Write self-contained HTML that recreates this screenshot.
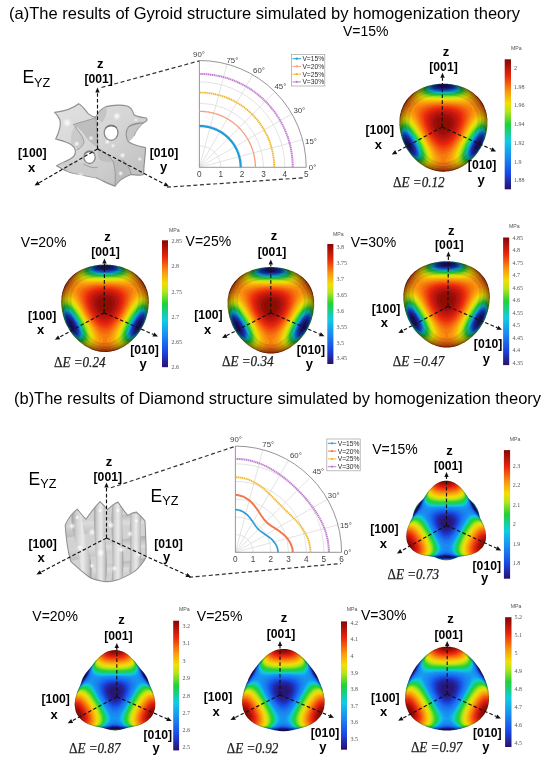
<!DOCTYPE html>
<html><head><meta charset="utf-8"><title>Gyroid and Diamond homogenization results</title>
<style>html,body{margin:0;padding:0;background:#fff}svg{display:block}</style>
</head><body>
<svg width="550" height="763" viewBox="0 0 550 763" font-family="'Liberation Sans', Arial, sans-serif">
<defs><linearGradient id="jetg" x1="0" y1="0" x2="0" y2="1"><stop offset="0.0000" stop-color="#850505"/><stop offset="0.1300" stop-color="#eb260d"/><stop offset="0.2500" stop-color="#fa990d"/><stop offset="0.3400" stop-color="#f2de05"/><stop offset="0.4000" stop-color="#b8e61a"/><stop offset="0.5000" stop-color="#1fd138"/><stop offset="0.6300" stop-color="#0fcce6"/><stop offset="0.7500" stop-color="#1a8cf2"/><stop offset="0.8800" stop-color="#1a47e6"/><stop offset="1.0000" stop-color="#290f6b"/></linearGradient>
<clipPath id="c0"><path transform="translate(393.125,77.125) scale(0.25)" d="M183,26l-1,1-8,0-1,1-12,1-1,1-4,0-1,1-15,3-20,7-7,4-2,0-27,16-10,8-14,14-8,10-10,16-11,27 0,3-3,9 0,4-1,1 0,6-1,1-1,33 1,1 0,10 1,1 0,6 1,1 1,10 1,1 2,11 2,4 0,3 7,19 13,26 21,29 22,22 10,8 20,13 14,7 19,7 3,0 9,3 11,1 1,1 22,1 1-1 18-1 1-1 13-2 20-7 20-10 11-7 19-15 16-16 10-12 17-26 8-16 0-2 8-19 0-3 2-4 0-3 2-4 0-4 2-5 0-5 2-7 0-7 1-1 0-37-1-1-1-12-1-1 0-4-3-8 0-3-6-14 0-2-6-12-7-11-13-16-22-19-14-9-18-9-26-9-17-3-1-1-4,0-1-1-16-1-1-1z"/></clipPath><filter id="fb0" x="-10%" y="-10%" width="120%" height="120%"><feGaussianBlur stdDeviation="0.75"/></filter>
<clipPath id="c1"><path transform="translate(54.125,258.125) scale(0.25)" d="M180,26l-1,1-7,0-1,1-11,1-5,2-12,2-28,10-14,7-16,10-10,8-15,15-14,20-6,12-7,20-2,13-1,1-1,19-1,1 1,26 1,1 0,7 1,1 1,11 1,1 3,15 2,4 0,3 7,19 7,15 2,2 6,12 11,16 9,11 20,20 24,18 27,14 15,5 3,0 9,3 5,0 1,1 30,1 1-1 8,0 1-1 5,0 1-1 11-2 15-5 22-11 18-12 11-9 20-20 9-11 11-16 6-12 2-2 7-15 7-19 0-3 2-4 0-3 4-13 0-5 2-7 0-7 1-1 0-12 1-1-1-26-1-1 0-6-1-1-1-9-4-14-2-3-2-7-9-17-11-15-15-15-19-14-21-11-2,0-8-4-18-6-12-2-5-2-5,0-7-2-7,0-1-1-12,0-1-1z"/></clipPath><filter id="fb1" x="-10%" y="-10%" width="120%" height="120%"><feGaussianBlur stdDeviation="0.75"/></filter>
<clipPath id="c2"><path transform="translate(221.125,260.125) scale(0.25)" d="M174,28l-1,1-13,1-1,1-4,0-1,1-4,0-1,1-11,2-4,2-3,0-9,3-17,8-2,0-16,9-14,10-19,19-11,16-7,14-5,14-3,17-1,1 0,7-1,1 0,34 1,1 0,8 1,1 1,11 1,1 0,4 1,1 2,11 11,31 9,18 13,20 13,16 17,17 12,10 16,11 21,11 2,0 8,4 14,4 9,1 1,1 7,0 1,1 24,0 1-1 7,0 1-1 9-1 19-6 19-9 10-6 26-20 14-14 17-21 9-14 9-17 0-2 4-7 8-23 0-3 4-13 0-4 1-1 1-12 1-1 0-8 1-1 0-30-1-1 0-7-1-1 0-5-1-1-2-12-7-19-7-13-10-14-17-17-20-14-20-10-10-3-3-2-25-7-9-1-1-1-13-1-1-1-10,0-1-1-28,0-1,1z"/></clipPath><filter id="fb2" x="-10%" y="-10%" width="120%" height="120%"><feGaussianBlur stdDeviation="0.75"/></filter>
<clipPath id="c3"><path transform="translate(397.125,254.125) scale(0.25)" d="M182,28l-1,1-9,0-1,1-7,0-1,1-15,2-1,1-11,2-28,10-18,9-20,14-16,16-12,17-7,14-6,18-1,8-1,1 0,5-1,1 0,7-1,1 0,30 1,1 0,8 1,1 0,6 1,1 0,5 3,10 0,4 2,4 0,3 2,4 2,9 2,3 4,12 13,25 14,20 13,15 27,24 20,13 14,7 2,0 14,6 3,0 9,3 4,0 1,1 7,0 1,1 26,0 1-1 6,0 1-1 9-1 16-5 25-12 15-10 16-13 17-17 13-16 13-20 9-18 11-31 0-3 3-9 0-4 1-1 0-4 1-1 1-14 1-1 0-13 1-1-1-24-1-1-1-11-6-21-7-15-6-10-18-21-12-10-12-8-15-8-2,0-15-7-28-8-15-2-1-1-6,0-1-1-10,0-1-1z"/></clipPath><filter id="fb3" x="-10%" y="-10%" width="120%" height="120%"><feGaussianBlur stdDeviation="0.75"/></filter>
<clipPath id="c4"><path transform="translate(399.125,474.125) scale(0.25)" d="M181,26l-1,1-5,0-13,4-12,6-11,8-17,17-8,10-18,27-17,16-9,11-10,19-5,18-1,8-12,23 0,2-7,15-5,18-2,22 1,1 0,9 1,1 1,8 3,6 0,2 6,11 15,16 14,9 14,6 18,5 40,6 20,9 3,0 8,3 5,0 1,1 20,0 1-1 5,0 14-4 21-9 11-1 1-1 7,0 1-1 11-1 1-1 4,0 1-1 11-2 14-6 2,0 14-8 17-16 9-16 4-14 1-20-1-1-1-13-7-23-16-32-4-19-4-12-11-19-5-6-19-18-21-31-11-13-12-11-15-10-15-6-4,0-6-2z"/></clipPath><filter id="fb4" x="-10%" y="-10%" width="120%" height="120%"><feGaussianBlur stdDeviation="0.75"/></filter>
<clipPath id="c5"><path transform="translate(68.125,643.125) scale(0.25)" d="M185,27l-1,1-9,0-1,1-4,0-4,2-6,1-11,5-19,13-20,20-21,28-19,22-8,12-5,10-8,24-13,29-8,28-1,14-1,1 0,12 1,1 0,8 1,1 1,8 3,9 5,10 7,10 12,12 15,10 15,7 23,7 4,0 1,1 13,2 1,1 5,0 34,10 14,1 1,1 11,0 1-1 14-1 34-10 5,0 1-1 9-1 1-1 19-4 17-6 21-12 16-15 7-10 5-10 5-18 1-21-1-1 0-8-1-1-1-10-7-23-13-29-8-24-5-10-8-12-15-17-25-33-25-24-14-9-11-5-6-1-4-2-4,0-1-1z"/></clipPath><filter id="fb5" x="-10%" y="-10%" width="120%" height="120%"><feGaussianBlur stdDeviation="0.75"/></filter>
<clipPath id="c6"><path transform="translate(235.125,643.125) scale(0.25)" d="M182,23l-1,1-10,1-15,5-20,11-13,10-22,22-32,41-8,13-9,18 0,2-9,20-9,26 0,3-3,9 0,4-1,1-1,13-1,1 0,22 1,1 0,6 1,1 2,12 10,22 8,11 11,11 15,11 25,12 34,10 4,0 9,3 4,0 5,2 15,2 1,1 8,0 1,1 22,0 1-1 8,0 1-1 5,0 1-1 9-1 5-2 4,0 5-2 4,0 38-11 20-9 19-13 16-17 6-9 6-13 4-13 1-11 1-1 0-25-1-1 0-6-1-1-1-10-4-12 0-3-4-12-2-3-1-5-9-20 0-2-4-7 0-2-8-15-10-15-27-34-14-15-15-13-15-10-12-6-11-4-3,0-5-2-5,0-1-1z"/></clipPath><filter id="fb6" x="-10%" y="-10%" width="120%" height="120%"><feGaussianBlur stdDeviation="0.75"/></filter>
<clipPath id="c7"><path transform="translate(398.125,640.125) scale(0.25)" d="M191,25l-1,1-15,1-1,1-11,2-11,5-2,0-15,8-22,16-23,23-17,21-12,18-14,27-12,33 0,3-3,8-2,14-1,1 0,7-1,1 0,31 1,1 0,6 1,1 0,4 3,8 0,3 10,22 10,14 15,15 17,12 15,8 2,0 15,7 32,9 4,0 1,1 4,0 6,2 6,0 1,1 8,0 1,1 32,0 1-1 14-1 1-1 5,0 10-3 4,0 30-9 26-12 14-9 11-9 15-17 6-9 8-17 5-18 0-5 1-1 1-27-1-1-1-16-1-1 0-4-1-1 0-4-1-1-2-11-8-24-3-5-3-9-17-31-22-29-8-9-20-19-23-16-14-7-14-5-13-2-1-1z"/></clipPath><filter id="fb7" x="-10%" y="-10%" width="120%" height="120%"><feGaussianBlur stdDeviation="0.75"/></filter>
<linearGradient id="gy1" x1="0" y1="0" x2="1" y2="1"><stop offset="0" stop-color="#e2e2e2"/><stop offset="0.5" stop-color="#d4d4d4"/><stop offset="1" stop-color="#bcbcbc"/></linearGradient>
<radialGradient id="hl" cx="0.5" cy="0.5" r="0.5"><stop offset="0" stop-color="#fff" stop-opacity="0.95"/><stop offset="1" stop-color="#fff" stop-opacity="0"/></radialGradient>
<linearGradient id="dsh" x1="0" y1="0" x2="1" y2="0"><stop offset="0" stop-color="#9c9c9c"/><stop offset="0.25" stop-color="#d0d0d0"/><stop offset="0.55" stop-color="#ececec"/><stop offset="0.85" stop-color="#c4c4c4"/><stop offset="1" stop-color="#8e8e8e"/></linearGradient>
<linearGradient id="dsv" x1="0" y1="0" x2="0" y2="1"><stop offset="0" stop-color="#a0a0a0"/><stop offset="0.4" stop-color="#dedede"/><stop offset="1" stop-color="#b0b0b0"/></linearGradient></defs>
<rect width="550" height="763" fill="#fff"/>
<text x="9.0" y="19.0" font-size="16.5" textLength="511" lengthAdjust="spacingAndGlyphs">(a)The results of Gyroid structure simulated by homogenization theory</text>
<text x="14.0" y="403.9" font-size="16.5" textLength="527" lengthAdjust="spacingAndGlyphs">(b)The results of Diamond structure simulated by homogenization theory</text>
<text x="343.0" y="36.1" font-size="14.0">V=15%</text>
<text x="20.8" y="246.5" font-size="14.0">V=20%</text>
<text x="185.6" y="246.3" font-size="14.0">V=25%</text>
<text x="350.7" y="246.8" font-size="14.0">V=30%</text>
<text x="372.2" y="453.8" font-size="14.0">V=15%</text>
<text x="32.3" y="620.8" font-size="14.0">V=20%</text>
<text x="196.8" y="620.8" font-size="14.0">V=25%</text>
<text x="361.0" y="620.4" font-size="14.0">V=30%</text>
<text x="22.4" y="83.0" font-size="17.5">E<tspan font-size="12.6" dy="3.6">YZ</tspan></text>
<text x="28.6" y="484.7" font-size="17.5">E<tspan font-size="12.6" dy="3.6">YZ</tspan></text>
<text x="150.6" y="501.8" font-size="17.5">E<tspan font-size="12.6" dy="3.6">YZ</tspan></text>
<rect x="504.7" y="59.3" width="6.3" height="130.0" fill="url(#jetg)"/>
<text x="511.0" y="50.2" font-size="5.2" fill="#555">MPa</text>
<text x="514.0" y="70.3" font-size="6.0" font-family="'Liberation Serif', 'Times New Roman', serif" fill="#555">2</text>
<text x="514.0" y="89.2" font-size="6.0" font-family="'Liberation Serif', 'Times New Roman', serif" fill="#555">1.98</text>
<text x="514.0" y="107.4" font-size="6.0" font-family="'Liberation Serif', 'Times New Roman', serif" fill="#555">1.96</text>
<text x="514.0" y="126.3" font-size="6.0" font-family="'Liberation Serif', 'Times New Roman', serif" fill="#555">1.94</text>
<text x="514.0" y="145.1" font-size="6.0" font-family="'Liberation Serif', 'Times New Roman', serif" fill="#555">1.92</text>
<text x="514.0" y="163.6" font-size="6.0" font-family="'Liberation Serif', 'Times New Roman', serif" fill="#555">1.9</text>
<text x="514.0" y="182.0" font-size="6.0" font-family="'Liberation Serif', 'Times New Roman', serif" fill="#555">1.88</text>
<rect x="162.0" y="240.3" width="6.0" height="126.9" fill="url(#jetg)"/>
<text x="169.0" y="231.6" font-size="5.2" fill="#555">MPa</text>
<text x="171.6" y="243.0" font-size="6.0" font-family="'Liberation Serif', 'Times New Roman', serif" fill="#555">2.85</text>
<text x="171.6" y="268.0" font-size="6.0" font-family="'Liberation Serif', 'Times New Roman', serif" fill="#555">2.8</text>
<text x="171.6" y="294.0" font-size="6.0" font-family="'Liberation Serif', 'Times New Roman', serif" fill="#555">2.75</text>
<text x="171.6" y="319.0" font-size="6.0" font-family="'Liberation Serif', 'Times New Roman', serif" fill="#555">2.7</text>
<text x="171.6" y="344.0" font-size="6.0" font-family="'Liberation Serif', 'Times New Roman', serif" fill="#555">2.65</text>
<text x="171.6" y="369.4" font-size="6.0" font-family="'Liberation Serif', 'Times New Roman', serif" fill="#555">2.6</text>
<rect x="327.3" y="244.0" width="6.1" height="120.0" fill="url(#jetg)"/>
<text x="333.0" y="236.0" font-size="5.2" fill="#555">MPa</text>
<text x="336.5" y="249.2" font-size="6.0" font-family="'Liberation Serif', 'Times New Roman', serif" fill="#555">3.8</text>
<text x="336.5" y="265.4" font-size="6.0" font-family="'Liberation Serif', 'Times New Roman', serif" fill="#555">3.75</text>
<text x="336.5" y="281.3" font-size="6.0" font-family="'Liberation Serif', 'Times New Roman', serif" fill="#555">3.7</text>
<text x="336.5" y="297.0" font-size="6.0" font-family="'Liberation Serif', 'Times New Roman', serif" fill="#555">3.65</text>
<text x="336.5" y="313.0" font-size="6.0" font-family="'Liberation Serif', 'Times New Roman', serif" fill="#555">3.6</text>
<text x="336.5" y="328.8" font-size="6.0" font-family="'Liberation Serif', 'Times New Roman', serif" fill="#555">3.55</text>
<text x="336.5" y="344.5" font-size="6.0" font-family="'Liberation Serif', 'Times New Roman', serif" fill="#555">3.5</text>
<text x="336.5" y="360.2" font-size="6.0" font-family="'Liberation Serif', 'Times New Roman', serif" fill="#555">3.45</text>
<rect x="503.1" y="237.5" width="6.1" height="127.6" fill="url(#jetg)"/>
<text x="509.0" y="228.3" font-size="5.2" fill="#555">MPa</text>
<text x="512.5" y="239.5" font-size="6.0" font-family="'Liberation Serif', 'Times New Roman', serif" fill="#555">4.85</text>
<text x="512.5" y="251.9" font-size="6.0" font-family="'Liberation Serif', 'Times New Roman', serif" fill="#555">4.8</text>
<text x="512.5" y="264.5" font-size="6.0" font-family="'Liberation Serif', 'Times New Roman', serif" fill="#555">4.75</text>
<text x="512.5" y="277.0" font-size="6.0" font-family="'Liberation Serif', 'Times New Roman', serif" fill="#555">4.7</text>
<text x="512.5" y="289.6" font-size="6.0" font-family="'Liberation Serif', 'Times New Roman', serif" fill="#555">4.65</text>
<text x="512.5" y="302.0" font-size="6.0" font-family="'Liberation Serif', 'Times New Roman', serif" fill="#555">4.6</text>
<text x="512.5" y="314.7" font-size="6.0" font-family="'Liberation Serif', 'Times New Roman', serif" fill="#555">4.55</text>
<text x="512.5" y="327.2" font-size="6.0" font-family="'Liberation Serif', 'Times New Roman', serif" fill="#555">4.5</text>
<text x="512.5" y="339.8" font-size="6.0" font-family="'Liberation Serif', 'Times New Roman', serif" fill="#555">4.45</text>
<text x="512.5" y="352.3" font-size="6.0" font-family="'Liberation Serif', 'Times New Roman', serif" fill="#555">4.4</text>
<text x="512.5" y="365.0" font-size="6.0" font-family="'Liberation Serif', 'Times New Roman', serif" fill="#555">4.35</text>
<rect x="503.9" y="450.1" width="6.2" height="128.6" fill="url(#jetg)"/>
<text x="509.7" y="440.8" font-size="5.2" fill="#555">MPa</text>
<text x="512.8" y="467.7" font-size="6.0" font-family="'Liberation Serif', 'Times New Roman', serif" fill="#555">2.3</text>
<text x="512.8" y="487.3" font-size="6.0" font-family="'Liberation Serif', 'Times New Roman', serif" fill="#555">2.2</text>
<text x="512.8" y="506.7" font-size="6.0" font-family="'Liberation Serif', 'Times New Roman', serif" fill="#555">2.1</text>
<text x="512.8" y="526.0" font-size="6.0" font-family="'Liberation Serif', 'Times New Roman', serif" fill="#555">2</text>
<text x="512.8" y="545.7" font-size="6.0" font-family="'Liberation Serif', 'Times New Roman', serif" fill="#555">1.9</text>
<text x="512.8" y="565.3" font-size="6.0" font-family="'Liberation Serif', 'Times New Roman', serif" fill="#555">1.8</text>
<rect x="173.2" y="620.7" width="5.9" height="129.7" fill="url(#jetg)"/>
<text x="179.0" y="611.4" font-size="5.2" fill="#555">MPa</text>
<text x="182.4" y="628.3" font-size="6.0" font-family="'Liberation Serif', 'Times New Roman', serif" fill="#555">3.2</text>
<text x="182.4" y="645.4" font-size="6.0" font-family="'Liberation Serif', 'Times New Roman', serif" fill="#555">3.1</text>
<text x="182.4" y="663.0" font-size="6.0" font-family="'Liberation Serif', 'Times New Roman', serif" fill="#555">3</text>
<text x="182.4" y="680.0" font-size="6.0" font-family="'Liberation Serif', 'Times New Roman', serif" fill="#555">2.9</text>
<text x="182.4" y="697.6" font-size="6.0" font-family="'Liberation Serif', 'Times New Roman', serif" fill="#555">2.8</text>
<text x="182.4" y="714.7" font-size="6.0" font-family="'Liberation Serif', 'Times New Roman', serif" fill="#555">2.7</text>
<text x="182.4" y="732.0" font-size="6.0" font-family="'Liberation Serif', 'Times New Roman', serif" fill="#555">2.6</text>
<text x="182.4" y="749.2" font-size="6.0" font-family="'Liberation Serif', 'Times New Roman', serif" fill="#555">2.5</text>
<rect x="341.0" y="621.4" width="6.0" height="128.3" fill="url(#jetg)"/>
<text x="346.8" y="611.4" font-size="5.2" fill="#555">MPa</text>
<text x="350.6" y="624.5" font-size="6.0" font-family="'Liberation Serif', 'Times New Roman', serif" fill="#555">4.2</text>
<text x="350.6" y="641.1" font-size="6.0" font-family="'Liberation Serif', 'Times New Roman', serif" fill="#555">4.1</text>
<text x="350.6" y="658.0" font-size="6.0" font-family="'Liberation Serif', 'Times New Roman', serif" fill="#555">4</text>
<text x="350.6" y="674.7" font-size="6.0" font-family="'Liberation Serif', 'Times New Roman', serif" fill="#555">3.9</text>
<text x="350.6" y="691.4" font-size="6.0" font-family="'Liberation Serif', 'Times New Roman', serif" fill="#555">3.8</text>
<text x="350.6" y="707.9" font-size="6.0" font-family="'Liberation Serif', 'Times New Roman', serif" fill="#555">3.7</text>
<text x="350.6" y="724.4" font-size="6.0" font-family="'Liberation Serif', 'Times New Roman', serif" fill="#555">3.6</text>
<text x="350.6" y="740.6" font-size="6.0" font-family="'Liberation Serif', 'Times New Roman', serif" fill="#555">3.5</text>
<rect x="505.1" y="617.2" width="6.4" height="129.8" fill="url(#jetg)"/>
<text x="510.8" y="608.1" font-size="5.2" fill="#555">MPa</text>
<text x="514.6" y="619.2" font-size="6.0" font-family="'Liberation Serif', 'Times New Roman', serif" fill="#555">5.2</text>
<text x="514.6" y="637.3" font-size="6.0" font-family="'Liberation Serif', 'Times New Roman', serif" fill="#555">5.1</text>
<text x="514.6" y="655.0" font-size="6.0" font-family="'Liberation Serif', 'Times New Roman', serif" fill="#555">5</text>
<text x="514.6" y="672.5" font-size="6.0" font-family="'Liberation Serif', 'Times New Roman', serif" fill="#555">4.9</text>
<text x="514.6" y="690.6" font-size="6.0" font-family="'Liberation Serif', 'Times New Roman', serif" fill="#555">4.8</text>
<text x="514.6" y="708.7" font-size="6.0" font-family="'Liberation Serif', 'Times New Roman', serif" fill="#555">4.7</text>
<text x="514.6" y="726.8" font-size="6.0" font-family="'Liberation Serif', 'Times New Roman', serif" fill="#555">4.6</text>
<text x="514.6" y="744.5" font-size="6.0" font-family="'Liberation Serif', 'Times New Roman', serif" fill="#555">4.5</text>
<g clip-path="url(#c0)"><g filter="url(#fb0)"><g transform="translate(393.125,77.125) scale(0.25)"><path d="M183,14l-22,3-21,5-15,5-20,9-21,13-10,8-26,26-18,26-11,27-5,24-1,33 4,29 5,19 7,19 13,26 21,29 34,34 17,13 13,8 14,7 19,7 24,5 22,1 33-5 20-7 20-10 30-22 34-35 21-31 8-16 8-21 6-23 3-20 0-37-3-18-5-17-13-27-17-22-18-18-16-13-14-9-18-9-26-9-23-5-17-2z" fill="#271476"/><path d="M183,14l-22,3-21,5-15,5-20,9-21,13-10,8-26,26-18,26-11,27-5,24-1,33 4,29 5,19 7,19 13,26 21,29 34,34 17,13 13,8 14,7 19,7 24,5 22,1 33-5 20-7 20-10 30-22 34-35 21-31 8-16 8-21 6-23 3-20 0-37-3-18-5-17-13-27-17-22-18-18-16-13-14-9-18-9-26-9-23-5-17-2zM347,256l2,2 0,6-5,12-9,10-4,1-2-2 0-7 3-8 10-13zM55,256l4,0 10,11 5,13 0,4-2,3-3,0-3-2-9-12-3-8zM184,36l3-3 6-2 16,0 5,1 4,3-2,4-6,2-17,0-6-2z" fill="#251e8b"/><path d="M183,14l-22,3-21,5-15,5-20,9-21,13-10,8-26,26-18,26-11,27-5,24-1,33 4,29 5,19 7,19 13,26 21,29 34,34 17,13 13,8 14,7 19,7 24,5 22,1 33-5 20-7 20-10 30-22 34-35 21-31 8-16 8-21 6-23 3-20 0-37-3-18-5-17-13-27-17-22-18-18-16-13-14-9-18-9-26-9-23-5-17-2zM350,249l3,6-1,7-7,16-11,13-7,2-3-4 0-5 2-8 6-12 11-13zM53,249l3,0 5,3 12,16 5,13 0,9-3,3-5-1-9-9-4-6-7-18 0-6zM177,36l3-3 5-2 20-2 16,3 4,3 0,3-10,5-20,1-14-3z" fill="#2228a0"/><path d="M183,14l-22,3-21,5-15,5-20,9-21,13-10,8-26,26-18,26-11,27-5,24-1,33 4,29 5,19 7,19 13,26 21,29 34,34 17,13 13,8 14,7 19,7 24,5 22,1 33-5 20-7 20-10 30-22 34-35 21-31 8-16 8-21 6-23 3-20 0-37-3-18-5-17-13-27-17-22-18-18-16-13-14-9-18-9-26-9-23-5-17-2zM352,244l3,4 0,9-3,10-6,12-15,17-5,2-3-1-2-3 0-11 8-19 6-9 9-9 4-2zM51,244l4,0 5,3 13,16 6,12 3,10 0,8-4,5-8-3-7-7-7-10-5-10-4-15 1-6zM172,36l3-3 7-3 23-2 21,4 5,4 0,2-4,4-5,2-12,2-18,0-14-3-6-4z" fill="#2031b5"/><path d="M183,14l-22,3-21,5-15,5-20,9-21,13-10,8-26,26-18,26-11,27-5,24-1,33 4,29 5,19 7,19 13,26 21,29 34,34 17,13 13,8 14,7 19,7 24,5 22,1 33-5 20-7 20-10 30-22 34-35 21-31 8-16 8-21 6-23 3-20 0-37-3-18-5-17-13-27-17-22-18-18-16-13-14-9-18-9-26-9-23-5-17-2zM352,239l5,5 0,11-3,10-8,16-10,13-7,6-6,2-5-4-1-3 1-11 3-9 7-14 7-10 9-9zM50,239l7,2 9,8 13,20 6,17 0,11-5,5-9-4-8-8-7-10-7-14-3-10-1-10 1-3zM167,37l4-4 11-4 33-1 10,2 7,3 3,3 0,4-8,5-9,2-26,1-19-4-6-5z" fill="#1d3bcb"/><path d="M183,14l-22,3-21,5-15,5-20,9-21,13-10,8-26,26-18,26-11,27-5,24-1,33 4,29 5,19 7,19 13,26 21,29 34,34 17,13 13,8 14,7 19,7 24,5 22,1 33-5 20-7 20-10 30-22 34-35 21-31 8-16 8-21 6-23 3-20 0-37-3-18-5-17-13-27-17-22-18-18-16-13-14-9-18-9-26-9-23-5-17-2zM356,236l3,5 0,10-4,14-8,16-7,10-11,11-6,3-4,0-4-4-1-9 5-18 6-12 7-11 10-11 9-5zM47,236l5-1 6,3 11,11 8,12 7,14 4,13 0,12-3,4-6,1-8-5-6-6-10-14-7-14-4-13-1-9zM163,40l0-3 8-6 20-4 20,0 14,2 9,3 6,6-5,6-4,2-23,4-29-2-10-3z" fill="#1a45e0"/><path d="M183,14l-22,3-21,5-15,5-20,9-21,13-10,8-26,26-18,26-11,27-5,24-1,33 4,29 5,19 7,19 13,26 21,29 34,34 17,13 13,8 14,7 19,7 24,5 22,1 33-5 20-7 20-10 30-22 34-35 21-31 8-16 8-21 6-23 3-20 0-37-3-18-5-17-13-27-17-22-18-18-16-13-14-9-18-9-26-9-23-5-17-2zM354,231l6,5 1,3-1,13-5,15-9,17-8,11-12,11-4,2-5,0-4-3-2-9 2-11 6-16 15-24 9-9 6-4zM46,232l3-1 4,1 8,5 10,11 9,14 7,15 4,14 0,11-5,6-5,0-6-3-12-12-10-15-7-15-4-14 0-11zM159,38l5-5 15-5 38-1 15,3 7,3 4,4 0,4-8,6-11,3-39,1-15-3-6-3-5-5z" fill="#1a50e7"/><path d="M183,14l-22,3-21,5-15,5-20,9-21,13-10,8-26,26-18,26-11,27-5,24-1,33 4,29 5,19 7,19 13,26 21,29 34,34 17,13 13,8 14,7 19,7 24,5 22,1 33-5 20-7 20-10 30-22 34-35 21-31 8-16 8-21 6-23 3-20 0-37-3-18-5-17-13-27-17-22-18-18-16-13-14-9-18-9-26-9-23-5-17-2zM357,230l3,3 2,6-1,11-4,13-7,15-10,15-9,10-5,4-7,3-6-2-3-6 0-9 4-15 8-17 9-14 11-12 8-5zM46,230l7,0 5,3 12,12 10,15 7,14 5,15 1,11-2,6-3,3-4,1-10-5-13-14-10-16-5-11-5-17 0-10 1-3zM157,39l5-6 7-3 15-3 24-1 17,2 11,3 8,5 1,5-9,7-12,3-38,1-19-4-6-3z" fill="#1a5be9"/><path d="M183,14l-22,3-21,5-15,5-20,9-21,13-10,8-26,26-18,26-11,27-5,24-1,33 4,29 5,19 7,19 13,26 21,29 34,34 17,13 13,8 14,7 19,7 24,5 22,1 33-5 20-7 20-10 30-22 34-35 21-31 8-16 8-21 6-23 3-20 0-37-3-18-5-17-13-27-17-22-18-18-16-13-14-9-18-9-26-9-23-5-17-2zM357,228l5,6 0,14-10,27-13,20-12,12-7,4-6,0-5-6 0-14 5-16 9-18 16-21 9-7zM44,229l8-1 7,4 14,15 10,16 6,13 5,17 0,10-4,7-7,1-10-6-11-12-8-12-10-21-4-16 1-11zM156,38l5-5 10-4 20-3 20,0 16,2 11,3 9,7 0,3-3,4-5,3-15,4-38,1-20-4-6-3-4-4z" fill="#1a66eb"/><path d="M183,14l-22,3-21,5-15,5-20,9-21,13-10,8-26,26-18,26-11,27-5,24-1,33 4,29 5,19 7,19 13,26 21,29 34,34 17,13 13,8 14,7 19,7 24,5 22,1 33-5 20-7 20-10 30-22 34-35 21-31 8-16 8-21 6-23 3-20 0-37-3-18-5-17-13-27-17-22-18-18-16-13-14-9-18-9-26-9-23-5-17-2zM359,227l4,7 0,11-6,20-8,16-12,17-10,10-10,5-5-1-3-3-2-5 0-9 5-18 7-15 10-16 15-16 7-4zM45,226l6,0 9,5 12,13 11,17 8,17 4,14 0,14-5,6-4,1-9-4-13-13-11-16-9-19-4-14-1-8 1-7zM154,38l7-6 13-4 15-2 25,0 25,5 6,3 3,3 1,4-5,6-14,5-14,2-29,0-24-5-9-7z" fill="#1a71ed"/><path d="M183,14l-22,3-21,5-15,5-20,9-21,13-10,8-26,26-18,26-11,27-5,24-1,33 4,29 5,19 7,19 13,26 21,29 34,34 17,13 13,8 14,7 19,7 24,5 22,1 33-5 20-7 20-10 30-22 34-35 21-31 8-16 8-21 6-23 3-20 0-37-3-18-5-17-13-27-17-22-18-18-16-13-14-9-18-9-26-9-23-5-17-2zM359,225l4,5 1,11-4,17-9,20-12,18-10,11-9,6-8,1-5-5-1-3 0-12 3-12 10-22 11-17 12-13 10-6zM46,224l7,1 11,8 18,24 10,21 5,18 0,9-2,5-3,3-7,1-9-5-14-15-11-17-8-18-4-15 0-12 1-3zM152,39l6-6 15-5 13-2 30,0 24,5 6,3 4,4 1,3-8,8-13,4-15,2-27,0-26-5-9-6z" fill="#1a7cef"/><path d="M183,14l-22,3-21,5-15,5-20,9-21,13-10,8-26,26-18,26-11,27-5,24-1,33 4,29 5,19 7,19 13,26 21,29 34,34 17,13 13,8 14,7 19,7 24,5 22,1 33-5 20-7 20-10 30-22 34-35 21-31 8-16 8-21 6-23 3-20 0-37-3-18-5-17-13-27-17-22-18-18-16-13-14-9-18-9-26-9-23-5-17-2zM359,223l5,6 0,16-6,19-9,18-11,16-13,13-7,4-8,0-4-4-2-7 1-11 6-19 9-18 11-16 9-10 8-6 6-2zM42,224l7-2 10,5 11,11 12,17 10,20 5,15 1,17-4,7-9,1-11-7-11-12-10-15-10-21-5-19 0-9zM150,40l5-6 12-5 18-3 33,0 13,2 13,4 7,5 1,6-5,5-17,6-17,2-24,0-16-2-14-4-8-6z" fill="#1a87f1"/><path d="M183,14l-22,3-21,5-15,5-20,9-21,13-10,8-26,26-18,26-11,27-5,24-1,33 4,29 5,19 7,19 13,26 21,29 34,34 17,13 13,8 14,7 19,7 24,5 22,1 33-5 20-7 20-10 30-22 34-35 21-31 8-16 8-21 6-23 3-20 0-37-3-18-5-17-13-27-17-22-18-18-16-13-14-9-18-9-19-7-30-7-17-2-16,0 0,12 17,0 23,5 6,3 4,4 1,5-2,3-10,6-7,2-24,3-20,0-27-4-8-3-7-6 0-5 5-5 16-6 13-2 16,0 0-12zM359,221l5,5 1,3 0,12-4,16-10,22-12,18-12,13-7,5-6,2-5-1-4-4-2-5 0-10 6-21 6-13 13-21 16-17 7-4zM42,222l9-1 10,6 12,13 13,20 8,17 5,16 1,8-2,11-4,4-6,1-10-5-13-13-14-21-9-20-4-14-1-9 1-7z" fill="#1992f1"/><path d="M183,14l-22,3-21,5-15,5-20,9-21,13-10,8-26,26-18,26-11,27-5,24-1,33 4,29 5,19 7,19 13,26 21,29 34,34 17,13 13,8 14,7 19,7 24,5 22,1 33-5 20-7 20-10 30-22 34-35 21-31 8-16 8-21 6-23 3-20 0-37-3-18-5-17-13-27-17-22-18-18-16-13-14-9-18-9-19-7-30-7-27-2 0,12 11,0 1-2 1,3 11,1 17,6 6,7-4,7-7,4-10,3-27,3-28-1-16-3-12-5-4-4-1-5 7-7 11-4 16-2 1-2 1,1 11,0 0-12zM359,219l5,5 2,6-1,14-6,19-10,20-12,17-13,13-9,5-8-1-3-3-2-5 0-13 4-15 10-22 13-20 13-14 8-5zM42,220l8-1 8,4 14,14 14,21 11,24 4,16 0,10-2,5-6,5-8-1-10-7-11-12-11-16-11-23-5-19 0-12 2-5z" fill="#179def"/><path d="M183,14l-22,3-21,5-15,5-20,9-21,13-10,8-26,26-18,26-11,27-5,24-1,33 4,29 5,19 7,19 13,26 21,29 34,34 17,13 13,8 14,7 19,7 24,5 22,1 33-5 20-7 20-10 30-22 34-35 21-31 8-16 8-21 6-23 3-20 0-37-3-18-5-17-13-27-17-22-18-18-16-13-14-9-18-9-19-7-30-7-25-2 0,12 9,0 2-4 1,5 6,0 13,3 12,6 3,4 0,4-4,5-10,5-21,4-41,0-18-3-12-5-5-5-1-3 1-3 9-7 13-4 12-1 1-3 2,2 8,0 0-12zM360,218l5,5 1,3 0,14-6,21-9,19-12,18-13,14-12,7-8-1-4-4-2-8 1-12 7-21 8-16 11-17 11-13 13-9 3-1zM42,218l3-1 7,1 8,5 15,16 11,17 11,23 5,18 0,13-2,5-3,3-9,1-9-5-17-18-12-19-9-20-5-21 1-11z" fill="#15a8ed"/><path d="M183,14l-22,3-21,5-15,5-20,9-21,13-10,8-26,26-18,26-11,27-5,24-1,33 4,29 5,19 7,19 13,26 21,29 34,34 17,13 13,8 14,7 19,7 24,5 22,1 33-5 20-7 20-10 30-22 34-35 21-31 8-16 8-21 6-23 3-20 0-37-3-18-5-17-13-27-17-22-18-18-16-13-14-9-18-9-19-7-30-7-23-2 0,12 7,0 3-8 1,9 6,0 13,3 11,5 4,4 1,3-1,4-4,4-11,5-22,4-39,0-19-3-13-5-5-5-1-6 6-6 13-5 9-1 1-2 5,1 1-9 4,8 6,0 0-12zM360,216l6,7 1,13-6,23-11,23-13,19-14,14-9,5-8,0-6-7-1-14 4-16 13-28 15-22 12-12 9-5zM41,217l10-1 11,7 12,13 12,18 11,22 6,20 1,7-1,9-6,8-9,0-12-8-12-13-12-18-10-21-6-21 0-14 2-5z" fill="#13b3eb"/><path d="M140,22l-15,5-20,9-21,13-10,8-26,26-18,26-11,27-4,17-2,17 1,34 3,18 8,28 7,17 10,19 21,29 34,34 17,13 13,8 14,7 19,7 24,5 12,0 1,1 21-1 17-3 19-6 30-15 25-19 28-28 10-12 17-26 8-16 8-21 6-23 3-20 0-37-3-18-5-17-13-27-17-22-18-18-16-13-14-9-31-14-21-6-26-4 0,12 5,0 1-2 1,3 15,3 8,4 4,4 1,6-4,5-16,7-21,3-36,0-20-3-15-6-5-5-1-4 7-8 13-5 9-1 1-3 2,2 3,0 0-12zM359,214l7,6 1,3 0,16-5,18-9,20-15,23-13,14-11,7-7,1-4-2-5-8 0-14 5-18 7-16 11-19 12-16 12-11 8-4zM41,215l8-1 10,5 14,14 18,28 9,20 5,19-1,14-6,7-6,1-13-7-16-17-14-22-8-18-6-23 1-13zM215,14l0,12 5,0 3-11zM179,15l2,9 2,2 5,0 0-12z" fill="#12bee8"/><path d="M140,22l-15,5-20,9-21,13-10,8-26,26-18,26-11,27-4,17-2,17 1,34 3,18 8,28 7,17 10,19 21,29 34,34 17,13 13,8 14,7 19,7 24,5 12,0 1,1 21-1 17-3 19-6 30-15 25-19 28-28 10-12 17-26 8-16 8-21 6-23 3-20 0-37-3-18-5-17-13-27-17-22-18-18-16-13-14-9-31-14-21-6-25-4 0,12 4,0 2-4 1,5 15,3 8,4 6,7-1,5-4,4-13,6-26,4-33,0-22-3-16-6-5-5-1-6 4-5 7-4 13-3 1-2 4,1 1-6 3,5 3,0 0-12zM361,213l6,7 1,15-5,20-12,26-16,23-13,13-12,6-7-1-6-8-1-10 4-19 11-25 15-24 17-18 9-5 4-1zM40,214l7-2 14,7 14,15 15,23 10,21 6,21 0,13-5,9-4,2-5,0-10-5-17-17-14-21-11-24-5-18 0-16zM216,14l0,12 4,0 3-11zM179,15l2,9 2,2 4,0 0-12z" fill="#10c9e6"/><path d="M140,22l-15,5-20,9-21,13-10,8-26,26-18,26-11,27-4,17-2,17 1,34 3,18 8,28 7,17 10,19 21,29 34,34 17,13 13,8 14,7 19,7 24,5 12,0 1,1 21-1 17-3 19-6 30-15 25-19 28-28 10-12 17-26 8-16 8-21 6-23 3-20 0-37-3-18-5-17-13-27-17-22-18-18-16-13-14-9-31-14-21-6-24-4 0,12 3,0 2-4 1,5 9,1 15,6 6,6 0,5-5,6-18,7-24,3-30,0-23-3-17-6-6-6-1-4 2-4 6-5 10-4 7-1 1-3 4,2 1-9 2,6 4,2 0-12zM362,212l6,8 0,17-6,21-7,16-12,20-17,20-13,9-3,1-8-1-5-5-2-6 0-11 5-19 12-26 15-23 15-16 11-6zM39,213l4-2 7,0 14,9 16,19 10,16 13,28 4,15 1,9-1,7-2,5-4,4-8,1-13-7-12-12-16-23-11-23-6-20-1-16zM217,14l0,12 3,0 3-11zM179,15l2,9 2,2 3,0 0-12z" fill="#11cdd1"/><path d="M228,15l0,12 2,0 3-8 1,9 3,0 2-4 1,5 2,0 1-2 1,3 13,4 8,7 1,3-1,4-5,5-7,4-10,3-20,3-43,0-16-2-20-7-7-8 2-7 11-7 9-2 1-2 3,1 1-6 1,3 3,2 0-12-28,6-15,5-20,9-21,13-10,8-26,26-14,19-12,25-8,33-1,33 3,24 4,17 12,33 10,19 10,15 11,14 34,34 17,13 13,8 24,11 33,8 12,0 1,1 21-1 17-3 19-6 30-15 25-19 34-35 21-31 8-16 8-21 6-23 3-20 0-37-4-22-8-23-9-17-10-14-33-33-22-15-18-9-19-7zM362,209l5,5 2,5 0,15-7,25-10,21-13,20-18,19-13,7-5,0-4-2-5-7-1-16 6-21 14-29 15-22 11-12 10-7 6-2zM41,209l3-1 7,1 9,5 17,18 17,27 10,22 4,12 2,12-1,11-7,9-7,1-6-2-11-8-12-13-16-24-9-19-5-15-3-15 0-7 2-8zM170,16l2,9 3,2 0-12zM218,14l0,12 2,0 3-11zM179,15l2,9 3,2 0-12z" fill="#14cdb5"/><path d="M167,16l-27,6-15,5-27,13-24,17-31,32-9,13-8,15-10,31-3,22 0,23 2,18 10,39 7,17 10,19 21,29 34,34 17,13 13,8 14,7 19,7 17,4 20,2 28-2 14-3 20-7 11-5 20-12 19-15 28-28 13-16 10-15 12-23 12-35 5-29-1-44-7-28-10-22-7-11-13-16-18-18-25-19-23-12-13-5-37-9 0,12 2,0 2-4 1,5 2,0 2-4 1,5 2,0 1-2 1,3 13,5 5,5 1,6-7,8-15,6-32,4-26,0-27-3-14-4-7-4-5-6 0-6 9-8 10-3 1-2 3,1 1-3 3,2 1-9 4,8zM363,207l4,4 3,7 0,13-3,14-4,10 1,2-3,3 1,2-2,1-9,18 1,1-3,2-12,19-15,16-13,8-4,1-6-1-7-8-1-18 6-21 13-27 18-27 14-14 11-6zM40,207l10-1 12,7 14,15 16,24 11,22 8,24 1,15-3,9-4,4-5,2-6-1-12-7-17-18-14-21-11-23-7-24 0-17 2-5zM229,15l0,12 1,0 3-11zM174,15l-4,1 2,9 2,2zM219,14l0,12 1,0 3-11zM183,14l-4,1 2,9 2,2z" fill="#16ce99"/><path d="M236,16l0,12 4-8 1,9 1,0 3-8 1,9 2-2 1,3 6,1 8,4 7,7 0,5-2,4-6,5-22,7-18,2-42,0-22-3-17-6-7-6-2-5 1-3 8-8 9-3 1-2 2,1 1-3 3,2 1-6 3,5 0-12-36,10-32,16-19,14-26,26-8,10-14,24-7,19-4,17-2,17 0,23 4,29 5,19 7,19 9,19 9,15 16,21 34,34 10,8 20,13 14,7 19,7 17,4 29,2 33-5 31-12 14-8 18-13 35-34 13-16 10-15 12-23 7-18 5-17 4-21 1-45-3-18-9-27-9-17-10-14-33-33-22-15-31-14zM364,205l4,4 2,5 1,13-5,20 1,2-2,1 1,2-2,1 1,2-3,3 1,2-2,1 1,1-3,3 1,2-2,1 1,1-2,1 1,1-2,1 1,1-2,1 1,1-2,1 1,1-2,1 1,1-3,2 1,1-2,1 1,1-2,1 1,1-3,2 1,1-3,2 1,1-3,2 1,1-3,2 1,1-23,24-12,7-8,0-4-2-3-3-3-7 0-16 7-23 10-21 19-30 16-17 14-7zM39,205l5-2 7,1 14,9 14,16 16,25 12,25 7,25-1,15-7,9-2,1-11-1-13-9-17-19-15-24-9-20-7-26 1-18zM167,16l-4,1 2,9 2,2zM229,15l0,12 1,0 3-11zM183,14l-4,1 2,9 2,2z" fill="#18cf7e"/><path d="M161,17l-36,10-32,16-19,14-26,26-8,10-14,24-7,19-4,17-2,17 0,23 3,24 9,33 7,17 10,19 21,29 34,34 17,13 13,8 14,7 19,7 17,4 20,2 28-2 14-3 20-7 11-5 20-12 19-15 28-28 13-16 10-15 12-23 12-35 5-29 0-37-2-13-4-16-6-16-9-17-10-14-33-33-22-15-31-14-26-7 0,12 3-4 1,5 2,0 1-2 1,3 12,5 6,7 0,6-8,8-12,5-23,4-38,1-1-1-25-1-18-4-7-3-9-8-1-3 2-7 6-5 8-3 1-2 2,1 1-3 2,2 1-6 3,5 1-9 4,8zM365,203l3,3 3,7 0,17-2,6 1,4-2,1-1,3 1,3-2,1 2,2-3,1 1,1-2,1 1,2-2,1 2,2-3,1 1,1-2,1 2,2-3,1 1,1-2,1 1,1-2,1 1,1-2,1 1,1-2,1 1,1-2,1 1,1-2,1 1,1-3,3 3,3-1,1-4-1 1,1-2,1 1,1-4,4 3,3-1,1-4-1 3,3-1,1-4-1 3,3-1,1-4-1-1,1 1,1-4,3 1,1-21,20-12,6-9-1-5-5-3-7 0-17 8-25 13-26 18-27 13-14 14-8 8,0zM39,202l10-1 12,6 18,19 20,32 11,24 6,22 0,13-2,6-5,6-4,2-6,0-8-3-7-5-14-14-7-10-4-2 1-2-2-3-3-1 1-2-4-7-3-1 1-2-6-12-3-1 2-2-2-4-3-1 2-2-5-12-4-19 1-15zM236,16l0,12 1,0 3-11z" fill="#1bd062"/><path d="M44,267l-10,2 8,17 8-6zM41,260l-10,2 1,5 10-4zM373,261l-11-2 1,1-2,1 2,2-3,1 1,1-2,1 1,1-2,1 1,1-2,1 1,1-2,1 1,1-2,1 1,1-2,1 1,1-3,3 8,7zM156,18l-31,9-32,16-19,14-26,26-8,10-14,24-7,19-4,17-2,17 0,23 4,29 5,19 7,19 10-4-3-2 2-2-4-10-3-13 0-18 3-7 6-5 4-1 7,1 11,6 12,12 10,13 13,21 12,24 7,19 2,9 0,16-3,7-5,5-6,2-11-3-12-9-11-12-3-1 1-2-4-2 1-2-4-2 1-2-3-1 1-2-2-3-3-1 1-2-3-1 1-1-1-3-8,3-1,2 19,26 34,34 10,8 20,13 14,7 31,10 12,2 22,1 29-4 19-6 16-7 14-8 18-13 35-34 21-28-1-2-8-3 1,1-2,1 3,3-1,1-4-1 3,3-1,1-4-1 3,3-1,1-4-1 3,3-1,1-4-1 3,3-6,1 3,3-1,1-4-1-3,3 1,1-16,15-12,7-5,1-9-3-5-7-2-8 1-14 9-27 20-37 20-26 8-7 7-4 7-2 6,1 7,6 2,4 1,17-2,7 1,4-2,1 2,3-3,1 1,2-2,1 1,2-2,1 2,2-3,1 2,2-3,1 10,5 10-30 5-29 0-37-3-18-9-27-9-17-10-14-33-33-22-15-23-11-29-9 0,12 2-2 1,3 2,0 1-2 1,3 11,5 5,6 1,4-2,5-8,7-18,6-25,3-42,0-29-4-15-6-8-9 1-7 6-6 7-3 1-2 2,1 1-3 2,2 1-6 3,5 1-6 3,5z" fill="#1dd146"/><path d="M342,299l-2,0 3,3-1,1-2-1-3,1 3,3-6,1 6,6 9-10zM59,294l-9,4 2,3zM348,287l3,3-1,1-4-1 6,6 2,0 3-5zM54,286l-9,4 3,5 2,0 6-5-3-2zM353,278l1,1-2,1 8,7 2-5zM44,267l-10,2 8,17 8-6zM359,266l8,5 2-1 2-4-6-2-5,0 1,1zM41,260l-10,2 0,2 2,1zM362,259l10,5 1-3zM39,255l-10,2 0,3zM365,251l2,2-3,1 2,2 8,3 2-6zM251,19l0,12 3-4 1,5 2-2 1,3 11,4 7,7 1,6-2,4-6,6-14,6-16,3-28,1-1,1-37-1-21-3-15-5-9-7-2-4 0-5 5-7 10-5 1-3 2,2 1-6 3,5-1-11-22,6-20,9-21,13-10,8-31,32-9,13-8,15-10,31-3,22 1,34 6,30 7,21 10-4-3-2 2-2-3-1 2-2-3-1 2-1 0-2-3-1 2-1-3-13 1-18 2-4 6-6 3-1 11,1 11,7 10,10 16,22 20,37 9,25 1,22-5,10-6,4-8,0-9-4-17-15-6,2-1-1 4-5-2-2-5,2-2-1 4-5-5,2-2-1 4-5-9,4 8,10 34,34 17,13 27,15 31,10 12,2 22,1 33-5 31-12 14-8 18-13 37-37-8-4-4,4 3,3-1,1-4-1-14,12-9,4-8,0-4-2-4-4-3-6-1-15 6-23 14-30 10-17 15-21 13-13 13-7 8,0 4,2 4,4 3,6 1,13-2,11 2,2-3,1 2,3-3,1 2,2-3,1 2,3-3,1 2,2 8,3 9-31 3-20 0-37-2-13-4-16-6-16-13-23-13-16-18-18-16-13-14-9-18-9z" fill="#2fd335"/><path d="M331,311l-1,1 7,6 2-3zM70,309l-6,2-2,2 2,3zM335,306l6,6 2-1-2-3zM338,302l6,6 3-2zM59,294l-9,4 2,3zM348,287l6,6 2,0 1-2zM54,286l-9,4 1,2 5-2zM352,280l8,7 1-2-1-2zM50,279l-9,4 1,3 5-3zM44,267l-10,2 0,2 2,1zM360,264l8,5 3-3zM140,22l-29,11-27,16-10,8-26,26-18,26-11,27-4,17-2,17 1,34 6,30 7,21 10-4-3-2 2-2-3-1 2-2-3-1 2-2-5-1 4-2-3-2 2-1 0-2-3-1 2-1-2-10 1-16 3-6 8-6 9,0 12,6 15,15 18,26 17,32 5,12 6,21-1,19-3,6-8,6-8,0-6-2-9-6-13-13-8,4 30,30 10,8 20,13 24,11 26,7 20,2 21-1 21-4 27-10 24-14 19-15 24-24-8-4-16,14-9,4-8,0-9-7-3-7-1-12 5-22 14-31 20-33 10-13 10-10 14-8 12,1 6,6 3,7 0,17 1,1-2,1 1,4-2,2 5,3-6,1 2,2-3,1 5,3-6,1 2,2-3,1 10,5 7-22 5-29 0-37-4-22-4-13-10-22-7-11-13-16-18-18-16-13-14-9-18-9-25-8-1,11 2-2 2,3 1-2 1,3 7,3 7,8-1,9-7,7-8,4-16,4-17,2-25,0-1,1-31-1-27-4-11-4-10-8-2-9 3-5 9-6 1-2 1,1 2-2 2,1 1-3 2,2-1-11z" fill="#4ed72f"/><path d="M75,315l-8,4 3,2zM331,311l6,6 2-2zM70,309l-6,2-2,2 2,3zM335,306l6,6 2-1-2-3zM338,302l6,6 3-2zM59,294l-9,4 2,3zM50,279l-9,4 1,3 5-3zM360,264l8,5 3-3zM37,250l-10,2 0,3zM368,243l2,2-3,1 2,2 8,3 2-7zM24,246l10-5-8,0-3,1zM137,23l-32,13-21,13-10,8-26,26-18,26-11,27-4,17-2,17 1,34 6,30 2,5 10-4 0-1-5-1 4-3-5-1 4-2-2-16 1-7 3-7 9-7 10,0 9,4 17,16 24,36 17,34 8,26-1,19-3,6-5,5-5,2-7,0-8-3-10-8-6,6 16,16 20,15 24,13 19,7 17,4 20,2 21-1 21-4 27-10 24-14 19-15 24-24-8-4-12,12-6,4-9,4-8,0-4-2-6-6-3-7-1-11 3-16 10-26 21-38 20-27 16-13 5-2 11,0 8,6 4,10 0,14 1,1-2,1 0,2 5,3-6,1 2,3-3,1 5,3-6,1 8,4 3-1 5-19 3-20 0-37-4-22-4-13-10-22-7-11-13-16-18-18-16-13-14-9-18-9-18-6-1,11 9,4 5,5 2,4 0,6-5,7-12,7-11,3-23,3-59,0-28-4-13-5-8-7-3-7 2-6 11-10 1,1 1-3 2,2 1-3 2,2 0-8-1-3z" fill="#6edc28"/><path d="M325,318l6,6 2-2zM267,24l-1,3 0,8 2-2 1,3 9,4 6,6 2,7-3,7-4,4-11,6-16,4-17,2-21,0-1,1-45-1-18-2-18-5-7-4-6-6-2-4 1-8 12-11 1,1 1-3 2,2-2-11-21,8-27,16-10,8-26,26-18,26-11,27-4,17-2,17 1,34 5,26 11-3 0-1-5-1 4-2 0-3-3-1 2-1 0-16 3-8 8-7 12-1 9,4 18,17 24,36 18,35 7,19 3,17-3,16-7,8-9,3-8-2-13-9-6,6 13,13 20,15 24,13 19,7 17,4 20,2 21-1 21-4 27-10 18-10 18-13 20-19-6-6-14,11-10,3-6-1-9-8-3-6-1-16 3-14 5-14 19-38 23-35 17-17 12-6 9,0 6,3 4,4 3,7 1,14 2,2-3,1 0,3 5,3-6,1 8,4-9,1 8,4 2,0 2-4 5-29 0-37-6-29-12-28-7-11-13-16-26-25-22-15-18-9z" fill="#8ee022"/><path d="M372,229l8,4 2,0 2-4zM272,25l-3,7 0,4 2-2 1,3 10,5 7,8 1,3-1,5-4,6-8,6-11,4-15,3-25,1-1,1-64-1-16-2-15-4-9-5-5-5-3-6 1-7 13-12 1,1 1-3 2,2-2-11-9,3-15,7-21,13-10,8-26,26-18,26-11,27-4,17-2,17 0,23 5,33 11-3 0-1-9-1 8-3 0-4-3-1 2-1 1-16 3-7 7-6 13-1 6,2 9,6 10,10 18,25 17,29 14,29 8,26 0,15-2,7-3,5-9,7-12-1-8-4-7-6-6,6 11,11 20,15 24,13 19,7 17,4 20,2 28-2 14-3 20-7 11-5 20-12 19-15 10-11-6-5-8,7-7,4-6,2-8,0-4-2-6-6-4-9-1-6 1-13 3-12 9-22 14-27 22-35 6-8 18-17 9-4 11,0 7,4 5,8 1,20 8,4-9,1 2,3 9,2 4-24 0-37-6-29-12-28-7-11-13-16-26-25-22-15z" fill="#aee41b"/><path d="M374,220l8,4 3,0 1-4zM16,217l2,9 11-3 0-1-9-1 8-4zM125,27l-27,13-24,17-26,26-14,19-12,25-7,26-2,17 0,23 3,22 11-3 0-17 4-11 3-3 11-4 8,1 10,5 12,11 11,14 20,32 19,36 6,14 6,22 0,13-2,7-5,8-9,6-6,0-12-5-9-7-6,6 9,9 17,13 13,8 24,11 33,8 12,0 1,1 21-1 17-3 19-6 30-15 18-13 15-14-6-6-3,5-2-1-10,7-9,3-8-1-8-7-3-5-2-6 0-17 6-21 12-26 24-42 17-24 12-12 6-4 12-4 8,1 4,2 6,6 3,11 0,11 8,4-9,1 2,3 9,2 3-18 0-37-3-18-5-17-10-22-7-11-13-16-18-18-25-19-28-14-3,7 0,4 8,4 7,7 2,6-3,7-7,7-7,4-14,4-27,3-69,0-1-1-21-1-14-3-11-5-8-7-3-6 0-5 10-11 3-1 2-3 1,1 1-3 2,2 0-5z" fill="#c6e415"/><path d="M309,334l4,8 2-3zM16,217l1,4 11-3 0-1zM15,210l1,5 11-3 0-2zM93,43l-19,14-26,26-14,19-12,25-7,26-2,17 0,23 2,15 11-3 1-16 6-12 9-4 10,0 12,6 12,11 23,33 31,57 5,12 6,21 0,14-2,7-5,8-6,5-4,2-7-1-10-4-7-5-3,3-1-6-6,6 17,15 20,13 14,7 19,7 17,4 20,2 21-1 17-3 19-6 30-15 27-21-7-6-5,4-13,6-8,1-5-3-8-9-3-8 0-18 4-15 15-33 22-39 18-27 16-17 6-4 8-3 10,0 7,3 6,7 2,8 0,17 2,2 9,2 2-12 0-37-3-18-5-17-13-27-17-22-18-18-16-13-14-9-18-9-3,0-2,10 9,5 7,7 2,4-2,8-10,10-16,6-22,3-68,1-1-1-24,0-17-2-15-4-8-4-8-8-2-5 0-5 10-11 6-3 1-2 1,1 1-2 1,1-2-11z" fill="#dae10d"/><path d="M97,337l-6,6 2,2zM376,208l8,4 3,0 1-4zM118,30l-25,13-19,14-26,26-14,19-12,25-7,26-2,17 0,23 2,15 11-3 0-16 2-9 3-6 8-5 12-1 7,2 8,5 13,13 16,23 26,45 16,32 8,25 0,17-2,6-4,7-9,8-8,0-6-2-12-7-1,1-2-3-6,6 12,11 20,13 14,7 19,7 17,4 20,2 21-1 17-3 19-6 30-15 26-20-7-6-2,4-2-1-12,7-6,2-10-1-8-8-4-7-2-9 0-9 5-20 19-40 26-45 15-22 12-13 7-5 10-4 9,0 8,3 5,5 3,10 1,14 2,2 9,2 1-4 0-37-3-18-5-17-13-27-17-22-26-25-17-12-19-10-2,0-2,10 9,6 8,9 0,5-5,9-11,8-18,5-20,1-1,1-92,0-30-4-12-5-9-8-4-10 2-4 9-9 4-2 2-3 1,1 1-2 1,1z" fill="#efde06"/><path d="M14,204l1,4 11-3 0-1zM289,32l-2,0-2,10 14,9 7,8 0,6-5,9-7,6-12,5-17,3-16,0-1,1-93,0-1-1-24-1-13-3-10-5-7-7-4-9 0-3 2-3 15-14 1,1-5-10-16,9-19,14-31,32-9,13-8,15-7,19-4,17-2,17 1,27 11-3 2-15 4-10 6-4 7-2 8,0 9,3 6,4 18,20 20,32 22,39 15,30 8,25 0,13-3,10-3,5-11,10-9-1-18-9-6,7 17,13 24,13 19,7 17,4 20,2 21-1 17-3 19-6 16-7 20-12 19-15-7-6 2,5-1,2-5-4-1,3-2-1-16,8-4,1-7-1-8-7-6-11-1-21 8-24 13-26 35-61 13-19 11-12 11-7 7-2 12,1 9,6 4,11 1,19 2,2 9,2 1-4 0-37-2-13-6-22-10-22-13-19-25-26-25-19z" fill="#f4d107"/><path d="M109,34l-16,9-19,14-26,26-14,19-12,25-6,21-3,22 1,27 11-3 1-14 5-16 4-3 9-3 10,0 12,5 15,15 12,18 45,79 13,28 4,15 0,12-2,8-6,10-10,9-7-1-9-3-9-5-1,1-1-2-3,3-1-1 1-4-6,6 13,11 13,8 24,11 33,8 22,1 19-2 14-3 27-10 18-10 17-13-7-6-15,8-13,3-12-11-4-7-2-7 0-16 6-19 16-32 42-73 12-17 10-10 14-7 10,0 11,4 5,7 3,13 0,8 12,0-1-34-5-22-6-16-9-17-17-22-26-25-17-12-13-7-4,10 8,5 11,11 1,5-5,10-7,7-8,4-18,4-17,0-1,1-107,0-1-1-17,0-16-3-10-5-9-9-4-10 9-11 11-8z" fill="#f5c108"/><path d="M109,34l-16,9-19,14-26,26-14,19-12,25-6,21-3,22 1,27 11-3 0-12 5-21 4-6 7-2 12-1 11,3 13,11 11,15 57,100 9,18 6,18 0,17-2,6-5,9-9,10-2,1-6-1-12-4-11-6-6,6 0,2 20,13 24,11 33,8 22,1 19-2 14-3 27-10 18-10 13-10-7-6-14,7-16,4-8-8-8-14-2-7 1-16 7-19 64-114 9-13 11-11 7-4 8-2 8,0 11,3 3,3 4,10 2,16 12,0 0-21-2-13-4-16-6-16-9-17-17-22-26-25-26-17-4,10 10,7 10,10 2,4-5,10-9,9-10,5-20,3-43,0-1-1-100,1-19-3-12-6-6-6-6-11 1-4 13-13 6-4 2-3 1,1 1-2 1,1z" fill="#f7b10a"/><path d="M102,38l-18,11-10,8-26,26-14,19-8,15-7,19-5,24-1,26 12,0 0-8 4-19 6-11 11-3 13,0 9,4 11,11 7,10 35,64 32,54 9,18 5,17 0,11-5,13-12,15-11-1-14-5-9-5-1,1-1-2-7,7 20,13 14,7 19,7 24,5 22,1 19-2 14-3 27-10 18-10 13-10-7-6-1,3-2-1-17,8-10,3-8,0-12-16-4-10 0-16 5-15 13-25 27-45 29-54 12-19 10-11 12-6 12,0 12,3 6,13 3,13 0,6 12,0 0-17-2-13-4-16-6-16-9-17-17-22-26-25-22-15-4,10 18,15 4,5 1,5-8,14-6,5-9,4-13,2-55-1-1-1-58,0-1,1-54,1-13-2-11-5-6-6-7-13 3-6 10-10 7-5 3-4 1,1 2-3 1,1-3-8z" fill="#f9a10c"/><path d="M306,41l-2,1-3,8 11,8 12,12 5,7 0,2-9,17-7,6-8,3-25,0-25-3-39-1-1-1-52,1-41,4-28-1-6-3-6-6-6-11-2-7 3-5 16-16 7-5-3-8-2-1-21,15-26,26-18,26-8,18-6,21-3,22 0,11 12,0 0-7 4-18 3-9 5-7 15-4 13,0 9,5 11,15 31,62 23,40 26,41 9,18 2,7-1,15-6,11-12,15-15-2-14-5-7-4-1,1-3-3-6,6 3,4 13,8 14,7 19,7 24,5 22,1 29-4 19-6 16-7 20-12-2-5-4-3-7,4-25,8-8-1-13-18-4-9-1-7 3-14 8-16 39-63 17-31 24-49 7-11 7-7 7-3 13,0 15,4 5,8 3,9 3,19 12,0 0-13-4-22-8-23-9-17-10-14-25-26z" fill="#f98f0d"/><path d="M97,117l-6,3-4,4-1,10 7,24 12,29 16,32 16,28 20,31 31,43 3,7 0,6-4,8-22,26-19-3-20-8-1,1-1-2-5,9 22,12 19,7 17,4 20,2 21-1 21-4 27-10 18-10 1-3-6-6-19,8-23,4-5-8-17-19-3-6 0-8 12-20 29-40 27-45 18-36 12-29 7-26-2-8-9-6-18-5-29-5-34-2-1-1-45,0-1,1-25,1-34,5zM94,43l-20,14-26,26-14,19-8,15-7,19-4,17-2,24 12,0 0-6 4-18 8-20 3-3 13-4 16-9 2-4 0-13-4-13 0-4 12-15 17-16 1,1 1-1zM307,42l-4,9 2-1 1,3 8,6 15,15 7,10-5,20 0,7 2,5 12,8 18,6 7,12 5,16 2,14 12,0-1-16-5-22-6-16-9-17-10-14-25-26-16-13z" fill="#f67b0d"/><path d="M121,364l0,2 6,4 24,11 26,7 20,2 21-1 21-4 27-10 12-7-5-9-11,5-25,6-10,0-3-5-13-9-7-2-6,0-10,4-11,9-1,3-17-1-12-3-15-6-2,1-3-3zM116,120l-7,4-7,7-3,9 0,10 8,29 18,39 20,34 25,34 16,16 6,4 6,2 7,0 7-3 7-5 11-11 13-16 19-28 14-24 16-33 8-22 3-12 0-17-2-5-6-7-16-8-26-6-28-3-59,1-27,4zM89,46l-15,11-26,26-14,19-8,15-7,19-4,17-2,20 12,0 0-4-2-1 3-1 4-20 11-25 5-6 6-4 4-6 1-10 8-13 11-13 17-15zM312,45l-4,9 8,6 20,21 10,16-1,3 4,10 5,5 3,1 4,5 11,24 5,24 12,0-2-19-4-16-6-16-9-17-17-22-26-25z" fill="#f3670d"/><path d="M128,370l13,7 19,7 24,5 22,1 33-5 20-7 18-9-3-5-4-3-23,8-17,3-22,0-4-4-8,1-2,3-21,0-21-4-16-6-2,1-1-2zM13,170l12,0 0-1-11-3zM130,122l-12,7-5,5-5,12 1,19 12,35 21,39 23,32 16,16 12,7 13,1 6-2 12-8 17-18 28-42 13-26 10-27 3-16-2-16-6-9-5-4-12-6-18-5-19-3-53-1-24,3zM318,49l-4,9 19,18 22,31 12,23 5,13 4,18 2,1-1,4 12,0-2-16-4-16-6-16-9-17-17-22-18-18zM86,48l-12,9-26,26-14,19-8,15-7,19-4,17-1,11 12,0 6-25 15-31 20-29 23-22z" fill="#f1530d"/><path d="M132,371l1,2 8,4 19,7 17,4 20,2 21-1 17-3 19-6 17-8-4-9-2,3-2-2-18,6-25,4-46-1-24-5-10-4-2,1-1-2zM143,124l-14,7-10,11-3,9 0,16 9,30 18,35 20,28 15,15 13,8 9,2 11-2 15-9 12-12 11-14 17-27 10-20 8-22 3-15 0-11-2-8-4-7-9-8-15-7-22-5-18-2-31,0-19,2zM321,51l-4,9 21,21 17,24 15,31 6,23 6,1-3,1-2,3 12,0-6-30-6-16-9-17-17-22zM83,50l-9,7-26,26-14,19-12,25-6,21-2,14 12,0 0-3-2-1 3-1 6-22 14-29 20-28 18-19 1,1 1-1z" fill="#ee3f0d"/><path d="M136,373l1,2 23,9 17,4 20,2 21-1 17-3 19-6 10-5-4-9-17,5-17,3-40,1-26-4-12-4-3,1-1-2-2,2-1-3zM150,128l-16,9-6,7-4,9-1,5 1,17 9,28 17,31 21,26 13,10 9,4 13,1 7-2 13-8 14-14 20-29 10-20 6-16 3-13-1-22-4-8-11-10-13-6-16-4-14-2-38,0-14,2zM75,57l-27,26-14,19-12,25-7,28 12,0 5-19 13-28 14-21 20-22zM325,54l-4,9 17,17 19,27 14,30 4,16 3,1-2,3 12,0-7-29-13-27-17-22zM79,53l-1,2 6,6-2-6z" fill="#eb2b0d"/><path d="M145,376l1,3 14,5 17,4 20,2 28-2 14-3 20-7-4-10-25,6-19,2-31-1-18-3-9-3-3,1-1-2zM154,133l-9,5-7,6-6,10-2,9 1,16 10,29 10,18 10,14 18,18 11,6 7,2 9,0 7-2 12-7 15-15 18-27 9-20 5-19-1-21-4-8-11-10-10-5-19-5-18-2-15,0-24,3zM329,58l-4,8 16,17 16,23 11,22 6,20 2,1-1,2 12,0-6-23-13-27-17-22zM75,57l-27,26-14,19-12,25-7,26 12,0-2-2 3-1 5-18 12-25 19-27 15-15z" fill="#df220c"/><path d="M150,378l1,3 26,7 20,2 28-2 14-3 14-5-4-10-31,6-33,0-26-5-3,1-2-2zM163,136l-14,8-7,8-4,9-1,5 1,17 7,21 13,23 6,8 13,13 9,6 8,3 18-1 16-10 13-14 10-15 9-19 5-18 0-17-2-7-6-9-9-7-23-8-16-2-15,0-16,2zM336,65l-6,6 14,15 13,19 11,22 5,16 2,1-1,2 12-1-9-27-9-17-17-22zM70,61l-22,22-14,19-12,25-6,21 12,0-2-2 3-1 6-19 10-20 16-23 13-14z" fill="#ce1d0b"/><path d="M153,379l1,3 23,6 20,2 28-2 22-6-4-10-21,4-29,1-19-2-7-2-4,1-1-2-4,2-1-3zM174,139l-18,9-5,5-5,9-2,13 2,14 3,9 7,15 7,11 18,18 9,5 8,2 6,0 11-3 8-5 10-9 10-13 9-17 6-20 0-14-2-7-3-6-8-8-11-6-9-3-12-2-24,0zM65,67l-17,16-14,19-8,15-7,19 0,3 11,1-2-2 3-1 4-12 9-18 15-22 11-12zM337,65l-4,8 13,15 12,18 10,20 3,10 2,1-1,1 2,2-1,1 11-1-7-22-9-17-10-14z" fill="#be1809"/><path d="M160,381l0,3 12,3 25,3 28-2 19-5-4-10-2,0-1,3-1-2-21,3-28,0-10-2-6,1-1-2-4,2-2-3zM182,144l-13,5-7,5-5,6-4,9-1,8 2,14 3,9 8,15 13,15 7,5 10,4 13,0 14-7 12-12 6-9 6-12 4-14-1-18-4-8-7-7-11-6-18-4-15,0zM60,72l-12,11-14,19-8,15-6,18 11,1-2-2 3-1 11-25 11-17 11-13zM342,70l-6,6 5,4-1,1 5,5 11,16 13,27 2,1-1,1 2,2-1,1 11-1-5-15-9-17-10-14z" fill="#ad1208"/><path d="M168,383l0,3 29,4 21-1 16-3-3-11-3,0-1,3-1-2-42,1-1,1-1-2-5,0-2,2-1-3-2,0zM193,150l-12,3-9,5-5,5-5,11 0,14 3,10 5,10 10,12 11,7 7,2 6,0 10-3 6-4 9-9 11-22 1-15-4-11-8-8-8-4-11-3zM349,78l-6,6 17,24 5,11 2,1-1,1 2,1-1,2 2,1-1,1 2,1-1,1 11-2-12-25-10-14zM56,76l-8,7-14,19-8,15-2,8 10,2 11-23 13-18-1-2 4-2z" fill="#9d0d07"/><path d="M195,380l-2,9 4,1 13-1-3-11-10,0zM212,377l0,12 10-1-3-11zM184,377l-2,2-2,9 10,1 0-12zM197,160l-14,5-6,6-3,6 0,14 5,11 7,8 9,5 7,1 12-4 9-9 5-10 1-14-4-9-7-6-12-4zM354,84l-6,6 6,1-3,3 3,2-1,1 3,2-1,1 1,2 3,2-1,1 2,4 3,2-1,1 2,1-1,1 2,1-1,1 2,1-1,1 11-2-12-21-6-8zM49,82l-15,20-6,13 10,2 6-12 9-13-1-2 3-1z" fill="#8d0806"/><path d="M183,14l-22,3-21,5-15,5-20,9-21,13-10,8-26,26-18,26-11,27-5,24-1,33 4,29 5,19 7,19 13,26 21,29 34,34 17,13 13,8 14,7 19,7 24,5 22,1 33-5 20-7 20-10 30-22 34-35 21-31 8-16 8-21 6-23 3-20 0-37-3-18-5-17-13-27-17-22-18-18-16-13-14-9-18-9-26-9-23-5-17-2zM178,72l27-1 1,1 19,0 16,2 22,5 27,11 16,11 15,16 9,16 6,21 1,24-2,15-5,20-12,30-16,29-19,26-24,23-10,7-14,7-21,6-11,0-1,1-13-1-24-7-13-7-11-8-17-16-16-20-15-24-15-31-6-17-5-21-1-8 1-31 6-19 11-18 19-18 22-12 26-8z" fill="#000" fill-opacity="0.115"/><path d="M183,14l-22,3-21,5-15,5-20,9-21,13-10,8-26,26-18,26-11,27-5,24-1,33 4,29 5,19 7,19 13,26 21,29 34,34 17,13 13,8 14,7 19,7 24,5 22,1 33-5 20-7 20-10 30-22 34-35 21-31 8-16 8-21 6-23 3-20 0-37-3-18-5-17-13-27-17-22-18-18-16-13-14-9-18-9-26-9-23-5-17-2zM136,65l18-4 23-3 49,0 23,3 21,5 25,10 22,15 17,19 12,23 5,20 1,27-6,32-11,30-19,36-21,29-26,25-17,11-13,6-23,6-9,1-21-1-25-7-14-7-12-8-23-21-16-20-17-27-11-22-8-20-6-21-3-18 0-27 4-19 4-11 5-10 9-13 15-15 16-11 12-6z" fill="#000" fill-opacity="0.130"/><path d="M183,14l-22,3-21,5-15,5-20,9-21,13-10,8-26,26-18,26-11,27-5,24-1,33 4,29 5,19 7,19 13,26 21,29 34,34 17,13 13,8 14,7 19,7 24,5 22,1 33-5 20-7 20-10 30-22 34-35 21-31 8-16 8-21 6-23 3-20 0-37-3-18-5-17-13-27-17-22-18-18-16-13-14-9-18-9-26-9-23-5-17-2zM158,48l30-3 41,1 35,6 28,10 22,13 21,19 11,15 7,13 8,25 2,13 0,28-3,19-10,33-18,37-24,34-22,22-13,10-15,9-16,7-14,4-21,3-12,0-28-5-26-11-22-15-26-26-20-28-18-35-12-37-4-30 2-29 7-24 14-25 20-21 19-13 19-9 15-5z" fill="#000" fill-opacity="0.150"/><path d="M183,14l-22,3-21,5-15,5-20,9-21,13-10,8-26,26-18,26-11,27-5,24-1,33 4,29 5,19 7,19 13,26 21,29 34,34 17,13 13,8 14,7 19,7 24,5 22,1 33-5 20-7 20-10 30-22 34-35 21-31 8-16 8-21 6-23 3-20 0-37-3-18-5-17-13-27-17-22-18-18-16-13-14-9-18-9-26-9-23-5-17-2zM166,37l20-2 31,0 26,3 22,5 15,5 20,9 25,17 15,15 7,9 14,25 8,27 2,14 0,27-4,26-11,35-11,23-9,15-20,26-17,17-15,12-28,16-28,9-13,2-28,0-17-3-21-7-18-9-19-13-28-27-14-18-10-16-15-31-8-25-3-14-3-32 1-1 0-16 3-17 7-21 7-14 11-16 20-20 19-13 16-8 19-7z" fill="#000" fill-opacity="0.176"/><path d="M183,14l-22,3-21,5-15,5-20,9-21,13-10,8-26,26-18,26-11,27-5,24-1,33 4,29 5,19 7,19 13,26 21,29 34,34 17,13 13,8 14,7 19,7 24,5 22,1 33-5 20-7 20-10 30-22 34-35 21-31 8-16 8-21 6-23 3-20 0-37-3-18-5-17-13-27-17-22-18-18-16-13-14-9-18-9-26-9-23-5-17-2zM177,29l36-1 37,5 27,8 31,15 18,13 18,18 9,12 13,25 5,15 4,20 1,33-3,23-5,21-10,27-8,16-12,19-16,20-15,15-28,21-26,13-24,7-13,2-30,0-17-3-19-6-28-14-23-17-22-22-11-14-15-24-9-19-8-23-7-37 0-33 6-30 10-24 8-13 12-15 24-21 31-17 23-8z" fill="#000" fill-opacity="0.214"/><path d="M195,380l-2,9 4,1 13-1-3-11-10,0zM217,377l0,12 5-1-1-7-2-4zM184,377l-2,2-2,9 6,1 0-12zM246,371l-2,3-2-2-1,3-2-2-1,5-3-4-1,9-3-8-1,0-1,9-3-8-2,0 0,12 15-3 11-4zM146,377l0,2 32,9 0-12-3,2-1,3-1-6-1,0-3,5-1-6-3,5-1-1 0-5-3,5-1-6-2,2-1-3-2,2-1-3-2,2-1-3zM255,368l-2,3-2-2 0,4 3,7 5-2zM261,365l-2,1 0,4 2,6 5-1 0-2zM271,361l-5,2 2,10 9-4zM100,350l2,3 15,11 27,14 2-11-1,1-1-2-2,2-1-3-1,1-1-2-1,1-1-2-1,1-1-2-1,1-1-2-1,1-1-2-1,1-3-3-3,3-1-1 1-4-1,1-1-2-3,3-1-1 1-4-1,1-5-5-3,3-1-1 1-4-3,3-1-6zM101,340l-6,6 2,3 3-2 2-4zM311,344l-7-6-2,2 2,5-1,2-5-4 2,5-1,2-5-4-1,3-2-1-2,4-2-1-1,3-2-1-2,1-1,3-1-1-3,1 3,8 2,1 8-5zM94,334l-6,6 5,5 4-6 0-2zM315,329l-6,5 4,8 7-7zM327,318l-2,0-5,5 6,6 7-7zM75,315l-8,4 5,4 5-5zM331,311l-2,2 7,6 3-4zM34,269l4,10 9,15 18,23 6-7-4-2 1-2-4-2 1-2-4-2 1-2-3-1 1-2-2-3-3-1 1-2-4-7-3-1 1-2-6-12zM15,210l7,31 10,26 2,0 8-5-1-2-3-1 2-2-1-2-3-1 2-1-1-3-3-1 2-2-3-1 2-2-3-1 2-1 0-2-3-1 2-2-3-1 2-2-5-1 4-2 0-1-5-1 4-3-5-1 4-2 0-2-5-1 4-2 0-2-9-1 8-3 0-2zM388,207l-12,0 2,3 6,2-9,1 0,1 8,4-9,1 2,3 3,1-6,1 5,3-6,1 2,3-3,1 5,3-6,1 2,2-3,1 2,2-3,1 1,2-2,1 1,2-2,1 2,2-3,1 2,2-3,1 1,1-2,1 2,2-3,1 1,1-2,1 2,2-3,1 1,1-2,1 1,1-2,1 1,1-2,1 1,1-2,1 1,1-2,1 1,1-2,1 1,1-3,3 3,3-1,1-4-1 1,1-2,1 1,1-4,4 3,3-1,1-4-1 3,3-1,1-4-1 3,3-1,1-4-1 3,3-6,1 3,3-6,1 6,6 7-7 13-19 12-23 12-35zM14,202l1,6 11-3 0-3zM377,198l2,4 9,2 1-6zM13,187l1,10 11-3 0-7zM14,166l-1,10 12,0 0-7zM388,159l-9,2-2,4 12,0zM15,156l-1,6 12,0 0-3zM377,123l-8,5 3,1-2,2 3,1-2,2 6,1-5,3 3,1-2,2 3,2-2,3 6,1-3,1-2,3 9,1-6,2-2,3 12,0-5-23-4-11zM34,126l-10-4-5,14-4,18 12,0 0-2-4-2 5-1 0-2-4-2 5-1-4-3 5-1 0-1-4-2 5-1-2-2 3-1-2-2 3-1-2-2zM378,121l-1-3-2,0-8,5zM26,117l0,3 10,2zM34,102l-6,13 10,2 4-9zM358,89l-6,6 4-1 1,1-3,3 3-1 2,1-3,3 2,1-1,1 3-1 2,1-3,3 2,1-1,1 2,1-1,1 2,1-1,1 2,1-1,1 2,1-1,1 2,1-1,1 11-2-8-15-7-10zM358,87l-3-2-6,6zM50,81l-14,18 1,2 6,3 2,0 1-2-1-2 3-1-1-2 3-1-1-2 4-2-1-2 4-2zM354,83l-3-3-6,6 3,1zM57,74l-5,5 8,4 3-4zM337,65l-4,8 6,6 2,0 6-4zM70,61l-5,5 6,6 3-3 0-2zM74,57l-2,3 6,6 1-3-2-4zM96,42l-12,7-7,6 6,7 1-1-1-4 1-1 3,3-1-3 1-2 3,3-1-3 1-2 3,3 1-2 1,1-1-3 1-2 3,3 1-2 1,1zM109,34l-11,6 7,8 1-2 1,1 1-2 1,1 1-2 1,1zM168,16l-28,6-29,11 0,2 5,8 1-2 1,1 1-2 1,1 1-3 2,2 1-2 1,1 1-3 2,2 1-3 2,2 1-3 2,2 1-3 2,2 1-3 2,2 2-3 2,2 1-6 3,5 0-5 1-1 3,5 1-6 3,5 1,0 1-6 1,3 3,2 1-9 2,6 3,2zM226,15l0,12 4,0 3-8 1,9 3,0 2-4 1,5 2,0 3-8 1,9 3-4 1,5 2,0 1-2 1,3 2,0 1-2 1,3 2,0 1-2 1,3 2-2 1,3 2,0 1-2 1,3 2-2 1,3 2,1 2-2 2,3 1-2 1,3 2,1 2-2 1,3 18,9 2-1 1,3 2,1 2-1 1,3 2-1 1,3 2-1 1,3 5-4 1,2-2,5 5-4 1,2-2,5 2,2 7-6-26-20-23-12-26-9zM170,16l2,9 4,2 0-12zM215,14l0,12 5,0 3-11zM179,15l2,9 2,2 5,0 0-12z" fill="#000" fill-opacity="0.272"/></g></g></g>
<g clip-path="url(#c1)"><g filter="url(#fb1)"><g transform="translate(54.125,258.125) scale(0.25)"><path d="M193,13l-33,4-35,10-31,15-19,14-31,32-10,15-6,12-5,13-5,21-2,33 4,33 11,37 17,34 20,27 32,32 18,14 18,11 15,7 27,8 15,2 21,0 15-2 27-8 27-14 24-18 37-38 18-26 8-15 9-22 8-29 2-12 2-34-2-20-3-14-7-20-6-12-14-20-33-32-13-9-21-11-28-10-37-7z" fill="#271476"/><path d="M193,13l-33,4-35,10-31,15-19,14-31,32-10,15-6,12-5,13-5,21-2,33 4,33 11,37 17,34 20,27 32,32 18,14 18,11 15,7 27,8 15,2 21,0 15-2 27-8 27-14 24-18 37-38 18-26 8-15 9-22 8-29 2-12 2-34-2-20-3-14-7-20-6-12-14-20-33-32-13-9-21-11-28-10-37-7zM345,251l3,3 0,6-2,6-6,10-5,5-5,1-2-2 0-6 2-6 6-10 6-6zM62,251l3,1 6,6 6,10 2,6 0,6-2,2-5-1-5-5-6-10-2-6 0-6zM187,36l8-4 17,0 6,2 2,4-4,3-5,1-15,0-7-2z" fill="#251e8b"/><path d="M193,13l-33,4-35,10-31,15-19,14-31,32-10,15-6,12-5,13-5,21-2,33 4,33 11,37 17,34 20,27 32,32 18,14 18,11 15,7 27,8 15,2 21,0 15-2 27-8 27-14 24-18 37-38 18-26 8-15 9-22 8-29 2-12 2-34-2-20-3-14-7-20-6-12-14-20-33-32-13-9-21-11-28-10-37-7zM349,245l2,2 1,6-3,11-4,8-10,13-5,3-4,0-3-6 2-10 4-9 6-9 10-9zM58,245l4,0 10,9 6,9 4,9 2,10-3,6-4,0-5-3-10-13-4-8-3-11 1-6zM180,36l10-5 20-1 11,2 6,4 0,3-4,3-7,2-17,1-15-3-4-3z" fill="#2228a0"/><path d="M193,13l-33,4-35,10-31,15-19,14-31,32-10,15-6,12-5,13-5,21-2,33 4,33 11,37 17,34 20,27 32,32 18,14 18,11 15,7 27,8 15,2 21,0 15-2 27-8 27-14 24-18 37-38 18-26 8-15 9-22 8-29 2-12 2-34-2-20-3-14-7-20-6-12-14-20-33-32-13-9-21-11-28-10-37-7zM351,240l3,4 0,9-3,10-6,12-14,16-4,2-5-1-2-3 0-9 3-10 5-10 6-9 9-9 4-2zM56,240l4,0 4,2 9,9 6,9 5,10 3,10 0,9-2,3-5,1-4-2-14-16-6-12-3-10 0-9zM174,38l3-4 4-2 14-3 24,1 11,4 3,4-3,4-4,2-16,3-13,0-13-2-7-3z" fill="#2031b5"/><path d="M193,13l-33,4-35,10-31,15-19,14-31,32-10,15-6,12-5,13-5,21-2,33 4,33 11,37 17,34 20,27 32,32 18,14 18,11 15,7 27,8 15,2 21,0 15-2 27-8 27-14 24-18 37-38 18-26 8-15 9-22 8-29 2-12 2-34-2-20-3-14-7-20-6-12-14-20-33-32-13-9-21-11-28-10-37-7zM353,236l3,4 0,11-8,21-7,11-12,12-4,2-4,0-4-5 0-10 2-8 7-15 8-12 9-9 7-3zM54,236l3-1 7,3 9,9 8,12 7,15 2,8 0,10-4,5-4,0-4-2-12-12-7-11-8-21 0-11zM170,37l4-4 9-3 14-2 13,0 21,4 6,5 0,3-3,3-10,4-25,2-20-3-6-3-3-3z" fill="#1d3bcb"/><path d="M193,13l-33,4-35,10-31,15-19,14-31,32-10,15-6,12-5,13-5,21-2,33 4,33 11,37 17,34 20,27 32,32 18,14 18,11 15,7 27,8 15,2 21,0 15-2 27-8 27-14 24-18 37-38 18-26 8-15 9-22 8-29 2-12 2-34-2-20-3-14-7-20-6-12-14-20-33-32-13-9-21-11-28-10-37-7zM354,232l4,5 0,12-3,10-7,15-8,12-12,12-4,2-6,0-4-5 0-11 2-8 7-16 9-14 12-12 7-3zM53,232l3-1 7,3 12,12 9,14 7,16 2,8 0,11-4,5-6,0-4-2-12-12-8-12-5-10-5-15 0-12zM166,37l9-6 8-2 35-1 11,2 9,4 3,3 0,4-9,6-8,2-35,1-11-2-9-4-3-3z" fill="#1a45e0"/><path d="M193,13l-33,4-35,10-31,15-19,14-31,32-10,15-6,12-5,13-5,21-2,33 4,33 11,37 17,34 20,27 32,32 18,14 18,11 15,7 27,8 15,2 21,0 15-2 27-8 27-14 24-18 37-38 18-26 8-15 9-22 8-29 2-12 2-34-2-20-3-14-7-20-6-12-14-20-33-32-13-9-21-11-28-10-37-7zM355,228l4,4 1,3 0,9-4,15-6,13-12,18-9,9-7,4-6,0-4-4-1-3 0-9 4-14 8-17 8-12 10-11 8-5zM52,228l6,0 8,5 10,11 8,12 8,17 4,14 0,9-1,3-4,4-6,0-7-4-9-9-12-18-6-13-4-15 0-9 1-3zM162,38l5-5 12-4 13-2 23,0 23,5 7,6 0,3-5,5-11,4-14,2-23,0-21-4-9-7z" fill="#1a50e7"/><path d="M193,13l-33,4-35,10-31,15-19,14-31,32-10,15-6,12-5,13-5,21-2,33 4,33 11,37 17,34 20,27 32,32 18,14 18,11 15,7 27,8 15,2 21,0 15-2 27-8 27-14 24-18 37-38 18-26 8-15 9-22 8-29 2-12 2-34-2-20-3-14-7-20-6-12-14-20-33-32-13-9-21-11-28-10-37-7zM356,226l3,3 2,5 0,8-5,18-5,11-10,16-12,13-6,4-8,1-5-6 0-13 5-16 8-16 9-13 12-12 6-3zM51,226l6,0 6,3 12,12 9,13 8,16 5,16 0,13-5,6-8-1-6-4-12-13-10-16-5-11-5-18 0-8 2-5zM160,39l4-5 13-5 12-2 29,0 19,4 6,3 3,3 1,4-6,6-12,4-15,2-21,0-15-2-10-3-7-5z" fill="#1a5be9"/><path d="M193,13l-33,4-35,10-31,15-19,14-31,32-10,15-6,12-5,13-5,21-2,33 4,33 11,37 17,34 20,27 32,32 18,14 18,11 15,7 27,8 15,2 21,0 15-2 27-8 27-14 24-18 37-38 18-26 8-15 9-22 8-29 2-12 2-34-2-20-3-14-7-20-6-12-14-20-33-32-13-9-21-11-28-10-37-7zM356,224l5,6 1,9-4,17-10,21-8,12-9,10-10,7-4,1-4-1-4-5-1-10 5-19 6-13 10-16 14-15 8-4zM51,224l5,0 8,4 14,15 10,16 6,13 5,19-1,10-4,5-3,1-5-1-10-7-9-10-8-12-10-21-4-17 1-9zM158,39l6-6 11-4 30-3 1,1 21,1 14,4 7,5 1,4-7,7-13,4-17,2-17,0-17-2-13-4-6-5z" fill="#1a66eb"/><path d="M193,13l-33,4-35,10-31,15-19,14-31,32-10,15-6,12-5,13-5,21-2,33 4,33 11,37 17,34 20,27 32,32 18,14 18,11 15,7 27,8 15,2 21,0 15-2 27-8 27-14 24-18 37-38 18-26 8-15 9-22 8-29 2-12 2-34-2-20-3-14-7-20-6-12-14-20-33-32-13-9-21-11-28-10-37-7zM358,223l4,6 0,14-4,14-9,19-10,15-13,13-8,4-5,0-5-5-1-3 0-11 3-12 9-20 11-17 11-12 11-6zM49,223l6-1 11,6 11,12 11,17 9,20 3,12 0,11-1,3-5,5-5,0-8-4-13-13-10-15-9-19-4-14 0-14zM156,40l5-6 9-4 14-3 28-1 17,2 11,3 6,3 4,4 1,3-5,6-12,5-12,2-24,1-20-2-11-3-6-3-4-4z" fill="#1a71ed"/><path d="M193,13l-33,4-35,10-31,15-19,14-31,32-10,15-6,12-5,13-5,21-2,33 4,33 11,37 17,34 20,27 32,32 18,14 18,11 15,7 27,8 15,2 21,0 15-2 27-8 27-14 24-18 37-38 18-26 8-15 9-22 8-29 2-12 2-34-2-20-3-14-7-20-6-12-14-20-33-32-13-9-21-11-28-10-37-7zM358,221l5,7 0,13-5,17-8,17-9,14-14,15-8,5-8,0-4-4-1-3 0-14 4-14 9-19 12-18 13-13 9-4zM49,221l5-1 9,4 13,13 12,18 9,19 4,14 0,14-1,3-4,4-8,0-8-5-14-15-9-14-8-17-5-17 0-13zM155,39l6-6 11-4 20-3 23,0 20,3 9,3 7,5 1,6-5,5-6,3-12,3-43,1-13-2-13-5-5-5z" fill="#1a7cef"/><path d="M193,13l-33,4-35,10-31,15-19,14-31,32-10,15-6,12-5,13-5,21-2,33 4,33 11,37 17,34 20,27 32,32 18,14 18,11 15,7 27,8 15,2 21,0 15-2 27-8 27-14 24-18 37-38 18-26 8-15 9-22 8-29 2-12 2-34-2-20-3-14-7-20-6-12-14-20-33-32-13-9-21-11-28-10-37-7zM358,219l5,6 1,12-6,22-6,13-10,16-13,15-8,6-5,2-4,0-4-2-4-8 1-14 6-18 8-16 10-15 13-14 9-5zM49,219l7,0 9,5 13,14 10,15 8,16 6,18 1,14-4,8-4,2-4,0-5-2-8-6-13-15-10-16-6-13-6-22 0-9 2-5zM153,40l5-6 17-6 14-2 29,0 25,5 6,3 4,4 1,5-6,6-14,5-14,2-33,0-24-5-4-2-6-6z" fill="#1a87f1"/><path d="M193,13l-33,4-35,10-31,15-19,14-31,32-10,15-6,12-5,13-5,21-2,33 4,33 11,37 17,34 20,27 32,32 18,14 18,11 15,7 27,8 15,2 21,0 15-2 27-8 27-14 24-18 37-38 18-26 8-15 9-22 8-29 2-12 2-34-2-20-3-14-7-20-6-12-14-20-33-32-13-9-21-11-28-10-37-7zM359,218l5,6 1,6-1,10-6,20-9,18-11,16-13,13-9,5-8-1-3-3-2-5 0-12 6-20 10-20 11-16 9-10 10-7 3-1zM48,218l2-1 8,1 10,7 9,10 11,16 10,20 6,20 0,12-2,5-3,3-8,1-9-5-13-13-11-16-9-18-6-20-1-7 1-9zM151,41l6-7 17-6 13-2 33,0 24,5 6,3 5,5 1,3-2,4-5,4-11,4-19,3-31,0-19-3-9-3-7-5z" fill="#1992f1"/><path d="M193,13l-33,4-35,10-31,15-19,14-31,32-10,15-6,12-5,13-5,21-2,33 4,33 11,37 17,34 20,27 32,32 18,14 18,11 15,7 27,8 15,2 21,0 15-2 27-8 27-14 24-18 37-38 18-26 8-15 9-22 8-29 2-12 2-34-2-20-3-14-7-20-6-12-14-20-33-32-13-9-21-11-28-10-37-7zM359,216l5,5 1,3 0,13-4,16-10,22-12,18-13,14-10,6-8,0-5-5-1-3 0-15 4-14 8-18 17-26 11-11 8-5 4-1zM48,216l3-1 6,1 8,5 11,11 17,26 8,18 4,14 0,15-1,3-5,5-8,0-10-6-13-14-12-18-10-22-4-16 0-13 1-3zM150,40l7-7 11-4 17-3 20-1 1,1 23,1 21,6 6,5 1,6-6,6-13,5-21,3-27,0-28-5-11-7z" fill="#179def"/><path d="M193,13l-33,4-35,10-31,15-19,14-31,32-10,15-6,12-5,13-5,21-2,33 4,33 11,37 17,34 20,27 32,32 18,14 18,11 15,7 27,8 15,2 21,0 15-2 27-8 27-14 24-18 37-38 18-26 8-15 9-22 8-29 2-12 2-34-2-20-3-14-7-20-6-12-14-20-33-32-13-9-21-11-28-10-37-7zM359,214l6,7 1,13-7,25-10,20-11,16-15,15-10,5-4,0-4-2-5-10 1-14 5-16 8-17 12-19 14-16 9-6zM48,214l10,1 9,6 14,16 12,19 8,17 5,16 1,14-5,10-4,2-4,0-10-5-15-15-11-16-10-20-7-25 1-13zM148,41l8-8 11-4 17-3 27-1 25,3 13,4 9,7 1,4-2,4-5,4-14,5-24,3-21,0-19-2-15-4-9-6z" fill="#15a8ed"/><path d="M193,13l-33,4-35,10-31,15-19,14-31,32-10,15-6,12-5,13-5,21-2,33 4,33 11,37 17,34 20,27 32,32 18,14 18,11 15,7 27,8 15,2 21,0 15-2 27-8 27-14 24-18 37-38 18-26 8-15 9-22 8-29 2-12 2-34-2-20-3-14-7-20-6-12-14-20-33-32-13-9-21-11-28-10-37-7zM360,213l5,5 1,3 0,16-6,20-9,19-12,18-14,15-12,7-8-1-5-6-1-15 6-21 9-19 16-24 13-13 10-5zM47,213l7-1 10,5 13,13 16,24 9,19 6,21-1,15-5,6-8,1-12-7-14-15-12-18-9-19-6-20 0-16 1-3zM147,40l6-6 17-6 23-3 21,0 18,2 18,5 4,2 6,6 0,5-6,6-16,6-13,2-28,1-1-1-21-1-16-4-11-7z" fill="#13b3eb"/><path d="M193,13l-33,4-35,10-31,15-19,14-31,32-10,15-6,12-5,13-5,21-2,33 4,33 11,37 17,34 20,27 32,32 18,14 18,11 15,7 27,8 15,2 21,0 15-2 27-8 27-14 24-18 37-38 18-26 8-15 9-22 8-29 2-12 2-34-2-20-3-14-7-20-6-12-14-20-33-32-13-9-21-11-28-10-37-7zM360,211l5,5 2,5 0,12-2,10-10,26-14,23-19,20-9,5-9-1-4-4-2-5 0-14 4-15 11-24 15-23 13-14 10-6zM47,211l9,0 10,6 13,14 15,23 11,24 4,15 0,14-2,5-4,4-9,1-9-5-19-20-14-23-6-14-6-22 0-12 2-5zM145,41l7-7 13-5 16-3 9,0 1-3 2,2 22,0 1-2 1,3 16,1 18,5 9,6 2,3 0,3-2,4-5,4-17,6-14,2-41,0-25-5-11-7z" fill="#12bee8"/><path d="M193,13l-33,4-35,10-31,15-19,14-31,32-10,15-6,12-5,13-5,21-2,33 4,33 11,37 17,34 20,27 32,32 18,14 18,11 15,7 27,8 15,2 21,0 15-2 27-8 27-14 24-18 37-38 18-26 8-15 9-22 8-29 2-12 2-34-2-20-3-14-7-20-6-12-14-20-33-32-13-9-21-11-28-10-37-7zM361,210l5,5 2,13-2,12-5,16-9,19-13,20-15,16-9,6-11,1-6-6-2-9 1-11 5-17 11-23 16-24 14-14 10-5zM46,210l8-1 10,5 14,14 16,24 11,23 5,17 1,8-2,12-6,6-11-1-9-6-15-16-13-20-9-19-4-12-3-16 2-13zM144,41l4-5 7-4 18-5 15-1 1-9 4,8 22,0 3-8 1,9 15,1 18,5 10,7 1,7-7,7-19,6-15,2-37,0-15-2-15-4-10-7z" fill="#10c9e6"/><path d="M180,14l-37,7-28,10-14,7-26,18-27,27-14,20-6,12-7,20-3,14-2,20 1,26 3,20 6,23 14,34 8,14 15,21 37,38 24,18 27,14 33,9 30,1 15-2 27-8 27-14 24-18 32-32 9-11 19-30 14-34 6-23 3-20 0-12 1-1-1-26-7-31-13-27-11-15-27-27-10-8-16-10-24-11-35-10-27-3 0,12 20,2 19,7 6,7 0,3-4,6-15,7-26,4-33,0-22-3-10-3-9-5-4-6 0-3 6-7 6-3 13-4 11-1 1-2 8,1 0-12zM361,208l5,5 2,5 0,14-6,22-12,25-14,20-15,15-13,6-7-2-4-5-2-6 1-16 7-21 10-20 14-21 14-15 10-6 4-1zM46,208l4-1 6,1 10,6 14,15 14,21 10,20 7,21 1,16-2,6-4,5-7,2-13-6-15-15-14-20-12-25-6-22 0-14 2-5zM189,14l2,9 2,2 22,0 3-8 0-3-4-1z" fill="#11cdd1"/><path d="M180,14l-37,7-28,10-14,7-26,18-27,27-14,20-6,12-7,20-3,14-2,20 1,26 3,20 6,23 14,34 8,14 15,21 37,38 24,18 27,14 33,9 30,1 15-2 27-8 27-14 24-18 32-32 9-11 19-30 14-34 6-23 3-20 0-12 1-1-1-26-7-31-10-22-10-15-37-37-13-9-21-11-36-12-21-4-13-1 0,12 6,0 2-4 1,5 5,0 16,4 7,3 7,6 1,7-8,8-14,5-20,3-43,0-24-4-13-6-5-6 0-5 5-6 13-6 12-2 1-2 5,1 1-6 3,5 5,0 0-12zM362,206l5,5 2,6 0,12-7,26-10,21-13,20-17,18-12,7-10-1-6-8-1-14 4-17 12-27 15-24 14-16 12-8 3-1zM45,206l9-1 7,3 8,6 14,16 15,24 12,27 4,17-1,14-6,8-10,1-12-7-17-18-13-20-10-21-7-26 0-12 2-6zM189,14l2,9 2,2 22,0 3-8 0-3-4-1z" fill="#14cdb5"/><path d="M143,21l-28,10-14,7-26,18-27,27-14,20-6,12-7,20-3,14-2,20 1,26 3,20 6,23 14,34 8,14 15,21 37,38 24,18 27,14 33,9 30,1 15-2 27-8 27-14 24-18 32-32 9-11 19-30 14-34 6-23 3-20 0-12 1-1-1-26-7-31-10-22-10-15-37-37-13-9-21-11-28-10-17-4-23-3 0,12 4,0 3-8 1,9 4,0 1-2 1,3 18,4 12,8 1,2-1,8-11,8-9,3-18,3-39,1-32-4-16-7-5-6 1-8 12-8 13-3 1-2 4,1 1-3 2,2 3,0 1-9 2,6 2,2 3,0 0-12zM363,204l6,8 1,14-7,27-9,20-17,26-14,15-8,6-7,3-7,0-4-2-5-7-1-16 5-19 14-30 15-23 16-17 10-6 7-1zM44,204l5-2 7,1 10,6 16,17 15,23 14,30 5,19-1,16-5,7-4,2-7,0-7-3-8-6-14-15-17-26-9-20-7-27 1-14zM189,14l2,9 2,2 22,0 3-8 0-3-4-1z" fill="#16ce99"/><path d="M143,21l-28,10-14,7-26,18-27,27-14,20-6,12-7,20-3,14-2,20 2,34 2,12 8,29 9,22 8,15 23,32 32,32 24,18 27,14 33,9 9,1 30-1 33-9 15-7 18-11 18-14 32-32 9-11 19-30 14-34 6-23 3-20 0-12 1-1-1-26-7-31-10-22-14-20-27-27-19-14-31-15-26-8-23-4 0,12 3,0 2-4 1,5 3,0 1-2 1,3 4,0 12,4 11,9 1,2-1,6-6,6-8,4-11,3-23,3-39,0-18-2-13-3-11-5-6-6-1-6 7-8 5-3 11-3 1-2 4,1 1-3 4,2 1-6 1,3 4,2 0-12zM360,200l8,6 3,11-2,18-9,26-14,26-11,15-20,19-9,4-6,0-8-6-3-8 1-18 10-28 18-32 13-17 15-13 7-3zM43,202l4-2 7,0 14,8 13,14 16,24 13,26 8,26-1,17-6,8-4,2-6,0-13-7-16-16-17-25-11-23-7-24-1-8 1-11 2-5zM225,14l0,12 3,0 3-11zM176,15l2,9 4,2 0-12zM210,13l0,12 5,0 3-11zM189,14l2,9 2,2 4,0 0-12z" fill="#18cf7e"/><path d="M143,21l-28,10-14,7-26,18-27,27-14,20-6,12-7,20-3,14-2,20 2,34 2,12 8,29 9,22 8,15 23,32 32,32 24,18 27,14 33,9 9,1 30-1 33-9 15-7 18-11 18-14 32-32 9-11 19-30 14-34 6-23 3-20 0-12 1-1-1-26-7-31-10-22-14-20-27-27-19-14-31-15-18-6-30-6 0,12 2,0 3-8 1,9 2,0 2-4 1,5 3,0 1-2 1,3 6,1 11,5 6,6 1,7-7,8-14,6-24,4-29,1-1-1-21,0-15-2-18-5-5-3-6-6-1-7 7-8 11-5 3,0 1-2 2,1 1-3 4,2 1-6 1,3 3,2 1-9 2,6 3,2 0-12zM362,198l6,5 3,7 0,17-7,25-5,10 1,2-2,1-4,8 1,1-3,2-2,5-13,19-17,18-13,8-4,1-7-1-6-6-2-4-1-17 5-19 15-32 20-30 14-14 11-6zM45,198l10,0 11,6 14,14 20,30 15,32 5,19 0,14-3,7-6,6-4,1-7-1-13-8-17-18-17-26-10-22-7-25 0-17 3-7zM226,14l0,12 2,0 3-11zM176,15l2,9 3,2 0-12zM212,13l0,12 3,0 3-11zM189,14l2,9 4,2 0-12z" fill="#1bd062"/><path d="M166,16l-23,5-18,6-31,15-19,14-31,32-10,15-6,12-8,24-4,30 2,34 2,12 8,29 9,22 8,15 23,32 32,32 24,18 27,14 33,9 9,1 30-1 33-9 15-7 18-11 18-14 32-32 14-18 14-23 7-15 7-19 6-23 4-33-2-33-5-21-5-13-13-23-7-9-27-27-19-14-31-15-18-6-23-5 0,12 4-8 1,9 2,0 1-2 1,3 2,0 1-2 1,3 3,0 11,5 7,6 1,8-8,9-20,7-27,3-35,0-27-3-20-7-7-7-1-8 5-6 13-6 1-2 3,1 1-3 3,2 1-3 3,2 1-9 4,8zM363,196l7,7 2,7 0,13-6,22 1,2-2,1 1,2-3,3 1,2-3,3 1,2-2,1 1,1-2,1 1,1-2,1-4,8 1,1-3,3 1,1-3,2-1,2 1,1-3,2-13,19-17,17-13,7-8,0-4-2-6-8-1-19 6-21 12-26 18-29 19-21 10-6 4-1zM47,195l10,1 10,6 19,21 18,29 12,26 6,21-1,19-6,8-4,2-8,0-13-7-17-17-18-26-13-28-7-27 1-17 4-7zM235,15l0,12 1,0 3-11zM172,15l-4,1 2,9 2,2zM227,14l0,12 1,0 3-11zM180,14l-4,1 2,9 2,2zM214,13l0,12 1,0 3-11zM193,13l-4,1 2,9 2,2z" fill="#1dd146"/><path d="M160,17l-35,10-31,15-19,14-27,27-7,9-13,23-5,13-5,21-2,33 4,33 11,37 17,34 20,27 38,37 30,20 15,7 15,5 27,5 21,0 15-2 12-3 24-9 31-19 11-9 32-32 14-18 14-23 7-15 7-19 6-23 4-33-2-33-5-21-5-13-13-23-7-9-27-27-19-14-31-15-35-10 0,12 3-4 1,5 1,0 2-4 1,5 13,4 9,8 1,8-3,5-5,4-8,4-11,3-23,3-49,0-18-2-13-3-11-5-5-4-3-5 0-6 7-8 13-5 1-2 2,1 1-6 3,5 1-6 3,5zM362,193l9,9 2,8 0,8-3,14 1,3-2,1-2,6 1,3-3,3 1,2-2,1 1,2-3,3 1,2-2,1 1,1-2,1 1,1-2,1 1,1-2,1-4,8 1,1-2,1 1,1-3,3 1,1-3,2 1,1-2,1 1,1-3,2 1,1-3,2 1,1-3,2 1,1-4,3 1,1-22,23-7,5-9,4-7,0-4-2-5-5-3-7 0-17 6-21 15-31 15-24 18-21 12-8zM43,194l12-1 7,3 8,6 18,21 15,24 15,31 6,21 0,17-3,7-5,5-4,2-7,0-9-4-7-5-18-19-15-22-13-27-8-27-1-8 1-13 2-5zM235,15l0,12 1,0 3-11zM172,15l-4,1 2,9 2,2z" fill="#2fd335"/><path d="M358,266l1,1-2,1 1,1-3,3 8,7 6-11zM49,266l-10,2 5,11 8-6zM151,19l-36,12-21,11-19,14-27,27-7,9-13,23-5,13-5,21-2,33 4,33 6,23 11,28 10-4-2-5-3-1 2-1-1-3-3-1 2-2-3-1 2-2-3-9-3-1 2-1-3-12-1-13 2-10 5-7 5-3 11,0 8,4 17,16 13,18 13,22 16,35 4,16 0,15-3,8-6,6-4,2-7,0-6-2-16-12-15-18-4-2 1-2-4-2 1-2-3-1 1-1-3-6-3-1 1-2-2-4-10,4 23,32 38,37 30,20 15,7 15,5 27,5 21,0 15-2 12-3 24-9 31-19 11-9 32-32 23-32-10-4 1,1-3,3 3,3-1,1-4-1 1,1-4,4 3,3-1,1-4-1 3,3-6,1 3,3-1,1-4-1-1,1 1,1-5,4 1,1-12,12-11,9-11,5-7,0-4-2-6-6-3-8 0-15 4-16 6-15 23-42 13-18 14-14 11-6 13,1 5,4 4,8 1,7-2,14 1,4-2,1 1,3-2,1 2,3-3,1 1,2-2,1 1,2-2,1 1,2-2,1 2,2-3,1 2,2-3,1 1,1-2,1 2,2-3,1 1,1-3,3 10,5 11-28 8-35 2-34-4-30-8-24-9-17-11-15-27-27-26-18-24-11-26-8 0,12 2-2 1,3 2,0 1-2 1,3 10,4 8,9-1,8-8,8-15,6-18,3-11,0-1,1-59-1-18-3-9-3-9-5-6-8 1-8 7-7 10-4 1-3 2,2 2-3 2,2zM247,17l0,12 1,0 3-11zM160,17l-4,1 2,9 2,2z" fill="#4ed72f"/><path d="M332,307l-2,2 7,6 3-4zM347,286l3,3-1,1-4-1 3,3-1,1-4-1 3,3-1,1-4-1 7,7-2,1-8-4 3,3-6,1 7,6 14-19zM351,279l1,1-2,1 6,6 2,0 2-4zM56,279l-9,4 1,3 3,1 6-5zM358,266l1,1-2,1 1,1-3,3 8,7 6-11zM49,266l-10,2 5,11 8-6zM361,259l8,5 2-1 2-4-6-2-5,0 1,1zM45,257l-10,2 1,4 2,1 8-4zM364,252l10,5 1-3zM43,252l-10,2 0,3zM151,19l-36,12-21,11-19,14-27,27-7,9-13,23-5,13-5,21-2,33 4,33 10,34 10-4-3-2 2-2-3-1 2-2-5-1 4-2-3-2 2-1 0-2-3-1 2-1 0-2-3-1 2-1-1-22 2-6 6-7 11-3 7,2 11,7 14,15 15,22 19,35 10,26 2,10 0,13-5,12-9,6-7,0-8-3-10-7-11-11-5,2-2-1 4-5-2-2-5,2-2-1 4-4-1-2-3-1 1-2-5,2-2-1 4-5-3-1 1-2-3-1 1-2-3-1 1-2-9,4 17,23 38,37 30,20 15,7 15,5 27,5 21,0 15-2 27-8 27-14 24-18 28-28-8-4-11,11-10,7-8,3-7,0-9-6-4-8-1-17 2-10 10-26 19-35 20-28 9-9 11-7 7-2 7,1 4,2 6,7 2,6-1,21 2,2-3,1 2,3-3,1 2,3-3,1 5,3-6,1 2,2-3,1 2,2-3,1 10,5 10-34 3-20 1-26-4-30-8-24-9-17-11-15-27-27-26-18-24-11-26-8 0,12 3-4 1,5 2-2 1,3 13,5 6,6 2,4-1,7-9,9-20,7-29,3-43,0-1-1-22-1-14-3-12-5-7-6-3-6 0-4 2-4 6-6 7-3 1-2 1,1 2-2 2,1 1-3 2,2 1-6 3,5z" fill="#6edc28"/><path d="M332,307l-1,1 7,6 2-3zM75,307l-8,4 3,4 6-6zM336,302l6,6 2-1-2-3zM71,302l-6,2-2,3 2,2zM341,295l7,7 2-3zM66,295l-9,4 2,3zM347,286l6,6 2,0 1-2zM60,286l-9,4 1,2 5-2zM350,281l6,6 3-1-1-2zM57,281l-8,3-1,2 3,1zM358,266l1,1-2,1 1,1-3,3 8,7 6-11zM49,266l-10,2 5,11 8-6zM362,257l8,5 3-3zM45,257l-10,2 0,2 2,1zM364,252l10,5 1-3zM43,252l-10,2 0,3zM369,238l2,2-3,1 2,2-3,1 10,5 3-10zM27,239l3,10 10-4-3-2 2-2-3-1 2-2zM115,31l-21,11-13,9-33,32-14,20-11,25-6,28 0,12-1,1 1,26 7,36 2,5 10-4 0-1-5-1 4-3-5-1 4-2 0-2-3-1 2-1-1-20 3-9 6-6 4-2 11,0 10,5 18,18 23,35 18,36 8,25-1,21-4,7-8,6-10,0-9-4-7-5-14-14-8,4 28,28 11,9 18,12 22,11 27,8 15,2 21,0 27-5 24-9 24-14 18-14 28-28-8-4-14,14-7,5-9,4-10,0-8-6-5-11 0-17 3-12 8-20 24-44 18-25 17-15 7-3 11,0 4,2 6,6 3,9-1,19 2,2-3,2 5,3-6,1 5,3-1,1-5,0 8,4 3-1 5-19 4-33-1-26-4-21-7-20-6-12-14-20-33-32-13-9-21-11-27-9-1,11 2-2 2,3 1-2 1,3 9,4 8,9 0,7-2,4-5,5-9,5-14,4-14,2-65,1-1-1-21-1-14-3-12-5-8-7-2-4 1-9 12-11 1,1 2-2 1,1 1-3 2,2 1-3 2,2 0-8-1-3z" fill="#8ee022"/><path d="M326,314l6,6 3-3-6-4zM80,313l-8,4 4,3 5-5zM332,307l7,6 1-2-2-2zM75,307l-6,2-2,2 2,3zM336,302l6,6 2-1-2-3zM71,302l-6,2-2,3 2,2zM355,272l8,7 1-2-1-2zM52,272l-9,4 1,3 5-3zM358,266l8,5 3-3zM49,266l-10,2 0,2 2,1zM369,238l8,4 3-1 0-2-3-1zM28,243l10-5-8,0-3,1zM131,25l-30,13-20,13-33,32-14,20-11,25-6,28 0,12-1,1 1,26 6,32 11-3 0-1-5-1 4-2 0-2-3-1 2-1-1-18 2-8 6-8 6-3 11,0 12,6 15,15 6,8 23,37 16,32 6,16 3,14 0,12-4,11-7,7-4,2-9,0-12-6-9-8-6,6 14,14 24,18 18,10 24,9 27,5 21,0 27-5 24-9 18-10 24-18 14-14-6-6-5,5-11,7-5,2-9,0-4-2-7-7-4-11 0-12 5-20 13-29 20-35 16-23 15-15 12-6 14,1 7,6 4,12 0,11 1,1-2,1 0,4 2,2-3,2 5,3-6,1 2,2 9,2 5-24 1-20 1-1-1-26-6-28-11-25-14-20-33-32-13-9-21-11-16-6-1,1-2,10 2-2 1,3 9,5 6,8 0,6-4,7-12,8-13,4-26,3-65,0-30-4-15-6-6-5-4-7 0-6 2-4 12-10 1,1 1-3 2,2 0-5zM265,22l-1,3 0,8 5-10zM140,22l-1,3 4,8 0-8-1-3z" fill="#aee41b"/><path d="M327,313l6,6 2-2zM80,313l-8,4 3,2zM336,302l6,6 2-1-2-3zM71,302l-6,2-2,3 2,2zM125,27l-31,15-19,14-27,27-14,20-11,25-6,28-1,26 1,1 1,20 4,20 11-3 0-1-5-1 4-2 0-2-9-1 8-3 0-19 4-10 5-4 8-3 9,1 9,4 19,19 20,30 26,49 9,27 1,14-2,9-4,7-8,7-9,1-6-2-9-5-8-7-6,6 17,16 18,13 18,10 24,9 27,5 21,0 15-2 27-8 15-7 18-11 18-14 11-11-6-6-8,7-9,5-6,2-9-1-8-7-4-7-2-16 2-12 4-12 18-38 20-34 16-22 11-11 10-6 12-2 8,3 5,4 3,6 1,22 8,4-9,1 2,3 3,1-6,1 2,2 9,2 5-28 1-26-2-20-6-24-10-22-14-20-27-27-19-14-31-15-3,7 0,4 9,5 7,8 0,7-2,4-8,8-8,4-15,4-18,2-26,0-1,1-65-2-16-3-14-6-8-8-2-4 0-7 7-8 7-4 1-2 1,1 0-5z" fill="#c6e415"/><path d="M375,215l8,4 3,0 1-4zM20,215l1,4 11-3 0-1zM94,42l-19,14-27,27-14,20-11,25-6,28-1,26 4,31 11-3 0-2-9-1 8-3 0-14 4-13 6-5 6-2 10,0 14,7 12,12 9,12 31,52 16,33 6,19 1,15-3,11-3,5-9,8-8,1-6-2-11-6-3-3-1,1-4-5-6,6 9,9 18,14 18,11 15,7 33,9 9,1 30-1 33-9 15-7 18-11 18-14 9-9-6-6-8,7-11,6-6,2-6,0-5-3-8-9-4-13 0-8 2-11 5-15 16-33 20-35 20-29 12-12 8-5 6-2 10,0 6,2 6,5 3,7 1,19 8,4-9,1 2,3 9,2 3-18 1-26-2-20-6-24-10-22-14-20-33-32-20-13-19-9-3,0-2,10 10,6 6,6 2,4-1,5-4,7-7,6-11,5-23,4-17,0-1,1-65,0-1-1-25-1-18-4-8-4-7-6-5-11 2-5 6-6 7-4 2-3 1,1-2-11z" fill="#dae10d"/><path d="M99,332l-6,6 3,3 4-6zM94,42l-19,14-27,27-14,20-10,22-6,24-2,33 3,25 11-3 0-5-5-1 4-2 1-3 0-10 2-7 4-6 11-5 12,1 10,5 15,15 12,17 23,39 18,34 8,19 4,16 0,13-2,7-4,7-8,8-4,2-7-1-10-4-10-7-6,6 13,12 18,12 22,11 33,9 9,1 30-1 33-9 15-7 18-11 25-21-6-6-1,1 2,5-1,2-5-4-14,9-13,3-4-2-8-8-4-7-2-7 0-13 4-16 14-31 30-53 17-25 9-10 13-9 7-2 12,1 9,6 4,11 0,10 3,4 3,1-6,1 0,4 2,2 9,2 3-25-1-26-4-21-7-20-6-12-10-15-31-32-19-14-21-11-3,0-2,10 8,5 8,8 1,5-3,8-8,8-7,4-14,4-18,2-101,0-18-2-14-4-7-4-8-8-3-8 1-5 8-8 8-5-2-11zM287,29l-3,0-2,10zM123,28l-3,1 0,2 5,8z" fill="#efde06"/><path d="M94,42l-19,14-27,27-14,20-10,22-6,24-2,20 2,30 11-3 1-18 4-11 5-4 10-3 11,1 10,5 13,13 14,20 34,59 15,30 5,13 3,15-1,12-5,11-6,7-6,4-7,0-6-2-14-8-3,3-1-1 1-4-6,7 11,9 18,12 22,11 33,9 9,1 30-1 33-9 27-14 25-19-7-6-1,3-2-1-14,8-6,2-9-1-7-6-7-12-2-15 4-18 19-40 22-39 22-35 20-20 11-4 12,1 8,4 4,6 3,14 0,10 2,2 9,2 2-17-1-26-4-21-7-20-6-12-10-15-31-32-19-14-21-11-3,0-2,10 8,4 12,11 1,7-2,5-10,11-8,4-12,3-20,1-1,1-103,0-1-1-20-1-12-3-8-4-8-8-4-8 1-7 17-15 1,1 1-2 1,1-2-11z" fill="#f4d107"/><path d="M113,32l-19,10-19,14-27,27-14,20-10,22-6,24-2,20 2,30 11-3 0-17 4-16 4-4 12-4 13,1 12,7 11,12 12,18 52,93 8,21 2,12-1,10-3,8-4,6-9,9-7,1-7-2-15-8-1,1-2-3-6,7 7,6 18,12 22,11 33,9 9,1 30-1 33-9 27-14 21-16-7-6-13,8-12,4-5,0-11-10-4-6-3-8-1-10 1-8 5-16 10-21 37-66 21-33 11-12 7-5 9-3 9,0 12,4 4,4 4,16 0,16 2,2 9,2 2-17-1-26-4-21-7-20-6-12-10-15-31-32-19-14-17-9-2,0-2,10 12,8 7,7 2,5-6,13-5,5-9,5-17,4-14,0-1,1-115,0-1-1-14,0-17-4-9-5-7-8-4-12 9-10 9-6 2-3 1,1z" fill="#f5c108"/><path d="M113,32l-19,10-19,14-27,27-11,15-9,17-8,24-4,30 1,17 7-1 5-3 2-18 3-8 3-3 16-4 15,3 14,12 8,11 54,94 13,25 5,13 2,9 0,11-2,7-6,11-10,11-6,0-9-3-14-7-3,3-1-1 1-4-3,3-1-1 1-4-6,6 6,6 18,12 22,11 33,9 9,1 30-1 33-9 27-14 20-15-7-6-1,3-2-1-1,3-2-1-9,5-14,5-6,0-6-6-6-8-6-15 1-16 6-17 62-111 13-19 8-8 6-4 13-3 9,1 9,3 3,3 3,8 2,18 3,2 9,2 1-17-2-20-5-21-5-13-6-12-10-15-31-32-19-14-17-9-2,0-2,10 5,2 13,10 8,9 0,4-6,11-7,7-10,5-18,3-45,0-1-1-101,1-18-3-10-5-7-7-6-11 0-4 8-9 11-8 2-3 1,1 1-2 1,1 1-2 1,1z" fill="#f7b10a"/><path d="M105,36l-11,6-19,14-27,27-14,20-10,22-4,14-4,30 1,17 11-3 2-19 3-11 4-7 15-4 10,0 10,4 7,6 11,15 32,59 31,52 12,23 5,15 0,15-5,12-13,16-6,0-7-2-19-9-1,1-1-2-7,7 18,12 22,11 33,9 9,1 30-1 18-4 24-9 18-10 13-10-7-6-21,10-7,2-6,0-13-16-5-12 0-15 5-15 12-23 31-52 29-54 14-20 7-6 10-4 10,0 15,4 5,10 4,26 2,2 9,2 1-17-2-20-5-21-5-13-9-17-11-15-33-32-24-15-4,10 12,8 13,13 1,4-7,14-6,6-10,5-12,2-54-1-1-1-61,0-1,1-54,1-12-2-10-5-6-6-7-14 1-4 13-13 9-6 2-3 1,1z" fill="#f9a10c"/><path d="M101,38l-26,18-27,27-14,20-10,22-4,14-4,30 1,17 11-3 0-10 3-17 3-10 5-8 19-5 11,0 8,4 12,16 34,68 21,36 25,39 8,16 3,11-1,10-3,7-17,22-6,0-11-3-19-9-1,1-1-2-6,6 3,4 18,11 15,7 27,8 15,2 21,0 15-2 27-8 15-7 18-11 3-3-2-4-4-3-21,10-11,3-6,0-13-16-7-13-1-10 3-11 8-16 25-39 21-36 34-68 12-16 8-4 11,0 19,5 7,14 4,21 0,9 2,2 9,2 1-17-4-30-4-14-10-22-14-20-27-27-26-18-4,10 14,10 12,12 3,5-9,19-7,7-4,2-29,1-39-4-58-1-1,1-20,0-39,4-25,0-8-3-7-7-9-19 3-5 12-12 11-8 2-3 1,1z" fill="#f98f0d"/><path d="M104,115l-8,4-3,3-2,5 0,6 3,13 12,32 18,37 16,28 25,38 29,39 2,6-1,5-3,5-18,19-7,10-18-3-14-5-7-4-1,1-3-3-6,6 0,2 18,11 15,7 27,8 15,2 21,0 27-5 24-9 24-14-2-5-4-3-11,6-14,5-18,3-7-10-18-19-3-5-1-5 2-6 42-58 28-47 13-26 13-31 7-25 0-6-2-5-3-3-8-4-18-5-24-4-31-3-66,1-37,5zM310,41l-4,9 11,8 17,17 4,7-3,6-2,10 0,11 2,4 8,7 24,10 4,7 4,12 4,20 0,8 12,0-1-21-3-17-4-14-10-22-14-20-27-27-10-8zM97,41l-12,7-10,8-27,27-14,20-10,22-4,14-3,17-1,21 12,0 0-8 4-20 4-12 4-7 24-10 8-7 2-4 0-11-2-10-3-6 4-7 17-17 6-4 3-4 1,1 1-1z" fill="#f67b0d"/><path d="M126,363l10,7 15,7 27,8 15,2 21,0 27-5 24-9 16-9-5-9-22,9-13,3-11,0-5-7-7-5-9-4-14,1-13,8-5,7-11,0-13-3-17-7-2,1-3-3zM119,119l-8,5-5,6-3,10 0,7 3,15 5,15 18,39 12,21 18,27 15,19 12,12 7,5 8,3 5,0 8-3 7-5 21-23 19-27 17-29 16-34 7-20 3-15 0-7-3-10-5-6-6-4-16-6-18-4-25-3-35-1-1,1-30,1-24,4zM315,44l-4,9 7,5 23,24 5,8 0,10 2,5 8,9 5,2 3,4 10,23 4,22 6,1-5,3 0,3 12,0-1-16-4-21-7-20-6-12-14-20-27-27zM92,44l-17,12-27,27-14,20-6,12-7,20-4,21-1,16 12,0 0-4-4-2 5-1 2-15 6-18 8-15 6-3 8-9 2-5 0-10 5-8 23-24 7-5z" fill="#f3670d"/><path d="M129,366l22,11 15,5 27,5 21,0 15-2 27-8 22-11-6-8-23,8-23,4-11,0-3-5-7-2-10,2-3,5-19-1-22-5-14-6zM135,120l-10,5-7,6-4,6-2,7 1,20 11,32 22,41 21,29 20,19 11,5 14-1 12-7 16-16 13-17 17-27 13-26 9-24 3-14 0-14-2-7-7-9-14-8-21-6-22-3-14,0-1-1-36,1-22,3zM317,45l-4,9 7,5 19,19 21,31 11,23 6,20 1,10 12,0-1-13-5-21-5-13-9-17-11-15-27-27zM90,45l-15,11-27,27-11,15-9,17-5,13-5,21-1,13 12,0 1-10 6-20 11-23 21-31 24-24 1,1 1-1z" fill="#f1530d"/><path d="M135,368l1,2 30,12 27,5 21,0 15-2 27-8 16-8-4-9-25,8-30,4-19,0-20-2-18-4-10-4-2,1-1-2-2,1-1-2zM142,124l-15,10-7,13-1,7 1,13 10,31 20,37 14,19 12,13 12,9 10,4 11,0 6-2 10-6 12-11 18-23 11-18 11-22 8-22 3-17-2-15-6-10-9-7-14-6-23-5-26-1-1-1-25,1-20,3zM323,49l-4,9 20,19 11,14 10,16 12,26 5,17 0,4 2,1-1,4 12,0-1-10-5-21-5-13-9-17-11-15-27-27zM84,49l-9,7-27,27-11,15-9,17-5,13-5,21-1,10 12,0 1-9 5-17 12-26 10-16 11-14 20-19z" fill="#ee3f0d"/><path d="M142,371l0,2 24,9 27,5 21,0 15-2 12-3 24-9-4-10-30,8-20,1-1,1-34-2-26-7-2,1-1-2zM154,126l-15,8-7,7-5,12 1,23 10,28 18,31 10,13 12,12 10,7 12,4 7,0 10-3 12-8 12-12 10-13 13-21 10-22 6-22-1-21-4-8-13-11-15-6-13-3-16-2-29,0-16,2zM326,51l-4,9 15,14 21,28 13,27 6,23 6,1-5,3 12,0-7-31-13-27-11-15zM81,51l-33,32-11,15-13,27-7,31 12,0-4-3 5-1 6-23 13-27 15-21 21-21z" fill="#eb2b0d"/><path d="M146,373l1,2 19,7 27,5 21,0 15-2 27-8 5-3-4-9-14,4-24,4-31,0-24-4-8-3-3,1-2-2zM160,130l-13,7-8,8-4,8-1,22 7,23 13,25 10,14 10,11 10,8 11,5 13,1 7-2 8-4 13-11 13-16 12-20 7-16 5-18 0-18-2-7-3-5-11-10-10-5-14-4-13-2-33,0zM330,55l-4,8 16,16 16,22 12,24 5,17 2,1-1,3 3,1-2,2 12,0-6-24-13-27-11-15zM77,55l-29,28-11,15-13,27-6,24 12,0-2-2 3-1 6-21 12-24 16-22 16-16z" fill="#df220c"/><path d="M153,375l1,3 12,4 27,5 30-1 18-4 14-5-4-10-15,4-24,3-28-1-18-4-4,1-1-2-2,1-2-2zM176,131l-20,8-11,11-3,6-2,9 1,14 3,12 13,27 10,14 12,12 7,5 9,4 5,1 12-1 9-4 7-5 12-12 13-19 7-14 5-15 2-12-1-13-4-9-7-8-17-9-18-4-12,0-1-1-20,1zM336,60l-4,8 17,19 13,20 8,17 4,13 2,1-1,3 3,1-2,2 12,0-5-19-13-27-11-15zM71,60l-23,23-11,15-13,27-5,19 12,0-2-2 3-1 5-17 8-17 13-20 17-19z" fill="#ce1d0b"/><path d="M159,377l1,3 6,2 27,5 30-1 26-7-4-10-27,5-29,0-15-3-5,1-1-2-3,1-2-2zM177,137l-17,8-6,6-5,9-2,12 4,21 9,19 6,9 14,15 9,6 9,3 15-1 14-8 11-11 9-13 7-14 5-16 1-10-2-12-5-9-6-6-17-8-15-3-23,0zM341,65l-6,6 13,14 11,16 7,13 5,14 3,3-1,1 2,2-1,2 3,1-2,2 12,0-8-24-9-17-11-15zM67,65l-19,18-11,15-9,17-8,24 12,0-2-2 3-1 4-13 11-22 11-16 13-14z" fill="#be1809"/><path d="M162,378l0,2 4,2 27,5 30-1 23-6-4-10-1,0-1,5-2-4-32,4-20-1-9-2-4,1-1-2-2,0-3,5-1-6zM184,142l-17,8-8,9-4,13 2,17 4,11 6,11 15,17 10,6 7,2 13-1 13-7 10-10 8-12 8-21 1-7-1-12-5-10-6-6-11-6-18-4-15,0zM346,70l-6,6 6,6 14,20 9,18 3,9 3,1-2,2 11-2-5-15-9-17-11-15zM62,70l-14,13-11,15-9,17-5,13 1,2 10,2-2-2 3-1 3-9 9-18 14-20 6-6z" fill="#ad1208"/><path d="M170,380l0,3 23,4 21,0 23-4-3-11-2,0-1,3-1-2-16,2-21,0-1-1-9,1-1-2-4,0-2,2-2-3zM194,148l-11,3-12,8-5,8-2,13 4,16 8,14 12,11 9,4 8,1 14-5 12-11 8-14 3-9 1-11-4-13-4-5-7-5-15-5zM350,74l-6,6 5,4-1,1 8,10 11,21 2,1-1,1 2,1-1,2 2,1-1,1 2,1-1,1 11-2-12-25-11-15zM58,74l-10,9-11,15-9,17-2,8 10,2 9-20 8-13 10-12z" fill="#9d0d07"/><path d="M180,382l0,3 13,2 21,0 13-2-3-11-5,0-1,9-3-8-22,0-4,8-1-9-4,0zM197,158l-11,4-7,7-3,8 0,8 3,10 7,10 11,7 8,1 11-4 9-9 5-10 1-13-3-8-7-7-11-4zM356,81l-6,6 6,1-3,3 3,2-1,1 3,2-1,1 4,4-1,1 1,2 3,2-1,1 2,1-1,1 2,1-1,1 2,1-1,1 2,1-1,1 11-2-12-21zM51,80l-14,18-7,15 10,2 4-9 10-15-1-2 4-2z" fill="#8d0806"/><path d="M193,13l-33,4-35,10-31,15-19,14-31,32-10,15-6,12-5,13-5,21-2,33 4,33 11,37 17,34 20,27 32,32 18,14 18,11 15,7 27,8 15,2 21,0 15-2 27-8 27-14 24-18 37-38 18-26 8-15 9-22 8-29 2-12 2-34-2-20-3-14-7-20-6-12-14-20-33-32-13-9-21-11-28-10-37-7zM137,81l18-4 27-3 43,0 27,3 18,4 17,6 12,6 10,7 15,16 9,17 4,17-1,30-9,32-15,33-22,37-20,25-18,16-20,11-19,5-25-1-13-4-14-7-11-8-21-21-16-22-18-31-15-33-7-22-3-16 0-24 6-22 10-16 12-12 10-7 12-6z" fill="#000" fill-opacity="0.116"/><path d="M193,13l-33,4-35,10-31,15-19,14-31,32-10,15-6,12-5,13-5,21-2,33 4,33 11,37 17,34 20,27 32,32 18,14 18,11 15,7 27,8 15,2 21,0 15-2 27-8 27-14 24-18 37-38 18-26 8-15 9-22 8-29 2-12 2-34-2-20-3-14-7-20-6-12-14-20-33-32-13-9-21-11-28-10-37-7zM128,68l23-5 28-3 49,0 28,3 23,5 14,5 14,7 15,11 16,18 10,20 5,23 0,21-3,18-10,31-19,39-13,22-19,26-25,24-14,9-13,6-27,6-21-1-24-7-22-13-25-24-13-17-19-31-21-44-6-18-5-26 1-29 6-20 8-15 16-18 15-11 14-7z" fill="#000" fill-opacity="0.131"/><path d="M193,13l-33,4-35,10-31,15-19,14-31,32-10,15-6,12-5,13-5,21-2,33 4,33 11,37 17,34 20,27 32,32 18,14 18,11 15,7 27,8 15,2 21,0 15-2 27-8 27-14 24-18 37-38 18-26 8-15 9-22 8-29 2-12 2-34-2-20-3-14-7-20-6-12-14-20-33-32-13-9-21-11-28-10-37-7zM129,55l29-6 20-1 1-1 49,0 1,1 20,1 29,6 12,4 19,9 17,12 18,19 7,11 7,15 6,24 1,10-1,25-6,28-12,32-21,39-23,31-18,18-10,8-16,10-13,6-26,7-10,1-21-1-14-3-17-6-24-14-10-8-18-18-15-19-18-29-18-39-8-26-4-28 0-14 2-16 7-23 12-21 18-19 17-12 19-9z" fill="#000" fill-opacity="0.151"/><path d="M193,13l-33,4-35,10-31,15-19,14-31,32-10,15-6,12-5,13-5,21-2,33 4,33 11,37 17,34 20,27 32,32 18,14 18,11 15,7 27,8 15,2 21,0 15-2 27-8 27-14 24-18 37-38 18-26 8-15 9-22 8-29 2-12 2-34-2-20-3-14-7-20-6-12-14-20-33-32-13-9-21-11-28-10-37-7zM155,39l35-4 41,1 31,5 31,10 27,15 9,7 15,15 12,17 7,14 6,18 4,30-1,22-3,19-12,39-19,37-21,28-27,26-17,12-17,9-28,9-13,2-23,0-25-5-26-11-16-10-14-11-26-27-22-32-15-32-10-34-4-33 2-28 6-23 14-27 7-9 15-15 20-14 21-10z" fill="#000" fill-opacity="0.178"/><path d="M193,13l-33,4-35,10-31,15-19,14-31,32-10,15-6,12-5,13-5,21-2,33 4,33 11,37 17,34 20,27 32,32 18,14 18,11 15,7 27,8 15,2 21,0 15-2 27-8 27-14 24-18 37-38 18-26 8-15 9-22 8-29 2-12 2-34-2-20-3-14-7-20-6-12-14-20-33-32-13-9-21-11-28-10-37-7zM184,28l39,0 32,5 37,12 16,8 23,16 15,15 13,18 8,16 5,14 5,27-1,40-8,36-9,24-8,16-17,26-9,11-21,21-24,18-16,9-17,7-14,4-20,3-19,0-15-2-16-4-20-8-29-18-11-9-21-21-22-30-12-23-11-31-7-38 0-31 5-27 5-14 8-16 13-18 15-15 23-16 16-8 37-12z" fill="#000" fill-opacity="0.216"/><path d="M211,375l0,12 7-1-3-11zM193,375l-2,2-2,9 7,1 0-12zM242,370l-1,0-1,5-3-4-1,5-3-4-1,5-2-4-2,0-1,9-3-8-2,0 0,12 24-6zM164,372l-2,6 1,3 22,5 0-12-3,2-2,6-1-9-3,2-1,3-1-6-3,5-1-6-3,5-1-6zM259,364l-3,1-1,3-2-2 0,4 3,7 7-4zM149,364l-5,9 8,4 2-11-2,2-1-3-1,1zM272,358l-7,3 2,10 11-5zM136,358l-7,8 11,6 2-11-1,1-1-2-1,1zM110,341l-6,7 14,11 9,5 4-9-1,1-1-2-3,3-1-1 1-4-1,1-1-2-3,3-1-1 1-4-3,3-1-1 1-4-7,7-1-2 4-8-3,3zM309,343l-7-6-1,3 2,4-1,1-4-4-2,1-1,3-2-1 2,5-1,2-5-4-1,3-2-1-1,3-2-1-2,1-1,3-1-1-3,1 4,9 3-1zM105,337l-6,6 3,3 4-6zM310,330l-3,3 0,2 4,6 5-6zM97,330l-6,6 5,5 4-6 0-2zM327,313l-3,3 6,6 5-5zM80,313l-8,4 5,5 6-5zM332,307l-1,1 7,6 2-3zM362,281l-10-4 1,1-3,3 3,3-1,1-4-1 1,1-2,1 3,3-1,1-4-1 3,3-1,1-4-1 3,3-1,1-4-1 7,7-2,1-8-4 3,3-6,1 6,6 7-7zM45,281l14,21 11,13 6-7-3-1-4,2-1-1 4-4-1-2-3-1 1-2-5,2-2-1 4-5-3-1 1-2-3-1 1-2-3-1 1-2-1-2-3-1 1-2-2-4zM358,266l1,1-2,1 1,1-3,3 8,7 6-11zM49,266l-10,2 5,11 8-6zM365,249l2,2-3,1 1,1-2,1 2,2-3,1 1,1-3,3 10,5 6-15zM42,249l-4,0-7,3 6,14 10-4-2-5-3-1 2-1-1-3-3-1zM388,209l-12,0 8,4-9,1 2,3 3,1-6,1 5,3-6,1 5,3-1,1-5,0 5,3-6,1 2,2-3,1 5,3-6,1 2,2-3,1 2,2-3,1 8,5 2,0 4-11zM19,209l7,29 4,11 2,0 8-5-3-1 2-1-3-2 2-2-5-1 4-2-3-2 2-2-5-1 4-2 0-1-5-1 4-3-5-1 4-3-5-1 4-2 0-2-9-1 8-4zM377,202l2,3 9,2 1-5zM18,202l1,5 11-3 0-2zM378,194l2,3 9,2 1-5zM17,194l1,5 11-3 0-2zM387,165l-8,4 0,13 2,2 9,2 1-17-1-4zM17,165l-1,17 1,4 3,0 8-3 0-15zM389,152l-9,2-2,4 12,0zM18,152l-1,6 12,0 0-3zM379,120l-8,5 3,1-2,2 6,1-5,3 3,1-2,2 6,1-5,3 9,1-8,4 9,1-6,2-2,3 12,0-5-22-3-8zM36,124l-10-4-5,15-3,15 12,0 0-2-8-3 9-1 0-1-8-3 9-1-4-3 5-1-2-2 3-2-4-2 5-1-2-2zM380,118l-1-3-2,0-8,5zM28,115l0,3 10,2zM374,106l-9,5 2,1-1,1 2,1-1,1 11-2zM33,106l-3,7 10,2 2-5zM369,97l-2,0-6,6 2,1-1,1 2,1-1,1 10-4zM38,97l-4,6 10,4 2-5-6-5zM361,86l-7,6 3-1 2,1-3,3 3-1 2,1-3,3 9-4zM359,83l-2-1-6,6 6-2zM50,81l-10,13 7,4 2,0-1-2 3-1-1-2 3-1-4-5 2-1 5,2zM355,79l-4-4-6,6 4,2zM56,75l-4,4 8,4 2-3zM336,60l-4,6 1,3 6-5zM71,60l-3,3 6,6 1-3zM315,44l-4,9 2,1 2-1 1,3 2-1 1,3 2-1 2,4 2-1 1,3 2,1 6-6-12-10zM92,44l-18,13 6,7 1-1-1-4 1-1 3,3 1-6 3,3-1-4 1-1 3,3-1-3 1-2 3,3 1-2 1,1zM294,33l-2,10 15,7 6-8zM113,32l-19,10 7,8 1-2 1,1 1-2 1,1 1-2 1,1 1-2 1,1 1-2 1,1 1-2 1,1 1-2 1,1zM292,31l-3,0-2,10zM118,30l-3,1 0,2 5,8zM233,15l0,12 3,0 3-8 1,9 2,0 3-8 1,9 2,0 2-4 1,5 3-4 1,5 2,0 2-4 1,5 2-2 1,3 2,0 1-2 1,3 2-2 1,3 2-2 1,3 2-2 1,3 2-2 1,3 2-2 1,3 5-8 0-2-23-8zM174,15l-31,6-23,8 0,2 5,8 1-3 2,2 1-3 2,2 1-3 2,2 1-3 2,2 1-3 2,2 1-3 2,2 2-3 2,2 1-6 3,5 1,0 1-6 3,5 1-6 1,3 3,2 1-9 2,6 3,2 1-9 2,6 4,2zM224,14l0,12 4,0 3-11zM176,15l2,9 2,2 3,0 0-12zM189,14l2,9 2,2 22,0 3-8 0-3-4-1z" fill="#000" fill-opacity="0.276"/></g></g></g>
<g clip-path="url(#c2)"><g filter="url(#fb2)"><g transform="translate(221.125,260.125) scale(0.25)"><path d="M185,15l-25,3-22,5-35,13-16,9-14,10-31,31-11,16-7,14-5,14-5,26 0,34 3,21 6,24 6,17 12,25 20,29 35,36 28,21 31,15 24,6 32,1 18-3 19-6 29-15 26-20 26-26 11-13 19-29 9-19 8-23 5-21 3-22 0-30-5-27-7-19-7-13-10-14-29-29-20-14-20-10-26-9-36-7z" fill="#271476"/><path d="M185,15l-25,3-22,5-35,13-16,9-14,10-31,31-11,16-7,14-5,14-5,26 0,34 3,21 6,24 6,17 12,25 20,29 35,36 28,21 31,15 24,6 32,1 18-3 19-6 29-15 26-20 26-26 11-13 19-29 9-19 8-23 5-21 3-22 0-30-5-27-7-19-7-13-10-14-29-29-20-14-20-10-26-9-36-7zM339,250l1,9-5,11-8,9-4,1-2-2 0-8 4-9 8-10zM59,250l4,0 8,8 6,13 0,7-2,2-4-1-10-12-4-12zM182,39l7-4 12-1 11,2 4,4-6,4-17,1-8-2z" fill="#251e8b"/><path d="M185,15l-25,3-22,5-35,13-16,9-14,10-31,31-11,16-7,14-5,14-5,26 0,34 3,21 6,24 6,17 12,25 20,29 35,36 28,21 31,15 24,6 32,1 18-3 19-6 29-15 26-20 26-26 11-13 19-29 9-19 8-23 5-21 3-22 0-30-5-27-7-19-7-13-10-14-29-29-20-14-20-10-26-9-36-7zM341,243l3,4 0,6-6,16-11,14-5,3-3,0-3-4 0-6 5-14 12-16 5-3zM57,243l5,1 9,9 8,14 3,11-2,7-4,1-4-2-11-13-7-17 0-8zM175,40l6-5 9-2 18,0 9,2 5,4 0,2-3,3-9,3-22,0-11-4z" fill="#2228a0"/><path d="M185,15l-25,3-22,5-35,13-16,9-14,10-31,31-11,16-7,14-5,14-5,26 0,34 3,21 6,24 6,17 12,25 20,29 35,36 28,21 31,15 24,6 32,1 18-3 19-6 29-15 26-20 26-26 11-13 19-29 9-19 8-23 5-21 3-22 0-30-5-27-7-19-7-13-10-14-29-29-20-14-20-10-26-9-36-7zM343,238l3,3 1,7-2,9-7,15-11,14-6,4-5,0-3-3 0-10 3-10 5-10 12-15 6-4zM55,238l7,2 10,10 7,11 6,17 0,8-3,4-5,0-5-3-9-10-5-8-7-20 0-6zM170,40l2-3 10-4 28-1 12,3 6,6-8,6-9,2-24,0-12-3-4-3z" fill="#2031b5"/><path d="M185,15l-25,3-22,5-35,13-16,9-14,10-31,31-11,16-7,14-5,14-5,26 0,34 3,21 6,24 6,17 12,25 20,29 35,36 28,21 31,15 24,6 32,1 18-3 19-6 29-15 26-20 26-26 11-13 19-29 9-19 8-23 5-21 3-22 0-30-5-27-7-19-7-13-10-14-29-29-20-14-20-10-26-9-36-7zM345,234l4,6 0,7-3,11-6,13-9,13-7,7-5,3-6,0-3-4 0-12 8-20 8-12 10-10 4-2zM53,234l5,0 5,3 8,8 7,10 7,14 3,10 0,11-4,4-5,0-5-3-8-8-7-10-6-12-4-13 0-9zM166,39l5-4 10-3 29-1 14,3 6,3 2,5-5,5-10,3-30,1-18-5-3-3z" fill="#1d3bcb"/><path d="M185,15l-25,3-22,5-35,13-16,9-14,10-31,31-11,16-7,14-5,14-5,26 0,34 3,21 6,24 6,17 12,25 20,29 35,36 28,21 31,15 24,6 32,1 18-3 19-6 29-15 26-20 26-26 11-13 19-29 9-19 8-23 5-21 3-22 0-30-5-27-7-19-7-13-10-14-29-29-20-14-20-10-26-9-36-7zM348,231l3,6 0,7-5,17-6,12-6,9-10,11-9,5-5-1-3-5 0-11 4-13 7-14 15-19 8-5zM50,231l7-1 4,2 12,12 8,12 7,15 3,11 0,10-5,6-6-1-5-3-8-8-8-11-11-25-1-14zM162,40l4-4 10-4 14-2 18,0 20,4 8,6 0,3-4,4-10,4-14,2-18,0-14-2-9-3-5-5z" fill="#1a45e0"/><path d="M185,15l-25,3-22,5-35,13-16,9-14,10-31,31-11,16-7,14-5,14-5,26 0,34 3,21 6,24 6,17 12,25 20,29 35,36 28,21 31,15 24,6 32,1 18-3 19-6 29-15 26-20 26-26 11-13 19-29 9-19 8-23 5-21 3-22 0-30-5-27-7-19-7-13-10-14-29-29-20-14-20-10-26-9-36-7zM347,226l5,6 0,13-3,11-8,17-8,12-13,13-6,3-6-1-4-7 0-8 3-12 6-14 10-16 11-12 6-4zM49,227l6-1 10,6 9,10 8,12 8,17 4,15-1,10-3,4-6,1-10-6-16-20-8-16-4-13-1-11zM158,40l6-5 8-3 27-3 1,1 15,0 14,3 8,4 3,6-6,6-13,4-38,1-11-2-10-4-4-4z" fill="#1a50e7"/><path d="M185,15l-25,3-22,5-35,13-16,9-14,10-31,31-11,16-7,14-5,14-5,26 0,34 3,21 6,24 6,17 12,25 20,29 35,36 28,21 31,15 24,6 32,1 18-3 19-6 29-15 26-20 26-26 11-13 19-29 9-19 8-23 5-21 3-22 0-30-5-27-7-19-7-13-10-14-29-29-20-14-20-10-26-9-36-7zM349,225l4,5 0,13-4,14-7,15-10,15-12,12-6,3-8-1-3-5 0-12 4-14 6-13 11-17 13-13 7-3zM49,225l5-1 8,4 11,11 9,13 10,21 3,12 0,10-1,3-4,4-7,0-5-3-13-13-8-12-7-14-5-16-1-7 1-7zM156,41l5-5 14-5 15-2 18,0 15,2 14,5 5,5 0,2-7,7-9,3-12,2-30,0-21-5-7-6z" fill="#1a5be9"/><path d="M185,15l-25,3-22,5-35,13-16,9-14,10-31,31-11,16-7,14-5,14-5,26 0,34 3,21 6,24 6,17 12,25 20,29 35,36 28,21 31,15 24,6 32,1 18-3 19-6 29-15 26-20 26-26 11-13 19-29 9-19 8-23 5-21 3-22 0-30-5-27-7-19-7-13-10-14-29-29-20-14-20-10-26-9-36-7zM349,223l4,4 1,3 0,11-3,12-8,18-12,18-10,10-6,4-8,1-5-6-1-9 5-19 7-15 12-18 10-10 7-4 4-1zM47,224l5-2 12,6 14,16 9,15 6,14 3,11 0,14-4,5-6,1-8-4-12-12-9-13-8-16-5-17 0-13zM154,42l5-6 14-5 13-2 25,0 24,5 4,2 4,4 1,3-5,6-13,5-14,2-27,0-20-4-6-3-4-4z" fill="#1a66eb"/><path d="M185,15l-25,3-22,5-35,13-16,9-14,10-31,31-11,16-7,14-5,14-5,26 0,34 3,21 6,24 6,17 12,25 20,29 35,36 28,21 31,15 24,6 32,1 18-3 19-6 29-15 26-20 26-26 11-13 19-29 9-19 8-23 5-21 3-22 0-30-5-27-7-19-7-13-10-14-29-29-20-14-20-10-26-9-36-7zM351,222l4,7 0,10-5,18-10,20-11,15-8,8-8,5-9-1-4-7 0-10 4-15 9-19 10-15 10-11 10-6zM47,222l8-1 6,3 13,13 9,13 10,20 4,13 1,13-4,8-9,1-8-5-10-10-11-16-7-14-6-20 0-12zM152,43l1-3 6-5 8-3 16-3 39,1 12,3 9,5 2,3 0,4-9,7-10,3-16,2-23,0-15-2-14-5-4-3z" fill="#1a71ed"/><path d="M185,15l-25,3-22,5-35,13-16,9-14,10-31,31-11,16-7,14-5,14-5,26 0,34 3,21 6,24 6,17 12,25 20,29 35,36 28,21 31,15 24,6 32,1 18-3 19-6 29-15 26-20 26-26 11-13 19-29 9-19 8-23 5-21 3-22 0-30-5-27-7-19-7-13-10-14-29-29-20-14-20-10-26-9-36-7zM351,220l3,3 2,6-1,13-5,16-9,18-9,13-9,10-10,7-3,1-6-1-4-4-1-3 0-13 4-14 10-21 11-16 12-12 8-4zM47,220l7-1 9,5 10,10 14,21 7,15 5,17 0,12-5,7-6,1-7-3-5-4-11-12-11-17-7-15-5-19 0-9 2-5zM151,41l9-7 14-4 30-2 19,2 15,4 8,6 1,5-6,6-11,4-22,3-18,0-18-2-11-3-9-6z" fill="#1a7cef"/><path d="M185,15l-25,3-22,5-35,13-16,9-14,10-31,31-11,16-7,14-5,14-5,26 0,34 3,21 6,24 6,17 12,25 20,29 35,36 28,21 31,15 24,6 32,1 18-3 19-6 29-15 26-20 26-26 11-13 19-29 9-19 8-23 5-21 3-22 0-30-5-27-7-19-7-13-10-14-29-29-20-14-20-10-26-9-36-7zM351,218l4,4 1,3 0,14-6,20-8,16-11,16-12,12-9,5-8-1-4-6-1-5 1-11 6-18 8-16 10-15 12-13 11-6zM47,218l2-1 7,1 10,7 9,10 12,18 10,22 3,11 0,15-6,7-7,0-7-4-14-14-14-22-9-23-2-11 1-10zM149,42l4-5 15-6 21-3 19,0 17,2 12,3 6,3 5,5 1,3-6,7-9,4-16,3-23,1-1-1-21-1-12-3-8-4-3-3z" fill="#1a87f1"/><path d="M185,15l-25,3-22,5-35,13-16,9-14,10-31,31-11,16-7,14-5,14-5,26 0,34 3,21 6,24 6,17 12,25 20,29 35,36 28,21 31,15 24,6 32,1 18-3 19-6 29-15 26-20 26-26 11-13 19-29 9-19 8-23 5-21 3-22 0-30-5-27-7-19-7-13-10-14-29-29-20-14-20-10-26-9-36-7zM351,216l4,4 2,5 0,12-4,15-9,20-11,17-13,14-7,5-6,2-5-1-5-6-1-13 6-21 10-20 11-16 13-13 7-4zM47,216l7,0 9,5 11,11 14,21 9,19 5,20 0,6-2,7-4,4-3,1-6-1-8-5-11-11-13-19-9-19-5-17 0-14 1-3zM147,44l1-3 9-7 14-4 15-2 26,0 15,2 16,5 7,6-1,7-5,4-10,4-18,3-35,0-13-2-14-5-5-4z" fill="#1992f1"/><path d="M185,15l-25,3-22,5-35,13-16,9-14,10-31,31-11,16-7,14-5,14-5,26 0,34 3,21 6,24 6,17 12,25 20,29 35,36 28,21 31,15 24,6 32,1 18-3 19-6 29-15 26-20 26-26 11-13 19-29 9-19 8-23 5-21 3-22 0-30-5-27-7-19-7-13-10-14-29-29-20-14-20-10-26-9-36-7zM350,214l7,7 1,12-3,14-8,20-16,25-14,14-7,4-7,1-7-6-1-16 4-15 6-14 9-16 11-15 13-12 7-3zM46,215l7-1 12,7 11,12 12,18 10,21 5,18 0,11-2,5-4,4-7,1-13-8-11-12-12-18-8-17-6-21 0-11 2-5zM146,42l6-6 13-5 19-3 30,0 14,2 14,4 9,7 1,5-6,6-12,5-19,3-32,0-15-2-13-4-8-6z" fill="#179def"/><path d="M185,15l-25,3-22,5-35,13-16,9-14,10-31,31-11,16-7,14-5,14-5,26 0,34 3,21 6,24 6,17 12,25 20,29 35,36 28,21 31,15 24,6 32,1 18-3 19-6 29-15 26-20 26-26 11-13 19-29 9-19 8-23 5-21 3-22 0-30-5-27-7-19-7-13-10-14-29-29-20-14-20-10-26-9-36-7zM352,213l5,5 1,3 0,15-5,18-10,21-14,20-11,11-11,6-8-1-3-3-2-5 0-15 4-14 8-18 16-25 14-14 7-4 4-1zM46,213l5-1 11,5 13,13 14,21 10,21 5,17 0,14-3,6-4,3-7,0-9-5-17-18-13-21-8-19-4-19 1-10zM144,44l1-3 4-4 8-4 11-3 14-2 34,0 18,3 13,5 5,4 1,7-6,6-13,5-22,3-26,0-17-2-12-3-8-4-3-3z" fill="#15a8ed"/><path d="M185,15l-25,3-22,5-35,13-16,9-14,10-31,31-11,16-7,14-5,14-5,26 0,34 3,21 6,24 6,17 12,25 20,29 35,36 28,21 31,15 24,6 32,1 18-3 19-6 29-15 26-20 26-26 11-13 19-29 9-19 8-23 5-21 3-22 0-30-5-27-7-19-7-13-10-14-29-29-20-14-20-10-26-9-36-7zM353,212l4,4 2,5 0,12-5,19-9,20-14,21-11,12-8,6-5,2-9-1-5-7-1-11 5-20 8-18 15-24 14-15 11-6zM46,211l10,1 9,6 12,13 12,18 9,18 7,22 0,16-5,7-10,1-11-7-13-14-12-18-9-19-6-21 0-14 3-6zM143,42l5-5 11-5 21-4 23-1 1,1 21,1 17,4 8,4 4,4 1,6-7,7-14,5-25,3-20,0-20-2-15-4-10-7z" fill="#13b3eb"/><path d="M185,15l-25,3-22,5-35,13-16,9-14,10-31,31-11,16-7,14-5,14-5,26 0,34 3,21 6,24 6,17 12,25 20,29 35,36 28,21 31,15 24,6 32,1 18-3 19-6 29-15 26-20 26-26 11-13 19-29 9-19 8-23 5-21 3-22 0-30-5-27-7-19-7-13-10-14-29-29-20-14-20-10-26-9-36-7zM353,210l5,5 2,7 0,7-6,24-11,23-14,20-13,13-9,5-4,1-5-1-6-7-1-14 5-19 9-20 17-26 14-14 11-5zM45,210l6-1 11,5 13,13 15,22 13,28 4,17-1,12-6,8-4,1-5-1-9-5-18-19-12-19-7-15-5-15-2-11 1-13zM141,46l1-4 5-5 8-4 16-4 19-2 29,1 21,4 11,5 5,5 1,3-1,3-6,6-12,5-18,3-17,0-1,1-24-1-18-3-15-7z" fill="#12bee8"/><path d="M185,15l-25,3-22,5-35,13-16,9-14,10-31,31-11,16-7,14-5,14-5,26 0,34 3,21 6,24 6,17 12,25 20,29 35,36 28,21 31,15 24,6 32,1 18-3 19-6 29-15 26-20 26-26 11-13 19-29 9-19 8-23 5-21 3-22 0-30-5-27-7-19-7-13-10-14-29-29-20-14-20-10-26-9-36-7zM354,209l4,4 2,5 0,14-5,19-10,22-14,21-12,13-12,8-3,1-7-1-5-5-2-5 0-13 6-21 8-17 13-21 17-19 11-6zM44,209l9-1 12,7 13,14 13,20 10,20 7,24-1,15-6,7-7,1-9-4-5-4-14-15-12-18-10-21-6-21 0-16zM140,43l7-7 18-6 23-3 22,0 18,2 16,4 8,4 5,5 1,5-7,8-18,6-15,2-38,0-20-3-9-3-9-6-2-3z" fill="#10c9e6"/><path d="M185,15l-25,3-22,5-35,13-16,9-14,10-31,31-11,16-7,14-5,14-5,26 0,34 3,21 6,24 6,17 12,25 20,29 35,36 28,21 31,15 24,6 32,1 18-3 19-6 29-15 26-20 26-26 11-13 19-29 9-19 8-23 5-21 3-22 0-30-5-27-7-19-7-13-10-14-29-29-20-14-20-10-26-9-36-7zM354,207l6,8 1,13-5,21-12,26-15,22-14,14-12,6-5,0-4-2-5-8 0-16 6-20 9-19 11-18 15-18 13-9 4-1zM44,207l3-1 8,1 8,5 13,13 15,22 11,22 7,23 0,14-2,5-5,5-8,1-11-6-15-15-16-24-9-20-6-22 1-16zM138,45l2-4 6-5 18-6 21-3 27,0 22,3 16,5 8,6 1,8-6,6-20,7-17,2-34,0-17-2-12-3-11-6z" fill="#11cdd1"/><path d="M185,15l-25,3-22,5-35,13-16,9-14,10-31,31-11,16-7,14-5,14-5,26 0,34 3,21 6,24 6,17 12,25 20,29 35,36 28,21 31,15 24,6 32,1 18-3 19-6 29-15 26-20 26-26 11-13 19-29 9-19 8-23 5-21 3-22 0-30-5-27-7-19-7-13-10-14-29-29-20-14-20-10-26-9-36-7zM355,205l6,8 1,5-1,14-5,18-11,24-14,21-15,16-11,7-4,1-7-1-5-5-2-5 0-16 4-15 13-28 15-23 15-16 11-6zM43,205l10-1 12,7 16,18 15,24 10,22 5,18 0,14-3,7-3,3-4,2-5,0-13-7-13-13-16-23-13-28-5-21 1-14 1-3zM136,44l7-7 8-4 11-3 20-2 1-3 2,2 29,0 1-2 1,3 14,1 19,5 6,3 6,6 1,5-7,8-15,6-20,3-43,0-19-3-14-5-6-5-2-4z" fill="#14cdb5"/><path d="M185,15l-25,3-22,5-35,13-16,9-14,10-31,31-11,16-7,14-5,14-5,26 0,34 3,21 6,24 6,17 12,25 20,29 35,36 28,21 31,15 24,6 32,1 18-3 19-6 29-15 26-20 26-26 11-13 19-29 9-19 8-23 5-21 3-22 0-30-5-27-7-19-7-13-10-14-29-29-20-14-20-10-26-9-36-7zM356,203l4,4 3,11-1,12-6,21-10,22-16,24-13,14-14,9-4,1-6-1-4-3-4-8 0-16 5-18 8-18 16-27 16-19 11-8 6-2zM42,203l4-2 4,0 13,6 14,14 18,27 12,25 6,21 0,15-2,5-6,6-4,1-6-1-13-8-15-16-14-21-12-26-5-18-1-7 1-13zM134,44l3-4 10-6 14-4 10-1 1-3 2,2 6,0 1-9 4,8 29,0 3-8 1,9 7,0 1-2 1,3 10,1 20,7 6,6 1,6-2,4-8,6-16,5-28,3-22,0-1-1-21-1-20-5-11-8z" fill="#16ce99"/><path d="M150,20l-19,5-30,12-28,18-31,31-11,16-7,14-5,14-5,26 0,34 3,21 6,24 6,17 12,25 20,29 35,36 28,21 31,15 24,6 32,1 18-3 19-6 29-15 26-20 26-26 11-13 19-29 9-19 8-23 5-21 3-22 0-30-3-19-6-20-10-20-10-14-29-29-20-14-20-10-19-7-19-5-28-4 0,12 5,0 2-4 1,5 10,1 14,4 8,4 5,5 1,8-4,5-8,5-13,4-13,2-47,1-24-3-8-2-12-6-5-6-1-3 1-4 6-6 8-4 9-3 9-1 1-2 5,1 1-6 3,5 4,0 0-12zM357,201l3,3 3,7 0,16-7,25-12,25-16,23-16,16-11,6-11-1-4-4-3-6-1-7 1-11 5-17 12-26 15-24 18-20 13-7 7,0zM42,200l10-1 13,7 10,10 10,13 16,27 10,23 4,15 0,16-3,7-6,5-12-1-14-10-15-17-14-22-10-22-6-22-1-8 1-10 2-5zM203,15l0,12 11,0 3-11zM181,16l2,9 2,2 10,0 0-12z" fill="#18cf7e"/><path d="M150,20l-19,5-30,12-28,18-31,31-11,16-7,14-5,14-5,26 0,34 3,21 6,24 6,17 12,25 20,29 35,36 28,21 31,15 24,6 32,1 18-3 19-6 29-15 26-20 26-26 11-13 19-29 9-19 8-23 5-21 3-22 0-30-3-19-6-20-10-20-10-14-29-29-20-14-25-12-33-10-27-4 0,12 4,0 3-8 1,9 4,0 1-2 1,3 9,1 12,4 7,4 5,6 1,3-1,4-5,6-9,5-10,3-22,3-46,0-22-3-18-7-7-9 1-6 5-5 7-4 11-3 1-2 1,1 3,0 1-2 3,1 1-6 3,5 3,0 1-9 2,6 4,2 0-12zM355,197l5,4 3,5 1,18-7,26-11,24-16,24-17,18-14,8-10-1-6-6-3-11 1-12 8-25 11-22 13-21 17-20 14-9 5-1zM41,198l8-2 7,2 7,4 15,15 21,32 13,28 5,18 0,16-3,7-5,5-10,1-14-8-14-14-18-26-13-28-6-23 0-16 3-7zM208,15l0,12 6,0 3-11zM181,16l2,9 2,2 5,0 0-12z" fill="#1bd062"/><path d="M150,20l-28,8-30,14-19,13-31,31-11,16-7,14-7,22-3,18 1,43 8,36 6,17 12,25 20,29 35,36 28,21 31,15 14,4 18,3 32-1 14-3 20-7 30-17 20-16 26-26 17-21 18-31 12-32 5-21 3-22-1-38-4-19-7-19-7-13-10-14-29-29-20-14-33-15-25-7-18-3 0,12 3,0 2-4 1,5 3,0 1-2 1,3 3,0 1-2 1,3 6,1 11,5 5,4 3,6-2,7-4,4-9,5-14,4-31,3-40-1-20-3-17-7-7-9 0-4 2-4 6-5 8-4 9-2 1-3 2,2 2,0 1-3 4,2 1-6 1,3 4,2 0-12zM356,195l6,6 3,9-1,17-7,24-13,27-12,18-16,18-14,10-6,2-8-1-5-4-3-5-2-8 0-7 6-24 12-26 18-29 6-8 13-13 13-7zM42,195l3-1 10,1 10,6 15,16 19,29 12,24 8,25 0,17-2,6-6,6-5,2-8-1-14-9-19-21-14-22-12-27-6-24 0-14 4-9zM223,16l0,12 2,0 3-11zM170,17l2,9 3,2 0-12zM210,15l0,12 4,0 3-11zM181,16l2,9 2,2 3,0 0-12z" fill="#1dd146"/><path d="M150,20l-28,8-30,14-19,13-31,31-11,16-7,14-7,22-3,18 1,43 8,36 6,17 12,25 20,29 35,36 28,21 31,15 14,4 18,3 32-1 14-3 20-7 30-17 20-16 26-26 17-21 18-31 12-32 5-21 3-22-1-38-4-19-7-19-7-13-10-14-29-29-20-14-33-15-25-7-17-3 0,12 2,0 3-8 1,9 2,0 2-4 1,5 2,0 1-2 1,3 10,2 10,5 6,6 1,7-2,4-8,7-10,4-14,3-20,2-41,0-30-4-13-5-9-8-1-2 1-8 9-8 9-3 1-2 3,1 1-2 2,1 1-6 3,5 1,0 1-6 1,3 3,2 1-9 2,6 3,2 0-12zM357,193l5,5 3,6 1,7-1,13-3,13-4,10 1,2-3,3-3,7 1,2-2,1-6,12 1,1-3,2-4,8-10,14-19,20-14,8-9,0-4-2-6-8-2-7 0-9 2-11 5-15 14-29 15-24 10-13 9-9 14-8zM41,193l12-1 7,3 8,6 15,17 20,32 13,28 5,18 1,8-1,10-2,5-5,6-4,2-9,0-13-7-17-17-18-26-12-25-8-27-1-17 3-9zM224,16l0,12 1,0 3-11zM174,16l-4,1 2,9 2,2zM212,15l0,12 2,0 3-11zM181,16l2,9 3,2 0-12z" fill="#2fd335"/><path d="M160,18l-38,10-30,14-19,13-31,31-11,16-7,14-7,22-3,18 1,43 8,36 6,17 12,25 20,29 35,36 28,21 31,15 14,4 18,3 32-1 14-3 20-7 30-17 20-16 26-26 17-21 18-31 12-32 5-21 3-22-1-38-4-19-7-19-7-13-10-14-29-29-20-14-33-15-35-9 0,12 4-8 1,9 3-4 1,5 2,0 1-2 1,3 2,0 1-2 1,3 5,1 9,5 5,5 2,5-2,7-6,6-14,6-23,4-49,1-35-4-17-7-6-6-2-4 1-7 7-7 10-4 1-2 2,1 1-3 2,2 2-3 2,2 1-9 4,8 1-9 4,8zM357,190l7,7 2,6 0,18-4,14 1,3-2,1 1,2-2,1 1,2-2,1 1,2-3,3 1,2-3,3 1,2-2,1 1,1-2,1 1,1-2,1-6,12 1,1-2,1 1,1-3,2-1,2 1,1-4,4 1,1-4,3-8,12-21,21-12,6-9,0-4-2-5-5-3-7 0-18 4-15 14-31 21-34 6-8 14-14 11-6zM39,191l4-2 10,0 13,7 11,11 10,13 16,26 12,24 9,28 0,16-2,6-6,7-4,2-10,0-16-10-17-18-18-27-11-24-8-28-1-8 1-12 2-5zM232,17l0,12 1,0 3-11zM166,17l-4,1 2,9 2,2zM224,16l0,12 1,0 3-11zM213,15l0,12 1,0 3-11zM185,15l-4,1 2,9 2,2z" fill="#4ed72f"/><path d="M150,20l-28,8-19,8-16,9-14,10-31,31-6,8-14,27-7,27-1,42 4,26 11,36 15,30 10,15 13,16 29,29 12,10 21,14 16,8 24,8 18,3 24,0 18-3 24-8 24-13 26-20 26-26 23-30 16-31 8-23 5-21 3-22 0-30-3-19-9-27-7-13-10-14-29-29-20-14-25-12-33-10 0,12 3-4 1,5 1,0 2-4 1,5 2-2 1,3 12,5 7,8 0,7-2,4-8,7-16,6-22,3-42,1-1-1-29-1-16-3-14-6-7-7-2-6 2-6 6-6 9-4 1-2 2,1 1-3 2,2 1-6 3,5 1-6 3,5zM359,188l6,7 2,6 0,17-2,6 1,4-2,1 1,3-2,1 1,2-2,1 2,3-3,1 2,2-3,1 2,2-3,1 1,1-2,1 2,2-3,1 1,1-2,1 1,2-2,1 1,1-3,3 2,2-3,1 1,1-2,1 1,1-2,1 1,1-2,1 1,1-3,3 3,3-1,1-4-1 1,1-3,3 3,3-1,1-4-1 1,1-3,2 1,1-3,2 1,1-3,2 1,1-4,3 1,1-4,3 1,1-5,4 1,1-18,17-14,8-10,0-4-2-7-8-2-6 0-16 9-28 13-26 18-29 19-22 14-8 11,0zM39,188l9-3 9,2 7,4 10,9 10,12 18,28 14,27 10,28 1,19-4,10-5,5-4,2-10,0-10-5-22-21-7-10-4-2 1-2-3-1 1-2-3-1 1-2-6-9-8-17-3-1 2-2-3-7-3-1 2-2-4-12-3-1 2-1-3-13 0-19 3-7zM238,18l0,12 1,0 3-11zM232,17l0,12 1,0 3-11z" fill="#6edc28"/><path d="M324,307l-3,3 7,6 4-5zM352,281l-8-3 1,1-2,1 3,3-1,1-4-1 1,1-2,1 3,3-1,1-4-1 3,3-1,1-4-1 3,3-1,1-4-1-1,1 3,3-6,1 3,3-6,1 6,6 3-2 10-13 7-11zM352,263l1,1-2,1 1,1-2,1 1,1-2,1 1,1-3,3 8,7 8-15zM44,259l-10,2 3,7 9-4zM357,251l2,2-3,1 1,1-2,1 9,5 4-8zM40,249l-4,0-7,3 3,7 10-4-1-3-3-1zM260,23l-3,0-1,11 3-4 1,5 2-2 1,3 11,5 7,7 1,3-1,7-7,8-9,5-16,4-16,2-20,0-1,1-47-1-17-2-15-4-8-4-7-7-2-4 0-6 5-7 11-6 1-3 2,2 1-3 2,2-1-11-25,8-20,10-19,13-31,31-11,16-7,14-5,14-5,26 0,34 4,26 10,33 10-4-3-2 2-2-3-1 2-2-3-1 2-1 0-2-3-1 2-2-3-1 2-1 0-2-3-1 2-1-2-10 0-17 3-8 6-6 5-2 9,0 9,4 8,6 11,12 23,35 19,38 7,24 0,15-4,10-8,7-10,1-14-7-15-14-5,2-2-1 4-5-3-3-5,2-2-1 4-5-4-2 1-2-4-2 1-2-3-1 1-2-3-1 1-2-3-1 1-2-3-1 1-2-1-2-3-1 1-2-2-4-10,4 13,20 13,16 36,35 26,18 16,8 20,7 22,4 24,0 18-3 19-6 19-9 16-10 20-16 22-22-8-4-12,11-15,8-10-1-10-10-2-6 0-18 9-27 18-35 21-32 18-18 11-5 9,0 5,2 7,8 2,7 0,15-1,1 1,5-2,1 0,2 2,2-3,1 2,3-3,2 2,2-3,1 2,2-3,1 2,2-3,1 2,2-3,1 2,2-3,1 10,5 7-20 5-21 3-22 0-30-5-27-10-25-14-21-29-29-20-14-20-10z" fill="#8ee022"/><path d="M323,308l6,6 3-3-6-4zM73,306l-8,4 3,4 6-6zM328,302l6,6 2-1-2-3zM331,298l6,6 3-2zM66,297l-9,4 6,7 6-6 0-1-5,2-2-1zM342,285l-2,0 3,3-1,1-4-1 3,3-1,1-4-1 3,3-1,1-4-1 6,6 3-2 6-9zM56,282l-9,4 1,2 5-2zM343,280l6,6 3-1-1-2zM52,275l-9,4 1,3 3,1 6-5zM352,263l1,1-2,1 1,1-2,1 1,1-2,1 1,1-3,3 8,7 8-15zM44,259l-10,2 0,2 2,1zM356,254l8,5 3-3zM41,252l-10,2 0,2 2,1zM359,246l10,5 1-3zM24,236l4,13 10-4-3-2 2-2-3-1 2-2-3-1 2-2zM267,25l-6-1-1,11 2-2 2,3 1-2 1,3 10,4 7,6 3,5 0,4-4,8-7,6-12,5-15,3-27,1-1,1-60-1-16-2-15-4-9-5-5-5-3-6 0-5 7-9 10-5 1-2 1,1-1-11-18,6-20,10-19,13-31,31-11,16-7,14-5,14-5,26 0,34 4,26 5,17 10-4 0-1-5-1 4-3-5-1 4-2 0-2-3-1 2-1-1-22 3-9 5-5 6-3 10,0 6,2 9,6 10,10 24,35 23,44 8,24 1,16-2,8-4,7-6,5-5,2-9-1-16-10-13-13-8,4 25,25 16,13 17,11 29,13 29,6 24,0 18-3 19-6 19-9 16-10 20-16 22-22-8-4-10,10-11,8-10,4-5,0-7-3-7-8-3-9 0-13 2-10 6-17 18-36 22-35 19-21 13-7 11,0 6,3 4,4 4,12-1,18 2,2-3,2 5,3-6,1 5,3-6,1 5,3-6,1 2,2-3,1 2,2 8,2 3-7 5-21 3-22 0-30-5-27-10-25-14-21-29-29-20-14-20-10z" fill="#aee41b"/><path d="M79,313l-8,4 4,3 5-5zM324,307l6,6 2-2zM73,306l-8,4 2,3zM328,302l6,6 2-1-2-3zM66,297l-9,4 6,7 6-6 0-1-5,2-2-1zM334,294l6,6 3-2zM340,285l6,6 2,0 1-2zM53,277l-8,3-1,2 3,1zM347,273l8,7 1-2-1-2zM352,263l8,5 3-3zM356,254l8,5 3-3zM41,252l-10,2 0,2 2,1zM25,240l10-5-8,0-3,1zM364,231l8,4 3-1 0-2-3-1zM128,26l-27,11-28,18-31,31-11,16-7,14-5,14-5,26 0,34 7,38 2,5 10-4 0-1-5-1 4-3-5-1 4-3-5-1 4-2 0-2-5-1 4-2-1-18 4-13 6-5 5-2 11,0 12,6 15,15 22,33 24,45 10,29-1,22-3,6-7,7-7,3-7-1-13-7-10-9-6,6 13,13 16,13 17,11 26,12 14,4 18,3 24,0 22-4 20-7 30-17 20-16 22-22-8-4-13,13-10,7-12,5-7-1-10-9-4-9-1-13 4-18 5-13 15-30 20-34 17-23 7-7 10-7 6-2 11,0 10,6 3,5 2,12-1,13 2,2-3,1 0,2 5,3-6,1 2,2 9,2 6-35 0-30-5-27-10-25-14-21-29-29-20-14-20-10-18-6-1,3 0,8 2-2 1,3 12,6 6,6 2,4-3,10-7,7-7,4-9,3-20,3-75,1-35-4-15-6-9-9-2-5 1-7 7-7 10-5 1-2 1,1 1-3 2,2 0-8-1-3z" fill="#c6e415"/><path d="M268,26l-1,3 0,8 2-2 2,3 1-2 1,3 12,6 8,8 1,6-2,6-6,7-13,7-13,3-20,2-82,0-20-2-16-4-9-5-5-5-4-8 1-7 8-8 6-3 2-3 1,1 2-2 1,1-2-11-11,4-20,10-19,13-31,31-11,16-7,14-5,14-5,26 0,34 5,30 11-3 0-1-9-1 8-3 0-2-9-1 8-3 0-20 2-7 5-6 6-3 11-1 7,2 7,4 15,15 14,20 26,45 13,27 7,22 0,18-3,8-9,10-6,3-9-2-10-5-6-5-1,1-4-5-6,6 16,15 21,15 21,11 13,5 29,6 24,0 22-4 20-7 24-13 19-14 17-16-6-6-4,4-1,3-2-1-16,10-7,2-5-1-11-10-4-9-1-12 3-16 4-11 22-44 28-45 8-10 11-10 13-6 12,1 7,4 5,8 1,22 5,3-6,1 0,2 8,4-9,1 2,2 9,2 5-31 0-30-5-27-10-25-14-21-29-29-20-14-20-10z" fill="#dae10d"/><path d="M95,329l-6,6 3,3 4-6zM304,328l-1,3 4,6 3-4zM17,211l1,4 11-3 0-1zM369,210l8,4 3,0 1-4zM278,29l-3,0-2,10zM92,42l-19,13-31,31-11,16-9,19-7,27-1,42 3,19 11-3 0-2-9-1 8-3 0-14 4-14 6-5 11-3 11,2 11,7 8,8 14,19 26,44 19,37 6,16 3,14 0,8-3,11-3,5-11,10-11-1-12-6-6-5-6,6 2,3 16,13 17,11 16,8 13,5 21,5 32,1 18-3 19-6 29-15 28-22-7-6-8,6-13,6-10-1-7-6-6-10-2-8 0-10 4-17 12-27 22-40 25-39 18-18 9-4 6-1 7,1 7,3 5,4 3,9 1,16 8,4-9,1 0,2 2,2 9,2 3-20 0-30-3-19-6-20-10-20-10-14-29-29-20-14-25-12-3,7 0,4 11,6 9,9 0,6-3,7-10,9-12,5-20,3-20,0-1,1-87-1-26-5-8-4-8-8-3-6 0-7 2-3 8-7 8-4 1-2 1,1 1-2 1,1-2-11z" fill="#efde06"/><path d="M303,329l4,8 2-3zM92,42l-19,13-31,31-11,16-9,19-7,27-1,42 2,13 11-3 0-21 2-8 5-7 9-4 13,0 11,5 15,15 11,16 39,68 12,25 6,20 0,14-2,7-6,10-8,7-8,1-6-2-15-9-1,1-2-3-6,6 16,14 17,11 16,8 13,5 21,5 8,1 32-1 14-3 20-7 24-13 27-21-7-6-2,4-2-1-15,9-6,2-8-1-9-8-4-6-3-9 0-16 7-22 14-28 41-70 10-13 14-12 7-3 13,0 11,5 4,6 2,10 0,16 2,2 9,2 2-13 0-30-3-19-6-20-10-20-10-14-29-29-20-14-20-10-3,0-2,10 11,6 10,10 0,7-2,5-8,9-9,5-11,3-17,2-112,0-18-2-10-3-8-4-8-8-4-10 1-4 5-6 12-8 1-2 1,1 1-2 1,1-2-11z" fill="#f4d107"/><path d="M103,336l-6,6 2,2zM15,199l1,4 11-3 0-1zM371,197l8,4 3,0 1-4zM87,45l-14,10-31,31-11,16-9,19-7,27-1,8 1,38 11-3 0-10 2-12 2-6 4-4 10-4 14,0 9,4 12,11 23,35 36,64 12,25 5,17 0,13-2,7-5,9-12,11-8-1-18-9-1,1-2-3-6,7 7,6 21,14 16,8 13,5 21,5 8,1 32-1 14-3 20-7 24-13 22-17-7-6-5,4-14,7-11,2-12-11-4-6-3-9 0-15 6-19 14-28 49-84 6-8 13-12 9-4 14,0 10,4 3,3 4,13 1,13 2,2 9,2 1-4-1-38-4-19-7-19-7-13-10-14-29-29-20-14-16-8-2,0-2,10 11,7 10,10-2,10-3,5-8,8-8,4-25,4-124,0-1-1-11,0-18-5-9-7-7-13 0-5 3-4 12-10 3-1 2-3 1,1-2-11z" fill="#f5c108"/><path d="M290,34l-2,0-2,10 15,9 11,11 1,3-6,12-9,9-11,5-13,2-57,0-1-1-92,1-13-2-14-7-7-8-5-11 0-2 6-7 11-8 3-4 1,1 1-2 1,1-5-10-16,9-14,10-31,31-11,16-7,14-5,14-5,26 1,38 11-3 0-15 2-12 3-8 3-3 13-4 11,0 13,6 8,8 10,14 47,82 18,34 6,18 0,16-4,10-9,12-5,5-5,0-12-4-11-6-1,1-2-3-3,3-1-1 1-4-6,6 6,6 16,11 21,11 13,5 21,5 8,1 32-1 14-3 20-7 24-13 17-13-7-6-22,11-9,1-7-7-7-10-4-9-1-12 4-16 13-27 58-101 15-17 9-5 15-1 11,3 5,4 4,14 1,18 2,2 9,2 1-34-2-14-7-25-10-20-10-14-29-29-20-14z" fill="#f7b10a"/><path d="M372,188l8,4 3,0 1-4zM101,37l-28,18-31,31-11,16-9,19-5,17-3,18 0,24 12,0 2-21 3-9 3-4 14-4 13,0 9,4 6,5 11,15 32,59 35,59 10,21 3,12-1,13-7,14-11,13-6,0-9-3-16-8-1,1-1-2-3,3-1-1 1-4-6,6 2,3 21,14 16,8 13,5 21,5 8,1 32-1 14-3 20-7 24-13 13-10-7-6-18,9-10,3-5,0-12-14-6-12-1-16 4-13 11-22 30-50 30-56 10-16 9-10 12-6 13,0 14,4 4,7 4,19 0,12 12,0-1-34-4-19-7-19-7-13-10-14-29-29-20-14-8-4-4,10 12,8 12,12 0,4-6,13-8,8-8,4-10,2-31,0-1-1-26,0-1-1-56,0-1,1-26,0-1,1-31,0-10-2-7-3-6-5-5-7-5-12 14-15 11-7z" fill="#f9a10c"/><path d="M101,37l-28,18-31,31-6,8-12,22-5,14-5,26 0,18 12,0 0-8 4-18 3-7 3-3 25-6 7,1 6,3 11,14 40,79 45,73 6,16 0,10-4,10-17,22-6,0-13-4-16-8-1,1-1-2-6,6 0,2 17,11 16,8 13,5 21,5 8,1 32-1 14-3 20-7 30-17 3-4-6-6-18,9-13,4-6,0-13-16-7-12-1-15 3-9 14-25 16-24 20-34 39-77 10-12 3-2 9-2 26,6 3,3 4,11 3,16 0,8 12,0 0-18-5-27-7-19-7-13-10-14-29-29-24-16-4,10 14,10 10,10 3,5-10,22-4,4-8,4-13,1-1-1-14,0-23-3-35-1-1-1-56,1-52,5-13-1-7-3-5-5-6-11-4-12 14-15 10-7 2-3 1,1 2-3 1,1z" fill="#f98f0d"/><path d="M99,117l-8,6-2,5 0,7 6,22 11,27 17,34 22,37 48,66 0,6-3,5-24,25-4,6-17-3-18-8-2,1-1-2-6,6 0,2 27,15 20,7 22,4 24,0 18-3 19-6 19-9 16-10-2-5-4-3-21,10-15,4-6,0-3-6-25-26-2-4 0-6 35-47 16-24 22-38 16-33 12-32 3-14-1-8-2-3-10-6-17-5-30-5-22-1-1-1-54,0-1,1-22,1-30,5zM306,42l-4,10 11,8 16,16 3,5-3,7-2,11 0,8 2,6 8,7 17,8 6,1 2,2 7,18 3,15 0,7 12,0 0-13-5-27-7-19-7-13-10-14-29-29zM92,42l-19,13-31,31-11,16-7,14-5,14-4,18-1,21 12,0 2-17 7-20 3-3 6-1 15-7 9-7 2-4 1-9-2-13-3-7 11-14 15-12 3-4 1,1z" fill="#f67b0d"/><path d="M123,360l0,2 6,4 26,12 14,4 18,3 24,0 22-4 20-7 22-12-5-9-21,9-13,3-10,0-2-4-7-6-9-5-7-2-9,1-10,5-8,7-2,4-11,0-12-3-14-5-7-4zM120,118l-11,6-4,4-4,8 1,21 12,34 25,47 27,38 13,14 8,6 10,4 8-1 9-5 17-17 24-33 17-29 14-29 8-22 3-13-1-17-6-9-12-7-21-6-29-4-16,0-1-1-41,1-24,3zM88,45l-15,10-31,31-11,16-7,14-5,14-4,18-1,17 12,0 0-6 4-17 9-21 3-4 7-3 6-7 4-11-1-7 6-9 13-14 15-12zM308,44l-4,9 10,7 19,19 7,11-1,8 3,8 8,9 5,2 4,4 5,10 5,15 3,21 12,0-1-17-4-19-7-19-7-13-10-14-29-29z" fill="#f3670d"/><path d="M126,364l19,10 24,8 18,3 24,0 18-3 19-6 24-12 1-3-6-6-23,9-21,4-12,0-1-1 1-2-6-4-12,0-6,4 1,2-1,1-12,0-28-6-11-5-2,1-3-3zM133,120l-13,7-7,7-4,10 1,20 11,32 21,39 21,29 15,15 11,7 7,2 6,0 7-2 11-7 14-14 11-14 23-37 10-21 8-22 3-15 0-10-2-8-9-11-11-6-20-6-20-3-12,0-1-1-43,1-20,3zM313,47l-4,9 7,5 19,19 20,30 12,27 5,21 0,5 12,0-1-13-4-19-7-19-7-13-10-14-29-29zM85,47l-12,8-31,31-11,16-7,14-5,14-4,18-1,14 12,0 3-19 6-17 9-18 18-27 26-26 1,1z" fill="#f1530d"/><path d="M132,366l1,2 22,10 14,4 18,3 24,0 18-3 24-8 13-7-4-9-28,9-21,3-38-1-16-3-17-6-2,1-3-3zM145,122l-16,8-8,8-4,9-1,6 1,15 10,30 11,22 12,19 14,18 9,9 11,8 11,4 8,0 9-3 14-10 12-13 24-36 8-16 8-21 3-13-1-22-4-7-10-9-20-8-15-3-20-2-25,0-25,3zM319,51l-4,9 20,19 16,22 11,21 7,20 2,12 6,1-3,1-2,4 12,0-5-29-7-19-7-13-10-14-29-29zM80,50l-7,5-31,31-11,16-7,14-5,14-5,29 12,0 0-4-2-1 3-1 1-8 5-16 12-25 17-24 22-21z" fill="#ee3f0d"/><path d="M136,368l1,2 18,8 14,4 18,3 24,0 18-3 19-6 14-7-4-9-26,8-22,3-22,0-17-2-14-3-7-3-3,1-1-2-2-1-2,1-1-2zM149,127l-13,7-7,7-5,11-1,7 1,13 3,12 7,18 10,19 12,18 20,21 12,7 8,2 6,0 10-3 11-7 14-14 18-26 11-22 6-17 2-9-1-22-5-9-9-8-10-5-18-5-13-2-38,0-18,3zM322,53l-4,9 21,21 14,20 12,25 5,16 0,4 2,1-1,3 12,0-2-13-6-20-10-20-10-14zM77,52l-35,34-11,16-7,14-5,14-5,26 12,0-8-4 9-1 2-11 5-15 12-24 17-23 18-17z" fill="#eb2b0d"/><path d="M258,370l-4-8-2,3-2-2-26,7-24,1-1,1-1-1-24-1-19-5-3,1-1-2-2,1-1-2-2,2-2,8 14,6 21,5 32,1 22-4 24-9zM157,130l-16,9-6,7-4,9-1,5 1,17 8,24 16,28 19,21 7,5 13,5 10,0 7-2 14-9 9-9 8-10 13-21 7-16 5-17 1-14-2-10-6-10-9-7-8-4-17-5-16-2-22,0-16,2zM326,56l-4,9 16,16 15,21 12,25 4,15 2,1-1,3 6,1-5,3 12,0-8-31-10-20-10-14zM73,55l-31,31-11,16-9,19-7,28 12,0 0-2-2-1 3-1 4-16 11-24 16-23 18-18z" fill="#df220c"/><path d="M149,373l1,3 8,3 29,6 32-1 14-3 17-6-4-10-10,3-25,4-33-1-21-5-3,1-1-2zM166,133l-10,4-10,7-6,8-2,5-1,20 5,18 7,15 11,17 18,18 9,5 7,2 10,0 7-2 10-6 11-10 15-21 8-16 5-16 1-19-2-7-3-6-8-8-11-6-13-4-12-2-26,0zM330,60l-4,8 15,16 13,19 9,18 5,16 2,1-1,3 3,1-2,2 12,0-7-25-10-20-10-14zM69,59l-27,27-6,8-12,22-8,27 12,0-2-2 3-1 3-12 10-22 14-21 17-18z" fill="#ce1d0b"/><path d="M154,375l0,2 4,2 29,6 32-1 25-7-4-10-25,5-32,0-19-4-4,2-2-3zM182,135l-17,5-10,6-5,5-4,7-2,7 0,14 5,18 7,14 10,14 16,14 9,4 10,1 11-3 7-4 12-11 7-9 13-26 3-13 0-12-3-10-5-7-11-8-11-4-16-3zM61,68l-19,18-6,8-12,22-7,22 12,0-2-2 3-1 4-13 11-22 13-18 8-8zM335,65l-6,6 10,10 15,21 9,18 4,13 2,1-1,2 3,1-2,2 12,0-6-20-10-20-10-14z" fill="#be1809"/><path d="M158,376l0,3 29,6 24,0 18-3 9-3-4-10-16,3-27,1-12-2-6,1-1-2-4,1-1-2-4,2-1-3zM185,141l-11,3-8,4-9,8-5,11 0,17 4,13 12,20 10,10 6,4 8,3 9,1 8-2 8-4 15-15 7-11 5-12 2-8 0-15-6-13-5-5-11-6-19-4zM56,73l-14,13-6,8-12,22-4,13 11,2 3-10 10-20 8-12 9-10zM342,72l-6,6 9,10 10,15 9,20 2,1-1,2 2,1-1,1 2,2-1,1 11-1-3-11-10-20-10-14z" fill="#ad1208"/><path d="M165,378l0,3 22,4 24,0 22-4-3-11-2,0-1,5-2-4-13,2-25,0-1,1-1-2-6,0-2,2-1-3-2,0-3,5-1-6-1,0zM189,148l-16,6-7,6-5,10-1,6 1,10 4,12 4,7 13,14 11,5 12,0 12-6 9-9 4-6 7-18 0-14-6-12-12-8-11-3zM53,76l-11,10-6,8-14,27 1,1 10,2 9-20 9-14 7-8zM345,75l-6,6 10,12 11,20 2,1-1,1 2,1-1,2 3,3-1,1 3,1-2,2 11-2-4-11-7-13-10-14z" fill="#9d0d07"/><path d="M223,380l-3-8-4,0-1,9-3-8-25,0-2,2-2,9 28,1 12-2zM179,372l-2,2-2,9 6,1 0-12zM192,158l-9,3-7,6-4,8 0,11 5,12 8,9 5,3 10,2 8-2 6-4 7-8 5-13 0-9-4-9-6-5-10-4zM49,80l-7,6-6,8-10,20 10,2 5-11 11-16-1-2 3-1zM349,79l-6,6 4-1 1,1-3,3 6,1-3,3 5,5-1,1 4,4-1,1 2,1-1,1 1,2 3,2-1,1 2,1-1,1 11-2-10-17z" fill="#8d0806"/><path d="M185,15l-25,3-22,5-35,13-16,9-14,10-31,31-11,16-7,14-5,14-5,26 0,34 3,21 6,24 6,17 12,25 20,29 35,36 28,21 31,15 24,6 32,1 18-3 19-6 29-15 26-20 26-26 11-13 19-29 9-19 8-23 5-21 3-22 0-30-5-27-7-19-7-13-10-14-29-29-20-14-20-10-26-9-36-7zM123,86l27-6 17-2 15,0 1-1 32,0 39,4 29,8 17,9 17,16 7,11 6,19 1,20-5,26-10,27-22,43-26,39-15,16-23,16-18,6-19,1-23-6-18-11-17-16-12-15-22-35-20-40-8-21-5-20-1-25 2-11 7-17 12-15 13-10z" fill="#000" fill-opacity="0.116"/><path d="M185,15l-25,3-22,5-35,13-16,9-14,10-31,31-11,16-7,14-5,14-5,26 0,34 3,21 6,24 6,17 12,25 20,29 35,36 28,21 31,15 24,6 32,1 18-3 19-6 29-15 26-20 26-26 11-13 19-29 9-19 8-23 5-21 3-22 0-30-5-27-7-19-7-13-10-14-29-29-20-14-20-10-26-9-36-7zM111,74l17-5 17-3 20-2 23,0 1-1 44,1 32,4 19,5 26,13 19,18 11,18 6,21 1,23-5,27-10,27-27,52-24,36-23,23-8,6-17,9-22,6-25,0-21-6-20-11-9-7-15-15-11-14-19-30-22-42-10-24-7-27-1-28 3-15 8-19 10-14 16-14z" fill="#000" fill-opacity="0.131"/><path d="M185,15l-25,3-22,5-35,13-16,9-14,10-31,31-11,16-7,14-5,14-5,26 0,34 3,21 6,24 6,17 12,25 20,29 35,36 28,21 31,15 24,6 32,1 18-3 19-6 29-15 26-20 26-26 11-13 19-29 9-19 8-23 5-21 3-22 0-30-5-27-7-19-7-13-10-14-29-29-20-14-20-10-26-9-36-7zM121,58l30-6 27-1 1-1 58,1 23,3 17,4 27,11 21,15 15,17 13,25 4,15 2,19-2,26-4,18-6,18-17,37-19,32-22,28-25,22-11,7-20,9-22,5-30-1-24-7-14-7-16-11-26-26-20-28-24-45-8-20-6-20-4-27 0-14 2-16 7-22 9-16 18-20 17-12 12-6z" fill="#000" fill-opacity="0.151"/><path d="M185,15l-25,3-22,5-35,13-16,9-14,10-31,31-11,16-7,14-5,14-5,26 0,34 3,21 6,24 6,17 12,25 20,29 35,36 28,21 31,15 24,6 32,1 18-3 19-6 29-15 26-20 26-26 11-13 19-29 9-19 8-23 5-21 3-22 0-30-5-27-7-19-7-13-10-14-29-29-20-14-20-10-26-9-36-7zM136,44l38-6 21,0 1-1 27,1 39,6 25,8 22,11 9,6 16,14 16,21 8,16 4,12 4,21 0,31-2,14-9,35-7,18-11,22-10,16-13,17-30,30-27,18-28,11-16,3-28,0-12-2-24-8-17-9-17-12-27-26-23-31-13-24-13-35-6-28-2-26 3-28 5-17 7-15 15-21 19-17 26-15z" fill="#000" fill-opacity="0.177"/><path d="M185,15l-25,3-22,5-35,13-16,9-14,10-31,31-11,16-7,14-5,14-5,26 0,34 3,21 6,24 6,17 12,25 20,29 35,36 28,21 31,15 24,6 32,1 18-3 19-6 29-15 26-20 26-26 11-13 19-29 9-19 8-23 5-21 3-22 0-30-5-27-7-19-7-13-10-14-29-29-20-14-20-10-26-9-36-7zM168,31l38-2 36,4 31,8 20,8 15,8 18,13 16,16 9,12 12,24 7,29 1,31-3,24-5,22-10,28-18,33-18,23-18,18-16,13-17,11-14,7-16,6-17,4-32,1-18-3-16-5-23-11-30-22-26-27-22-33-12-27-6-19-5-23-2-17 0-27 2-15 10-31 16-25 23-22 29-17 31-11z" fill="#000" fill-opacity="0.215"/><path d="M209,373l0,12 6-1-3-11zM187,373l-2,2-2,9 6,1 0-12zM163,371l-2,6 1,3 18,4 0-12-3,2-2,6-1-9-4,8-1-9-3,5-1-6zM237,368l-2,3-2-2-1,5-3-4-1,9-3-8-1,0-1,9-3-8-2,0 0,12 23-6zM155,366l-5,10 7,2 1-11-2,2zM249,364l-2,3-2-2 0,4 3,7 5-2zM150,364l-5,10 3,1zM143,361l-5,8 1,2 4,2 2-6 0-5-1,1zM268,355l-15,7 2,10 18-9 0-2zM129,354l-6,6 0,2 3,2 2-1 3-6 0-2-1,1zM272,352l3,8 2,1 1-3zM107,339l-6,7 19,14 4-9-3,3-1-1 1-4-3,3-1-1 1-4-3,3-1-1 1-4-3,3-1-1 1-4-1-1-3,3zM102,335l-6,6 3,3 4-6zM298,334l-2,1 2,5-1,2-4-4-2,1 2,5-1,2-5-4-1,3-2-1-2,4-2-1-1,3-2-1 4,9 23-18zM93,327l-6,6 5,5 4-6 0-2zM323,317l-6-2-14,14 4,8 18-18zM79,313l-8,4 5,5 6-5zM324,307l-2,2 7,6 3-4zM327,303l6,6 3-2-2-3-4-2zM346,278l-2,0 1,1-2,1 3,3-1,1-4-1 1,1-2,1 3,3-1,1-4-1 3,3-1,1-4-1 3,3-6,1 3,3-1,1-4-1 6,6 3-2 13-19-1-2zM352,263l1,1-2,1 1,1-2,1 1,1-2,1 1,1-3,3 8,7 8-15zM34,261l10,21 10,15 14,17 6-7-1-1-5,2-2-1 4-5-4-2 1-2-4-2 1-2-3-1 1-2-3-1 1-2-3-1 1-2-3-1 1-2-1-2-3-1 1-2-9-18zM357,251l2,2-3,1 1,1-3,3 10,5 4-10zM40,249l-4,0-7,3 3,7 10-4-1-3-3-1zM16,205l7,30 5,14 2,0 8-5-3-1 2-1-3-2 2-2-3-1 2-2-5-1 4-2-3-2 2-2-5-1 4-2 0-1-5-1 4-3-5-1 4-2 0-2-5-1 4-2 0-2-9-1 8-4zM382,203l-12,0 2,3 6,2-9,1 2,3 3,1-6,1 0,1 5,3-6,1 5,3-6,1 5,3-1,1-5,0 5,3-6,1 2,2-3,1 2,2-3,1 2,2-3,1 2,2-3,1 2,2-3,1 8,5 2,0 7-20zM15,198l1,5 11-3 0-2zM371,196l2,3 9,2 1-5zM14,188l1,6 11-3 0-3zM372,185l0,3 2,2 9,2 1-7zM383,154l-9,2-2,4 12,0zM15,152l-1,6 12,0 0-3zM383,150l-1-4-9,2-2,2zM26,116l-2,0-9,33 12,0 0-2-8-3 9-1 0-1-8-3 9-1-4-3 5-1 0-1-4-2 5-1-2-2 3-1-2-2 3-1-2-2 3-2zM370,112l-8,5 2,1-1,1 3,1-2,2 3,1-2,2 3,1-2,2 3,1-2,2 6,1-5,3 6,1-5,3 9,1-8,4 12,0-7-25-3-7zM29,107l-3,7 10,2 2-5zM365,99l-8,7 2,1-1,1 2,1-1,1 2,1-1,1 11-2zM37,93l-4,7 9,4 1-2-1-2 3-2-6-5zM356,87l-7,6 4-1 1,1-3,3 3-1 2,1-3,3 2,1-1,1 9-4zM355,85l-3-2-6,6zM50,79l-8,7-3,4 9,4-4-5 1-1 4,2 2-1-4-4 1-1 4,2 3-1zM351,81l-4-4-6,6 4,2zM69,59l-3,3 6,6 1-3zM73,55l-2,3 6,6zM83,48l-8,6 6,7-1-3 1-2 3,3-1-3 1-2 3,3zM89,44l-3,2 0,2 6,6 1-2 1,1 0-2-3-6zM306,42l-4,10 4,2 2-1 1,3 2-1 1,3 2-1 1,3 2-1 1,3 5-4 1,2-2,5 5-4 1,2-2,5 3,2 5-6-8-8zM101,37l-7,4 7,8 1-2 1,1zM110,33l-5,3 5,9 1-2 1,1zM230,17l0,12 3,0 3-8 1,9 2,0 2-4 1,5 2,0 2-4 1,5 2,0 2-4 1,5 3-4 1,5 1,0 2-4 1,5 2-2 1,3 2-2 1,3 2,0 1-2 2,3 1-2 1,3 3,1 1-2 1,3 2-2 1,3 2,1 2-2 1,3 4,2 5-8-1-2-8-4-19-7zM168,17l-37,8-19,7 0,2 5,8 1-3 2,2 1-2 1,1 1-3 2,2 1-3 2,2 1-3 2,2 1-6 3,5 1-3 2,2 1-6 3,5 0-5 1-1 3,5 1-6 3,5 1,0 1-6 1,3 3,2 1-6 1,3 3,2 1-9 2,6 4,2zM222,16l0,12 3,0 3-11zM170,17l2,9 4,2 0-12zM207,15l0,12 7,0 3-11zM181,16l2,9 2,2 6,0 0-12z" fill="#000" fill-opacity="0.275"/></g></g></g>
<g clip-path="url(#c3)"><g filter="url(#fb3)"><g transform="translate(397.125,254.125) scale(0.25)"><path d="M182,16l-34,5-40,13-18,9-20,14-28,28-12,17-7,14-6,18-4,23 0,30 6,36 12,35 13,25 14,20 13,15 20,20 19,16 20,13 14,7 16,6 17,4 34,1 21-4 17-6 20-10 15-10 16-13 29-29 13-16 13-20 9-18 11-31 7-37 0-13 1-1-1-24-8-33-13-25-12-15-30-28-27-16-33-12-35-7z" fill="#271476"/><path d="M182,16l-34,5-40,13-18,9-20,14-28,28-12,17-7,14-6,18-4,23 0,30 6,36 12,35 13,25 14,20 13,15 20,20 19,16 20,13 14,7 16,6 17,4 34,1 21-4 17-6 20-10 15-10 16-13 29-29 13-16 13-20 9-18 11-31 7-37 0-13 1-1-1-24-8-33-13-25-12-15-30-28-27-16-33-12-35-7zM336,249l2,2 0,7-6,13-8,8-4,0-2-3 0-3 5-13 9-10zM60,249l5,2 8,10 4,10 0,6-2,2-5-1-9-11-4-11 0-4zM181,41l3-3 6-2 15,0 7,2 2,2-2,4-6,2-17,0-6-2z" fill="#251e8b"/><path d="M182,16l-34,5-40,13-18,9-20,14-28,28-12,17-7,14-6,18-4,23 0,30 6,36 12,35 13,25 14,20 13,15 20,20 19,16 20,13 14,7 16,6 17,4 34,1 21-4 17-6 20-10 15-10 16-13 29-29 13-16 13-20 9-18 11-31 7-37 0-13 1-1-1-24-8-33-13-25-12-15-30-28-27-16-33-12-35-7zM339,243l2,2 1,6-3,11-4,8-12,14-7,1-2-3 0-7 8-19 11-12zM57,243l3,0 5,3 9,11 7,16 0,10-2,2-5,0-3-2-10-12-7-16 0-9zM174,41l7-5 11-2 19,1 10,5 0,2-4,4-14,3-11,0-11-2-4-2z" fill="#2228a0"/><path d="M182,16l-34,5-40,13-18,9-20,14-28,28-12,17-7,14-6,18-4,23 0,30 6,36 12,35 13,25 14,20 13,15 20,20 19,16 20,13 14,7 16,6 17,4 34,1 21-4 17-6 20-10 15-10 16-13 29-29 13-16 13-20 9-18 11-31 7-37 0-13 1-1-1-24-8-33-13-25-12-15-30-28-27-16-33-12-35-7zM341,238l3,3 0,11-9,21-12,14-5,3-4,0-3-3 0-12 7-17 6-9 9-9 4-2zM54,238l5,0 6,4 10,12 4,7 6,17 0,7-4,5-6-1-5-4-12-16-7-19 0-8zM169,41l4-4 9-3 24-1 14,3 6,4 0,3-4,4-10,3-20,1-16-3-4-2-3-3z" fill="#2031b5"/><path d="M182,16l-34,5-40,13-18,9-20,14-28,28-12,17-7,14-6,18-4,23 0,30 6,36 12,35 13,25 14,20 13,15 20,20 19,16 20,13 14,7 16,6 17,4 34,1 21-4 17-6 20-10 15-10 16-13 29-29 13-16 13-20 9-18 11-31 7-37 0-13 1-1-1-24-8-33-13-25-12-15-30-28-27-16-33-12-35-7zM343,234l3,3 1,7-4,16-6,12-6,9-13,12-6,1-4-4-1-6 1-7 6-16 8-13 10-11 5-3zM52,234l3-1 7,3 10,10 6,9 6,12 4,13 0,8-3,5-5,1-7-4-7-7-7-10-6-12-4-13 0-10zM165,41l4-4 8-3 13-2 16,0 16,3 6,3 3,5-2,3-5,3-12,3-29,0-14-4-4-4z" fill="#1d3bcb"/><path d="M182,16l-34,5-40,13-18,9-20,14-28,28-12,17-7,14-6,18-4,23 0,30 6,36 12,35 13,25 14,20 13,15 20,20 19,16 20,13 14,7 16,6 17,4 34,1 21-4 17-6 20-10 15-10 16-13 29-29 13-16 13-20 9-18 11-31 7-37 0-13 1-1-1-24-8-33-13-25-12-15-30-28-27-16-33-12-35-7zM344,230l4,4 1,5-1,9-4,12-7,14-7,10-10,10-5,3-6,0-4-5 0-12 3-10 7-15 9-13 9-9 5-3zM51,230l6,0 4,2 12,12 9,14 5,11 4,15 0,6-3,6-7,1-7-4-11-12-8-13-8-22 0-11zM161,41l4-4 12-4 25-2 24,4 6,3 3,6-5,5-8,3-12,2-25,0-15-3-6-3-3-3z" fill="#1a45e0"/><path d="M182,16l-34,5-40,13-18,9-20,14-28,28-12,17-7,14-6,18-4,23 0,30 6,36 12,35 13,25 14,20 13,15 20,20 19,16 20,13 14,7 16,6 17,4 34,1 21-4 17-6 20-10 15-10 16-13 29-29 13-16 13-20 9-18 11-31 7-37 0-13 1-1-1-24-8-33-13-25-12-15-30-28-27-16-33-12-35-7zM345,226l5,6 0,12-3,11-9,19-9,13-9,9-7,4-6,0-4-4-1-3 0-9 5-17 7-14 9-13 10-10 7-4zM49,227l6-1 10,6 9,10 9,14 7,15 3,11 0,13-4,5-7,0-10-7-8-9-10-16-6-14-3-12 0-8zM157,42l3-4 12-5 12-2 27,0 21,5 6,5 0,4-5,5-12,4-16,2-15,0-16-2-10-3-7-6z" fill="#1a50e7"/><path d="M182,16l-34,5-40,13-18,9-20,14-28,28-12,17-7,14-6,18-4,23 0,30 6,36 12,35 13,25 14,20 13,15 20,20 19,16 20,13 14,7 16,6 17,4 34,1 21-4 17-6 20-10 15-10 16-13 29-29 13-16 13-20 9-18 11-31 7-37 0-13 1-1-1-24-8-33-13-25-12-15-30-28-27-16-33-12-35-7zM347,225l4,6 0,11-5,17-8,16-10,14-8,8-6,4-8,1-5-6 0-13 3-11 9-19 11-16 8-8 9-5zM50,224l4,0 8,4 11,11 10,15 8,17 4,15-1,11-3,4-7,1-6-3-13-13-11-17-5-11-5-18 1-11zM155,42l5-5 7-3 14-3 20-1 1,1 12,0 17,4 9,6 0,5-6,5-8,3-11,2-21,1-1-1-13,0-14-3-6-3-5-5z" fill="#1a5be9"/><path d="M182,16l-34,5-40,13-18,9-20,14-28,28-12,17-7,14-6,18-4,23 0,30 6,36 12,35 13,25 14,20 13,15 20,20 19,16 20,13 14,7 16,6 17,4 34,1 21-4 17-6 20-10 15-10 16-13 29-29 13-16 13-20 9-18 11-31 7-37 0-13 1-1-1-24-8-33-13-25-12-15-30-28-27-16-33-12-35-7zM347,223l4,4 1,3 0,10-4,15-9,19-8,12-10,11-9,6-4,1-4-1-3-3-2-6 1-12 4-13 9-18 9-13 12-12 8-4zM48,223l5-1 11,6 11,12 8,12 8,16 5,17 0,11-1,3-4,4-3,1-4-1-7-4-11-11-9-13-8-16-5-16-1-10 1-5zM153,43l7-7 13-4 15-2 19,0 10,1 16,4 9,7 0,4-4,4-6,3-11,3-39,1-19-4-7-4z" fill="#1a66eb"/><path d="M182,16l-34,5-40,13-18,9-20,14-28,28-12,17-7,14-6,18-4,23 0,30 6,36 12,35 13,25 14,20 13,15 20,20 19,16 20,13 14,7 16,6 17,4 34,1 21-4 17-6 20-10 15-10 16-13 29-29 13-16 13-20 9-18 11-31 7-37 0-13 1-1-1-24-8-33-13-25-12-15-30-28-27-16-33-12-35-7zM349,222l4,8-1,13-4,13-8,17-10,15-13,13-8,4-5,0-5-5-1-3 0-11 5-17 5-11 15-23 10-10 7-4zM48,221l7,0 6,3 13,13 10,15 8,16 5,16 0,14-4,6-7,1-9-5-10-10-11-16-8-16-5-17 0-14zM151,44l2-4 4-3 14-5 14-2 26,0 13,2 13,4 6,5 1,5-5,5-13,5-14,2-29,0-23-5-5-3z" fill="#1a71ed"/><path d="M182,16l-34,5-40,13-18,9-20,14-28,28-12,17-7,14-6,18-4,23 0,30 6,36 12,35 13,25 14,20 13,15 20,20 19,16 20,13 14,7 16,6 17,4 34,1 21-4 17-6 20-10 15-10 16-13 29-29 13-16 13-20 9-18 11-31 7-37 0-13 1-1-1-24-8-33-13-25-12-15-30-28-27-16-33-12-35-7zM349,220l4,6 1,5-1,10-3,11-9,20-9,14-14,15-8,5-9-1-4-6 0-14 3-11 8-18 10-16 12-14 11-7zM48,219l6,0 9,5 13,14 13,21 6,14 4,16-1,11-5,6-7,0-10-6-11-12-10-15-7-14-6-20 0-12 1-3zM150,42l7-6 12-4 13-2 32,0 22,5 4,2 5,5 1,3-6,7-10,4-20,3-25,0-15-2-10-3-9-6z" fill="#1a7cef"/><path d="M182,16l-34,5-40,13-18,9-20,14-28,28-12,17-7,14-6,18-4,23 0,30 6,36 12,35 13,25 14,20 13,15 20,20 19,16 20,13 14,7 16,6 17,4 34,1 21-4 17-6 20-10 15-10 16-13 29-29 13-16 13-20 9-18 11-31 7-37 0-13 1-1-1-24-8-33-13-25-12-15-30-28-27-16-33-12-35-7zM347,217l5,4 2,4 0,13-8,25-10,18-9,12-15,13-9,2-6-5-2-7 1-11 7-21 11-20 8-11 14-13 7-3zM45,219l4-2 4,0 8,4 14,14 10,15 11,23 4,15 0,11-4,7-7,2-10-5-13-13-12-18-9-20-4-16 0-9zM148,43l6-6 10-4 15-3 24-1 20,2 12,3 8,4 4,4 0,5-5,5-17,6-17,2-20,0-17-2-12-3-6-3-4-4z" fill="#1a87f1"/><path d="M182,16l-34,5-40,13-18,9-20,14-28,28-12,17-7,14-6,18-4,23 0,30 6,36 12,35 13,25 14,20 13,15 20,20 19,16 20,13 14,7 16,6 17,4 34,1 21-4 17-6 20-10 15-10 16-13 29-29 13-16 13-20 9-18 11-31 7-37 0-13 1-1-1-24-8-33-13-25-12-15-30-28-27-16-33-12-35-7zM349,216l4,4 2,5 0,10-5,19-10,21-11,16-14,14-8,4-8-1-5-9 0-9 5-19 8-17 10-16 13-15 11-7zM45,217l9-1 9,5 14,15 12,19 7,15 5,17 0,14-5,7-8,1-9-5-15-16-12-19-9-22-3-15 1-9zM146,45l1-3 4-4 8-4 12-3 17-2 20,0 21,3 14,5 6,6 0,4-6,6-4,2-15,4-20,1-1,1-25-1-16-3-11-5-4-4z" fill="#1992f1"/><path d="M182,16l-34,5-40,13-18,9-20,14-28,28-12,17-7,14-6,18-4,23 0,30 6,36 12,35 13,25 14,20 13,15 20,20 19,16 20,13 14,7 16,6 17,4 34,1 21-4 17-6 20-10 15-10 16-13 29-29 13-16 13-20 9-18 11-31 7-37 0-13 1-1-1-24-8-33-13-25-12-15-30-28-27-16-33-12-35-7zM350,215l5,6 1,11-6,23-9,19-13,19-12,12-9,5-9-1-3-3-2-5 0-12 5-18 9-19 14-21 12-12 9-5zM45,215l8-1 5,2 8,6 15,18 9,15 7,15 4,12 2,12-2,11-5,5-8,0-11-7-12-13-10-15-10-21-5-18 0-13 2-5zM145,43l8-7 12-4 20-3 26,0 15,2 14,4 9,6 1,7-8,7-18,5-44,1-18-3-12-5-4-4z" fill="#179def"/><path d="M182,16l-34,5-40,13-18,9-20,14-28,28-12,17-7,14-6,18-4,23 0,30 6,36 12,35 13,25 14,20 13,15 20,20 19,16 20,13 14,7 16,6 17,4 34,1 21-4 17-6 20-10 15-10 16-13 29-29 13-16 13-20 9-18 11-31 7-37 0-13 1-1-1-24-8-33-13-25-12-15-30-28-27-16-33-12-35-7zM350,213l6,8 0,15-6,20-7,15-13,20-12,13-14,8-6-1-6-8 0-15 5-17 9-19 10-16 14-16 14-8zM44,214l7-2 12,6 11,11 13,19 11,22 5,16 1,14-5,10-7,2-11-5-14-14-13-19-7-14-7-21-1-16 1-4zM143,45l2-4 5-4 18-6 14-2 31,0 26,5 8,4 4,4 1,6-6,6-17,6-15,2-32,0-20-3-9-3-9-7z" fill="#15a8ed"/><path d="M182,16l-34,5-40,13-18,9-20,14-28,28-12,17-7,14-6,18-4,23 0,30 6,36 12,35 13,25 14,20 13,15 20,20 19,16 20,13 14,7 16,6 17,4 34,1 21-4 17-6 20-10 15-10 16-13 29-29 13-16 13-20 9-18 11-31 7-37 0-13 1-1-1-24-8-33-13-25-12-15-30-28-27-16-33-12-35-7zM351,212l5,6 1,14-7,25-9,18-13,19-14,14-10,5-5,0-4-2-4-6-1-5 1-13 5-16 9-19 12-19 16-17 9-5zM44,212l9-1 5,2 8,6 13,15 12,19 11,25 3,13-1,15-5,6-8,1-12-7-14-15-14-22-10-25-3-16 1-9zM142,48l0-4 5-6 15-6 18-3 35,0 14,2 16,5 9,9-1,4-8,7-12,4-22,3-27,0-22-3-15-6z" fill="#13b3eb"/><path d="M182,16l-34,5-40,13-18,9-20,14-28,28-12,17-7,14-6,18-4,23 0,30 6,36 12,35 13,25 14,20 13,15 20,20 19,16 20,13 14,7 16,6 17,4 34,1 21-4 17-6 20-10 15-10 16-13 29-29 13-16 13-20 9-18 11-31 7-37 0-13 1-1-1-24-8-33-13-25-12-15-30-28-27-16-33-12-35-7zM351,210l6,8 1,6-1,11-6,20-9,19-12,18-14,15-12,7-9-1-5-7-1-13 6-22 9-19 12-19 14-16 14-8zM43,211l4-2 4,0 12,6 15,16 14,22 10,22 4,15 0,14-2,5-4,4-9,1-9-5-15-15-13-19-10-21-6-21 0-14zM140,45l6-7 15-6 17-3 25-1 1,1 20,1 17,4 10,5 4,5 0,4-6,7-16,6-26,3-19,0-20-2-13-3-10-5-4-4z" fill="#12bee8"/><path d="M182,16l-34,5-40,13-18,9-20,14-28,28-12,17-7,14-6,18-4,23 0,30 6,36 12,35 13,25 14,20 13,15 20,20 19,16 20,13 14,7 16,6 17,4 34,1 21-4 17-6 20-10 15-10 16-13 29-29 13-16 13-20 9-18 11-31 7-37 0-13 1-1-1-24-8-33-13-25-12-15-30-28-27-16-33-12-35-7zM352,209l4,4 2,5 0,14-7,24-6,13-17,26-15,15-9,5-10-1-3-3-3-7 0-12 4-16 12-26 16-24 13-13 9-5zM43,209l10-1 5,2 8,6 14,16 13,21 10,22 4,14 1,9-1,8-7,9-11-1-9-6-15-16-13-20-8-17-6-20-1-14 1-5zM139,44l6-6 8-4 11-3 25-3 18,0 19,2 19,5 7,4 3,3 2,5-1,3-5,5-14,6-18,3-42,0-22-4-9-4-6-5z" fill="#10c9e6"/><path d="M182,16l-34,5-40,13-18,9-20,14-28,28-12,17-7,14-6,18-4,23 0,30 6,36 12,35 13,25 14,20 13,15 20,20 19,16 20,13 14,7 16,6 17,4 34,1 21-4 17-6 20-10 15-10 16-13 29-29 13-16 13-20 9-18 11-31 7-37 0-13 1-1-1-24-8-33-13-25-12-15-30-28-27-16-33-12-35-7zM352,207l6,8 1,5-1,14-6,20-10,21-12,18-15,16-12,7-5,1-5-2-4-4-2-5 0-15 4-15 12-26 12-19 15-17 14-8zM42,208l4-2 5,0 12,6 12,12 18,27 11,24 5,20 0,8-2,7-6,6-4,1-5-1-15-10-10-11-13-19-11-23-6-21 0-16zM137,46l2-4 8-6 16-5 23-3 24,0 17,2 19,5 6,3 5,5 1,6-6,7-15,6-20,3-38,0-16-2-14-4-10-7z" fill="#11cdd1"/><path d="M182,16l-34,5-40,13-18,9-20,14-28,28-12,17-7,14-6,18-4,23 0,30 6,36 12,35 13,25 14,20 13,15 20,20 19,16 20,13 14,7 16,6 17,4 34,1 21-4 17-6 20-10 15-10 16-13 29-29 13-16 13-20 9-18 11-31 7-37 0-13 1-1-1-24-8-33-13-25-12-15-30-28-27-16-33-12-35-7zM353,205l6,8 1,6-1,13-5,18-10,22-15,23-13,14-14,9-9,0-4-3-4-8 0-15 4-15 14-30 13-20 16-17 11-6zM44,204l9,0 14,9 16,19 10,16 12,25 6,23-1,13-6,8-10,1-11-6-15-15-15-22-10-21-7-24 0-15 3-7zM135,46l2-4 5-4 15-6 26-4 30,0 21,3 16,5 9,7 1,7-6,7-11,5-22,4-28,1-1-1-25-1-20-5-10-7-2-3z" fill="#14cdb5"/><path d="M182,16l-34,5-40,13-18,9-20,14-28,28-12,17-7,14-6,18-4,23 0,30 6,36 12,35 13,25 14,20 13,15 20,20 19,16 20,13 14,7 16,6 17,4 34,1 21-4 17-6 20-10 15-10 16-13 29-29 13-16 13-20 9-18 11-31 7-37 0-13 1-1-1-24-8-33-13-25-12-15-30-28-27-16-33-12-35-7zM354,203l4,4 2,5 0,18-6,21-8,18-15,24-20,21-11,6-10-1-4-4-3-7 0-15 5-18 10-22 14-23 17-20 8-6 8-3zM46,201l8,1 10,6 15,16 15,23 13,27 6,23-1,13-7,9-9,1-13-7-17-18-15-23-10-22-6-23 1-17 3-5zM133,45l7-7 6-3 14-4 10-1 1-2 8,1 1-3 2,2 32,0 1-2 1,3 14,1 19,5 8,4 4,4 2,6-1,3-6,6-8,4-11,3-26,3-27,0-26-3-13-4-11-8z" fill="#16ce99"/><path d="M182,16l-34,5-40,13-18,9-20,14-28,28-12,17-7,14-6,18-4,23 0,30 6,36 12,35 13,25 14,20 13,15 20,20 19,16 20,13 14,7 16,6 17,4 34,1 21-4 17-6 20-10 15-10 16-13 29-29 13-16 13-20 9-18 11-31 7-37 0-13 1-1-1-24-8-33-13-25-12-15-30-28-27-16-33-12-35-7zM355,201l3,3 3,7 0,16-7,25-12,25-17,24-14,14-13,7-9-1-6-6-2-5 0-16 5-18 12-26 21-32 13-13 11-6 8,0zM42,200l2-1 11,1 13,9 13,15 17,27 11,24 6,23-1,13-6,9-4,2-6,0-6-2-10-7-15-16-13-19-13-27-7-27 1-15zM130,49l1-4 6-6 8-4 14-4 10-1 1-3 2,2 5,0 1-9 4,8 32,0 3-8 1,9 14,1 16,4 12,6 5,7-1,6-11,9-18,5-18,2-38,0-23-3-17-6-7-6z" fill="#18cf7e"/><path d="M136,24l-21,7-25,12-20,14-28,28-12,17-7,14-6,18-4,23 0,30 6,36 12,35 13,25 14,20 13,15 20,20 19,16 20,13 14,7 16,6 17,4 34,1 21-4 17-6 20-10 15-10 16-13 29-29 13-16 13-20 9-18 11-31 7-37 0-13 1-1-1-24-5-24-6-16-10-18-12-15-30-28-19-12-25-11-28-8-27-4 0,12 5,0 2-4 1,5 4,0 1-2 1,3 18,4 8,4 7,8-1,7-6,6-10,5-12,3-16,2-48,0-25-4-14-6-7-9 2-7 7-6 9-4 16-3 1-2 5,1 1-6 3,5 3,0 0-12zM356,199l4,5 2,6 0,14-7,26-11,24-16,24-15,16-14,9-4,1-7-1-5-4-4-8 0-17 8-25 12-24 12-19 18-21 13-8 7-1zM41,198l8-2 7,2 8,5 16,17 18,28 14,30 5,20-1,14-2,5-5,5-8,2-7-2-8-5-17-17-17-25-12-26-6-21-1-7 1-13 2-5zM206,16l0,12 8,0 3-11zM178,17l2,9 2,2 8,0 0-12z" fill="#1bd062"/><path d="M221,17l0,12 4,0 3-8 1,9 3,0 2-4 1,5 3,0 1-2 1,3 16,4 7,4 5,5 1,8-8,9-20,7-30,3-27,0-34-4-17-7-5-5-2-4 0-4 2-4 6-5 8-4 9-2 1-2 3,1 1-3 4,2 1-6 1,3 4,2 0-12-30,6-21,7-25,12-20,14-28,28-12,17-7,14-7,22-3,19 1,39 3,18 6,23 8,21 10,20 17,25 33,35 29,23 34,17 18,5 13,2 26,0 17-3 16-5 25-12 15-10 16-13 35-36 20-29 9-18 9-24 5-19 4-25 0-13 1-1-1-24-5-24-10-24-6-10-12-15-25-24-24-16-34-14-19-5zM354,195l6,6 2,4 1,16-3,15-5,15-13,27-16,23-17,17-13,7-11-1-5-5-3-7 0-17 5-18 12-26 18-29 6-8 14-14 12-6zM40,196l4-2 7,0 6,2 10,7 18,21 18,30 10,22 6,23 0,10-2,7-7,8-11,1-14-8-18-19-18-28-9-20-7-25 0-18 3-7zM168,18l2,9 4,2 0-12zM209,16l0,12 5,0 3-11zM178,17l2,9 2,2 5,0 0-12z" fill="#1dd146"/><path d="M136,24l-21,7-25,12-20,14-28,28-12,17-7,14-6,18-4,23 1,39 3,18 6,23 8,21 10,20 21,30 29,30 29,23 34,17 18,5 13,2 26,0 21-4 17-6 20-10 15-10 16-13 29-29 13-16 13-20 9-18 11-31 7-37 0-13 1-1-1-24-5-24-6-16-10-18-12-15-30-28-19-12-25-11-28-8-17-3 0,12 2,0 3-8 1,9 2,0 2-4 1,5 2,0 1-2 1,3 12,3 9,5 5,6 0,7-5,7-11,6-11,3-25,3-42,0-30-4-13-5-9-8-1-2 1-8 9-8 12-4 1-2 3,1 1-3 2,2 2,0 1-3 4,2 1-6 1,3 3,2 0-12zM352,192l8,6 3,6 1,6-2,19-10,30-14,26-15,20-13,13-7,5-9,4-7,0-9-7-4-13 3-20 7-19 18-34 18-25 16-14 7-3zM39,194l4-2 10,0 11,6 14,14 6,8 18,29 12,25 7,25-1,16-3,6-6,5-3,1-10-1-16-11-13-14-17-25-13-28-7-27 0-15 2-6zM222,17l0,12 3,0 3-11zM168,18l2,9 3,2 0-12zM211,16l0,12 3,0 3-11zM178,17l2,9 2,2 3,0 0-12z" fill="#2fd335"/><path d="M231,18l0,12 1,0 3-11zM136,24l-21,7-25,12-20,14-28,28-12,17-7,14-6,18-4,23 1,39 3,18 6,23 8,21 10,20 21,30 29,30 29,23 34,17 18,5 13,2 26,0 21-4 17-6 20-10 15-10 16-13 29-29 13-16 13-20 9-18 11-31 7-37 0-13 1-1-1-24-5-24-6-16-10-18-12-15-30-28-19-12-25-11-38-10 0,12 4-8 1,9 3-4 1,5 2,0 1-2 1,3 2,0 1-2 1,3 7,2 7,4 6,8 0,6-5,7-10,6-10,3-35,4-33,0-35-4-17-7-6-6-2-4 1-7 7-7 13-5 1-2 2,1 1-3 3,2 1-6 3,5 1,0 1-6 1,3 3,2 1-9 2,6 3,2 0-12zM355,190l7,7 2,6 0,18-3,14-4,10 1,2-2,1 1,2-3,3 1,2-2,1 1,1-2,1-3,6 1,2-2,1 1,1-3,2-4,8 1,1-3,2-3,5 1,1-3,2-9,13-14,15-16,11-4,1-10-1-7-7-2-4-1-19 6-21 11-24 22-36 6-8 14-14 12-6zM39,191l4-2 10,0 7,3 8,6 15,17 19,30 13,26 8,25 1,7-1,12-2,5-6,7-5,2-7,0-15-8-21-22-17-26-12-27-7-27 0-15 3-8zM223,17l0,12 2,0 3-11zM172,17l-4,1 2,9 2,2zM212,16l0,12 2,0 3-11zM178,17l2,9 3,2 0-12z" fill="#4ed72f"/><path d="M237,19l0,12 1,0 3-11zM158,19l-22,5-21,7-25,12-20,14-32,33-8,12-7,14-7,22-3,19 0,30 2,16 4,20 6,20 16,35 21,30 29,30 29,23 34,17 18,5 13,2 33-1 14-3 17-6 20-10 15-10 16-13 29-29 18-23 8-13 12-25 11-36 5-39-2-31-4-17-6-16-10-18-12-15-18-18-24-18-15-8-26-10-19-5 0,12 3-4 1,5 1,0 2-4 1,5 2-2 1,3 13,6 6,8-1,8-5,6-8,5-9,3-25,4-41,1-1-1-20,0-17-2-15-4-8-4-8-9 1-10 9-8 9-3 1-2 2,1 1-3 2,2 1-6 3,5 1-9 4,8 1-9 4,8zM357,188l6,7 2,6 0,17-3,11 1,3-2,1 1,3-2,1 1,2-2,1 1,2-2,1 1,2-2,1 2,2-3,1 1,1-2,1 1,2-2,1 1,1-3,3 1,2-2,1 1,1-2,1 1,1-2,1 1,1-2,1 1,1-2,1 1,1-2,1 1,1-2,1 1,1-3,2-1,2 1,1-2,1 1,1-3,2 1,1-3,2 1,1-3,2-2,3 1,1-3,2 1,1-25,26-7,5-9,4-11-1-6-5-3-5-2-7 0-12 7-25 14-29 19-31 18-21 8-6 7-3 11,0zM40,187l13-1 13,7 19,21 21,34 13,27 7,23 0,17-2,6-7,8-5,2-11-1-15-10-11-11-12-15-11-17-9-19-3-1 2-2-7-17-5-23 0-12 2-7zM164,18l-4,1 2,9 2,2zM224,17l0,12 1,0 3-11zM182,16l-4,1 2,9 2,2z" fill="#6edc28"/><path d="M43,258l-10,2 3,7 9-4zM148,21l-33,10-25,12-20,14-32,33-8,12-7,14-8,27-2,14 0,30 4,27 6,23 8,21 10-4-1-3-3-1 2-2-3-1 2-2-3-9-3-1 2-2-3-1 2-1 0-2-3-1 2-1-3-16 0-10 2-8 3-5 9-6 9,0 14,7 12,12 17,24 24,44 10,29 1,8-1,11-2,6-7,8-11,3-15-7-20-19-3-1 1-2-5-3 1-2-4-2 1-2-4-2 1-2-3-1 1-2-3-1 1-2-3-1 1-2-1-2-3-1 1-2-3-6-10,4 22,32 29,30 19,16 20,13 14,7 28,9 13,2 26,0 17-3 30-11 30-19 12-10 29-29 18-23 16-29-11-2 1,1-2,1 1,1-2,1 1,1-2,1 1,1-2,1 1,1-2,1 1,1-2,1 1,1-2,1 1,1-3,3 3,3-1,1-4-1 1,1-2,1 3,3-1,1-4-1 3,3-1,1-4-1 1,1-3,2 3,3-1,1-4-1 3,3-6,1 3,3-1,1-4-1-2,2 3,3-1,1-4-1-4,4 3,3-1,1-4-1-14,13-10,6-7,2-9-2-6-5-3-5-2-6 1-21 9-25 12-24 13-22 19-26 7-7 16-9 12,1 8,7 3,8 0,17-1,1 1,5-2,1 1,3-2,1 1,3-2,1 2,3-3,1 1,2-2,2 2,2-3,1 2,2-3,1 1,1-2,1 2,2-3,1 2,2-3,1 1,1-2,1 10,5 11-31 6-29 2-32-3-26-9-28-10-18-6-8-31-31-24-16-25-11-19-5-1,11 3-4 1,5 2-2 1,3 11,5 7,8-1,10-5,6-6,4-15,5-22,3-44,1-1-1-32-1-16-3-14-6-7-7-2-5 0-5 3-5 6-5 7-3 1-2 1,1 2-2 2,1 1-3 2,2 1-6 3,5 1-6 3,5zM164,18l-4,1 2,9 2,2z" fill="#8ee022"/><path d="M323,306l-2,2 7,6 3-4zM326,302l6,6 3-2-2-3-4-2zM335,290l7,7-2,1-6-4-2,0 3,3-1,1-4-1 7,6 7-9zM47,287l5,8 19,23 6-7-3-3-5,2-2-1 4-4-1-2-5,2-2-1 4-5-5,2-2-1 4-5-3-1 1-2-3-1 1-2-3-1 1-2-3-1 1-2zM340,282l3,3-1,1-4-1 6,6 2,0 3-5zM52,276l-9,4 1,3 3,1 6-5zM344,275l1,1-2,1 6,6 2,0 2-4zM351,261l8,5 2-1 2-4-6-2-5,0 1,1zM43,258l-10,2 0,2 2,1zM355,252l8,5 3-3zM39,248l-4,0-7,3 2,4 2,1 8-4-3-2zM108,34l-18,9-20,14-28,28-12,17-11,25-6,30 0,30 6,36 8,25 10-4-3-2 2-2-3-1 2-2-5-1 4-2-3-2 2-2-5-1 4-2-3-2 2-1 0-3-3-1 2-1-2-13 2-17 8-9 5-2 10,0 12,6 15,15 25,38 19,37 7,19 2,10 0,14-4,10-5,6-9,4-6-1-9-4-17-14-8,4 25,24 17,13 13,8 24,11 18,5 13,2 26,0 21-4 26-10 26-16 16-13 25-25-8-4-17,16-8,5-11,3-8-3-8-9-3-11 0-8 5-21 9-21 11-21 23-37 19-21 14-7 9,0 7,3 6,7 2,8 0,15-1,1 1,5-2,1 0,2 2,2-3,1 2,3-3,1 2,3-3,1 5,3-6,1 2,2-3,1 2,2-3,1 2,2-3,1 10,5 10-33 4-25 0-13 1-1-1-24-5-24-10-24-6-10-12-15-30-28-19-12-15-7-25-8-1,11 2-2 2,3 1-2 1,3 11,5 8,9 0,7-2,4-7,7-8,4-15,4-16,2-18,0-1,1-58-1-16-2-15-4-9-5-7-9-1-7 2-4 13-11 1,1 2-2 1,1 1-3 2,2 1-3 2,2 0-8-1-3z" fill="#aee41b"/><path d="M317,313l-4,4 6,6 6-6zM74,308l-8,4 4,3 5-5zM323,306l6,6 2-2zM70,303l-6,2-2,3 2,2zM327,301l6,6 2-1-2-3zM330,297l6,6 3-2zM64,295l-9,4 3,3zM335,290l7,7 2-3zM56,283l-9,4 1,2 5-2zM340,282l6,6 2,0 1-2zM53,278l-8,3-1,2 3,1zM343,277l6,6 3-1-1-2zM352,259l8,5 3-3zM355,252l8,5 3-3zM40,251l-10,2 0,2 2,1zM358,244l10,5 1-3zM24,238l3,10 10-4-3-2 2-2-3-1 2-2zM361,235l2,2-3,1 2,2 6,2 3-1 1-5zM23,235l10-5-8,0-3,1zM269,27l-2,0-1,3 0,8 2-2 1,3 9,4 10,10 0,7-3,6-8,7-11,5-15,3-25,1-1,1-72-1-15-2-14-4-7-4-8-8-2-5 1-7 8-8 6-3 1-2 1,1 1-3 2,2-2-11-10,3-25,12-20,14-32,33-8,12-11,25-6,30 0,30 3,22 5,19 10-4 0-1-9-1 8-3 0-1-5-1 4-2 0-3-3-1 2-1 0-20 3-8 5-5 6-3 15,1 10,6 11,11 19,27 29,53 9,24 2,20-5,14-7,7-4,2-9,0-7-3-14-10-8-8-8,4 25,24 17,13 27,15 16,6 25,5 26,0 17-3 16-5 25-12 15-10 16-13 16-16-6-6-8,8-16,10-3,1-11-1-8-7-3-5-2-6 0-17 2-9 8-21 21-40 25-38 15-15 12-6 11,0 10,6 3,5 2,9-1,17 2,2-3,1 0,2 5,3-6,1 5,3-6,1 5,3-1,1-5,0 8,4 2,0 2-4 6-29 2-32-1-1-1-20-4-17-10-24-6-10-12-15-30-28-19-12zM133,25l-1,3 4,8 0-8-1-3z" fill="#c6e415"/><path d="M77,320l-2,2 12,12 4-8-8-8zM317,313l6,6 2-2zM74,308l-8,4 3,2zM335,290l7,7 2-3zM343,277l6,6 3-1-1-2zM37,243l-10,2 0,3zM25,242l10-5-8,0-3,1zM19,223l2,5 10-4 0-1zM272,28l-3,7 0,4 2-2 1,3 9,4 10,9 1,2-1,10-8,9-9,5-16,4-20,1-1,1-78,0-1-1-21-1-18-5-12-9-4-8 0-6 2-3 8-7 6-3 1-2 1,1-2-11-4,1-25,12-20,14-32,33-8,12-11,25-6,30 0,30 5,31 11-3 0-1-9-1 8-3 0-4-3-1 2-1 1-21 2-5 8-7 7-2 6,0 7,2 10,6 10,10 22,32 22,39 13,28 6,23 0,8-2,9-4,7-7,7-4,2-8,0-14-7-7-6-6,7 31,25 24,13 16,6 25,5 26,0 21-4 17-6 20-10 24-17 18-17-6-6-6,6-9,6-11,5-8,0-10-8-5-9-1-20 2-9 8-21 21-40 23-37 13-16 8-7 7-4 7-2 11,1 7,4 3,3 3,9 0,20 5,3-6,1 0,1 8,4-9,1 2,2 9,2 5-29 0-13 1-1-1-24-5-24-10-24-6-10-12-15-25-24-24-16z" fill="#dae10d"/><path d="M89,324l-6,6 4,4 4-6zM16,209l1,4 11-3 0-1zM115,31l-25,12-20,14-28,28-12,17-9,19-7,28-1,38 3,20 11-3 0-5-3-1 2-1 1-16 2-7 6-6 7-3 13,0 12,6 13,13 12,17 22,37 21,40 8,21 2,10 0,11-2,8-4,7-8,8-4,2-6,0-6-2-11-6-7-6-6,6 19,17 20,13 14,7 16,6 17,4 34,1 17-3 16-5 25-12 15-10 24-21-6-6-2,2 2,5-1,2-5-4-8,6-10,5-10,1-5-3-8-9-3-6-2-14 5-22 17-36 27-47 19-27 12-11 10-5 13,0 7,3 5,4 3,7 1,20 8,4-9,1 0,2 2,2 6,2-1,1-8,0 2,2 9,2 4-24 1-24-1-1-1-20-7-26-13-25-12-15-18-18-24-18-27-13-3,0-2,10 13,7 9,10-1,7-5,8-9,7-11,4-21,3-26,0-1,1-78-1-16-2-17-6-10-9-3-7 0-6 7-8 10-6 1-2 1,1 0-5z" fill="#efde06"/><path d="M300,330l4,8 2-3zM91,326l-6,6 2,2zM368,206l8,4 3,0 1-4zM15,203l1,4 11-3 0-1zM113,32l-23,11-20,14-28,28-12,17-9,19-7,28-1,38 2,13 11-3 0-16 3-12 5-5 10-4 15,1 10,6 9,9 15,21 41,72 11,24 4,14-1,21-8,13-9,7-5,0-9-3-14-9-3,3-1-6-6,6 17,15 20,13 14,7 16,6 17,4 34,1 17-3 16-5 25-12 15-10 17-14-7-6-8,6-16,7-7-1-10-9-4-6-3-10 0-13 6-20 11-23 28-50 23-36 10-11 10-7 6-2 12,0 6,2 8,6 3,11 0,10 3,4 3,1-6,1 0,4 2,2 9,2 3-26-1-24-8-33-13-25-12-15-18-18-24-18-22-11-3,0-2,10 11,6 10,10 0,5-4,9-8,8-5,3-14,4-19,2-107,0-19-2-11-3-9-5-8-9-3-11 8-9 8-5 2-3 1,1 1-2 1,1z" fill="#f4d107"/><path d="M14,195l1,5 11-3 0-2zM106,35l-16,8-20,14-28,28-12,17-9,19-6,22-2,14 1,34 11-3 2-18 5-10 12-5 13,0 12,6 11,11 19,29 40,71 10,21 5,16 0,16-8,16-11,10-4,0-9-3-14-8-3,3-1-1 1-4-6,7 11,9 20,13 14,7 16,6 17,4 34,1 21-4 17-6 20-10 15-10 16-13-7-6 2,5-1,2-5-4-18,10-7,2-5-1-12-12-4-8-2-7 0-11 5-18 12-25 39-69 20-30 12-11 9-4 13,0 12,5 3,3 3,10 1,18 2,2 9,2 2-18-1-24-8-33-13-25-12-15-30-28-19-12-11-5-2,0-2,10 10,6 11,12-4,12-7,8-11,6-14,3-13,0-1,1-117,0-20-2-10-3-6-3-9-9-4-10 1-6 7-7 11-7zM113,32l-3,3 5,8z" fill="#f5c108"/><path d="M106,35l-16,8-20,14-28,28-12,17-9,19-6,22-2,14 1,34 11-3 1-18 4-14 6-4 11-3 10,0 12,5 11,11 15,23 53,94 7,15 5,18-1,12-4,10-15,17-13-3-15-8-1,1-2-3-6,7 7,6 20,13 14,7 16,6 17,4 34,1 21-4 17-6 20-10 26-19-7-6-1,3-2-1-14,8-12,4-4,0-8-8-6-8-5-12 0-15 7-20 64-114 10-14 11-10 11-4 9,0 14,4 4,4 2,6 2,12 0,16 2,2 9,2 2-18-1-24-8-33-13-25-12-15-30-28-25-15-5,10 18,13 4,5 0,3-7,14-9,8-10,4-15,2-41,0-1-1-103,1-18-3-8-4-9-9-6-13 1-3 9-9 11-7 2-3 1,1z" fill="#f7b10a"/><path d="M100,38l-10,5-20,14-28,28-12,17-9,19-6,22-2,14 1,34 11-3 1-23 4-15 3-3 11-4 16-1 8,3 10,9 12,18 26,49 39,66 8,17 3,11 0,12-3,9-16,21-5,0-10-3-16-8-3,3-1-1 1-4-3,3-1-1 1-4-6,6 6,6 20,13 14,7 16,6 25,5 33-1 14-3 26-10 11-6 22-16-7-6-1,3-2-1-15,8-12,4-5,0-13-15-6-13-1-11 5-18 12-23 30-50 30-56 9-14 11-11 9-4 12,0 16,5 3,5 3,11 1,15 12,3 1-14-1-1-1-20-4-17-6-16-10-18-12-15-30-28-23-14-2,0-2,10 12,8 13,13 0,2-9,18-7,6-7,3-12,2-49-1-1-1-69,0-1,1-49,1-12-2-8-4-7-7-8-16 1-3 10-10 12-8 2-3 1,1z" fill="#f9a10c"/><path d="M298,39l-4,10 16,11 13,14-4,13-5,10-6,6-7,3-25,0-1-1-34-2-1-1-17,0-1-1-49,0-1,1-17,0-36,4-25,0-5-2-7-6-10-23 3-5 8-8 14-10 2-3 1,1-4-10-26,17-28,28-12,17-7,14-6,18-3,15-1,28 12,0 2-21 4-13 3-4 20-6 13,0 5,2 10,11 35,70 22,38 27,42 7,14 2,6-1,16-6,10-15,18-5,0-13-4-16-8-1,1-1-2-7,7 20,13 14,7 16,6 17,4 34,1 21-4 17-6 20-10 15-10-2-5-4-3-23,11-13,2-18-23-4-10 0-9 5-14 32-51 23-40 31-63 6-9 5-5 6-3 13,0 20,6 3,3 4,12 3,23 2,2 9,2 1-14-1-1-1-20-7-26-7-15-12-18-24-25-12-10z" fill="#f98f0d"/><path d="M98,118l-8,7-1,12 5,19 15,36 16,31 18,30 22,32 28,36 0,6-2,3-23,23-7,10-5,0-15-4-17-8-1,1-3-3-6,7 6,5 24,13 16,6 25,5 26,0 21-4 26-10 20-12-2-5-4-3-24,10-14,2-4-7-24-24-4-6 0-4 37-49 19-29 21-37 12-25 12-31 3-12 0-12-2-4-9-6-26-7-28-4-32-1-1-1-41,1-1,1-20,1-29,5zM302,42l-4,9 20,15 12,14-4,15 1,17 8,8 16,8 6,1 4,3 7,19 3,17 0,9 2,2 9,2 1-14-1-1-1-20-7-26-7-15-12-18-24-25-12-10zM92,42l-22,15-28,28-12,17-9,19-5,17-3,19 0,14 12,0 2-18 4-14 4-8 22-9 10-8 2-4 1-9-1-9-4-11 3-5 15-15 10-7 2-3 1,1z" fill="#f67b0d"/><path d="M119,358l1,3 24,13 16,6 25,5 26,0 21-4 26-10 17-10-2-5-4-3-25,10-18,3-3-5-7-6-15-7-7,0-12,5-13,13-21-4-19-8-1,1-3-3zM121,118l-13,7-5,6-3,8 0,10 2,11 13,35 27,49 25,34 14,14 10,6 10,1 6-2 11-8 17-19 19-27 18-31 14-30 6-17 3-13-1-18-2-4-6-6-9-5-20-6-27-4-12,0-1-1-52,1-31,5zM307,45l-4,9 16,12 14,15 5,8-1,7 3,10 9,10 6,2 3,4 9,22 3,20 3,1-2,2 0,5 12,0-3-31-6-21-7-15-6-10-12-15-25-24zM88,45l-18,12-28,28-12,17-7,14-6,18-4,23 0,10 12,0 0-7 4-18 9-21 3-3 8-4 5-6 4-10-1-8 7-11 17-17 11-8z" fill="#f3670d"/><path d="M124,361l0,2 6,4 24,11 18,5 13,2 26,0 17-3 21-7 21-11-4-9-23,9-20,4-12,0-2-5-8-3-11,1-5,4 1,2-1,1-12,0-12-2-15-4-11-5-2,1-3-3zM383,167l-1-4-9,2-2,2zM129,122l-9,5-8,8-4,13 0,7 3,16 11,29 18,33 23,32 13,13 16,9 14-1 12-7 16-16 19-26 15-26 12-27 6-20 1-19-2-7-7-9-14-8-17-5-19-3-51-1-33,5zM311,47l-4,9 22,19 10,12 14,22 10,21 6,20 1,10 12,0-1-14-4-17-6-16-10-18-12-15-18-18zM86,46l-16,11-28,28-12,17-7,14-6,18-3,15-1,14 12,0 4-23 5-14 9-18 19-28 17-17 8-6-1-3 1-2 3,3z" fill="#f1530d"/><path d="M131,366l1,2 22,10 18,5 13,2 26,0 17-3 21-7 16-8-5-9-19,7-27,5-41-1-19-4-15-6-2,1-1-2zM138,125l-15,10-7,14 1,22 10,29 9,18 16,25 18,21 10,8 11,5 13,0 6-2 12-8 12-12 13-17 14-23 10-21 7-21 2-11 0-10-2-8-4-7-9-8-19-8-21-4-45-1-22,3zM317,51l-4,9 23,22 16,23 11,23 6,20 1,10 12,0-1-12-4-17-6-16-10-18-12-15-18-18zM80,50l-10,7-28,28-12,17-11,25-4,16-2,17 12,0 0-4-2-1 3-1 3-16 5-14 10-20 13-19 24-24-1-3 1-2 3,3z" fill="#ee3f0d"/><path d="M135,368l1,2 18,8 18,5 13,2 33-1 14-3 26-10-4-10-11,4-23,5-35,1-21-3-15-5-3,1-1-2-2-1-2,1-1-2zM152,126l-13,6-7,5-6,8-2,5-1,21 8,26 7,15 15,24 21,23 9,6 8,3 13,0 6-2 10-6 12-11 14-18 8-13 10-20 8-25 1-16-3-11-3-5-12-10-15-6-13-3-18-2-23,0-17,2zM74,54l-32,31-12,17-11,25-6,30 12,0-8-4 9-1 2-12 5-15 12-24 12-17 21-21zM320,53l-4,9 19,18 16,22 11,22 6,18 1,8 3,1-2,4 12,0-2-14-6-21-13-25-12-15-18-18z" fill="#eb2b0d"/><path d="M143,371l1,3 10,4 18,5 13,2 33-1 14-3 22-9-4-9-27,7-19,2-32-2-18-5-3,1-1-2-2,1-1-2zM155,131l-13,7-7,7-5,11-1,6 1,14 8,25 14,25 10,13 10,10 10,7 7,3 13,1 7-2 12-7 15-15 17-26 8-18 4-14 1-19-2-7-6-10-9-7-18-7-10-2-39-1zM70,57l-28,28-12,17-9,19-7,28 12,0-4-3 5-1 3-13 12-27 12-18 20-21zM323,56l-4,8 20,20 12,17 13,27 4,16 2,1-1,3 12,0-7-28-13-25-12-15-18-18z" fill="#df220c"/><path d="M148,373l1,3 11,4 25,5 33-1 14-3 17-6-4-10-10,3-24,4-27,0-19-3-9-3-3,1-1-2zM170,132l-16,6-6,4-8,9-4,11 0,14 3,13 5,13 10,18 9,12 9,9 10,7 12,4 12-1 15-8 13-13 11-16 5-9 7-18 2-9 0-18-5-11-8-8-17-8-25-4-13,0zM66,61l-24,24-12,17-9,19-6,23 12,0 0-2-2-1 3-1 3-12 10-22 11-17 18-20zM328,60l-4,8 17,18 14,21 9,20 2,8 2,1-1,3 2,1-1,2 6,1-5,3 12,0-7-26-13-25-12-15z" fill="#ce1d0b"/><path d="M153,375l1,3 31,7 26,0 17-3 15-5-4-10-17,4-21,1-1,1-19-1-14-3-4,1-1-2-3,1-2-2zM165,140l-9,5-8,8-4,8-1,18 5,18 13,23 14,15 16,8 7,1 10-2 8-4 10-8 15-20 6-12 4-12 2-14-2-12-5-9-8-7-13-6-8-2-33-1zM335,66l-4,8 9,10 12,17 7,13 6,17 2,1-1,2 3,1-2,2 11-1-4-16-13-25-12-15zM63,65l-21,20-12,17-9,19-5,17 12,0-2-2 3-1 4-13 11-22 9-13 15-16z" fill="#be1809"/><path d="M160,377l0,3 25,5 26,0 26-6-4-10-25,4-20,0-20-3-2,2-2-3zM187,141l-18,5-12,9-6,12 0,17 4,13 12,20 10,10 6,4 8,3 8,1 6-1 9-4 8-6 8-9 6-9 6-13 3-13 0-10-5-13-10-9-6-3-15-4zM56,72l-14,13-12,17-9,19-3,12 11,1-2-2 3-2-2-1 3-1 2-7 10-20 12-17 6-6zM335,66l-4,8 11,12 11,16 10,22 2,1-1,1 2,2-1,2 3,1-2,2 11-1 0-3-6-16-10-18-12-15z" fill="#ad1208"/><path d="M164,378l0,3 21,4 26,0 21-4-3-11-2,0-1,5-2-4-3,0-1,3-1-2-34,1-1,1-1-2-7,1-1-2-3,0-3,5-1-6zM185,149l-11,4-11,10-4,13 1,11 6,15 10,13 8,6 8,3 12,0 13-7 7-7 6-9 6-18-1-14-4-8-5-5-9-5-13-3zM346,78l-6,6 12,16 7,14 2,1-1,1 2,1-1,2 3,3-1,1 3,1-2,2 11-2-4-11-10-18-12-15zM52,76l-10,9-12,17-7,14-3,10 11,1-2-2 3-1 9-20 9-14 7-8zM345,76l-3-3-6,6 3,1z" fill="#9d0d07"/><path d="M185,373l-2,2-2,9 14,1 0-12zM219,372l-3,0-1,9-3-8-12,0 0,12 11,0 11-2zM177,372l-2,2-2,9 6,1 0-12zM192,158l-11,4-6,5-4,8 0,11 4,11 10,11 6,3 9,1 10-4 6-5 7-12 2-12-2-8-7-8-8-4zM45,82l-15,20-5,12 10,2 5-11 11-16zM349,81l-6,6 4-1 1,1-3,3 6,1-3,3 3,2-1,1 2,1-1,1 3,2-1,1 2,1-1,1 3,2-1,1 2,1-1,1 2,1-1,1 2,1-1,1 11-2-9-16z" fill="#8d0806"/><path d="M182,16l-34,5-40,13-18,9-20,14-28,28-12,17-7,14-6,18-4,23 0,30 6,36 12,35 13,25 14,20 13,15 20,20 19,16 20,13 14,7 16,6 17,4 34,1 21-4 17-6 20-10 15-10 16-13 29-29 13-16 13-20 9-18 11-31 7-37 0-13 1-1-1-24-8-33-13-25-12-15-30-28-27-16-33-12-35-7zM114,90l26-7 37-4 41,0 38,4 23,6 17,8 16,13 11,16 5,15 1,24-5,24-10,26-26,50-25,37-19,19-20,12-18,5-22-1-19-7-16-11-19-20-16-23-21-37-12-25-11-30-3-14-1-18 3-17 5-12 6-9 15-14z" fill="#000" fill-opacity="0.115"/><path d="M182,16l-34,5-40,13-18,9-20,14-28,28-12,17-7,14-6,18-4,23 0,30 6,36 12,35 13,25 14,20 13,15 20,20 19,16 20,13 14,7 16,6 17,4 34,1 21-4 17-6 20-10 15-10 16-13 29-29 13-16 13-20 9-18 11-31 7-37 0-13 1-1-1-24-8-33-13-25-12-15-30-28-27-16-33-12-35-7zM116,73l32-6 36-1 1-1 50,1 37,5 21,7 15,8 8,6 14,15 9,16 6,22 0,24-4,20-10,27-29,56-22,34-19,21-19,14-10,5-20,6-8,1-20-1-25-8-20-13-18-18-18-25-27-48-15-32-6-17-5-26 1-23 5-18 11-19 15-15 12-8z" fill="#000" fill-opacity="0.130"/><path d="M182,16l-34,5-40,13-18,9-20,14-28,28-12,17-7,14-6,18-4,23 0,30 6,36 12,35 13,25 14,20 13,15 20,20 19,16 20,13 14,7 16,6 17,4 34,1 21-4 17-6 20-10 15-10 16-13 29-29 13-16 13-20 9-18 11-31 7-37 0-13 1-1-1-24-8-33-13-25-12-15-30-28-27-16-33-12-35-7zM116,60l22-5 17-2 15,0 1-1 69,1 36,6 17,6 14,7 14,10 14,14 14,23 7,25 1,28-2,15-5,20-13,33-24,44-20,28-24,24-21,14-11,5-26,7-27,0-14-3-14-5-23-13-9-7-19-19-14-18-23-38-17-36-10-33-3-24 2-26 6-20 10-18 16-18 20-14z" fill="#000" fill-opacity="0.150"/><path d="M182,16l-34,5-40,13-18,9-20,14-28,28-12,17-7,14-6,18-4,23 0,30 6,36 12,35 13,25 14,20 13,15 20,20 19,16 20,13 14,7 16,6 17,4 34,1 21-4 17-6 20-10 15-10 16-13 29-29 13-16 13-20 9-18 11-31 7-37 0-13 1-1-1-24-8-33-13-25-12-15-30-28-27-16-33-12-35-7zM127,47l23-5 26-3 43,0 32,4 24,6 30,13 20,14 19,21 7,11 6,13 7,28 1,10-1,28-8,37-13,34-12,22-24,32-19,19-15,12-14,9-19,9-27,7-10,0-1,1-20-1-24-6-25-12-16-11-14-12-23-25-22-33-14-31-10-35-3-20 0-31 3-17 6-18 15-25 19-19 13-9 15-8z" fill="#000" fill-opacity="0.176"/><path d="M182,16l-34,5-40,13-18,9-20,14-28,28-12,17-7,14-6,18-4,23 0,30 6,36 12,35 13,25 14,20 13,15 20,20 19,16 20,13 14,7 16,6 17,4 34,1 21-4 17-6 20-10 15-10 16-13 29-29 13-16 13-20 9-18 11-31 7-37 0-13 1-1-1-24-8-33-13-25-12-15-30-28-27-16-33-12-35-7zM175,31l32-1 39,5 37,11 26,13 21,16 13,14 9,13 8,16 5,15 4,22 0,31-7,39-13,36-20,34-13,16-20,20-25,19-16,9-17,7-27,6-26,0-13-2-20-6-26-13-17-12-14-12-24-26-18-27-8-16-9-24-5-19-4-23-1-32 5-29 9-23 14-21 21-20 13-9 15-8 30-11z" fill="#000" fill-opacity="0.214"/><path d="M209,373l0,12 6-1-3-11zM183,375l-2,9 5,1 0-12zM149,374l0,2 29,8 0-12-3,2-2,6-1-9-3,5-1-6-3,5-1-6-3,5-1-6-2,2-1-3-2,2-1-3zM249,373l-4-8-2,3-2-2-1,3-2-2-1,3-2-2-1,3-2-2-1,5-3-4-1,9-3-8-1,0-1,9-3-8-2,0 0,12 32-9zM149,364l-5,10 3,1zM251,362l-2,1 0,4 2,6 2,0 3-3zM258,359l2,10 5-2-3-5zM130,355l-6,6 0,2 18,10 2-11-1,1-1-2-1,1-1-2-1,1-1-2-1,1-1-2-1,1-1-2-1,1zM109,341l-6,7 18,13 4-9-3,3-1-1 1-4-1,1-1-2-3,3-1-1 1-4-1-1-3,3-1-1 1-4-3,3zM104,337l-6,6 2,3 3-2 2-4zM301,341l-7-6-1,1 2,5-1,2-5-4-2,4-2-1-2,4-2-1-1,3-2-1-1,3-2-1-1,3-2-1-1,3-2-1-4,2 4,10 15-10zM98,332l-6,6 4,4 4-6zM305,326l-5,4 4,8 6-6zM77,320l-2,2 12,12 4-8-8-8zM317,313l-4,4 6,6 6-6zM323,306l-2,2 7,6 3-4zM41,278l17,25 13,13 5-6-2-2-5,2-2-1 4-4-1-2-5,2-2-1 4-5-5,2-2-1 4-5-3-1 1-2-3-1 1-2-3-1 1-2-3-1 1-2-1-2-3-1 1-2-2-4zM363,261l-11-2 1,1-2,1 1,1-2,1 1,1-2,1 1,1-2,1 1,1-2,1 1,1-2,1 1,1-2,1 1,1-3,3 3,3-1,1-4-1 1,1-2,1 3,3-1,1-4-1 3,3-1,1-4-1 1,1-3,2 3,3-1,1-4-1 3,3-1,1-4-1-1,1 3,3-6,1 6,6 3-2 12-16zM43,258l-10,2 3,7 9-4zM356,249l2,2-3,1 1,1-2,1 10,5 3-8zM380,205l-12,0 2,3 3,1-6,1 2,3 3,1-6,1 0,1 5,3-6,1 5,3-1,1-5,0 5,3-6,1 2,2-3,1 5,3-6,1 2,2-3,1 2,2-3,1 2,2-3,1 8,5 2,0 5-14zM15,202l8,35 8,21 2,0 8-5-1-2-3-1 2-2-3-1 2-2-1-2-3-1 2-1-3-2 2-2-5-1 4-3-3-1 2-2-5-1 4-2-3-2 2-1 0-2-5-1 4-3-5-1 4-2 0-2-5-1 4-2 0-2-9-1 8-3 0-2zM369,198l2,3 9,2 1-5zM14,195l1,5 11-3 0-2zM370,189l2,4 9,2 1-6zM13,184l1,7 11-3 0-4zM373,165l-2,2 0,10 2,2 9,2 1-4-1-14zM14,153l-1,7 12,0 0-4zM381,149l-9,2-2,4 12,0zM15,145l-1,5 12,0 0-2-4-2zM19,129l-4,14 12,0-8-4 9-1-4-3 5-1 0-1zM369,113l-8,5 2,1-1,1 3,1-2,2 3,1-2,2 3,1-2,2 6,1-5,3 6,1-5,3 6,1-5,3 9,1-6,2-2,3 12,0-7-27-3-7zM37,111l-9-4-5,9-3,10 11,1-2-2 3-2-2-1 3-1 1-3-2-1 3-1zM355,105l2,1-1,1 2,1-1,1 2,1-1,1 2,1-1,1 11-2-7-12-2,0zM361,95l-3-1-6,6 8-3zM358,91l-3-2-6,6zM355,87l-3-2-6,6zM349,80l-7,6 3,1 6-4zM55,83l-6-5-11,12-8,12 10,4 2-4-1-2 3-1-1-2 3-1-1-2 3-1-1-2 4-2-4-5 2-1 5,2zM335,66l-4,8 6,6 2,0 6-4zM66,61l-4,4 6,6 2-4zM70,57l-2,3 6,6zM309,46l-4,9 2,1 2-1 1,3 2-1 1,3 2-1 1,3 2-1 2,4 5-4 1,2-2,5 2,1 6-6-13-11zM90,43l-18,13 6,7-1-4 1-1 3,3-1-3 1-2 3,3-1-3 1-2 3,3-1-3 1-2 3,3 1-2 1,1 1-2 1,1zM294,38l-2,10 9,4 6-8zM287,35l-2,6 0,4 2,1 5-8 0-2zM106,35l-7,4 5,9 1-2 1,1 1-2 1,1zM230,18l0,12 2,0 3-8 1,9 2,0 2-4 1,5 2,0 2-4 1,5 2,0 2-4 1,5 3-4 1,5 1,0 2-4 1,5 2-2 2,3 2-4 1,5 2-2 1,3 2-2 2,3 1-2 1,3 3,1 1-2 1,3 5-8 0-2-19-7zM166,18l-30,6-28,10 0,2 5,8 1-2 1,1 1-3 2,2 1-3 2,2 1-3 2,2 1-3 2,2 1-3 2,2 1-3 2,2 1-3 3,2 1-3 2,2 2-3 3,2 1-3 3,2 1-6 3,5 1,0 1-6 1,3 3,2 1-9 2,6 4,2zM221,17l0,12 4,0 3-11zM168,18l2,9 4,2 0-12zM208,16l0,12 6,0 3-11zM178,17l2,9 2,2 5,0 0-12z" fill="#000" fill-opacity="0.273"/></g></g></g>
<g clip-path="url(#c4)"><g filter="url(#fb4)"><g transform="translate(399.125,474.125) scale(0.25)"><path d="M181,14l-19,5-12,6-11,8-29,29-13,17-10,16-20,20-9,11-10,19-6,26-12,23-7,17-5,18-2,22 3,19 9,19 27,28 14,9 14,6 18,5 40,6 20,9 11,3 26,1 20-5 21-9 19-2 29-6 16-6 14-8 29-28 4-6 8-19 2-13 0-12-2-14-7-23-16-32-8-31-11-19-26-27-13-20-17-21-24-23-15-10-15-6-10-2z" fill="#271476"/><path d="M181,14l-19,5-12,6-11,8-29,29-13,17-10,16-20,20-9,11-10,19-6,26-12,23-7,17-5,18-2,22 3,19 9,19 27,28 14,9 14,6 18,5 40,6 20,9 11,3 26,1 20-5 21-9 19-2 29-6 16-6 14-8 29-28 4-6 8-19 2-13 0-12-2-14-7-23-16-32-8-31-11-19-26-27-13-20-17-21-24-23-15-10-15-6-10-2zM170,332l2-2 8-2 16,0 8,2 2,2-3,2-7,1-16,0-7-1zM182,175l13,0 5,2 5,4 4,8 0,5-4,11-8,8-7,3-4,0-7-3-7-7-4-8-1-7 2-7 6-6zM294,119l11,15 6,12-1,2-6-6-6-9-5-11zM82,119l1,3-6,13-8,11-3,2-1-1 4-9z" fill="#251e8b"/><path d="M181,14l-19,5-12,6-11,8-29,29-13,17-10,16-20,20-9,11-10,19-6,26-12,23-7,17-5,18-2,22 3,19 9,19 27,28 14,9 14,6 18,5 40,6 20,9 11,3 26,1 20-5 21-9 19-2 29-6 16-6 14-8 29-28 4-6 8-19 2-13 0-12-2-14-7-23-16-32-8-31-11-19-26-27-13-20-17-21-24-23-15-10-15-6-10-2zM163,332l2-2 16-4 20,1 8,2 4,3-2,2-12,2-22,0-12-2zM176,168l20-1 7,2 6,3 5,5 4,10-1,9-6,14-10,11-8,4-10,0-9-5-10-12-5-12 0-13 3-6 7-6zM290,112l17,24 8,17-1,2-10-11-8-12-7-17zM86,112l1,3-8,19-6,9-10,11-1-3 12-23z" fill="#2228a0"/><path d="M181,14l-19,5-12,6-11,8-29,29-13,17-10,16-20,20-9,11-10,19-6,26-12,23-7,17-5,18-2,22 3,19 9,19 27,28 14,9 14,6 18,5 40,6 20,9 11,3 26,1 20-5 21-9 19-2 29-6 16-6 14-8 29-28 4-6 8-19 2-13 0-12-2-14-7-23-16-32-8-31-11-19-26-27-13-20-17-21-24-23-15-10-15-6-10-2zM157,332l8-4 20-4 19,2 13,4 2,2-6,3-15,2-29-1-10-2zM168,164l13-3 14,0 10,2 13,7 6,9 1,6-1,9-8,19-12,14-8,5-13,1-8-4-12-12-8-14-3-10 0-13 2-5 8-8zM89,108l1,2-9,23-9,13-12,13-1-1 1-4 8-17 10-16zM287,107l9,11 11,17 10,21-1,3-19-23-6-12-5-15z" fill="#2031b5"/><path d="M181,14l-19,5-12,6-11,8-29,29-13,17-10,16-20,20-9,11-10,19-6,26-12,23-7,17-5,18-2,22 3,19 9,19 27,28 14,9 14,6 18,5 40,6 20,9 11,3 26,1 20-5 21-9 19-2 29-6 16-6 14-8 29-28 4-6 8-19 2-13 0-12-2-14-7-23-16-32-8-31-11-19-26-27-13-20-17-21-24-23-15-10-15-6-10-2zM154,332l2-2 12-4 15-3 17,1 20,6 3,2-6,3-13,2-32,0-16-3zM168,160l10-2 26,1 15,6 8,9 2,7 0,7-5,17-11,18-9,9-6,4-6,2-8,0-9-4-14-14-10-18-4-15 1-10 3-6 5-5zM90,106l1,3-9,24-9,13-14,15-1-3 8-18 13-21zM286,105l14,18 8,13 11,24-1,2-22-26-9-21-2-7z" fill="#1d3bcb"/><path d="M181,14l-19,5-12,6-11,8-29,29-13,17-10,16-20,20-9,11-10,19-6,26-12,23-7,17-5,18-2,22 3,19 9,19 27,28 14,9 14,6 18,5 40,6 20,9 11,3 26,1 20-5 21-9 19-2 29-6 16-6 14-8 29-28 4-6 8-19 2-13 0-12-2-14-7-23-16-32-8-31-11-19-26-27-13-20-17-21-24-23-15-10-15-6-10-2zM150,332l18-7 13-3 20,1 25,9-7,3-21,3-30-1-15-3zM319,164l1-1 1,2-1,1zM166,157l10-2 24,0 10,2 12,5 8,8 3,8-1,14-8,20-11,16-8,8-10,6-4,1-10-1-11-7-13-15-10-19-4-16 0-6 2-7 8-9zM285,104l14,17 11,18 10,23-1,2-16-17-10-14-9-26zM92,103l1,2-4,13-7,17-25,30-1-3 13-28 9-14z" fill="#1a45e0"/><path d="M181,14l-14,3-20,10-8,6-29,29-23,32 4,2 4,5-8,26-5,10-26,30-1-3 13-29 9-14 15-18-6-7-19,19-9,11-10,19-6,26-12,23-7,17-5,18-2,22 3,19 9,19 27,28 14,9 14,6 18,5 40,6 20,9 11,3 26,1 20-5 21-9 19-2 29-6 16-6 14-8 29-28 4-6 8-19 2-13 0-12-2-14-7-23-16-32-8-31-11-19-23-24-7,6 8,9 13,19 14,31-1,2-20-21-7-10-12-34 8-7-12-18-17-21-24-23-15-10-15-6-10-2zM147,332l24-9 16-3 15,2 27,10-7,3-19,3-30,0-23-4zM158,156l18-4 24,0 12,2 9,3 8,5 4,4 4,10-1,14-4,12-7,14-13,18-10,9-8,4-12,0-9-5-16-17-7-11-7-15-4-16 0-6 2-7 5-7z" fill="#1a50e7"/><path d="M181,14l-14,3-20,10-8,6-29,29-20,28 7,8-3,5-4,18-7,17-27,29-1-3 10-24 13-21 13-15-6-7-18,18-9,11-10,19-6,26-12,23-7,17-5,18-2,22 3,19 9,19 27,28 14,9 14,6 18,5 40,6 20,9 11,3 26,1 20-5 21-9 19-2 29-6 16-6 14-8 29-28 4-6 8-19 2-13 0-12-2-14-7-23-16-32-8-31-11-19-22-23-7,6 14,17 8,13 9,19 3,10 2,1-2,2-24-25-5-7-5-12-3-15-3-7 8-8-12-18-17-21-24-23-15-10-15-6-10-2zM144,332l26-10 12-3 12,0 9,2 29,11-13,4-24,3-25-1-13-2zM321,169l1-1 3,1-1,1zM49,169l1-1 5,1-1,1zM54,167l1-1 1,2-1,1zM151,155l13-4 14-2 29,1 13,3 9,4 10,10 2,7-1,13-4,13-9,18-11,16-12,12-8,5-12,1-12-6-17-19-14-25-6-22 1-10 4-7z" fill="#1a5be9"/><path d="M181,14l-14,3-20,10-8,6-29,29-20,28 7,8-3,7-5,24-5,10-29,30-3-3 3-1 5-15 8-16 12-18 10-11-6-7-26,28-10,19-6,26-12,23-7,17-5,18-2,22 3,19 9,19 27,28 14,9 14,6 18,5 40,6 20,9 11,3 26,1 20-5 21-9 19-2 29-6 16-6 14-8 29-28 4-6 8-19 2-13 0-12-2-14-7-23-16-34-3-1-4,2-5,0-1-1 1-1-2-1 12-3 0-4-6-20-11-19-22-23-6,7 14,17 10,17 7,16 2,8 2,1-2,3-25-25-5-7-5-12-2-13-4-12 1-1-2-1 8-7-10-15-17-21-24-23-15-10-15-6-10-2zM142,333l1-3 4,0 25-10 12-3 14,1 22,9 14,4-1,2-32,6-25,0zM49,169l1-1 5,1-1,1zM149,152l22-5 41,1 15,4 8,4 7,7 2,4 1,12-3,13-12,26-17,24-7,7-14,8-11-1-13-9-15-18-14-25-7-20-1-8 1-8 3-6 5-5z" fill="#1a66eb"/><path d="M294,100l-5,8 9,10 11,17 7,14 5,15 3,1-2,2 11-1-4-19-7-15-11-15zM181,14l-14,3-20,10-8,6-29,29-8,10-12,18 8,6-4,11-4,24-4,8-11,12-20,18-3-3 3-1 7-20 10-18 17-22-6-6-25,27-10,19-6,26-12,23-7,17-5,18-2,22 3,19 9,19 27,28 14,9 14,6 18,5 40,6 20,9 11,3 26,1 14-3 28-11-4-10-2,3-1-2-11,3-18,3-32,0-28-6-6,10-1-3 2-10 5,0 10-3 25-11 13-1 11,3 25,11 11,1 3,5 1,7 27-4 23-6 16-7 12-8 25-25 9-16 3-9 2-13 0-12-2-14-7-23-16-34-3-1-4,2-5,0-15-16-14-12-5-7-3-7-4-24-3-7 8-8-16-23-28-30-17-13-20-9-10-2zM49,169l5-1 1,2-3,1zM142,151l13-4 21-3 34,1 12,2 12,4 7,4 6,7 2,6-1,14-7,20-7,14-18,27-13,13-6,4-6,2-6,0-12-6-16-17-17-27-11-27-2-15 1-5 4-7z" fill="#1a71ed"/><path d="M240,342l-5-10-1,3-2-2-13,4-21,3-29-1-21-5-3,1-1-2-6,10 3,0 20,9 11,3 26,1 14-3zM294,100l-4,8 9,11 12,19 8,18 2,8 3,1-2,2 11-1-4-19-7-15-11-15zM162,19l-12,6-11,8-29,29-20,28 4,2 4,4-3,11-2,21-2,7-4,7-8,8-14,10-12,13-11-5 1-1 11,1-2-2 3-1 5-16 8-16 13-19 6-6-6-7-20,21-8,12-7,17-4,20-16,32-8,26-2,22 2,15 4,12 9,15 24,24 14,9 9,4 28,8 27,4 2-9 3-3 13-3 19-10 14-5 12,1 29,14 14,3 3,5 1,7 32-5 28-9 18-11 25-25 9-16 4-14 1-20-4-22-8-22-14-28-11,2-13-13-14-10-9-10-4-12-1-15-2-11-2-4 1-1-2-1 8-7-18-25-24-25-22-16-15-6-10-2-15,0zM135,149l22-6 20-2 22,0 20,2 14,3 10,4 9,8 2,5 0,11-5,17-6,14-20,34-10,13-14,13-6,3-10,0-6-3-13-12-8-10-16-25-14-30-4-16 0-8 3-7z" fill="#1a7cef"/><path d="M138,343l3,0 20,9 17,4 26-1 14-4 19-8-4-10-12,4-18,3-30,0-13-2-9-3-3,1-1-2-2,1-1-2zM80,102l-19,20-8,12-7,17-3,16 11,1-4-3 5-1 3-11 9-19 9-14 9-10zM294,100l-4,8 18,24 9,18 3,10 2,1-1,2 6,1-5,3 11-1-4-19-7-15-11-15zM162,19l-12,6-11,8-29,29-18,25 8,6-3,9-1,9 0,24-3,7-7,7-24,15-10,11-9-4-2,1-15,31-8,26-2,22 2,15 4,12 9,15 24,24 14,9 9,4 28,8 27,4 4-13 5,0 8-3 26-16 10-4 8,1 32,19 13,3 3,6 1,7 32-5 28-9 18-11 25-25 9-16 4-14 1-20-4-22-8-22-14-28-11,3-10-10-24-15-6-6-3-8-1-33-3-7 1-1-2-1 8-7-16-22-24-25-22-16-15-6-10-2-15,0zM123,147l15-5 19-3 52-1 33,5 13,5 5,5 2,5-1,12-7,20-11,23-23,37-11,14-13,12-4,2-8,0-8-5-22-26-17-27-14-28-8-23-1-6 1-8z" fill="#1a87f1"/><path d="M141,342l1,2 19,8 17,4 26-1 14-4 17-7-4-10-2,3-1-2-10,3-21,3-28-1-15-3-4-2-3,2-1-3zM287,153l-9,0-6,6-13,30-20,38-42,63 0,8 4,6 10,10 11,8 16,7 6,0 3,5 1,7 22-3 17-4 16-6 14-8 29-28 9-16 3-9 2-13 0-12-2-14-7-23-16-34-11,4-8-8-9-6zM89,153l-14,5-15,9-9,10-9-4-2,1-14,29-8,26-2,16 2,21 4,12 6,11 27,28 14,9 17,7 20,5 22,3 2-9 3-3 5,0 11-4 15-10 12-12 3-5 1-5-4-9-15-20-25-39-22-43-11-25-5-4zM80,102l-19,20-8,12-7,17-3,16 11,1-4-3 5-1 0-2-2-1 3-1 9-23 10-16 9-11zM294,100l-4,8 9,10 10,15 7,14 4,13 2,1-1,2 6,1-5,3 11-1-4-19-7-15-11-15zM94,84l8,6-4,14 1,17 5,15 5,4 13,0 25-4 32-1 1-1 37,1 29,3 8,2 13,0 6-5 4-13 1-20-3-10 8-7-23-30-24-23-17-11-13-5-10-2-15,0-14,3-20,10-8,6-29,29z" fill="#1992f1"/><path d="M141,342l1,2 19,8 17,4 26-1 14-4 17-7-4-10-2,3-2-2-12,4-13,2-28,0-18-4-3,1-1-2-2,1-1-2-2,2-1-3zM335,173l-10,4-11-10-10-5-7-2-12,0-4,2-9,10-27,51-34,55-5,13 0,7 4,9 10,11 7,5 8,4 9,2 3,5 1,7 22-3 17-4 22-9 12-8 25-25 9-16 4-14 1-8-1-20-8-29zM40,175l-14,28-5,14-4,18-1,10 1,16 3,12 5,11 6,9 24,24 14,9 24,9 35,6 2-9 3-3 8-2 14-8 12-13 3-7 0-9-6-14-27-43-28-53-11-16-7-4-12,0-15,6-6,4-8,9zM80,102l-13,13-11,14-8,16-5,18 12,0-2-2 3-1 4-13 8-16 16-21zM294,100l-4,8 10,11 11,17 8,20 2,1-1,2 3,1-2,3 6,1-5,3 11-1-4-19-7-15-11-15zM94,84l8,6-2,7 0,13 3,11 7,9 7,3 32,0 1-1 22,0 1-1 86,2 7-3 5-5 3-6 2-8 0-15-2-5 1-1-2-1 8-7-21-27-28-26-11-7-15-6-10-2-15,0-19,5-12,6-11,8-29,29z" fill="#179def"/><path d="M141,342l1,2 19,8 17,4 26-1 14-4 17-7-4-10-2,3-2-2-4,2-20,4-30,0-17-4-3,1-1-2-2,1-1-2-2,2-1-3zM336,175l-10,4-1-1 1-1-6-5-14-8-7-2-11,0-5,2-11,12-30,55-23,37-9,19-1,4 1,11 5,9 8,8 7,5 15,6 3,11 22-3 17-4 22-9 12-8 25-25 9-16 4-14 1-8-1-20-8-29zM40,175l-14,28-5,14-4,18-1,10 1,16 3,12 5,11 6,9 24,24 14,9 24,9 35,6 2-9 4-4 6-1 12-7 10-10 4-7 1-13-7-17-27-44-24-45-13-18-8-4-11,0-15,6-7,5-5,6zM80,102l-13,13-11,14-8,16-5,18 12,0-2-2 3-1 0-2-2-1 3-1 7-18 7-12 13-16zM294,100l-4,8 7,7 13,19 6,12 3,10 2,1-1,2 3,1-2,3 6,1-5,3 11-1-4-19-7-15-11-15zM96,81l8,6-3,7 0,15 2,7 3,6 6,6 9,3 37,0 1-1 96,1 4-1 9-5 5-8 2-7 0-16-1-1 1-3-2-1 8-7-21-27-24-23-17-11-13-5-10-2-15,0-14,3-20,10-8,6-29,29z" fill="#15a8ed"/><path d="M230,334l2,10 3,0zM141,342l1,2 19,8 17,4 26-1 26-9-4-10-21,5-23,1-17-2-10-3-2,1-1-2-2,1-1-2-2,2-1-3zM336,175l-10,4-13-11-11-4-12,0-8,4-12,15-27,49-23,38-8,19 1,15 4,7 10,10 8,5 10,3 3,12 22-3 17-4 22-9 12-8 25-25 9-16 4-14 1-8-1-20-8-29zM39,177l-13,26-5,14-4,18-1,10 1,16 3,12 5,11 6,9 24,24 14,9 24,9 35,6 3-12 10-3 7-4 8-7 7-11 1-16-10-22-22-36-27-49-12-14-7-3-12,0-17,8-8,9zM80,102l-13,13-11,14-8,16-5,18 12,0-4-3 5-1-2-2 3-1 9-22 7-11 11-13zM294,100l-4,8 11,12 8,12 8,16 2,8 2,1-1,2 3,1-2,2 12,0-4-15-7-15-11-15zM96,81l8,6-2,5-1,10 4,15 6,7 8,4 5,1 128,0 12-4 6-6 5-15-1-13-2-3 1-1-2-1 8-7-19-24-17-17-17-13-20-9-10-2-15,0-19,5-12,6-11,8-29,29z" fill="#13b3eb"/><path d="M146,344l0,2 15,6 17,4 26-1 26-9-4-10-14,4-15,2-27-1-15-4-3,2-1-3zM146,334l-5,8 3,3zM337,177l-10,4-1-1 1-1-12-9-16-5-11,2-6,4-13,17-46,80-9,23 0,8 2,7 5,8 9,8 9,5 8,2 1,12 22-3 17-4 22-9 12-8 25-25 4-6 8-19 2-13 0-12-2-14-7-23zM39,177l-13,26-5,14-4,18-1,10 1,16 3,12 5,11 6,9 24,24 14,9 24,9 35,6 1-12 8-2 12-7 7-7 5-9 1-14-4-12-7-14-45-78-13-16-8-4-8-1-14,4-9,6-5,6zM80,102l-13,13-11,14-8,16-5,18 12,0-4-3 5-1-2-2 3-1 3-10 7-14 8-12 9-10zM294,100l-4,8 8,8 10,14 6,11 4,11 2,1-1,2 3,1-2,2 3,2-2,2 12,0-4-15-7-15-11-15zM96,81l8,6-2,7 0,9 4,12 6,7 9,4 13,2 25,0 1-1 82,1 17-3 10-8 5-13 0-11-2-5 1-1-2-1 8-7-19-24-17-17-17-13-20-9-10-2-15,0-19,5-12,6-11,8-29,29z" fill="#12bee8"/><path d="M146,344l0,2 15,6 17,4 26-1 26-9-4-10-13,4-14,2-22,0-19-4-3,1-1-2-2,2-1-3zM146,334l-5,8 3,3zM337,177l-10,4-10-9-13-5-13,1-8,5-14,18-43,75-9,21-1,11 2,8 4,7 9,9 12,6 8,0 3,5 1,7 32-6 22-9 12-8 25-25 4-6 8-19 2-13 0-12-2-14-7-23zM38,179l-12,24-5,14-4,18-1,10 1,16 3,12 5,11 6,9 24,24 14,9 24,9 28,5 2-9 3-3 7,0 12-6 10-10 4-8 1-13-2-8-11-23-41-71-14-17-7-4-13-1-13,5-11,11zM80,102l-13,13-11,14-8,16-5,18 12,0-4-3 5-1-2-2 3-1 2-8 8-16 8-12 9-10zM294,100l-4,8 9,9 9,13 9,19 2,1-1,1 2,2-1,2 3,1-2,2 6,1-5,3 12,0-4-15-7-15-11-15zM96,81l9,5-2,5 0,12 3,9 7,8 8,4 11,2 112,0 14-3 4-2 7-7 4-10 0-14-1-1 1-2-2-1 8-7-19-24-17-17-17-13-20-9-10-2-15,0-19,5-12,6-11,8-29,29z" fill="#10c9e6"/><path d="M146,344l0,2 15,6 17,4 26-1 26-9-4-10-13,4-13,2-24,0-18-4-3,1-1-2-2,2-1-3zM146,334l-5,8 3,3zM338,179l-10,4-1-1 1-1-6-5-14-7-13,0-10,5-7,7-9,13-38,66-11,24-2,10 1,9 4,9 7,8 9,6 13,3 3,11 32-6 22-9 12-8 25-25 4-6 8-19 2-13 0-12-2-14-7-23zM38,179l-12,24-5,14-4,18-1,10 1,16 3,12 5,11 6,9 24,24 14,9 24,9 28,5 2-9 3-3 11-2 8-5 6-6 6-11 1-4-1-13-3-9-11-22-37-64-7-10-9-9-8-4-13,0-12,5-9,9zM80,102l-13,13-11,14-8,16-5,18 12,0-4-3 5-1-2-2 3-1 7-19 10-16 10-11zM294,100l-4,8 9,9 8,11 10,21 2,1-1,1 2,2-1,2 3,1-2,2 6,1-5,3 12,0-4-15-7-15-11-15zM98,78l8,6-3,10 3,15 5,7 8,5 12,3 12,0 1,1 88,0 23-3 12-8 4-7 2-8 0-7-2-6 4-4-3,2-3-1 7-8-16-20-17-17-17-13-20-9-10-2-15,0-19,5-12,6-11,8-29,29z" fill="#11cdd1"/><path d="M146,344l0,2 15,6 17,4 26-1 26-9-4-10-8,3-16,3-28,0-12-3-4,1-1-2-2,1-1-2-2,2-1-3zM338,179l-10,4-10-9-11-4-9,0-11,5-9,9-11,16-37,65-9,23-1,5 1,11 5,10 8,8 9,5 9,2 3,11 32-6 22-9 12-8 25-25 4-6 8-19 2-13 0-12-2-14-7-23zM38,179l-12,24-5,14-4,18-1,10 1,16 3,12 5,11 6,9 24,24 14,9 24,9 28,5 2-9 3-3 7-1 13-8 5-6 4-8 1-13-2-9-11-24-35-61-9-13-11-11-10-4-9,0-11,4-10,9zM299,105l-6,6 8,7-1,1 9,12 8,18 2,1-1,1 2,2-1,2 3,1-2,2 6,1-5,3 12,0-4-15-7-15-11-15zM80,102l-13,13-11,14-8,16-5,18 12,0-4-3 5-1 0-1-4-2 5-1-2-2 3-1 7-17 12-17-1-2 3-1 5-5zM98,78l8,6-2,6 0,9 3,9 7,8 11,5 12,2 102,0 18-4 4-2 7-7 4-10 0-11-2-4 1-1-2-1 7-8-16-20-17-17-17-13-20-9-10-2-15,0-19,5-12,6-11,8-29,29z" fill="#14cdb5"/><path d="M146,344l0,2 15,6 17,4 26-1 14-4 10-5-4-9-2,3-1-2-18,4-30,0-12-3-3,1-1-2-2,1-1-2-2,2-1-3zM338,179l-10,4-8-7-6-3-9-2-8,1-7,3-9,8-7,9-36,61-11,22-4,12-1,13 3,10 4,6 9,8 6,3 7,1 3,5 1,7 32-6 22-9 12-8 25-25 4-6 8-19 2-13 0-12-2-14-7-23zM37,181l-14,30-6,24-1,10 1,16 3,12 5,11 6,9 24,24 14,9 24,9 28,5 2-9 3-3 6-1 9-5 7-7 5-10 1-4-1-15-10-24-33-58-13-19-8-8-7-4-11-2-6,1-9,4-9,9zM300,106l-6,6 7,6-1,1 9,12 8,18 2,1-1,1 2,2-1,2 3,1-2,2 6,1-5,3 12,0-4-15-7-15-11-15zM80,102l-13,13-11,14-8,16-5,18 12,0-4-3 5-1 0-1-4-2 5-1-2-2 3-1 8-19 11-15-1-2 3-1 5-5zM98,78l8,6-1,15 5,11 9,7 9,3 18,2 85,0 21-3 7-3 7-6 5-10 0-13-1-1 1-2-2-1 7-8-16-20-17-17-17-13-20-9-10-2-15,0-19,5-12,6-11,8-29,29z" fill="#16ce99"/><path d="M228,345l-4-8-2,3-1-2-11,3-17,2-21-1-11-3-3,1-2-2-5,10 21,7 26,1 20-5 9-4zM339,181l-10,4-7-7-11-5-12,0-10,5-10,10-13,19-28,49-13,30-1,16 5,12 5,6 7,5 11,4 3,11 32-6 22-9 12-8 25-25 4-6 8-19 2-13 0-12-2-14-7-23zM37,181l-14,30-6,24-1,10 1,16 3,12 5,11 6,9 24,24 14,9 24,9 28,5 2-9 3-3 7-2 8-5 7-8 4-10 0-13-2-8-15-32-34-57-8-10-7-6-9-4-11,0-12,5-7,7zM43,163l12,0 0-1-11-3zM301,107l-6,6 4,4 3-1 2,1-3,3 11,16 5,13 2,1-1,1 3,1-2,2 6,1-5,3 6,1-5,3 12,0-4-15-7-15-11-15zM80,102l-13,13-11,14-6,11-4,14 11,1-2-2 3-1 2-7 7-14 9-12-4-5 2-1 5,2 5-5zM100,75l8,6-3,9 1,9 3,7 7,7 8,4 8,2 26,1 1,1 78-1 18-4 8-5 4-5 4-10 0-8-2-5 7-7-16-21-24-23-17-11-13-5-10-2-21,1-8,2-17,8-11,8-29,29z" fill="#18cf7e"/><path d="M228,345l-4-8-2,3-2-2-9,3-14,2-18,0-14-2-5-2-3,2-1-3-5,10 21,7 26,1 20-5 9-4zM340,183l-10,4-1-1 1-1-5-4-12-6-12,0-9,4-10,9-7,9-31,52-11,22-5,14-1,19 3,8 6,8 7,5 9,3 3,12 32-6 22-9 12-8 25-25 4-6 8-19 2-13 0-12-2-14-7-23zM36,183l-13,28-6,24-1,10 1,16 3,12 5,11 6,9 24,24 14,9 24,9 28,5 3-12 11-4 8-7 5-9 2-8-1-12-3-10-16-33-31-51-12-13-6-4-6-2-15,1-9,5-5,6zM302,108l-6,6 3,3 3-1 2,1-3,3 7,9 7,14 2,1-1,1 1,3 3,1-2,2 3,1-2,2 6,1-5,3 6,1-5,3 12,0-4-15-7-15-6-9zM80,102l-13,13-11,14-6,11-4,14 11,1-2-2 3-1 6-16 12-17-4-5 2-1 5,2 5-5zM100,75l8,6-2,7 1,9 3,7 6,6 7,4 11,3 25,1 1,1 56,0 1-1 25-1 11-3 6-3 7-7 4-10 0-8-2-4 8-7-16-20-24-23-17-11-13-5-10-2-21,1-8,2-17,8-11,8-29,29z" fill="#1bd062"/><path d="M228,345l-4-8-2,3-2-2-4,2-16,3-24,0-8-2-4,1-1-2-3,1-1-2-2,2-1-3-5,10 21,7 26,1 20-5 9-4zM341,185l-10,4-1-1 1-1-5-4-10-5-13,0-9,4-11,10-9,12-25,42-16,34-3,13 0,9 2,7 6,10 10,7 11,1 3,5 1,7 24-5 16-6 18-11 25-25 4-6 8-19 2-13 0-12-4-22-5-15zM35,185l-12,26-6,24-1,10 1,16 3,12 5,11 6,9 24,24 9,6 22,10 27,6 2-9 3-3 10-1 11-8 5-8 2-7 0-11-2-9-13-30-23-40-14-20-9-9-11-6-7-1-7,1-7,3-8,8zM308,115l-6,6 4,3-1,1 5,5-1,1 6,12 2,1-1,1 2,1-1,2 3,1-2,2 3,1-2,2 11-1-1-6-7-15-6-9zM69,113l-8,9-8,12-6,16 11,1-2-2 3-1 7-16 9-12zM307,113l-4-4-6,6 4,2zM76,106l-5,5 8,4 3-4zM103,71l7,7-2,5 0,10 6,11 5,4 9,4 16,3 14,0 1,1 58,0 1-1 21-1 12-3 12-8 5-9 1-7-2-6 9-6-16-20-24-23-17-11-13-5-10-2-21,1-8,2-17,8-11,8-29,29z" fill="#1dd146"/><path d="M155,347l1,3 22,6 20,0 25-7-4-10-2,3-1-2-14,3-28,0-7-2-4,2-1-3-2,1-1-2zM342,187l-10,4-1-1 1-1-8-6-9-3-11,1-11,6-16,18-28,47-14,33-1,20 4,10 6,7 7,4 9,2 3,11 24-5 16-6 18-11 25-25 4-6 8-19 2-13 0-12-4-22-5-15zM34,187l-8,16-5,14-5,28 2,21 7,18 6,9 24,24 9,6 22,10 27,6 2-9 3-3 4,0 7-3 8-7 3-5 3-13-4-21-15-32-27-44-18-18-11-4-7,0-10,4-7,7zM309,116l-6,6 3,2-1,1 5,5-1,1 1,2 3,2-1,1 2,1-1,1 3,3-1,2 3,3-1,2 11-2-6-14-6-9zM68,114l-15,20-6,16 11,1-2-2 3-2-2-1 3-1 7-15 4-5-1-2 4-2zM307,113l-3-3-6,6 3,1zM71,111l6,4 3-1-5-6zM103,71l8,6-2,5 0,7 2,6 7,8 12,6 27,4 62,0 19-2 11-3 8-4 7-7 3-7-1-11 8-7-14-17-28-26-20-11-16-4-21,1-8,2-17,8-11,8-29,29z" fill="#2fd335"/><path d="M223,347l-4-8-2,3-1-2-7,2-14,2-14,0-10-2-4,1-1-2-3,2-2-3-5,10 22,6 20,0 25-7zM343,189l-10,4-1-1 1-1-14-8-11,0-11,5-8,7-9,11-23,37-13,26-5,14-2,9 0,12 2,7 4,7 5,5 12,5 3,11 24-5 16-6 18-11 25-25 4-6 8-19 2-13 0-12-4-22-5-15zM31,192l-10,25-5,28 2,21 7,18 6,9 24,24 9,6 22,10 27,6 2-9 3-3 10-4 6-6 5-12 0-14-2-9-7-18-13-25-23-36-11-12-7-5-8-3-11,0-10,5-5,7-4,0zM309,116l-6,6 1,1 4-1 1,1-3,3 3-1 2,1-3,3 4,4-1,1 2,1-1,1 2,1-1,1 2,1-1,1 2,1-1,1 3,1-2,2 2,1-1,1 11-1-6-14-6-9zM68,114l-15,20-6,16 11,1-2-2 3-1-2-2 3-1 1-2-2-2 3-1 9-15-1-2 4-2zM307,113l-2-2-6,6zM71,111l8,4-5-6zM103,71l9,5-2,8 4,11 5,5 7,4 13,4 16,2 37,1 1-1 38-1 14-3 9-4 10-10 2-6-1-6 1-3-2-1 7-8-28-30-17-13-20-9-10-2-15,0-14,3-20,10-8,6-29,29z" fill="#4ed72f"/><path d="M223,347l-4-8-2,3-2-2-1,3-1-2-2,0-1,3-1-2-11,2-20,0-1-1-6,1-1-2-2,0-2,2-1-3-3,5-1-6-5,10 22,6 20,0 25-7zM344,191l-10,4-1-1 1-1-4-3-11-5-7,0-9,3-6,4-11,11-16,23-11,19-16,35-3,13 0,11 5,13 6,6 6,3 6,1 0,12 0-12 1-1 2,1 3,11 24-6 21-10 7-5 25-25 4-6 8-19 2-13 0-12-4-22-5-15zM31,192l-10,25-5,28 2,21 7,18 6,9 24,24 9,6 19,9 24,6 2-9 3-3 1,1 0,12 1-12 11-4 8-9 3-9 0-13-2-9-5-14-14-28-24-37-16-15-11-4-7,0-8,3-7,7-4,0zM328,145l-1-3-2,0-8,5 8,0zM50,140l0,3 10,2zM310,117l-6,6 4-1 1,1-3,3 3-1 2,1-3,3 3-1 2,1-3,3 2,1-1,1 2,1-1,1 2,1-1,1 2,1-1,1 2,1-1,1 11-2-10-17zM67,115l-11,14-4,9 10,2 3-6-1-2 3-1 1-2-1-2 3-1-4-5 2-1 5,2zM109,64l6,7-1,2-3-1 2,2-1,11 2,5 6,7 9,5 11,3 29,3 54-1 24-5 9-5 5-5 3-6 0-10-1-1 8-7-11-13-28-26-20-11-16-4-21,1-8,2-17,8-11,8z" fill="#6edc28"/><path d="M223,347l-4-8-2,3-2-2-1,3-2-2-1,5-2-4-2,0-1,3-1-2-4,0-1,3-1-2-21,0-2,2-1-3-3,0-2,2-1-3-3,2-1-3-3,5-1-6-5,10 22,6 20,0 25-7zM347,197l-11,2-1-1 1-1-5-5-8-4-12,0-7,3-7,5-12,13-24,38-9,18-7,19-2,10 0,10 5,13 6,6 6,3 6,1 3,11 24-6 21-10 7-5 25-25 4-6 8-19 2-13 0-12-4-22zM31,192l-10,25-5,28 2,21 7,18 6,9 24,24 9,6 19,9 24,6 2-9 3-3 7-1 6-4 4-5 4-11 0-12-3-13-17-37-21-33-18-18-9-4-15,1-8,7zM328,145l-1-3-2,0-8,5 8,0zM50,140l0,3 10,2zM326,140l-3-3-8,5zM57,128l-5,10 10,2 3-7-6-5zM318,126l-2,0-6,6 2,1-1,1 9-4zM311,117l-7,6 6-2 2-2zM67,115l-8,10 7,4 2,0-1-2 3-1-4-5 2-1 5,2zM109,64l6,7-2,5 1,9 7,9 15,7 27,4 50,0 18-2 15-4 8-4 6-6 3-7-1-8 1-1-2-1 7-7-8-10-28-26-20-11-16-4-21,1-8,2-17,8-11,8z" fill="#8ee022"/><path d="M217,351l-4-10-1,0-1,5-3-4-1,5-2-4-3,0-1,5-2-4-21,0-3,5-1-6-2,0-3,5-1-6-4,8 1,3 13,3 20,0zM161,340l-5,10 4,1zM347,197l-11,2-6-6-7-3-8,0-10,4-7,5-11,12-23,36-8,16-8,21-2,20 2,8 4,7 6,5 8,3 3,11 24-6 21-10 7-5 25-25 4-6 8-19 2-13 0-12-4-22zM30,194l-9,23-5,28 2,21 7,18 6,9 24,24 9,6 19,9 24,6 2-9 4-4 5-1 7-6 5-12 0-13-3-13-17-37-20-31-17-17-12-5-11,1-9,7zM328,145l-1-3-2,0-8,5 8,0zM326,140l-3-3-8,5zM57,128l-5,10 10,2 3-7-6-5zM318,126l-2,0-6,6 9-4zM64,119l-5,6 9,4-1-2 3-2zM110,62l0,2 6,6-1,12 8,10 10,5 11,3 15,2 18,0 1,1 39-1 15-2 14-4 7-4 6-6 3-8-2-7 7-7-7-9-28-26-20-11-16-4-21,1-8,2-17,8-11,8z" fill="#aee41b"/><path d="M166,344l-2,6 1,3 18,3 0-12-5,0-4,8-1-9-3,2-1,3-1-6zM213,341l-1,0-1,5-3-4-1,5-2-4-2,0-1,9-3-8-5,0 0,12 10-1 13-4zM347,197l-11,3-9-7-12,0-12,6-13,13-6,8-20,33-13,32-2,19 2,8 4,7 9,6 7,0 3,5 1,7 28-9 14-8 29-28 4-6 8-19 2-13 0-12-4-22zM27,201l-6,16-5,28 2,21 7,18 6,9 24,24 16,10 12,5 18,5 2-9 3-3 9-1 7-6 5-13 0-11-2-10-8-21-8-16-22-34-9-10-11-8-5-2-12,0-6,3-6,8-4,0zM52,136l0,2 10,2-8-5zM56,129l1,2 8,3-6-6zM110,62l7,7-1,9 3,6 5,5 7,4 9,3 18,3 47,1 27-3 17-6 9-8 2-5-1-8 1-1-2-1 7-7-22-23-22-16-15-6-10-2-15,0-14,3-20,10-8,6z" fill="#c6e415"/><path d="M196,344l0,12 6-1-3-11zM178,344l-2,2-2,9 6,1 0-12zM205,343l-1,0 0,12 4-1zM172,343l-4,8 0,3 4,1zM350,204l-11,2-1-1 1-1-5-5-6-3-14,1-10,6-11,11-19,28-10,19-8,20-3,14 0,11 4,11 5,5 10,4 3,11 28-9 14-8 29-28 4-6 8-19 2-13 0-12-2-14zM27,201l-6,16-5,28 2,21 7,18 6,9 24,24 16,10 12,5 18,5 2-9 3-3 7-2 6-6 4-10 0-14-2-9-7-19-9-18-21-32-16-15-9-4-11,0-4,2-6,6-4,0zM113,59l6,7-1,9 3,6 4,4 15,7 23,4 50,0 20-3 9-3 8-4 6-6 2-4-1-9 7-7-21-22-11-9-20-11-16-4-21,1-8,2-17,8-11,8z" fill="#dae10d"/><path d="M199,344l-1,0 0,12 4-1zM178,344l-4,8 0,3 4,1zM172,343l-4,8 0,3 4,1zM350,204l-11,3-5-6-5-2-9,0-8,3-7,5-13,14-18,28-8,16-7,19-2,9 0,14 3,9 6,6 11,3 3,10 7-1 16-6 14-8 29-28 4-6 8-19 2-13 0-12-2-14zM26,204l-8,25-2,16 2,21 7,18 6,9 24,24 16,10 15,6 10,2 2-8 3-3 5,0 6-3 4-5 3-8 0-16-3-12-15-33-11-18-10-13-10-10-6-4-7-3-10,0-6,3-4,5-4,0zM114,58l7,6-1,9 2,4 8,7 9,4 30,5 38,0 23-3 18-7 6-6 2-4-1-8 1-1-2-1 6-6 0-2-24-23-15-10-15-6-10-2-15,0-14,3-17,8-11,8z" fill="#efde06"/><path d="M351,207l-11,2-9-7-9,0-9,4-7,5-11,12-17,26-9,18-7,20-1,22 4,9 3,3 7,2 3,5 0-4 1-1 2,1 3,10 3,0 16-6 14-8 29-28 4-6 8-19 2-13 0-12-2-14zM24,209l-6,20-2,22 3,19 6,14 6,9 24,24 16,10 12,5 9,2 2-8 3-3 1,6 3-6 3,0 7-5 3-5 2-9-2-18-12-30-20-32-13-14-7-5-8-3-9,0-4,2-6,8-4,0zM118,54l6,6-2,4 0,6 2,4 8,7 13,5 31,4 38-1 13-2 13-4 6-3 8-9-1-9 7-7-17-17-17-13-14-7-16-4-21,1-8,2-17,8-11,8z" fill="#f4d107"/><path d="M352,210l-11,2-3-4-6-3-8,0-9,4-12,10-20,28-11,22-6,17-2,20 4,11 4,4 9,3 3,10 3,0 16-6 14-8 29-28 4-6 8-19 2-13 0-12-2-14zM23,212l-5,17-2,22 3,19 6,14 6,9 24,24 16,10 12,5 9,2 2-8 3-3 7-2 5-5 3-9 0-12-2-10-7-19-7-14-11-18-10-13-7-7-10-7-6-2-8,0-4,2-6,8-4,0zM119,53l6,6-1,9 7,8 13,6 22,4 44,0 14-2 14-4 11-7 3-5-1-8 7-7-15-15-17-13-14-7-16-4-21,1-8,2-17,8-11,8z" fill="#f5c108"/><path d="M353,213l-11,2-3-4-6-3-7,0-9,4-9,7-8,9-17,26-9,19-6,21 0,14 3,8 4,4 10,3 3,10 15-5 18-11 25-25 4-6 8-19 2-13 0-12-2-14zM21,217l-4,18-1,16 3,19 6,14 6,9 24,24 16,10 17,6 2-8 3-3 7-1 5-5 3-7 0-16-2-9-6-16-9-18-19-27-11-10-11-5-10,1-6,6-2,0 2,1-1,2zM121,51l6,6-1,2 1,8 7,7 16,6 21,3 35,0 15-2 15-4 12-8 2-4-1-7 4-4-3,2-3-1 6-7-21-19-20-11-16-4-15,0-19,5-12,6-11,8z" fill="#f7b10a"/><path d="M354,216l-11,2-3-4-6-3-9,1-6,3-17,16-14,21-11,23-5,17-1,11 3,12 7,6 7,0 5,11 16-7 12-8 25-25 4-6 8-19 2-13-1-20zM21,217l-4,18-1,16 3,19 6,14 6,9 24,24 14,9 16,6 2-8 3-3 7-1 5-5 3-10 0-7-3-15-8-20-7-13-12-18-11-12-13-8-9-1-3,1-6,7zM123,49l6,6-1,7 2,4 12,8 22,5 37,1 23-3 16-6 8-8 0-6-2-3 6-7-16-15-17-11-13-5-10-2-15,0-14,3-17,8-11,8z" fill="#f9a10c"/><path d="M356,220l-12,2-3-5-7-3-7,1-6,3-16,15-18,28-10,25-2,10 0,11 3,8 4,4 10,2 3,9 8-2 18-11 25-25 4-6 8-19 2-13 0-12zM20,221l-3,14-1,16 3,19 6,14 6,9 24,24 14,9 12,5 2-8 3-3 8-1 5-5 2-6 0-13-3-13-12-27-8-13-11-14-12-10-6-3-7-1-5,2-5,6zM125,47l6,6-1,6 2,4 12,8 23,5 28,1 31-4 14-6 6-7 0-5-3-4 6-7-13-12-17-11-13-5-10-2-15,0-14,3-17,8-11,8z" fill="#f98f0d"/><path d="M357,224l-12,1-4-5-4-2-5,0-8,3-8,6-9,10-15,23-11,27-2,18 1,5 4,7 4,2 6,0 5,10 10-4 12-8 25-25 4-6 8-19 2-13 0-12zM19,225l-3,20 1,16 3,12 5,11 6,9 24,24 14,9 8,3 3-7 3-3 5,0 5-3 4-9 0-11-3-13-12-27-16-23-7-7-11-7-4-1-7,1-4,3-2,4zM128,44l6,6-1,2 1,7 11,8 21,5 33,1 22-3 16-6 6-7-1-9 4-7-14-12-20-11-16-4-15,0-14,3-17,8-11,8z" fill="#f67b0d"/><path d="M358,230l-12,0-1-1 1-2-5-4-3-1-8,1-6,3-11,10-17,25-11,27-1,21 4,7 4,2 4,0 1,2 0-2 2-1 5,10 17-10 25-25 9-16 4-14 1-20zM18,230l-2,15 1,16 3,12 5,11 6,9 24,24 17,10 3-7 3-3 1,3 11-6 3-9 0-7-3-14-12-27-14-20-8-8-10-6-8-1-3,1-5,7zM131,41l6,6-1,8 8,7 11,4 20,3 27,0 19-3 9-3 8-5 3-6-2-4 7-7-10-9-15-10-15-6-10-2-15,0-19,5-15,8z" fill="#f3670d"/><path d="M340,226l-11,2-14,12-15,22-11,27-1,18 2,5 4,4 7,0 1,2 0-2 2-1 5,10 12-8 25-25 9-16 3-9 2-13-1-19-12,0-1-1 2-2-2,0zM18,231l-2,14 1,16 3,12 5,11 6,9 24,24 15,9 3-7 3-3 8-1 4-7 0-15-2-8-12-27-12-17-9-9-8-5-8-1-3,1-4,5zM136,36l4,7-1,9 5,5 6,3 23,5 30,0 21-4 10-5 4-6-3-8 4-7-13-10-14-7-16-4-15,0-19,5-12,6z" fill="#f1530d"/><path d="M359,237l-12,0-3-5-7-2-12,6-8,8-13,19-10,24-2,18 2,6 3,3 3,1 6-1 4,8 2,1 9-6 25-25 9-16 3-9 2-13zM36,230l-4,2-3,6-12,0-1,13 3,19 6,14 6,9 24,24 7,4 7-8 1,2 2-1 1,2 6-2 3-3 2-5 0-11-2-9-11-25-11-16-13-12zM140,33l4,7-2,4 0,5 5,5 13,5 12,2 32,0 19-4 9-5 2-3 0-5-2-2 7-7-7-6-13-8-13-5-10-2-15,0-14,3-17,8z" fill="#ee3f0d"/><path d="M343,235l-10,1-13,11-14,21-7,17-2,8 1,16 5,4 7-1 6,8 5-3 25-25 9-16 3-9 2-23-12,0-1-2 2-2-2,0zM34,235l-3,2-2,4-8,0 8,3-1,2-12,0 3,24 6,14 6,9 24,24 7,4 6-9 5,1 6-6 1-7-3-16-9-20-11-16-12-11-5-2zM144,30l4,7-3,6 1,4 9,6 17,4 38-1 17-6 4-5 0-3-3-3 0-2 4-8-20-11-16-4-15,0-14,3-17,8z" fill="#eb2b0d"/><path d="M341,239l-9,3-12,12-8,12-9,21-2,10 2,11 4,3 8-2 6,8 25-25 9-16 3-9 2-19-12,0-2-6zM35,239l-4,2-3,9-12,0 3,20 6,14 6,9 26,25 7-8 5,1 4-3 2-5 0-8-2-9-7-17-13-19-9-8zM147,27l4,8-2,8 4,4 14,5 19,2 18-1 18-5 5-5 0-4-2-4 4-7-8-6-9-4-16-4-15,0-14,3z" fill="#df220c"/><path d="M344,244l-6,0-7,4-7,7-9,13-9,23-1,8 1,5 3,4 3,1 6-2 7,6 21-21 9-16 4-17-9-2-3-3 0-6zM33,244l-2,1-3,8-11,3 2,14 6,14 6,9 23,23 7-8 3,1 6-4 1-10-2-9-9-20-7-10-12-11zM151,25l4,8-2,4 0,4 9,6 15,3 29-1 11-3 5-3 2-3 0-2-4-4 4-10-18-8-10-2-15,0-14,3z" fill="#ce1d0b"/><path d="M359,259l-9-2-3-3-2-5-2-1-6,1-7,5-10,13-7,14-3,10 1,13 2,2 5,0 4-2 6,6 18-18 9-16zM17,256l3,17 5,11 6,9 16,16 7-6 2,3 1-1 6,1 3-3 1-4-2-13-8-18-8-11-12-9-4,0-4,6zM155,23l4,8-3,7 4,4 8,3 15,2 20-1 11-3 6-5-2-9 3-7-15-6-10-2-15,0-14,3z" fill="#be1809"/><path d="M343,253l-6,1-4,3-11,14-5,10-3,11 0,7 3,4 4,0 4-2 6,6 15-15 4-6 8-19-9-2-3-3 0-6zM33,253l-3,4-1,6-11,3 7,18 6,9 14,14 7-6 3,2 4,0 3-3 0-10-6-16-8-12-6-6-5-3zM161,20l2,6-2,11 7,4 10,2 20,0 10-2 6-3 2-3-5-5 0-4 3-7-8-3-10-2-15,0-14,3z" fill="#ad1208"/><path d="M343,259l-6,1-12,14-6,15 0,8 4,3 6-3 6,6 4-5-6-6 3-1 7,4 7-9 5-11-8-2-3-3 3-1-2-2 0-6zM33,259l-2,3 0,5-2,1 3,1 0,2-2,1 2,0 1,2-10,5 2,5 6,8 7-4 3,1-6,7 6-4 3,1-6,7 2,2 7-6 6,4 3-1 1-11-7-16-8-10-5-3zM167,17l2,12-3,2 0,3 4,3 7,2 22,0 7-2 5-4-2-3-4-2 0-12-9-2-15,0z" fill="#9d0d07"/><path d="M342,266l-5,1-7,8-5,11 1,8 4,0 9-9-1-1 2-1-1-1 3-3-1-2 2-4zM34,266l-1,6 4,11 8,10 5,1 1-9-4-9-9-10zM172,30l2,3 6,2 16,0 8-4-1-2-4-2 0-4-2,4-3-1 0-12-12,0 0,12-1,1-3-3-1-5 0,8z" fill="#8d0806"/><path d="M181,14l-19,5-12,6-11,8-29,29-13,17-10,16-20,20-9,11-10,19-6,26-12,23-7,17-5,18-2,22 3,19 9,19 27,28 14,9 14,6 18,5 40,6 20,9 11,3 26,1 20-5 21-9 19-2 29-6 16-6 14-8 29-28 4-6 8-19 2-13 0-12-2-14-7-23-16-32-8-31-11-19-26-27-13-20-17-21-24-23-15-10-15-6-10-2zM159,36l16-6 20-1 18,5 19,12 15,15 17,24 29,54 32,50 11,22 6,18 2,11 0,20-4,15-8,14-13,13-9,6-22,9-32,5-47,0-1-1-88,1-1-1-10,0-21-4-22-9-9-6-12-12-6-9-4-9-3-13 0-18 3-15 7-19 14-26 29-45 22-42 13-21 10-13 13-13z" fill="#000" fill-opacity="0.090"/><path d="M181,14l-19,5-12,6-11,8-29,29-13,17-10,16-20,20-9,11-10,19-6,26-12,23-7,17-5,18-2,22 3,19 9,19 27,28 14,9 14,6 18,5 40,6 20,9 11,3 26,1 20-5 21-9 19-2 29-6 16-6 14-8 29-28 4-6 8-19 2-13 0-12-2-14-7-23-16-32-8-31-11-19-26-27-13-20-17-21-24-23-15-10-15-6-10-2zM162,33l17-5 23,1 10,3 10,5 17,13 12,13 16,23 30,55 32,51 13,31 3,13 1,19-2,12-7,17-4,6-13,13-7,5-14,7-12,4-30,5-138,0-30-5-12-4-12-6-9-6-12-12-6-9-4-9-3-12 0-24 4-17 5-13 10-20 28-44 26-48 13-21 9-12 17-17z" fill="#000" fill-opacity="0.099"/><path d="M181,14l-19,5-12,6-11,8-29,29-13,17-10,16-20,20-9,11-10,19-6,26-12,23-7,17-5,18-2,22 3,19 9,19 27,28 14,9 14,6 18,5 40,6 20,9 11,3 26,1 20-5 21-9 19-2 29-6 16-6 14-8 29-28 4-6 8-19 2-13 0-12-2-14-7-23-16-32-8-31-11-19-26-27-13-20-17-21-24-23-15-10-15-6-10-2zM152,37l12-6 14-4 20,0 19,6 17,11 18,18 17,24 26,47 31,50 16,35 4,16 1,22-3,15-7,15-15,17-10,7-23,10-34,6-15,0-1,1-118-1-30-5-15-5-10-5-13-9-8-8-7-10-7-17-2-23 4-22 7-19 12-23 28-45 20-37 15-24 10-13 16-16z" fill="#000" fill-opacity="0.110"/><path d="M181,14l-19,5-12,6-11,8-29,29-13,17-10,16-20,20-9,11-10,19-6,26-12,23-7,17-5,18-2,22 3,19 9,19 27,28 14,9 14,6 18,5 40,6 20,9 11,3 26,1 20-5 21-9 19-2 29-6 16-6 14-8 29-28 4-6 8-19 2-13 0-12-2-14-7-23-16-32-8-31-11-19-26-27-13-20-17-21-24-23-15-10-15-6-10-2zM180,25l26,3 20,9 12,9 13,13 11,14 56,93 20,38 8,25 3,26-2,1-1,11-8,19-5,7-11,11-10,7-17,8-22,6-23,3-29,1-16,2-3,2 4,2 1,2-3,3-8,2-21-1-6-4 5-4-3-2-62-5-22-5-23-10-11-8-9-9-7-10-6-14-3-19 2-21 3-12 7-18 17-32 53-89 17-22 15-14 10-7 11-5 1-2 2,1 3-1 1-2 3,1 1-2 5,1z" fill="#000" fill-opacity="0.124"/><path d="M47,309l8,8 9,6 19,9 23,6 35,5 20,9 17,4 26-1 14-4 21-9 19-2 29-6 22-9 12-8 7-7-6-6-2,4-2-1-1,3-5,1-1,3-2-1-6,3-1,3-2-2-2,1-1,3-2-2-9,3-1,3-1-2-2,0-1,3-1-2-2,0-1,3-1-2-3,0-1,3-1-2-4,0-1,3-1-2-4,0-1,3-1-2-6,0-1,3-1-2-24,2-3,1-5,6-11,4-9,2-21,0-1,1-1-2-14-3-6-3-4-5-19-3-8,1-1-2-6,0-2,2-1-3-3,0-2,2-1-3-3,0-2,2-1-3-4,2-1-3-3,2-1-3-3,2-1-3-2,2-1-3-2,1-1-2-2,1-1-2-2,2-1-3-1,1-3-3-2,2-1-3-1,1-1-2-3,3-1-1 1-4-1,1-1-2-3,3-1-1 1-4-3,3-1-1 1-4-3,3-1-1 1-4-2-2zM341,284l-2,0 1,1-2,1 3,3-1,1-4-1 3,3-6,1 6,6 9-10-1-2zM359,261l-12,0 2,3 3,1-6,1 2,3-3,1 2,2-3,1 2,2-3,1 1,1-2,1 8,5 2-1 3-6zM17,259l2,11 6,14 6,9 8,7 5-6-4-2 1-2-2-3-3-1 1-2-3-6-3-1 2-2-1-2-3-1 2-1 0-2-3-1 2-1 0-2-5-1 4-2 0-3zM17,241l-1,4 1,10 11-3 0-8zM356,238l-8,4 0,12 2,2 9,2 1-16-1-4zM258,54l-6,6 3,3 3-1 2,1-3,3 4,3-1,1 7,7-1,1 3,2-1,1 24,37 3,3 0-3 2-1 7,7 11,19 1,7-1,1-6-6 1,4 17,32 3,2-1,1 2,1-1,1 2,1-1,1 2,1-1,1 2,1-1,1 3,3-1,2 3,3-1,1 2,1-1,2 3,3-1,1 2,2-1,1 3,1-2,2 3,1-2,2 3,1-2,3 3,1-2,3 3,1-2,3 9,1-6,2-2,3 12,0-3-15-5-15-16-32-6-26-7-15-11-15-21-21-19-28zM121,52l-11,10-13,17-10,16-20,20-14,19-7,17-4,20-12,23-7,17-6,26 12,0 0-3-8-3 9-1 0-2-2-1 3-1 0-2-2-1 3-1 0-2-2-1 3-1 6-18 28-53-1-1-5,5-1-1 2-9 10-17 7-7 2,1 0,4 35-52-1-2 3-1 2-2-1-2 3-1 4-4zM247,42l-4,8 5,5 2,0 6-4zM135,37l-5,5 6,6 3-3 0-2zM150,25l-13,10 6,7-1-3 1-2 3,3 5-5 1,1 1-2 1,1zM221,23l-2,10 2,1 2-1 1,3 2,1 2-1 1,3 2-1 2,4 2-1 3,5 7-6-13-11zM175,15l-19,7-1,2 5,8 1-2 1,1 1-3 2,2 1-2 1,1 1-6 3,5 1-6 3,5zM193,14l0,12 4,0 3-8 1,9 3-4 1,5 2,0 1-2 1,3 2-2 1,3 3,1 4-10-13-5zM177,15l2,9 4,2 0-12z" fill="#000" fill-opacity="0.142"/><path d="M199,344l-1,0 0,12 4-1zM178,344l-4,8 0,3 4,1zM205,343l-1,0 0,12 4-1zM172,343l-4,8 0,3 4,1zM161,340l-5,10 4,1zM219,339l-2,3-2-2-1,3-2-2 1,11 10-3zM223,337l2,10 2,0 1-2zM151,336l-5,10 3,1zM244,330l-1,0-1,9-3-8-9,3 2,10 15-3zM133,330l-2,2-2,9 12,2 3,2 2-11-1,1-3-3-2,2-2-3-4,8zM251,329l-1,0 0,12 4-1zM126,329l-4,8 0,3 4,1zM259,328l-1,0 0,12 4-1zM118,328l-4,8 0,3 4,1zM101,325l-2,2-2,9 9,2 0-12-4,8zM287,322l0,8 1,3 4-1zM83,320l-5,10 7,2 1-11-2,2zM69,314l-6,6 0,2 6,4 2-6 0-5-1,1zM309,313l3,8 2,1 1-3zM55,305l-6,6 2,2zM21,275l10-5-8,0-3,1zM346,267l8,4 2,0 2-4zM16,250l1,5 11-3 0-2zM17,241l-1,5 12,0 0-2-4-2zM360,242l-1-4-9,2-2,2zM25,206l-3,10 11,1-2-2 3-1-2-2 3-2zM350,203l-3-3-8,5zM28,199l0,2 10,2-8-5zM347,196l-3-3-8,5zM32,190l0,2 10,2-8-5zM45,155l-2,13 10,4 3-7-1-3-4-2 5-1 0-1zM329,150l-8,2-2,2 5,0 1,1-5,3 6,1-3,1-3,4 2,5 2,1-1,1 11-2-3-15zM47,150l3,1 8,0-10-5zM328,145l-1-3-2,0-8,5 8,0zM50,140l0,3 10,2zM326,140l-3-3-8,5zM57,128l-5,10 10,2 3-7-6-5zM311,117l-7,6 6-2 2-2zM67,115l-8,10 7,4 2,0-1-2 3-1-4-5 2-1 5,2zM307,113l-3-3-6,6 3,1zM80,102l-9,9 6,4 2,0 5-5zM89,91l-5,8 6,6 4-4-1-2 3-2zM277,76l-7,7 3-1 2,1-3,3 3-1 2,1-3,3 3-1 2,1-3,3 3-1 2,1-3,3 3-1 2,1-3,3 8-4 2,1-7,7 4,3 4-4 1,2-2,5 3,2 5-6-8-8zM102,72l-2,3 9,4zM106,67l2,3 6,2-6-7zM247,42l-4,8 5,5 2,0 6-4zM146,28l-2,3 6,6zM221,23l-2,10 3,1 5-6 0-2zM165,18l-3,1 0,2 5,8 0-8zM206,16l0,12 1,0 4-10zM196,14l0,12 1,0 3-11z" fill="#000" fill-opacity="0.165"/></g></g></g>
<g clip-path="url(#c5)"><g filter="url(#fb5)"><g transform="translate(68.125,643.125) scale(0.25)"><path d="M185,15l-10,1-15,4-11,5-19,13-32,32-21,28-19,22-13,22-8,24-13,29-8,28-2,27 3,18 8,19 7,10 24,24 10,7 15,8 24,8 28,5 34,10 26,2 15-2 34-10 5,0 30-7 17-6 21-12 28-27 7-10 5-10 4-13 2-14 0-12-3-20-7-23-13-29-8-24-13-22-15-17-25-33-37-36-14-9-11-5-15-4z" fill="#271476"/><path d="M185,15l-10,1-15,4-11,5-19,13-32,32-21,28-19,22-13,22-8,24-13,29-8,28-2,27 3,18 8,19 7,10 24,24 10,7 15,8 24,8 28,5 34,10 26,2 15-2 34-10 5,0 30-7 17-6 21-12 28-27 7-10 5-10 4-13 2-14 0-12-3-20-7-23-13-29-8-24-13-22-15-17-25-33-37-36-14-9-11-5-15-4zM170,340l8-3 19,0 5,1 3,3-4,2-27,0-3-1zM182,175l11,0 6,2 7,6 3,7 0,6-4,10-6,7-7,4-9,0-7-4-6-7-4-10 0-6 3-7 7-6zM299,116l11,15 7,14-1,1-6-6-7-11-5-11zM76,116l1,2-5,11-7,11-6,6-1-1 7-14z" fill="#251e8b"/><path d="M185,15l-10,1-15,4-11,5-19,13-32,32-21,28-19,22-13,22-8,24-13,29-8,28-2,27 3,18 8,19 7,10 24,24 10,7 15,8 24,8 28,5 34,10 26,2 15-2 34-10 5,0 30-7 17-6 21-12 28-27 7-10 5-10 4-13 2-14 0-12-3-20-7-23-13-29-8-24-13-22-15-17-25-33-37-36-14-9-11-5-15-4zM162,340l3-2 13-3 19,0 13,3 3,3-10,3-31,0-9-2zM170,170l10-3 19,1 11,5 7,9 1,13-6,15-9,11-10,6-11,0-6-3-8-7-9-15-2-7 1-13 3-5zM295,109l18,26 7,15-1,2-9-10-8-12-8-19zM80,109l1,2-8,19-8,12-9,10-1-1 1-4 6-12z" fill="#2228a0"/><path d="M185,15l-10,1-15,4-11,5-19,13-32,32-21,28-19,22-13,22-8,24-13,29-8,28-2,27 3,18 8,19 7,10 24,24 10,7 15,8 24,8 28,5 34,10 26,2 15-2 34-10 5,0 30-7 17-6 21-12 28-27 7-10 5-10 4-13 2-14 0-12-3-20-7-23-13-29-8-24-13-22-15-17-25-33-37-36-14-9-11-5-15-4zM156,340l3-2 15-4 20-1 19,4 5,2 1,2-5,2-14,2-25,0-18-3zM167,164l12-3 17,0 9,2 13,7 6,9 1,14-5,15-10,15-12,10-5,2-11,0-5-2-12-10-10-15-5-15 0-11 5-10zM321,156l1-1 1,2-1,1zM52,156l1-1 1,2-1,1zM293,106l9,11 13,21 7,15-1,3-11-12-10-15-8-20zM82,106l1,3-8,20-10,15-11,12-1-3 7-15 13-21z" fill="#2031b5"/><path d="M185,15l-22,4-19,9-14,10-32,32-21,27 2,3 7,3-11,28-9,13-14,16-1-3 11-23 10-16 9-11-6-7-17,20-13,22-8,24-13,29-8,28-2,27 3,18 8,19 7,10 24,24 10,7 15,8 24,8 28,5 34,10 26,2 15-2 34-10 5,0 30-7 17-6 21-12 28-27 7-10 5-10 4-13 2-14 0-12-3-20-7-23-13-29-8-24-13-22-16-19-7,6 4,3-1,1 6,7 10,16 10,22 2,1-2,3-14-16-9-13-11-28 7-3 2-3-21-27-32-32-19-13-21-8zM153,340l9-4 17-4 17,0 23,6 3,3-18,4-33,0-17-3zM323,160l1-1 2,1-1,1zM170,159l30-1 11,3 8,4 7,7 3,7 0,14-3,10-6,12-7,10-9,9-11,6-11,0-11-6-9-9-7-10-8-18-1-18 3-7 7-7z" fill="#1d3bcb"/><path d="M185,15l-22,4-19,9-14,10-32,32-18,23 7,7 0,2-3,6-3,12-6,13-7,10-17,19-3-3 3-1 5-13 8-15 13-18-1-2 4-2-6-7-16,19-13,22-8,24-13,29-8,28-2,27 3,18 8,19 7,10 24,24 10,7 15,8 24,8 28,5 34,10 26,2 15-2 34-10 5,0 30-7 17-6 21-12 28-27 7-10 5-10 4-13 2-14 0-12-3-20-7-23-13-29-8-24-13-22-15-18-7,6 6,1-3,3 13,18 11,23 2,1-1,1 2,2-1,1 3,1-3,3-17-19-7-10-6-13-3-12-3-6 7-9-18-23-32-32-19-13-21-8zM149,340l6-3 22-6 21,0 22,6 6,3-6,3-23,3-29-1-17-3zM324,162l1-1 3,1-1,1zM47,162l1-1 3,1-1,1zM161,158l22-4 24,2 7,2 11,6 7,9 2,9-1,10-7,19-11,17-11,11-9,5-12,1-12-6-14-15-12-22-4-18 2-11 7-9z" fill="#1a45e0"/><path d="M305,107l-6,6 4,3-1,1 8,11 10,20 2,1-1,2 3,3-1,2 2,1-1,1 3,1-2,2 11-2-11-27-8-12zM302,102l-7,6 3,1 6-4zM74,101l-16,19-8,12-11,26 1,1 10,2-2-2 3-1 10-23 15-22-4-5 1-1 4,2 3-1zM185,15l-10,1-15,4-11,5-14,9-37,36-18,23 8,6-7,24-8,15-24,28-11-4-19,48-4,19-1,21 3,18 8,19 7,10 24,24 10,7 15,8 24,8 28,5 34,10 26,2 15-2 34-10 5,0 30-7 17-6 21-12 28-27 7-10 5-10 4-13 2-14 0-12-5-28-18-46-3-1-9,3-26-31-6-12-7-22 8-8-13-17-37-38-14-10-16-8-10-3zM146,340l22-8 14-3 17,1 24,7 6,3-3,2-25,4-27,0-25-4zM159,155l26-4 23,2 17,6 8,7 3,5 2,9-1,10-5,15-6,12-12,17-8,8-9,6-12,2-7-2-9-6-15-17-11-20-5-15-1-8 1-8 4-8 5-5z" fill="#1a50e7"/><path d="M305,107l-6,6 4,3-1,1 10,14 8,17 2,1-1,1 2,1-1,1 2,2-1,1 3,1-2,2 11-2-10-24-8-12zM304,105l-2-2-6,6zM73,102l-15,18-8,12-10,23 1,1 10,2-2-2 3-1 11-24 13-18-4-5 2-1 5,2zM185,15l-10,1-15,4-11,5-14,9-37,36-15,19 7,8-3,6-6,23-8,14-21,22-4,6-11-4-18,46-4,19-1,21 3,18 8,19 7,10 24,24 10,7 15,8 24,8 28,5 34,10 26,2 15-2 34-10 5,0 30-7 17-6 21-12 28-27 7-10 5-10 4-13 2-14 0-12-5-28-18-46-11,4-1-1 1-1-20-20-8-10-8-19-3-14-2-3 1-2-2-1 7-8-10-13-37-38-14-10-16-8-10-3zM143,340l2-2 7-1 22-8 22-1 27,9 7,1 2,4-1,1-1-2-7,2-19,3-33,0-20-4-3,1-1-2-3,2zM152,154l21-5 36,1 20,7 9,8 2,4 1,18-5,16-8,16-16,22-9,8-7,4-14,1-7-3-9-7-16-20-11-21-5-16 0-15 3-7 6-6z" fill="#1a5be9"/><path d="M306,108l-6,6 6,1-3,3 6,8 9,17 2,1-1,2 3,3-1,1 2,1-1,2 2,1-1,1 3,1-2,2 11-2-10-24-8-12zM69,107l-19,25-10,23 1,1 10,2-2-2 3-1 7-17 13-20-1-2 4-2zM304,105l-2-2-6,6zM73,102l-2,3 8,4zM185,15l-10,1-15,4-11,5-14,9-37,36-15,19 4,2 4,5-3,6-6,25-8,14-23,23-4,6-4,0-7-3-17,43-4,19-1,21 3,18 8,19 7,10 24,24 10,7 15,8 24,8 28,5 34,10 26,2 15-2 34-10 5,0 30-7 17-6 21-12 28-27 7-10 5-10 4-13 2-14 0-12-5-28-16-41-3-1-4,2-5,0-1-1 1-1-27-27-8-14-6-25-3-6 8-7-10-13-37-38-14-10-16-8-10-3zM140,340l1-2 8-1 20-8 12-3 18,1 18,7 18,5-2,1-1,5-3-4-1,3-1-2-14,3-19,2-25-1-14-3-4,1-1-2-3,2-1-3-3,5-1-6-1,1zM145,153l16-5 16-2 31,1 22,6 12,10 3,7 0,14-6,19-9,18-10,15-19,19-9,4-9,0-9-4-15-14-14-20-9-18-6-19 1-17 2-4z" fill="#1a66eb"/><path d="M145,350l1,3 9,3 27,5 26-2 23-7-4-10-12,3-17,2-31-1-13-3-3,1-2-2zM306,108l-6,6 6,1-3,3 8,11 7,14 2,1-1,1 2,1-1,2 2,1-1,1 2,1-1,1 3,1-2,2 11-2-9-21-8-12zM69,107l-19,25-9,20 1,1 10,2-2-2 3-1 8-18 11-16-1-2 4-2zM304,105l-2-2-6,6zM73,102l-2,3 8,4zM160,20l-11,5-19,13-32,32-12,15 7,8-4,8-5,25-4,9-4,6-29,29-4,0-7-3-12,28-5,15-4,19-1,21 2,14 4,13 12,20 28,27 11,7 15,7 32,9 15,2 2-8 3-3 8-1 35-13 13,0 35,13 9,1 3,5 1,6 24-4 28-9 25-15 24-24 12-20 5-18 1-21-5-28-9-25-8-17-11,2-29-29-7-12-6-28-3-6 1-1-2-1 7-8-12-15-32-32-19-13-21-8-20-2-10,1zM152,147l18-3 43,1 10,2 15,6 7,6 4,8-1,19-6,17-8,16-10,16-12,15-15,12-6,2-7,0-8-3-9-7-16-19-18-32-7-22 0-14 4-8 7-6z" fill="#1a71ed"/><path d="M145,350l1,3 9,3 27,5 26-2 23-7-4-10-2,3-1-2-22,4-29,0-15-3-4,1-1-2-3,2-1-3zM310,113l-6,6 3,2-1,1 5,5-1,1 8,15 2,1-1,1 2,1-1,1 3,1-2,2 2,1-1,1 3,1-2,2 11-2-9-21-8-12zM308,109l-7,6 6-2 2-2zM68,108l-18,24-9,20 1,1 10,2-2-2 3-1 1-2-2-2 3-1 7-15 9-13-4-5 2-1 5,2zM160,20l-11,5-19,13-32,32-12,15 4,2 4,5-3,5-2,8-3,22-3,8-5,7-19,16-12,13-11-4-12,28-5,15-4,19-1,21 2,14 4,13 12,20 28,27 11,7 15,7 32,9 15,2 2-8 4-4 13-3 18-9 13-4 14,1 26,12 13,3 3,2 3,10 24-4 28-9 25-15 24-24 12-20 5-18 1-21-5-28-9-25-8-17-11,3-12-13-13-10-9-10-5-11-3-22-2-8-3-5 8-7-12-15-32-32-19-13-21-8-20-2-10,1zM134,149l11-4 15-3 46-1 15,2 20,6 10,8 3,6 0,15-9,26-20,35-9,12-13,13-6,4-5,2-9,0-11-6-13-13-22-33-10-21-6-19 0-15 3-6z" fill="#1a7cef"/><path d="M148,351l1,3 6,2 27,5 26-2 20-6-4-10-2,3-1-2-3,0-6,2-21,1-1,1-20-1-8-2-4,1-1-2-4,2-1-3zM333,150l-1-3-2,0-8,5zM43,147l0,3 10,2zM310,113l-6,6 3,2-1,1 3,2-1,1 5,5-1,1 2,4 3,2-1,1 3,3-1,2 2,1-1,1 2,1-1,1 11-2-6-13-8-12zM308,109l-7,6 6-2 2-2zM68,108l-18,24-5,10 0,3 10,2 4-10 12-18-4-5 2-1 5,2zM160,20l-11,5-19,13-32,32-8,10 0,2 6,7-3,5-2,8-2,28-5,11-6,6-24,17-9,11-9-4-2,1-10,23-5,15-4,19-1,21 2,14 4,13 12,20 28,27 11,7 15,7 32,9 11,2 2-9 3-3 14-3 25-14 11-4 11,1 32,17 10,3 5,0 3,5 1,7 24-5 24-8 25-15 24-24 12-20 5-18 1-21-5-28-9-25-7-14-10,4-1-1 1-1-9-9-24-17-6-6-5-11-2-28-4-11 1-1-2-1 7-7-9-12-32-32-19-13-21-8-20-2-10,1zM122,148l15-6 16-3 21-1 1-1 25,0 38,5 15,6 7,7 2,7-2,14-8,22-11,22-22,34-9,11-12,11-6,3-9,0-11-7-16-18-18-27-15-29-9-26-1-7 1-8z" fill="#1a87f1"/><path d="M148,351l1,3 6,2 27,5 26-2 20-6-4-10-2,3-1-2-2,0-1,3-1-2-20,3-19,0-11-2-5,1-1-2-4,2-1-3-3,2-1-3zM333,150l-1-3-2,0-8,5zM43,147l0,3 10,2zM331,145l-1-3-2,0-8,5zM45,142l0,3 10,2zM311,114l-6,6 4-1 1,1-3,3 3-1 2,1-3,3 3-1 2,1-3,3 2,1-1,1 1,2 3,2-1,1 2,1-1,1 2,1-1,1 2,1-1,1 11-2-12-20zM64,113l-14,19-3,8 10,2 7-13-1-2 3-1-1-2 3-1-1-2 3-1zM160,20l-11,5-19,13-32,32-8,10 7,7-3,6-2,14 2,34-6,6-23,11-9,6-11,11-2,4-4,0-7-3-13,34-4,19-1,21 2,14 4,13 12,20 28,27 11,7 15,7 37,10 2-9 3-3 1,1 0,12 2-9 3-4 10-2 10-5 31-22 5,0 4,2 27,20 10,5 10,2 4,6 1,7 0-12 1-1 2,1 2,4 1,7 18-4 24-8 25-15 24-24 12-20 5-18 1-21-5-28-9-25-4-8-11,2-1-1 1-1-2-1 1-1-12-11-9-6-23-11-6-6 2-34-2-14-3-5 7-8-8-10-32-32-19-13-21-8-20-2-10,1zM108,145l18-6 27-4 56-1 40,5 14,4 8,6 1,4-6,22-20,43-27,43-14,18-14,13-3,1-4-1-14-13-21-28-20-33-13-26-11-29-2-10 1-4z" fill="#1992f1"/><path d="M151,352l0,2 4,2 27,5 20-1 23-6-4-10-1,0-1,5-2-4-2,0-1,3-1-2-13,2-25,0-12-2-2,2-2-3-3,5-1-6zM296,156l-9,0-4,2-6,6-29,57-21,35-19,28-6,15 1,7 3,6 6,7 11,9 11,6 7,2 7,0 3,5 1,7 18-4 24-8 25-15 27-28 9-16 4-13 2-14-2-27-3-13-12-32-3-1-4,2-5,0-10-11-16-9zM79,156l-10,3-16,9-10,11-4,0-7-3-8,19-8,28-2,15 0,12 2,14 4,13 9,16 27,28 25,15 17,6 25,6 2-9 3-3 6,0 7-2 11-6 11-9 6-7 3-6 1-7-6-15-19-28-21-35-29-57-6-6-4-2zM311,114l-6,6 4-1 1,1-3,3 3-1 2,1-3,3 3-1 2,1-3,3 4,4-1,1 2,1-1,1 2,1-1,1 2,1-1,1 2,1-1,1 11-2-12-20zM64,113l-14,19-3,8 10,2 7-13-1-2 3-1-1-2 3-1-1-2 3-1zM93,76l0,2 6,6-4,9-1,7 2,18 5,11 8,5 23,0 27-3 57,0 27,3 23,0 8-5 3-5 3-10 1-14-1-7-3-6 1-1-2-1 7-7-1-2-42-42-18-11-17-6-15-2-15,1-15,4-11,5-19,13z" fill="#179def"/><path d="M151,352l0,2 4,2 27,5 20-1 23-6-4-10-1,0-1,5-2-4-2,0-1,3-1-2-12,2-27,0-1-1-7,1-1-2-2,0-2,2-2-3-3,5-1-6zM305,160l-16-1-4,2-7,7-29,54-37,60-5,11-1,12 5,10 11,11 6,4 14,6 6,0 3,5 1,7 18-4 24-8 25-15 27-28 9-16 3-9 3-18-1-21-4-19-12-32-3-1-4,2-5,0-11-11zM70,160l-16,8-11,11-4,0-7-3-13,34-4,19-1,21 3,18 3,9 9,16 27,28 25,15 17,6 25,6 2-9 3-3 5,0 14-6 6-4 11-11 5-10-1-12-5-11-37-60-29-54-7-7-4-2zM315,120l-6,6 4-1 1,1-3,3 3-1 2,1-3,3 2,1-1,1 2,1-1,1 2,1-1,1 2,1-1,1 2,1-1,1 11-2-12-20zM66,125l-6-5-2,0-8,12-3,8 10,2 5-10-1-2 3-1-1-2zM313,115l-2-1-6,6 6-2zM62,115l2,3 6,2-6-7zM93,76l0,2 6,6-4,12 0,10 3,12 3,6 4,4 13,4 53-2 1-1 31,0 1,1 21,0 19,2 19-1 7-3 4-4 3-6 3-12 0-10-3-9 1-1-2-1 7-7-6-8-37-36-14-9-11-5-10-3-15-2-20,2-10,3-16,8-14,10z" fill="#15a8ed"/><path d="M151,352l0,2 4,2 27,5 20-1 23-6-4-10-1,0-1,5-3-4-1,5-2-4-11,2-29,0-1-1-6,1-1-2-2,0-3,5-1-6-3,5-1-1 0-5zM307,162l-15-1-6,3-8,8-33,60-30,49-5,12-1,12 5,11 11,11 6,4 9,4 8,1 3,5 1,7 18-4 24-8 25-15 27-28 9-16 3-9 3-18-1-21-4-19-12-32-3-1-9,3-12-12zM32,176l-13,34-5,28 0,12 2,14 4,13 5,10 7,10 24,24 10,7 20,10 37,10 2-9 3-3 10-2 12-7 11-11 3-5 2-6 0-8-6-16-30-49-29-54-12-14-6-3-11,0-17,7-12,12zM311,129l3-1 2,1-3,3 2,1-1,1 2,1-1,1 2,1-1,1 2,1-1,1 2,1-1,1 11-2-10-17-2,0zM64,128l-6-5-2,0-6,9-3,8 10,2 5-10-1-2zM313,115l-2-1-6,6 6-2zM62,115l2,3 6,2-6-7zM93,76l0,2 6,6-3,9 0,12 4,13 9,9 16,3 33-1 1-1 57,0 1,1 24,0 1,1 18-1 9-4 7-9 3-11 0-12-2-5 1-2-2-1 7-7-6-8-37-36-14-9-11-5-10-3-15-2-20,2-10,3-16,8-14,10z" fill="#13b3eb"/><path d="M151,352l0,2 4,2 27,5 20-1 23-6-4-10-1,0-1,5-3-4-1,5-2-4-2,0-1,3-1-2-36,1-1,1-1-2-4,0-2,2-2-3-3,5-1-6-3,5-1-1 0-5zM309,164l-14-1-6,2-11,11-32,57-25,41-9,21 0,12 3,7 6,8 10,8 8,4 9,2 3,5 0,3 0-8 2-1 3,5 1,7 20-5 17-6 25-15 27-28 9-16 3-9 3-18-1-21-4-19-12-32-11,4-1-1 1-1-10-9zM66,164l-14,7-5,4-5,7-11-4-12,32-4,19-1,21 3,18 3,9 9,16 27,28 25,15 17,6 20,5 2-9 3-3 1,9 1-5 4-4 4,0 11-5 10-8 8-12 1-15-9-21-25-41-32-57-11-11-6-2zM311,129l3-1 2,1-3,3 2,1-1,1 2,1-1,1 2,1-1,1 2,1-1,1 2,1-1,1 11-2-10-17-2,0zM64,128l-6-5-2,0-6,9-3,8 10,2 5-10-1-2zM313,115l-2-1-6,6 6-2zM62,115l2,3 6,2-6-7zM93,76l7,7-3,8 0,14 4,11 5,6 5,3 16,3 16,0 1-1 104,1 13-2 8-4 7-10 2-7 0-14-3-7 7-7-5-7-37-36-14-9-11-5-10-3-15-2-20,2-10,3-16,8-14,10z" fill="#12bee8"/><path d="M151,352l0,2 4,2 27,5 20-1 23-6-4-10-1,0-1,5-3-4-1,5-2-4-2,0-1,3-1-2-19,2-6-1-11,0-1,1-1-2-4,0-2,2-2-3-3,5-1-6-3,5-1-1 0-5zM308,165l-15,1-8,5-6,7-51,87-9,17-4,11-1,12 2,7 5,8 6,6 11,7 6,2 9,0 3,5 1,7 20-5 17-6 25-15 27-28 9-16 3-9 3-18-1-21-4-19-9-25-3-1-4,2-5,0-1-1 1-1-2-1 1-1-9-9zM67,165l-17,8-6,6-4,7-4,0-7-3-10,27-4,19-1,21 3,18 3,9 9,16 27,28 25,15 17,6 20,5 2-9 3-3 8,0 6-2 11-7 6-6 5-8 2-7-1-12-4-11-9-17-51-87-6-7-8-5zM329,140l-3-5-9,5 2,1-1,1zM48,136l-1,4 10,2 1-3-8-4zM321,126l-2,0-6,6 2,1-1,1 2,1-1,1 10-4zM54,126l-4,6 10,4 2-5-6-5zM93,76l7,7-2,5 0,16 4,10 3,4 8,5 14,3 36,0 1-1 84,1 11-2 11-6 5-8 2-6 0-16-2-4 7-7-5-7-37-36-14-9-11-5-10-3-15-2-20,2-10,3-16,8-14,10z" fill="#10c9e6"/><path d="M151,352l0,2 4,2 27,5 20-1 23-6-4-10-1,0-1,5-3-4-1,5-2-4-2,0-1,3-1-2-4,0-1,3-1-2-10,1-20-1-2,2-1-3-3,0-2,2-2-3-3,5-1-6-3,5-1-1 0-5zM311,167l-9-1-8,2-9,6-5,6-13,20-36,63-13,27-2,12 1,7 5,10 12,11 11,5 8,0 3,5 1,7 20-5 17-6 25-15 27-28 9-16 3-9 3-18-1-21-4-19-9-25-3-1-4,2-5,0-1-1 1-1-2-1 1-1-10-9zM64,167l-13,6-9,9-2,4-4,0-7-3-10,27-4,19-1,21 3,18 3,9 9,16 27,28 25,15 17,6 20,5 2-9 3-3 7,0 11-5 12-11 5-10 1-7-2-12-13-27-36-63-13-20-5-6-9-6-8-2zM329,140l-3-3-8,5zM47,138l0,2 10,2-8-5zM321,126l-2,0-6,6 2,1-1,1 9-4zM54,126l-2,4 9,4 1-3-6-5zM93,76l8,6-3,9 0,7 3,11 4,6 9,6 12,3 123,0 6-1 13-6 6-8 3-11 0-7-3-8 8-7-37-38-14-10-19-9-22-4-20,2-10,3-16,8-14,10z" fill="#11cdd1"/><path d="M151,352l0,2 4,2 27,5 20-1 23-6-4-10-1,0-1,5-3-4-1,5-3-4-1,5-2-4-3,0-1,5-2-4-21,1-1,1-1-2-7,0-3,5-1-6-2,0-3,5-1-6-3,5-1-6-3,5-1-1 0-5zM314,169l-5-1-12,1-10,6-7,8-16,25-33,58-7,14-5,14 0,14 5,11 6,7 7,5 10,4 6,0 3,5 1,7 20-5 17-6 25-15 27-28 9-16 3-9 3-18-1-21-4-19-9-25-3-1-4,2-5,0-1-1 1-1-8-8zM61,169l-13,7-8,10-4,0-7-3-10,27-4,19-1,21 3,18 3,9 9,16 27,28 25,15 17,6 20,5 2-9 3-3 5,0 10-4 7-5 6-7 5-11 0-14-5-14-7-14-33-58-16-25-7-8-13-7zM329,140l-3-3-8,5zM47,138l0,2 10,2-8-5zM321,126l-2,0-6,6 2,1-1,1 9-4zM54,126l-2,4 9,4 1-3-6-5zM93,76l8,6-2,6 0,11 5,12 5,5 8,4 18,3 105,0 15-2 8-3 8-7 5-12 0-11-2-5 8-7-37-38-14-10-19-9-22-4-20,2-10,3-16,8-14,10z" fill="#14cdb5"/><path d="M159,354l0,3 23,4 20-1 14-3-3-11-1,0-1,5-2-4-3,0-1,5-2-4-6,0-1,5-2-4-12,0-3,5-1-6-5,0-3,5-1-6-2,0-3,5-1-6zM220,344l0,8 1,3 4-1zM155,344l-4,8 1,3 2,0 1-3zM346,184l-11,2-1-1 1-1-9-8-13-6-13,0-10,5-7,7-10,14-37,64-13,27-2,7 0,15 6,12 7,7 6,4 14,4 3,11 32-9 20-10 10-7 24-24 7-10 5-10 4-13 2-14 0-12-5-28zM29,183l-10,27-5,28 0,12 2,14 4,13 5,10 7,10 24,24 10,7 20,10 32,9 2-9 3-3 7-1 11-6 7-7 6-12 0-15-2-7-13-27-37-64-10-14-7-7-10-5-13,0-13,6-9,10-4,0zM321,126l-2,0-6,6 9-4zM54,126l-1,2 9,4-3-4zM97,72l6,7-3,7 0,12 4,10 7,7 6,3 14,3 113,0 11-2 9-4 7-7 4-10 0-12-2-4 1-1-2-1 7-7-34-35-14-10-19-9-22-4-20,2-10,3-16,8-14,10z" fill="#16ce99"/><path d="M159,354l0,3 23,4 20-1 14-3-3-11-1,0-1,5-2-4-2,0-1,9-3-8-5,0-1,9-3-8-12,0-4,8-1-9-4,0-4,8-1-9-3,2-1,3-1-6zM346,184l-11,2-10-10-13-5-9,0-8,3-16,16-32,53-21,41-3,10 0,15 3,8 5,7 7,6 6,3 9,2 3,5 0,3 1-9 2,1 2,4 1,6 4,0 23-7 15-7 15-10 24-24 7-10 5-10 4-13 2-14 0-12-5-28zM29,183l-10,27-5,28 0,12 2,14 4,13 5,10 7,10 24,24 15,10 15,7 23,7 4,0 2-8 3-3 1,9 1-5 3-3 14-5 7-6 5-7 3-8 0-15-3-10-21-41-32-53-16-16-8-3-9,0-13,5-10,10-4,0zM321,126l-2,0-6,6 9-4zM54,126l-1,2 9,4-3-4zM97,72l6,7-2,5-1,9 2,8 4,7 11,8 22,4 97,0 22-4 7-4 8-11 2-12-2-6 1-2-2-1 7-7-34-35-14-10-19-9-22-4-20,2-10,3-16,8-14,10z" fill="#18cf7e"/><path d="M180,351l-2,9 4,1 15-1-3-11-12,0zM209,347l-2,0-1,9-3-8-4,0 0,12 13-2zM165,349l-2,9 13,2 0-12-3,0-2,2-2,6-1-9zM346,184l-11,3-7-8-5-3-10-3-11,1-11,6-10,11-12,18-27,47-11,22-4,11-2,9 1,13 5,10 8,8 10,5 9,0 3,5 1,6 8-1 19-6 20-10 10-7 24-24 7-10 5-10 4-13 2-14 0-12-5-28zM29,183l-10,27-5,28 0,12 2,14 4,13 5,10 7,10 24,24 10,7 20,10 19,6 8,1 2-8 3-3 8,0 10-5 8-8 5-10 1-13-2-9-4-11-11-22-27-47-12-18-10-11-11-6-11-1-5,1-10,5-7,8zM321,126l-2,0-6,6 9-4zM54,126l-1,2 9,4-3-4zM97,72l7,6-2,4-1,9 4,12 8,8 13,5 16,2 91,0 16-2 13-5 8-8 2-4 2-12-3-8 7-7-33-34-14-10-19-9-22-4-20,2-10,3-16,8-14,10z" fill="#1bd062"/><path d="M180,351l-2,9 4,1 15-1-3-11-12,0zM200,348l0,12 6-1-3-11zM173,348l-2,2-2,9 6,1 0-12zM209,347l-1,0 0,12 4-1zM167,347l-4,8 0,3 4,1zM348,189l-11,2-1-1 1-1-10-9-11-4-8,0-12,5-7,6-9,11-33,55-15,32-3,12 0,11 2,7 4,7 10,9 8,3 5,0 3,5 1,6 8-1 19-6 20-10 10-7 24-24 7-10 5-10 4-13 2-14 0-12-5-28zM27,188l-8,22-5,28 0,12 2,14 4,13 5,10 7,10 24,24 10,7 20,10 19,6 8,1 2-8 3-3 4,0 8-3 10-9 4-7 2-7 0-11-3-12-15-32-33-55-9-11-7-6-8-4-12-1-11,4-7,6-3,5-4,0zM321,126l-2,0-6,6 9-4zM54,126l-1,2 9,4-3-4zM100,68l6,7-3,7 0,9 6,12 13,8 23,4 85,0 23-4 8-4 8-8 3-8 0-9-2-4 1-1-2-1 7-7-31-31-14-10-19-9-22-4-20,2-21,8-19,13z" fill="#1dd146"/><path d="M180,351l-2,9 4,1 15-1-3-11-12,0zM201,348l0,12 5-1-1-7-2-4zM171,350l-2,9 5,1 0-12zM209,347l-1,0 0,12 4-1zM167,347l-4,8 0,3 4,1zM348,189l-11,3-8-9-10-4-10,0-11,5-9,8-8,10-28,46-14,28-6,19 0,16 5,11 7,7 8,4 5,0 1,3 1-3 3,1 3,11 28-9 21-12 28-27 7-10 5-10 4-13 2-14 0-12-3-20-8-24-6,2-6-1 3-3zM27,188l9,5 1,2-5,1-7-3-8,25-3,20 0,12 2,14 4,13 5,10 7,10 28,27 21,12 28,9 2-9 3-3 2,1 0,2 1-3 5,0 8-4 7-7 5-11 0-16-6-19-14-28-28-46-8-10-9-8-11-5-10,0-10,4-8,9zM101,67l6,7-3,10 2,9 8,10 10,5 13,3 29,1 1,1 62-1 19-3 13-6 7-8 3-10-1-7-2-3 7-7-30-30-14-10-19-9-22-4-20,2-21,8-19,13z" fill="#2fd335"/><path d="M180,351l-2,9 4,1 15-1-3-11-12,0zM203,348l-1,0 0,12 4-1zM173,348l-4,8 0,3 4,1zM209,347l-1,0 0,12 4-1zM167,347l-4,8 0,3 4,1zM350,194l-11,2-1-1 1-1-2-1 1-1-7-6-9-4-12,0-9,4-17,17-24,38-20,41-4,16 0,11 5,13 10,9 12,3 3,11 28-9 21-12 28-27 7-10 8-19 3-18-2-27-3-13zM25,193l-8,25-3,20 0,12 2,14 4,13 5,10 7,10 28,27 21,12 28,9 2-9 3-3 10-2 10-9 5-13 0-11-2-10-6-16-11-22-29-47-17-17-9-4-12,0-9,4-6,6-2,4-4,0zM102,66l6,7-2,5 0,8 3,7 4,5 16,8 31,4 55,0 1-1 21-1 15-4 10-6 4-5 3-7 0-8-2-4 7-7-29-29-14-10-19-9-22-4-20,2-21,8-19,13z" fill="#4ed72f"/><path d="M180,351l-2,9 4,1 15-1-3-11-12,0zM350,194l-11,2-6-7-7-4-11-1-11,4-9,7-11,13-27,44-8,16-8,21-2,18 1,6 4,9 7,7 6,3 4,0 3,5 0-4 3-1 3,5 1,6 23-7 21-12 28-27 7-10 8-19 3-18-2-27-3-13zM25,193l-8,25-3,20 0,12 2,14 4,13 5,10 7,10 28,27 21,12 23,7 2-8 3-3 2,1 0,5 3-6 4,0 6-3 7-7 3-6 2-9-2-18-8-21-8-16-27-44-9-11-11-9-11-4-6,0-9,3-9,9-4,0zM105,63l6,6-1,2-3-1 2,2-2,7 2,9 8,9 13,6 26,4 63,0 26-4 10-4 9-8 4-11-2-7 4-4-3,2-3-1 6-7-30-29-14-9-11-5-10-3-15-2-20,2-21,8-19,13z" fill="#6edc28"/><path d="M192,349l0,12 5-1-1-7-2-4zM180,351l-2,9 5,1 0-12zM351,197l-11,2-1-1 1-1-5-5-10-5-10,0-10,4-19,19-21,33-12,23-7,17-3,11-1,12 1,7 4,9 7,7 7,3 6,0 3,5 1,6 23-7 21-12 28-27 7-10 8-19 3-18-2-27-3-13zM24,196l-8,27-2,27 3,18 8,19 7,10 28,27 21,12 23,7 2-8 3-3 5,0 7-3 7-7 4-9 1-7-1-12-3-11-13-29-13-23-14-21-19-19-10-4-10,0-10,5-5,7-4,0zM106,62l6,6-3,6 1,10 2,4 6,6 7,4 13,4 31,3 53-1 15-2 13-4 7-4 6-6 3-7-1-8 1-2-3-2 6-6-24-25-14-10-19-9-22-4-20,2-21,8-19,13z" fill="#8ee022"/><path d="M194,349l-1,0 0,12 4-1zM182,349l-4,8 0,3 4,1zM352,200l-11,2-1-1 1-1-8-8-9-3-9,1-9,4-14,13-7,9-23,38-9,19-6,17-2,14 1,9 7,13 8,5 6,1 1,2 0-2 3-1 5,11 18-6 21-12 28-27 7-10 8-19 3-18-2-27-3-13zM23,199l-7,24-2,27 3,18 8,19 7,10 28,27 21,12 19,6 2-8 3-3 2,1 0,2 3-3 4,0 8-5 7-13 1-9-2-14-6-17-9-19-23-38-7-9-14-13-9-4-9-1-9,3-6,6-2,4-4,0zM107,61l6,6-3,9 3,9 7,7 18,7 23,3 53,0 18-2 15-4 8-4 7-7 3-9-3-8 6-6-23-24-14-10-19-9-22-4-20,2-21,8-19,13z" fill="#aee41b"/><path d="M352,200l-11,2-5-6-8-4-9,0-10,4-8,6-10,11-22,34-12,24-6,16-2,9 0,16 4,10 7,7 11,2 5,11 18-6 21-12 28-27 7-10 8-19 3-18-2-27-3-13zM23,199l-7,24-2,27 3,18 8,19 7,10 28,27 21,12 19,6 2-8 3-3 10-2 7-7 4-10 0-16-2-9-6-16-12-24-22-34-10-11-8-6-10-4-9,0-8,4-5,6-4,0zM108,60l6,6-2,5 1,8 2,4 6,6 8,4 14,4 16,2 18,0 1,1 48-2 20-5 8-4 6-6 3-7 0-5-2-4 6-6-22-23-19-13-21-8-15-2-20,2-21,8-19,13z" fill="#c6e415"/><path d="M353,203l-11,2-6-7-7-3-7,0-9,3-6,4-13,13-14,20-11,19-14,33-2,8 0,18 3,8 4,5 7,4 8,1 3,10 16-5 21-12 28-27 7-10 8-19 3-18-2-27zM22,202l-6,21-2,27 3,18 8,19 7,10 24,24 25,15 16,5 2-8 3-3 6,0 7-4 4-5 3-8 0-18-2-8-14-33-11-19-14-20-13-13-6-4-9-3-7,0-7,3-6,7-4,0zM110,58l6,6-2,5 1,8 7,8 12,6 30,5 47,0 30-5 9-4 8-7 3-6 0-5-2-4 6-6-20-21-19-13-21-8-15-2-20,2-21,8-19,13z" fill="#dae10d"/><path d="M333,199l-8-1-7,2-10,6-11,11-13,18-10,17-14,31-4,18 0,8 2,8 3,6 6,5 11,1 5,11 21-9 15-10 24-24 12-20 4-13 2-14-1-21-4-19-12,1-1-1 2-2-2,0-6-7zM42,199l-4,2-6,7-2,0 2,1-1,2-12-1-4,19-1,21 2,14 4,13 12,20 24,24 15,10 22,9 2-8 3-3 10-1 6-5 3-6 2-8 0-8-4-18-14-31-10-17-13-18-15-14-13-5zM112,56l6,6-2,5 1,7 10,10 13,5 30,4 48-1 23-5 7-3 8-7 3-6 0-4-2-4 6-6-18-19-19-13-21-8-15-2-20,2-21,8-19,13z" fill="#efde06"/><path d="M356,210l-12,2-2-4-8-6-14,1-11,7-9,9-20,29-12,24-6,17-2,10 0,12 4,11 8,6 4,1 5-1 5,11 18-8 15-10 24-24 7-10 8-19 3-18-1-21zM19,210l-4,19-1,21 3,18 8,19 7,10 24,24 15,10 19,8 2-8 3-3 2,2 3-2 3,0 8-6 4-11 0-12-2-10-6-17-12-24-20-29-16-14-7-3-11,0-4,2-6,8zM114,54l6,6-2,5 1,6 7,8 10,5 11,3 28,3 39-1 25-5 10-5 6-6 2-5-2-7 6-6-16-17-19-13-21-8-15-2-20,2-21,8-19,13z" fill="#f4d107"/><path d="M357,214l-12,1-1-1 1-1-6-6-4-2-10,0-7,3-16,14-22,33-10,21-6,21 0,16 2,6 5,6 3,2 7,1 1,2 0-2 2-1 5,11 15-7 15-10 24-24 7-10 8-19 3-18 0-12zM18,214l-3,15-1,21 3,18 8,19 7,10 24,24 15,10 16,7 2-8 3-3 1,3 2-2 6-1 3-2 5-6 2-6 0-16-6-21-10-21-22-33-16-14-7-3-10,0-4,2-6,8zM116,52l6,6-2,6 1,4 7,8 17,7 19,3 18,0 1,1 28-1 26-5 10-5 6-6 2-6-2-5 6-6-14-15-19-13-21-8-15-2-20,2-17,6-18,11z" fill="#f5c108"/><path d="M336,208l-8,0-8,3-16,14-18,26-13,27-6,24 1,12 3,7 4,4 9,2 1,2 0-2 2-1 3,5 1,5 3,0 10-5 15-10 24-24 12-20 4-13 2-14 0-12-3-19-12,0-1-1 2-2-2,0-5-6zM39,208l-4,2-5,6-2,0 2,1-1,2-12,0-3,19 0,12 2,14 4,13 12,20 24,24 15,10 13,6 2-8 3-3 1,3 2-2 8-2 4-4 3-7 1-12-6-24-13-27-18-26-16-14-8-3zM118,50l6,6-1,9 7,8 17,7 20,3 41,0 27-5 10-5 7-8-1-8 6-6-12-13-19-13-21-8-15-2-20,2-17,6-18,11z" fill="#f7b10a"/><path d="M358,219l-12,1-3-5-4-3-9-1-8,3-7,5-13,14-15,23-10,21-6,21 0,14 3,8 4,4 5,2 7-1 6,10 23-14 24-24 12-20 5-18 1-21zM17,219l-3,19 1,21 5,18 5,10 7,10 24,24 15,10 9,4 3-7 3-3 2,2 9-3 4-4 3-8 0-14-6-21-10-21-19-28-16-14-8-3-6,0-6,3-4,6zM121,47l6,6-2,4 0,5 3,5 5,4 16,6 21,3 35,0 28-5 9-4 5-4 3-5 0-5-2-3 6-6-9-10-19-13-21-8-15-2-20,2-17,6-18,11z" fill="#f9a10c"/><path d="M339,215l-4-1-6,1-8,4-13,12-13,18-8,14-11,28-2,15 1,7 3,7 3,3 6,2 5-1 1,2 0-2 2-1 5,10 19-12 24-24 7-10 8-19 3-18 0-12-2-14-12,0-1-1 1-1zM36,215l-6,5-2,4-12,0-2,14 0,12 3,18 8,19 7,10 24,24 19,12 3-7 3-3 1,3 2-2 4,1 6-2 3-3 3-7 1-7-2-15-11-28-8-14-13-18-13-12-8-4-5-1zM127,41l4,7 0,2-3,3-1,5 5,8 15,7 16,3 39,1 22-3 16-6 5-4 3-6-1-5-3-3 4-8-3-4-23-15-22-7-15-1-10,1-15,4-16,8z" fill="#f98f0d"/><path d="M359,225l-12,1-6-7-3-1-8,1-9,5-16,17-11,17-7,14-7,20-1,20 3,7 3,3 3,1 9-1 5,10 17-11 24-24 12-20 4-13 2-14 0-12zM16,225l-2,13 0,12 2,14 4,13 12,20 24,24 17,11 3-7 3-3 1,2 10-2 3-3 3-7-1-20-7-20-7-14-11-17-16-17-9-5-4-1-7,1-6,7zM127,41l5,8-2,7 5,7 16,7 18,3 37,0 18-3 9-3 10-7 2-4 0-3-2-3 5-8-8-8-18-11-17-6-15-2-15,1-15,4-16,8z" fill="#f67b0d"/><path d="M360,231l-12,0-2-4-4-4-3-1-10,2-13,10-18,25-8,16-5,14-2,9 0,13 5,9 5,2 6-1 5,10 15-10 24-24 7-10 5-10 5-18 1-9zM15,231l-1,7 1,21 5,18 5,10 7,10 24,24 15,10 3-7 3-3 5,1 5-2 5-9 0-13-2-9-5-14-8-16-18-25-13-10-10-2-3,1-6,8zM132,37l4,7-3,6 1,6 11,8 15,4 20,2 35-2 19-6 8-8 0-4-3-6 4-7-3-3-18-11-22-7-15-1-22,4-14,6z" fill="#f3670d"/><path d="M339,226l-6,1-6,3-11,10-17,25-9,21-3,13 0,10 2,6 6,5 5,0 5-2 6,8 8-5 24-24 7-10 8-19 3-18 0-11-12,0-1-1 3-3 5-1-8,0-4-6zM36,226l-5,2-4,6-8,0 8,3-1,2-12,0 0,11 3,18 8,19 7,10 24,24 8,5 7-8 1,2 1-1 7,1 6-5 2-6 0-10-3-13-9-21-17-25-11-10-6-3zM135,34l4,8-3,6 1,5 9,7 19,5 10,1 35-1 19-5 5-3 5-6 0-3-3-6 4-8-18-11-22-7-15-1-15,2-17,6z" fill="#f1530d"/><path d="M343,231l-8,0-6,3-12,11-13,19-8,17-5,21 1,9 2,4 4,3 8-1 5,9 8-5 24-24 12-20 5-18 1-17-12,0-1-1 1-4zM32,231l-4,4-2,7-12,0 1,17 5,18 12,20 24,24 8,5 6-9 7,1 4-3 2-4 1-9-5-21-8-17-13-19-12-11-6-3zM138,32l4,8-2,4 0,6 4,4 11,5 17,3 31,0 20-4 8-4 4-4 0-6-2-4 4-6 0-2-6-4-16-8-10-3-15-2-15,1-12,3-14,6z" fill="#ee3f0d"/><path d="M342,235l-4,0-7,3-12,11-11,16-10,23-2,8 0,12 2,5 4,3 8-1 6,8 27-26 7-10 8-19 3-22-12,0-2-7zM33,235l-5,4-2,7-12,0 3,22 8,19 7,10 27,26 7-8 7,1 4-3 2-5 0-12-2-8-10-23-11-16-12-11-7-3zM141,30l4,8-2,8 3,4 7,4 11,3 19,2 22-1 14-3 7-3 6-6-2-8 4-7-8-6-11-5-10-3-15-2-15,1-12,3z" fill="#eb2b0d"/><path d="M345,241l-7-1-9,5-11,12-12,21-5,15-1,11 3,8 9,1 4-2 7,6 20-20 7-10 8-19 2-13-9-2-3-3 0-4zM30,241l-3,5-1,6-11,3 2,13 8,19 7,10 21,21 7-7 1,2 1-1 1,1 9-1 3-8-1-11-3-10-7-15-7-11-11-12-9-5zM148,26l4,8-1,3-1-1-3,5 1,4 3,3 13,5 15,2 26-1 13-3 6-3 4-5-1-4-4-3 4-10-12-6-10-3-15-2-15,1-15,4z" fill="#df220c"/><path d="M360,255l-9-2-4-3-2-5-5-1-7,3-11,11-8,12-8,19-1,17 2,4 7,1 6-3 6,6 17-17 12-20 4-13zM15,255l1,9 4,13 12,20 17,17 7-6 1,2 1-1 3,2 7-1 2-4-1-17-8-19-8-12-11-11-7-3-5,1-4,7zM152,24l2,11-3,3 0,4 3,3 9,4 10,2 29,0 13-3 9-6 0-4-3-3 0-4 3-7-19-7-15-2-15,1-15,4z" fill="#ce1d0b"/><path d="M344,249l-6,0-5,3-8,8-8,12-8,20 0,12 3,4 6,0 5-3 6,6 14-14 7-10 5-10 4-13-9-2-3-3 0-6zM31,249l-3,4 0,7-5,3-7,1 4,13 5,10 7,10 14,14 7-6 4,3 6,0 3-4 0-12-8-20-8-12-8-8-5-3zM155,36l0,4 3,3 18,5 29-1 10-3 5-4 0-4-6-4 0-4 3-7-12-4-15-2-15,1-15,4-1,3 2,4 0,5-1,1-1-1-1,2-1-1z" fill="#be1809"/><path d="M345,255l-7-1-12,11-7,11-6,17 0,8 3,4 5,0 5-3 6,6 11-11 7-10 6-14-8-2-3-3 6-1-2,0-3-3zM30,255l-1,10-4,2 4,0 1,2-11,5 6,13 7,10 11,11 7-6 4,3 5,0 3-4 0-8-6-17-7-11-12-11zM159,35l0,2 4,4 18,4 21-1 10-3 4-4 0-2-5-4 1-12-22-4-15,1-12,3 1,12-1,1-1-1z" fill="#ad1208"/><path d="M343,260l-2-1-5,2-8,8-5,8-5,13 0,9 2,2 5,0 6-5 9,4-7-7 3-1 3,2-4-4 3-1 3,2-4-4 3-1 7,4 4-5-7-3-3-3 2-1-1-1 3-1-2-2 3-1-2-2 1-8zM32,260l-2,3 1,9-2,1 3,1-2,2 2,0 2,4-10,5 3,5 8-4 3,1-2,3 3-1 1,2-2,2 3-1 1,2-6,6 8-4 6,5 5,0 2-2 0-9-5-13-5-8-8-8-5-2zM164,34l2,3 12,4 24-1 7-3 2-3-3-3-5-2 0-4-2,4-2-1 0-12-9-1-14,1 0,12-1,1-3-3 0-2 0,5-1,1-2-1z" fill="#9d0d07"/><path d="M341,267l-5,1-7,8-5,11 1,9 3,0 3-2 7-9 4-9zM34,267l-1,9 4,9 7,9 3,2 3,0 1-9-5-11-7-8zM171,32l1,2 9,3 13,0 5-1 5-3-2-3-6-2 0-12-1,0-1,7-3,5-6,0-3-3-2-9-1,0 0,12z" fill="#8d0806"/><path d="M185,15l-10,1-15,4-11,5-19,13-32,32-21,28-19,22-13,22-8,24-13,29-8,28-2,27 3,18 8,19 7,10 24,24 10,7 15,8 24,8 28,5 34,10 26,2 15-2 34-10 5,0 30-7 17-6 21-12 28-27 7-10 5-10 4-13 2-14 0-12-3-20-7-23-13-29-8-24-13-22-15-17-25-33-37-36-14-9-11-5-15-4zM161,36l19-5 21,1 13,4 12,6 16,12 16,17 18,26 43,73 14,27 7,19 4,18 0,25-2,9-8,18-5,7-16,15-20,11-24,7-38,4-87,0-38-4-24-7-20-11-16-15-11-19-4-15 1-31 6-21 13-28 48-82 18-26 22-22 10-7z" fill="#000" fill-opacity="0.090"/><path d="M185,15l-10,1-15,4-11,5-19,13-32,32-21,28-19,22-13,22-8,24-13,29-8,28-2,27 3,18 8,19 7,10 24,24 10,7 15,8 24,8 28,5 34,10 26,2 15-2 34-10 5,0 30-7 17-6 21-12 28-27 7-10 5-10 4-13 2-14 0-12-3-20-7-23-13-29-8-24-13-22-15-17-25-33-37-36-14-9-11-5-15-4zM159,35l17-5 23,0 17,5 10,5 13,9 20,20 18,25 42,71 15,29 8,22 4,20 0,20-3,14-6,14-12,16-18,14-14,7-28,8-40,4-75,0-1-1-16,0-17-2-19-4-15-5-14-7-18-14-9-11-6-11-6-22 1-27 8-28 13-27 42-72 19-28 24-25 13-9z" fill="#000" fill-opacity="0.099"/><path d="M185,15l-10,1-15,4-11,5-19,13-32,32-21,28-19,22-13,22-8,24-13,29-8,28-2,27 3,18 8,19 7,10 24,24 10,7 15,8 24,8 28,5 34,10 26,2 15-2 34-10 5,0 30-7 17-6 21-12 28-27 7-10 5-10 4-13 2-14 0-12-3-20-7-23-13-29-8-24-13-22-15-17-25-33-37-36-14-9-11-5-15-4zM158,34l12-4 13-2 17,1 17,5 10,5 13,9 15,14 17,21 23,36 33,58 12,27 5,17 2,11 0,26-4,16-9,17-16,17-15,10-19,8-15,4-36,5-77,1-1-1-32-2-32-7-19-8-15-10-13-13-8-12-6-15-2-10 0-26 5-22 11-27 39-69 26-39 11-13 15-14 13-9z" fill="#000" fill-opacity="0.110"/><path d="M185,15l-10,1-15,4-11,5-19,13-32,32-21,28-19,22-13,22-8,24-13,29-8,28-2,27 3,18 8,19 7,10 24,24 10,7 15,8 24,8 28,5 34,10 26,2 15-2 34-10 5,0 30-7 17-6 21-12 28-27 7-10 5-10 4-13 2-14 0-12-3-20-7-23-13-29-8-24-13-22-15-17-25-33-37-36-14-9-11-5-15-4zM158,33l17-5 10-1 15,1 17,5 12,6 14,10 20,20 29,41 27,46 16,32 8,21 5,22 1,16-4,24-6,14-10,14-16,14-18,10-33,10-68,8-25-1-56-7-28-8-23-12-16-14-13-20-6-21-1-15 2-18 9-30 19-39 27-46 29-41 25-24z" fill="#000" fill-opacity="0.124"/><path d="M47,312l13,12 11,7 15,7 23,7 36,7 22,7 26,2 15-2 22-7 36-7 23-7 15-7 11-7 13-13-6-5-4,6-2-1-2,4-2-1-1,3-1-1-3,1-1,3-2-1-14,7-14,4-1,3-1-2-22,5-24,3-12,3-8,4-10,2-21,0-10-2-8-4-12-3-12-1-18-4-4,1-1-2-4,1-1-2-3,1-1-2-3,2-1-3-2,1-1-2-2,1-1-2-2,1-1-2-2,1-1-2-2,1-1-2-1,1-3-3-2,1-1-2-1,1-1-2-1,1-3-3-3,3-1-1 1-4-1,1-1-2-3,3-1-1 1-4-3,3-1-1 1-4-1-1-3,3-1-1 1-4-3-3zM360,257l-12,0 0,2 5,3-6,1 2,3-3,1 2,3-3,1 2,2-3,1 2,2-3,1 1,1-2,1 1,1-2,1 1,1-2,1 1,1-3,3 3,3-1,1-4-1 3,3-6,1 3,3-1,1-4-1-3,3 6,6 9-9 7-10 5-10zM15,257l2,11 8,19 7,10 10,9 5-6-6-4 1-2-4-2 1-2-3-1 1-2-5-10-3-1 2-1-3-2 2-2-3-1 2-1 0-2-3-1 2-1 0-2-5-1 4-2 0-3zM357,234l-8,4 0,12 2,2 9,2 1-16-1-4zM15,234l-1,4 1,16 7-1 4-2 0-14zM264,57l-6,6 9,8-1,1 13,16 26,38 25,48 7,17 2,1-1,1 1,4 3,3-1,2 2,1-1,2 2,1-1,2 2,1-1,3 2,1-1,2 3,1-2,2 0,2 3,1-2,4 6,1-5,3 0,3 12,0-2-14-7-23-11-24-6-19-9-20-8-12-19-22-16-22zM112,57l-19,19-16,22-19,22-8,12-9,20-6,19-11,24-7,23-2,14 12,0 0-4-4-2 5-1 0-3-2-1 3-1 0-3-2-1 3-1 4-15 11-26 25-48 26-38 13-17 8-8zM198,16l0,12 3,0 2-4 1,5 2,0 1-2 1,3 2-2 1,3 8,3 2-2 1,3 4,2 2-1 1,3 2,1 2-1 1,3 2-1 1,3 5,4 2-1 1,3 4,4 6-5-10-11-19-13-14-6zM177,16l-14,3-14,6-14,9-15,14 6,6 4-4-1-4 1-1 3,3 3-4 1,1 1-1-1-3 1-2 3,3-1-3 1-2 3,3 1-2 1,1-1-3 1-2 3,3 1-2 1,1 1-2 1,1 1-3 2,2 3-3 1,1 2-2 2,1 1-3 2,2 1-3 3,2 1-6 1,3 4,2zM181,16l2,9 2,2 6,0 3-11-4-1z" fill="#000" fill-opacity="0.141"/><path d="M190,349l0,12 7-1-3-11zM182,349l-2,2-2,9 7,1 0-12zM203,348l-1,0 0,12 4-1zM173,348l-4,8 0,3 4,1zM242,338l-1,0-1,5-2-4-2,0-1,3-1-2-2,0-1,3-2-2-1,3-1-2-2,3-2-2-1,3-2-2-1,5-2-4-1,0-1,5-3-4-1,5-3-4 0,12 22-7 15-3zM132,340l-2,9 15,3 22,7 0-12-3,5-1-6-3,5-1-6-3,5-1-6-2,2-1-3-2,2-1-3-2,2-1-3-2,2-1-3-3,2-1-3-3,2-1,3-1-6zM258,335l-1,0-1,9-4-8-1,9-4-8 0,12 14-3zM118,335l-2,2-2,9 14,3 0-12-4,8-1-9-2,2-2,6-1-1zM271,332l-1,0-1,5-3-4 0,12 9-3zM105,332l-2,2-2,8 8,3 0-12-3,5zM289,326l2,10 3,0zM86,326l-5,10 3,1zM294,324l2,10 2,0 1-2zM81,324l-5,8 3,3zM319,309l4,8 2-3zM56,309l-6,6 2,2zM343,277l8,5 3-3zM32,277l-10,2 0,2 2,1zM348,259l8,4 3,0 1-4zM15,259l1,4 11-3 0-1zM349,250l8,4 3,0 1-4zM14,250l1,4 11-3 0-1zM361,238l-1-4-9,2-2,2zM14,238l12,0 0-1-11-3zM358,218l-1-4-9,2-2,2zM17,218l12,0 0-1-11-3zM355,207l-3-1-8,4 8,0 3-1zM20,209l3,1 8,0-10-5zM349,190l-8,3-2,2 3,1-2,2 11-2zM26,190l-2,5 1,1 10,2-2-2 3-2zM348,188l-1-3-2,0-8,5zM28,185l0,3 10,2zM346,183l-3-3-8,5zM30,181l0,2 10,2-8-5zM343,176l-3-5-9,5 2,1-1,1zM34,172l-1,4 10,2 1-3-8-4zM328,142l-8,5 3,1-2,2 2,1-1,2 2,1-1,3 3,3-1,1 2,2-1,1 3,1-2,2 2,1-1,1 5,0 6-2-9-25zM47,142l-2,0-8,22 0,3 6,2 4,0 1-3-2-1 3-1 5-14-2-2 3-1zM311,129l3-1 2,1-3,3 2,1-1,1 2,1-1,1 2,1-1,1 2,1-1,1 2,1-1,1 11-2-10-17-2,0zM64,128l-6-5-2,0-6,9-3,8 10,2 5-10-1-2zM312,114l-7,6 3-1 2,1-3,3 9-4zM64,113l-5,6 9,4-1-2 3-2zM308,109l-2-1-6,6 3,1 6-4zM69,107l-3,4 8,4 1-2zM295,95l-6,6 1,1 4-1 1,1-3,3 4,4 2,0 6-4zM295,93l-3-2-6,6zM292,89l-3-2-6,6zM289,85l-3-2-6,6zM285,80l-2-1-6,6 6-2zM92,78l-21,27 2,2 6,2 4-4-1-2 4-2-4-5 2-1 5,2-4-5 2-1 5,2-4-5 2-1 5,2-4-5 2-1 5,2zM277,70l-7,6 6-2 2-2zM99,69l-2,3 8,4zM273,66l-2-2-6,6zM102,66l8,4-5-6zM231,28l-2,1-3,8 6-6zM144,28l-1,3 6,6-3-8zM226,25l-2,0-2,10 5-8zM151,24l-3,3 5,8zM219,22l-2,0-2,10 5-8zM158,21l-3,3 5,8zM200,16l0,12 4-8 1,9 1,0 4-10zM175,16l-9,3 2,8 2,2 1-9 4,8zM190,15l0,12 1,0 3-11zM185,15l-4,1 2,9 2,2z" fill="#000" fill-opacity="0.164"/></g></g></g>
<g clip-path="url(#c6)"><g filter="url(#fb6)"><g transform="translate(235.125,643.125) scale(0.25)"><path d="M182,11l-11,2-15,5-20,11-13,10-34,34-32,41-17,31-18,48-6,31 0,22 5,23 11,22 6,8 23,23 15,11 25,12 34,10 38,8 31,1 43-8 38-11 20-9 19-13 25-25 13-21 7-23 1-32-7-33-20-51-18-30-27-34-36-36-20-14-17-8-14-4z" fill="#271476"/><path d="M182,11l-11,2-15,5-20,11-13,10-34,34-32,41-17,31-18,48-6,31 0,22 5,23 11,22 6,8 23,23 15,11 25,12 34,10 38,8 31,1 43-8 38-11 20-9 19-13 25-25 13-21 7-23 1-32-7-33-20-51-18-30-27-34-36-36-20-14-17-8-14-4zM174,347l8-3 22,0 8,3-2,2-6,1-22,0zM183,172l4-1 16,1 4,2 6,6 2,4-1,14-6,10-8,6-3,1-11-1-10-9-5-10 1-13 6-7zM313,109l4,3-1,1 5,5-1,1 4,7 3,2-1,1 2,1-1,1 3,5-1,3-12-17-5-11zM73,109l1,3-6,12-11,15-1-2 7-14z" fill="#251e8b"/><path d="M319,102l-6,6 4-1 1,1-3,3 3-1 2,1-3,3 3-1 2,1-3,3 3-1 2,1-3,3 4,4-1,1 2,1-1,1 2,1-1,1 3-1 2,1-3,3 2,1-1,1 2,1-1,1 2,1-1,1 11-2-17-28zM182,11l-11,2-15,5-20,11-13,10-34,34-32,41-17,31-18,48-6,31 0,22 5,23 11,22 6,8 23,23 15,11 25,12 34,10 38,8 31,1 43-8 38-11 20-9 19-13 25-25 13-21 7-23 1-32-7-33-20-51-8,3-2,2 2,1-2,2-12-15-13-26 1-2 3,1 7-4-21-26-36-36-20-14-17-8-14-4zM167,347l2-2 13-3 23,0 9,2 6,3-3,2-15,2-28-1-5-1zM189,162l14,1 11,4 8,8 3,8-1,13-6,13-10,11-9,5-5,1-7-1-6-3-9-8-8-13-3-11 0-6 3-9 10-9zM77,103l1,3-9,19-16,21-1-2 9-17-1-2 3-1 1-2-1-2 3-1 3-5-4-5 2-1 5,2-1-2 3-2-4-4 1-1zM311,99l1,1-4,4-1-2z" fill="#2228a0"/><path d="M346,145l-3-3-8,5zM43,139l-1,4 10,2 1-3-8-4zM336,125l-8,7 2,1-1,1 2,1-1,1 2,1-1,1 11-2zM53,121l-2,4 9,4 1-3-6-5zM55,117l1,2 8,3-6-6zM329,114l-2,0-6,6 3-1 2,1-3,3 2,1-1,1 9-4zM62,107l-4,6 9,4-1-2 3-2zM322,104l-3-2-6,6zM182,11l-11,2-15,5-20,11-13,10-34,34-14,17 7,7 0,2-12,27-20,26-9-5-2,1-8,19-9,26-4,17-2,14 0,22 5,23 11,22 6,8 23,23 15,11 25,12 34,10 38,8 31,1 43-8 38-11 20-9 19-13 25-25 13-21 7-23 1-32-7-33-16-42-11,4-18-22-8-15-6-16 6-4 2-3-14-17-36-36-20-14-17-8-14-4zM161,346l22-6 20,0 15,3 8,4-4,2-14,2-30,0-14-2zM180,157l19-1 17,4 11,8 5,10 0,13-3,10-9,16-12,12-12,5-6,0-10-4-13-12-9-15-4-13 0-11 3-8 8-8z" fill="#2031b5"/><path d="M42,141l0,2 10,2-8-5zM336,125l-8,7 2,1-1,1 2,1-1,1 2,1-1,1 11-2zM52,122l1,2 8,3-6-6zM331,117l-2,0-6,6 2,1-1,1 9-4zM62,107l-4,6 9,4-1-2 3-2zM182,11l-11,2-15,5-20,11-13,10-34,34-10,12-1,3 6,6 0,2-9,23-5,9-20,25-1-2-9-4-9,20-9,26-4,17-2,14 0,22 5,23 11,22 6,8 23,23 15,11 25,12 34,10 38,8 31,1 43-8 38-11 20-9 19-13 25-25 13-21 7-23 1-32-7-33-13-35-3-5-10,5-22-28-13-31 7-7-11-14-36-36-20-14-17-8-14-4zM157,346l19-6 20-2 26,5 6,2 1,2-18,4-36,0-17-3zM172,155l10-2 23,0 9,2 15,8 6,8 2,8 0,7-4,15-6,12-7,10-9,9-8,5-6,2-7,0-12-5-14-14-10-17-5-20 2-11 2-4 8-8zM46,153l1-1 3,1-1,1z" fill="#1d3bcb"/><path d="M42,141l0,2 10,2-8-5zM336,125l-8,7 2,1-1,1 2,1-1,1 2,1-1,1 11-2zM331,117l-2,0-6,6 9-4zM58,113l9,4-6-6zM182,11l-11,2-15,5-20,11-13,10-34,34-10,12 7,8-13,32-25,32-5,1-7-3-14,38-4,17-2,14 0,22 5,23 11,22 6,8 23,23 15,11 25,12 34,10 38,8 31,1 43-8 38-11 20-9 19-13 25-25 13-21 7-23 1-32-7-33-13-35-11,4-1-1 1-1-4-3-20-25-5-9-9-24 7-9-10-12-36-36-20-14-17-8-14-4zM154,346l17-6 15-3 20,1 27,8-3,2-3,0-1,3-1-2-24,3-16,0-13-2-6,1-1-2-3,0-2,2-1-3-3,1zM170,152l18-3 25,2 7,2 11,6 6,6 3,6 1,15-4,14-5,11-10,15-11,11-8,5-7,2-6,0-16-8-12-13-6-9-8-17-3-13 0-8 2-7 8-10z" fill="#1a45e0"/><path d="M342,136l-3-3-8,5zM336,125l-8,7 9-4zM331,117l-2,0-6,6 9-4zM182,11l-11,2-15,5-20,11-13,10-40,41-1,3 6,7-3,5-8,25-5,9-25,30-11-4-8,20-9,30-3,19 0,22 5,23 11,22 6,8 23,23 15,11 25,12 34,10 38,8 31,1 43-8 38-11 20-9 19-13 25-25 13-21 7-23 1-32-5-26-13-37-3-1-4,2-5,0-1-1 1-1-18-19-9-12-7-15-6-18 1-2-2-1 7-7-8-10-36-36-20-14-17-8-14-4zM150,346l3-2 30-8 20,0 30,8 3,2-1,3-2-2-1,5-2-4-2,0-1,5-2-4-2,0-1,5-2-4-4,0-1,3-1-2-10,1-31-1-1,1-1-2-4,0-2,2-1-3-2,0-3,5-1-6-3,2-1,3-1-6-2,2zM219,149l14,6 10,11 2,6 0,12-3,12-10,21-10,14-10,10-13,7-6,1-9-2-11-7-8-8-12-17-6-12-6-20 1-14 3-6 7-7 12-6 24-4 11,0z" fill="#1a50e7"/><path d="M153,356l0,3 29,5 22,0 29-5-3-11-1,0-1,9-3-8-2,0-1,5-2-4-3,0-1,5-2-4-7,0-1,3-1-2-23,0-2,2-1-3-6,0-3,5-1-6-2,0-3,5-1-6-1,0-4,8-1-9zM331,117l-2,0-6,6 9-4zM176,12l-20,6-20,11-13,10-40,41 0,2 6,7-2,3-7,24-6,12-11,14-12,12-6,9-4,0-7-3-12,33-6,31 1,29 6,21 7,14 8,11 23,23 15,11 13,7 27,10 32,8 0-13 1-1 37-10 14,0 37,10 1,1 0,13 32-8 15-5 20-9 19-13 25-25 13-21 6-18 2-12 0-25-2-13-5-20-11-30-3-1-9,3-4-6-18-19-7-10-4-8-4-15-5-12 7-8-17-20-31-29-15-10-12-6-25-7zM157,149l20-5 38,1 19,6 10,8 4,7 1,4-1,17-5,15-7,14-14,20-9,9-9,6-6,2-10,0-12-6-15-15-16-26-7-20-1-15 4-10 8-8z" fill="#1a5be9"/><path d="M153,356l0,3 29,5 22,0 29-5-3-11-1,0-1,9-4-8-1,9-3-8-2,0-1,9-3-8-5,0-1,9-3-8-23,0-4,8-1-9-4,0-4,8-1-9-3,2-2,6-1-9-4,8-1-9zM171,13l-15,5-12,6-16,11-45,45 7,8-2,3-6,23-5,12-8,11-18,18-6,8-4,0-7-3-6,15-9,30-3,19 0,22 2,12 5,16 7,14 8,11 28,27 10,7 20,10 27,9 20,4 2-12 8-1 25-9 19-2 11,2 25,9 8,1 2,12 4,0 38-11 20-9 19-13 25-25 13-21 7-23 1-32-3-18-13-40-3-1-4,2-5,0-1-1 1-1-2-1 1-1-23-23-7-9-5-10-6-23-3-6 4-5-3,2-3-1 7-7-30-32-25-20-22-11-20-5-23,0zM152,147l9-3 18-3 36,1 10,2 15,6 9,8 3,6 1,15-2,9-5,14-8,16-13,19-15,15-9,5-12,1-14-7-17-18-17-29-7-21-1-14 5-12 4-4z" fill="#1a66eb"/><path d="M178,360l0,3 4,1 26-1-3-11-23,0zM220,350l-2,0-1,9-3-8-4,0 0,12 13-2zM160,351l-2,9 18,3 0-12-3,0-2,2-2,6-1-9-3,2-2,6-1-9zM171,13l-15,5-12,6-16,11-42,42 6,8-3,5-5,22-7,17-6,8-20,19-7,10-11-4-11,31-5,23-1,30 2,12 5,16 7,14 8,11 28,27 10,7 20,10 27,9 16,3 2-8 5-4 7-1 30-11 14-1 10,2 17,7 19,5 3,5 1,7 38-11 20-9 19-13 25-25 13-21 7-23 1-32-3-18-13-40-3-1-4,2-5,0-5-7-25-25-4-6-5-12-3-16-4-10 1-2-2-1 7-7-30-32-25-20-22-11-20-5-23,0zM153,143l31-5 18,0 18,2 16,4 10,5 9,10 2,6-1,17-7,20-8,16-18,26-11,11-12,7-4,1-10-1-13-8-19-22-11-18-8-17-6-22 1-13 3-6 6-6z" fill="#1a71ed"/><path d="M178,360l0,3 4,1 26-1-3-11-23,0zM211,351l0,12 6-1-3-11zM173,351l-2,2-2,9 6,1 0-12zM220,350l-1,0 0,12 4-1zM167,350l-4,8 0,3 4,1zM171,13l-15,5-20,11-13,10-34,34-2,4 6,7-4,9-5,26-5,11-33,33-3,5-4,0-7-3-10,28-6,31 0,22 4,20 12,25 6,8 23,23 15,11 25,12 34,10 2-9 3-3 9-1 36-14 16,0 36,14 11,1 3,5 1,6 11-2 32-11 24-14 30-29 9-13 9-22 3-16 0-25-5-26-9-27-3-1-4,2-5,0-1-1 1-1-2-1 1-1-3-2-5-7-13-11-15-16-6-15-2-15-5-14 7-8-29-31-25-20-22-11-20-5-23,0zM141,143l17-5 13-2 12,0 1-1 31,1 18,3 12,4 7,4 7,7 3,8 0,11-9,28-12,23-12,18-10,12-13,11-9,4-8,0-12-6-19-20-19-30-11-25-4-17 0-8 4-10 6-6z" fill="#1a7cef"/><path d="M200,352l0,12 8-1-3-11zM182,352l-2,2-2,9 9,1 0-12zM212,351l0,12 5-1-1-7-2-4zM171,353l-2,9 5,1 0-12zM167,350l-4,8 0,3 4,1zM171,13l-15,5-20,11-13,10-33,33 6,8-1,1-3-1 2,3-4,11-3,27-4,10-9,10-21,16-11,14-4,0-7-3-9,25-6,31 0,22 4,20 12,25 6,8 23,23 15,11 25,12 29,8 2-8 3-3 1,9 3-9 12-2 34-16 12-1 10,3 28,14 12,2 3,5 0-4 2-1 3,5 1,6 7-1 32-11 24-14 30-29 9-13 9-22 3-16 0-25-5-26-9-27-3-1-4,2-5,0-4-6-9-9-20-15-9-11-3-9-3-27-4-10 1-1-2-1 7-7-26-27-25-20-22-11-20-5-23,0zM133,140l13-4 17-3 50-1 23,3 17,5 6,3 7,7 3,8 0,7-3,14-6,16-13,26-22,33-15,16-7,5-11,3-9-3-8-6-22-26-16-26-14-30-6-24 1-9 2-4 6-6z" fill="#1a87f1"/><path d="M202,352l0,12 6-1-3-11zM182,352l-2,2-2,9 6,1 0-12zM214,351l-1,0 0,12 4-1zM173,351l-4,8 0,3 4,1zM171,13l-15,5-20,11-13,10-32,32 6,8-5,12-1,35-3,8-7,7-27,17-12,13-4,0-7-3-9,25-6,31 0,22 4,20 12,25 6,8 23,23 15,11 25,12 29,8 2-8 3-3 9-1 8-3 13-7 16-11 13-4 11,4 27,17 11,4 9,1 3,5 1,6 7-1 32-11 24-14 30-29 9-13 9-22 3-16 0-25-5-26-9-25-11,2-1-1 1-1-14-14-23-14-10-9-3-9-1-35-4-10 7-7-25-26-25-20-22-11-20-5-23,0zM117,140l12-5 26-5 25-1 1-1 24,0 1,1 25,1 23,4 14,5 7,6 2,5 0,8-2,9-8,22-9,19-14,25-16,24-11,14-16,15-4,2-8,0-8-5-19-21-21-31-20-38-9-23-3-13 0-6 3-7z" fill="#1992f1"/><path d="M203,352l0,12 5-1-1-7-2-4zM180,354l-2,9 5,1 0-12zM173,351l-4,8 0,3 4,1zM301,146l-6,0-4,2-4,5-12,28-22,43-23,37-22,30-5,10 0,6 2,4 12,13 19,13 11,4 9,0 3,5 1,6 10-2 25-9 15-8 14-10 25-25 9-13 6-13 5-18 1-32-7-33-5-13-6,2-6-1 3-3 7-3-11,3-9-11-10-7-12-6zM85,146l-13,4-12,6-11,8-9,12-4,0-7-3-7,20-6,31 1,29 4,16 9,19 8,11 23,23 15,11 13,7 27,10 10,2 2-8 3-3 8,0 9-3 20-13 13-14 2-4 0-7-9-15-27-38-15-25-18-35-16-36-4-4zM92,70l6,7-4,11 0,22 2,9 4,9 8,4 66-7 54,1 50,6 8-4 5-12 2-22-2-11-3-5 7-7-23-24-19-16-23-13-19-6-29-1-11,2-15,5-20,11-13,10z" fill="#179def"/><path d="M205,352l-1,0 0,12 4-1zM182,352l-4,8 0,3 4,1zM173,351l-4,8 0,3 4,1zM315,152l-8-2-8,0-5,2-4,4-37,71-19,31-16,23-9,17-1,8 6,12 10,10 12,8 13,5 7,0 3,5 1,6 10-2 25-9 15-8 14-10 28-29 10-17 5-14 3-16 0-25-3-18-8-27-3-1-4,2-5,0-1-1 1-1-2-1 1-1-11-11-9-6zM79,150l-15,5-14,9-10,12-4,0-7-3-7,20-5,23-1,30 2,12 5,16 9,17 6,8 23,23 15,11 13,7 27,10 10,2 2-8 3-3 6,0 7-2 17-10 14-15 3-7 0-6-6-14-23-34-22-37-28-56-7-8-5-2zM93,69l6,7-3,6-2,12 2,17 5,11 3,3 8,3 13,0 40-4 57,0 39,4 17-1 8-6 3-6 3-15 0-9-4-13 7-7-23-24-19-16-23-13-25-7-23,0-11,2-15,5-12,6-21,15z" fill="#15a8ed"/><path d="M205,352l-1,0 0,12 4-1zM182,352l-4,8 0,3 4,1zM173,351l-4,8 0,3 4,1zM319,155l-8-2-9,0-7,3-7,8-30,57-39,63-7,17 1,10 7,11 16,13 11,5 9,1 3,5 1,6 10-2 25-9 15-8 14-10 28-29 10-17 5-14 3-16 0-25-3-18-8-27-3-1-4,2-5,0-1-1 1-1-13-13zM75,153l-10,3-14,8-9,9-2,4-11-4-7,20-5,23-1,30 2,12 5,16 9,17 6,8 23,23 15,11 13,7 12,5 21,6 2-8 3-3 1,6 0-2 3-3 11-2 17-10 11-12 4-9 0-8-5-13-38-61-32-61-8-9-6-3zM93,69l6,7-4,14 0,7 3,14 7,10 10,4 23,0 1-1 38-1 1-1 30,0 1,1 22,0 17,2 27-1 5-2 5-5 3-6 3-12 0-11-4-11 7-7-22-23-25-20-22-11-20-5-23,0-11,2-15,5-12,6-21,15z" fill="#13b3eb"/><path d="M182,352l-4,8 0,3 4,1zM317,156l-6-1-9,1-7,4-6,7-38,69-29,47-6,14-1,5 1,9 8,13 9,8 13,7 8,1 3,3 0-2 3-1 3,5 1,6 31-10 15-8 14-10 28-29 10-17 5-14 3-16 0-25-3-18-8-27-3-1-4,2-5,0-4-6-9-8zM69,156l-17,8-8,7-5,8-4,0-7-3-9,29-3,19 0,22 4,20 12,25 6,8 23,23 15,11 13,7 12,5 21,6 2-8 3-3 2,1 0,2 3-3 5,0 8-3 12-8 7-7 7-14-1-11-8-18-28-45-36-66-7-8-7-4-4-1zM96,66l6,6-1,2-3-1 2,3-4,11 0,9 3,12 7,10 3,2 12,3 21,0 1-1 21,0 1-1 56,0 1,1 43,1 14-4 7-8 4-13 0-12-3-9 4-4-3,2-3-1 6-6-3-5-26-25-15-11-22-11-20-5-23,0-11,2-15,5-12,6-21,15z" fill="#12bee8"/><path d="M322,159l-10-2-7,1-8,4-5,5-10,15-23,43-32,53-8,18-1,12 8,16 9,8 10,6 6,2 9,0 3,5 1,6 31-10 15-8 14-10 28-29 10-17 5-14 3-16 0-25-3-18-7-24-3-1-4,2-5,0-1-1 1-1-11-12zM64,159l-15,8-10,12-4,0-7-3-9,29-3,19 0,22 4,20 12,25 6,8 23,23 15,11 13,7 12,5 21,6 2-8 3-3 8,0 6-2 9-5 11-10 7-14-1-13-10-22-24-39-27-50-11-17-7-7-6-3-8-1zM96,66l6,6-1,2-3-1 2,3-3,9 0,10 4,13 7,8 6,3 10,2 27,0 1-1 110,1 10-2 6-3 6-6 5-14 0-13-3-7 1-1-2-1 6-6-3-5-26-25-15-11-22-11-20-5-23,0-11,2-15,5-12,6-21,15z" fill="#10c9e6"/><path d="M321,160l-6-1-9,1-6,3-10,10-63,109-6,16 1,16 6,10 13,11 9,4 10,1 3,5 1,6 31-10 15-8 14-10 28-29 10-17 5-14 3-16 0-25-3-18-7-24-3-1-4,2-5,0-1-1 1-1-12-12zM62,161l-13,7-10,11-4,0-7-3-9,29-3,19 0,22 4,20 12,25 6,8 23,23 15,11 13,7 29,10 2-8 3-3 1,6 0-2 3-3 6,0 14-6 12-11 6-12-1-17-9-20-23-38-28-51-11-16-4-4-9-5-8-1zM97,65l6,6-5,11 0,12 4,12 9,9 15,4 44,0 1-1 89,1 7-1 10-4 6-6 5-12 0-15-4-8 6-6-2-4-26-25-15-11-22-11-20-5-23,0-11,2-15,5-12,6-16,11z" fill="#11cdd1"/><path d="M323,162l-5-1-11,1-6,3-10,10-14,22-40,70-12,25-2,8 0,9 2,7 5,8 11,10 11,5 8,1 2,4 0-4 2-1 5,11 26-9 15-8 14-10 28-29 10-17 5-14 3-16 0-25-3-18-7-24-3-1-4,2-5,0-1-1 1-1-9-9zM63,162l-8,3-9,6-8,11-4,0-7-3-8,26-3,19 0,22 4,20 12,25 6,8 23,23 15,11 13,7 29,10 2-8 3-3 1,6 0-2 3-3 8-1 7-3 6-4 9-9 6-13-1-15-10-23-54-93-8-10-11-7-4-1zM97,65l6,6-4,9 0,14 4,10 9,9 14,4 134,0 6-1 11-5 8-10 2-6 0-16-3-6 6-6-2-4-16-16-25-20-22-11-20-5-23,0-11,2-15,5-12,6-16,11z" fill="#14cdb5"/><path d="M326,164l-4-1-14,1-6,3-10,10-15,23-45,80-6,16-1,12 2,8 4,7 10,10 7,4 6,2 10,0 5,11 26-9 15-8 14-10 28-29 10-17 5-14 3-16 0-25-3-18-6-21-3-1-4,2-5,0-3-6-8-8zM64,163l-9,3-8,5-9,11-4,0-7-3-8,26-3,19 0,22 4,20 12,25 6,8 23,23 15,11 13,7 29,10 2-8 3-3 10,0 9-4 7-5 7-8 5-13 0-9-2-8-11-24-50-86-7-9-7-6-9-4zM98,64l6,6-4,8 0,15 5,11 10,8 20,4 117,0 13-2 10-4 7-7 3-6 2-9 0-6-4-10 6-6-1-3-16-16-25-20-22-11-20-5-23,0-11,2-15,5-12,6-16,11z" fill="#16ce99"/><path d="M325,165l-14,0-5,2-7,5-8,9-17,27-33,58-12,27-2,14 1,6 4,9 12,12 8,4 12,1 5,11 26-9 15-8 14-10 28-29 10-17 5-14 3-16 0-25-3-18-6-21-3-1-4,2-5,0-1-1 1-1-7-8-7-5zM27,179l-5,14-5,23-1,30 4,20 10,22 8,11 23,23 9,7 19,11 29,10 2-8 3-3 8,0 14-7 7-7 6-12 1-12-2-9-14-30-41-71-10-14-10-9-7-3-14,0-13,6-10,11-4,0zM98,64l6,6-4,11 1,11 4,9 7,7 13,5 26,1 1,1 14,0 1-1 68,1 1-1 19,0 13-3 9-5 7-10 2-7 0-9-2-7-2-2 6-6 0-2-16-16-25-20-22-11-20-5-23,0-11,2-15,5-12,6-16,11z" fill="#18cf7e"/><path d="M326,167l-15,1-10,6-9,10-9,13-28,48-18,34-5,13-2,16 4,13 14,14 7,3 9,1 5,11 26-9 15-8 14-10 28-29 10-17 5-14 3-16 0-25-3-18-5-18-3-1-4,2-5,0-1-1 2-2-2,0-6-8-5-4zM54,169l-7,4-8,8-2,4-4,0-7-3-4,11-6,31 0,22 5,23 9,19 8,11 23,23 15,11 13,7 29,10 2-8 3-3 8-1 9-4 11-11 5-13 0-9-4-15-13-27-25-44-23-35-7-7-12-6-11,0zM99,63l6,6-3,6-1,8 3,12 6,8 8,5 11,3 32,1 1,1 88-1 18-4 7-4 8-11 2-14-2-7-2-2 7-7-26-25-15-11-22-11-20-5-23,0-11,2-15,5-12,6-16,11z" fill="#1bd062"/><path d="M334,172l-7-2-9,0-6,2-7,4-10,10-12,17-23,39-22,44-4,21 1,7 4,9 11,11 9,4 8,0 3,5 1,6 24-8 15-8 14-10 25-25 9-13 6-13 6-25 0-25-7-33-12,1-1-1 2-2-3-1 1-1-9-9zM52,172l-8,5-8,11-4,0-7-3-3,8-6,31 0,22 5,23 9,19 8,11 23,23 24,16 16,7 14,4 2-8 3-3 7,0 11-5 8-8 3-5 3-11 0-8-5-18-12-25-18-32-25-39-11-11-9-5-13-1zM100,62l6,6-3,8 0,7 4,11 7,7 5,3 14,4 27,1 1,1 65,0 1-1 18,0 17-3 9-4 8-8 4-10 0-9-3-6 7-7-25-24-15-11-22-11-20-5-23,0-11,2-15,5-12,6-16,11z" fill="#1dd146"/><path d="M336,175l-7-2-8,0-7,2-8,5-9,9-24,36-18,32-13,28-4,16 0,9 5,14 6,7 8,5 10,2 1,2 0-2 3-1 5,11 29-12 19-13 25-25 9-13 6-13 6-25 0-25-7-33-12,1-1-1 1-1-5-6zM53,174l-8,4-9,10-2,0 2,1-1,2-4,0-7-3-8,36 0,22 4,20 12,25 6,8 23,23 24,16 26,10 2-8 3-3 2,1 0,2 4-3 4,0 7-3 8-7 4-6 3-10 0-11-2-9-5-14-12-24-23-40-12-18-18-18-11-4zM102,60l6,6-3,7 0,9 2,6 9,10 15,6 27,3 70,0 1-1 21-1 12-3 11-6 5-6 3-7 0-11-2-4 7-7-24-23-15-11-22-11-20-5-23,0-11,2-15,5-12,6-16,11z" fill="#2fd335"/><path d="M363,189l-12,2-2-4-6-6-11-5-9,0-9,3-6,4-17,19-29,48-12,24-8,24 0,15 5,12 8,8 6,3 10,1 5,11 19-7 24-14 30-29 9-13 9-22 3-16 0-25zM48,178l-5,3-8,10-2,0 2,1-1,2-12-1-6,31 0,22 5,23 9,19 8,11 23,23 24,16 26,10 2-8 3-3 6,0 6-2 9-7 5-8 2-6 0-17-3-11-8-19-16-30-15-25-12-17-13-13-7-4-6-2-9,0zM103,59l6,6-2,5 0,11 2,5 6,7 14,7 27,4 74,0 19-2 14-4 7-4 7-8 3-9-1-8-2-3 4-4-3,2-3-1 6-7-28-25-23-13-25-7-23,0-11,2-15,5-12,6-16,11z" fill="#4ed72f"/><path d="M338,180l-4-1-14,1-9,5-9,8-11,14-14,22-13,23-14,30-5,19 0,10 2,8 4,7 9,8 5,2 9,0 5,11 26-11 19-13 25-25 9-13 6-13 6-25 0-25-5-26-2-4-11,2-1-1 1-1-5-6zM46,181l-10,9-2,4-12-1-6,31 0,22 5,23 9,19 8,11 23,23 24,16 23,9 2-8 3-3 8,0 7-3 8-8 3-6 2-7 0-12-4-16-26-52-25-37-8-8-12-7-14-1zM105,57l6,6-3,7 0,6 3,8 8,8 8,4 18,4 28,1 1,1 39,0 1-1 18,0 16-2 11-3 8-4 6-5 5-10 0-8-2-4 1-1-4-3 6-7-22-20-15-10-17-8-20-5-23,0-11,2-15,5-12,6-16,11z" fill="#6edc28"/><path d="M340,183l-3-1-16,1-10,6-11,11-24,36-22,44-4,12-2,13 3,16 9,11 6,3 8,1 1,2 0-2 2-1 5,11 23-10 19-13 25-25 9-13 6-13 6-25 0-25-5-26-12,1-3-6zM46,183l-5,3-7,9-2,0 2,1-1,2-12-1-5,27 0,22 5,23 9,19 8,11 23,23 24,16 20,8 2-8 3-3 1,3 2-2 7-1 6-3 7-7 3-6 2-9 0-8-5-20-21-43-25-38-13-13-12-6zM106,56l6,6-2,5 1,11 2,4 6,6 12,6 21,4 70,1 20-2 10-2 14-6 7-7 3-6 0-10-5-7 4-8-3-4-15-13-15-10-17-8-20-5-23,0-11,2-15,5-12,6-16,11z" fill="#8ee022"/><path d="M365,196l-12,2-5-8-12-6-7,0-11,4-7,5-13,14-23,36-12,23-9,23-2,9 0,17 3,8 7,8 5,3 11,2 4,10 23-10 19-13 25-25 9-13 9-22 3-16 0-25zM44,186l-9,8-2,4-12-1-5,27 0,22 5,23 9,19 8,11 23,23 15,11 13,7 13,5 2-8 3-3 1,3 2-2 6,0 7-3 7-7 3-6 2-15-4-19-17-37-16-27-13-18-11-11-10-6-7-2-7,0zM108,54l6,6-2,4 0,10 3,6 5,5 9,5 21,5 29,1 1,1 26,0 1-1 20,0 16-2 14-4 8-4 7-7 3-8 0-4-4-8 4-9-13-12-15-11-17-9-25-7-23,0-11,2-15,5-20,11-13,10z" fill="#aee41b"/><path d="M342,188l-13-1-6,2-8,5-13,13-21,31-20,40-6,21 0,14 2,7 4,7 6,5 5,2 8,0 5,11 20-9 19-13 25-25 9-13 6-13 6-25 0-25-4-22-12,1-1-1 1-1-2-1-2-4zM45,188l-7,4-5,7-2,0 2,1-1,2-12-1-4,23 0,22 5,23 9,19 8,11 23,23 15,11 13,7 13,5 2-8 3-3 7,0 7-3 8-10 2-7 0-16-5-18-22-44-15-23-9-11-10-9-7-4-6-2zM110,52l6,6-3,7 2,10 5,6 10,6 9,3 19,3 57,1 32-4 9-3 9-5 4-4 4-8 0-6-2-7 4-7-22-19-23-13-25-7-23,0-18,4-20,9-21,15z" fill="#c6e415"/><path d="M342,191l-8-1-8,2-10,6-11,11-23,34-17,35-6,21 1,19 5,9 9,6 9,0 1,2 0-2 2-1 5,10 14-6 19-13 25-25 9-13 6-13 6-25 0-25-3-17-12,0-1-1 2-2-2,0-6-8zM44,191l-4,2-6,6-2,4-2,0 2,1-1,2-12,0-3,18 0,22 5,23 9,19 8,11 23,23 15,11 19,9 3-7 3-3 1,3 2-2 8,0 6-3 7-9 2-6 0-17-5-18-15-32-10-17-15-21-16-15-13-5zM112,50l6,6-2,4 0,9 2,4 7,7 18,7 37,4 44-1 15-2 19-6 6-4 5-6 2-9-3-6 7-7-18-16-15-10-17-8-20-5-23,0-11,2-15,5-20,11-13,10z" fill="#dae10d"/><path d="M343,194l-14,1-9,5-11,10-11,14-12,19-18,37-5,18 0,17 2,6 4,6 8,5 9,0 5,10 14-6 19-13 25-25 9-13 6-13 6-25 0-25-3-17-12,1-2-4-6-6zM41,195l-7,6-3,6-12-1-3,18 0,22 5,23 9,19 8,11 23,23 15,11 19,9 3-7 3-3 8,0 6-3 7-10 2-13-5-24-17-36-11-18-12-16-10-10-15-8zM115,47l6,6-3,6 0,7 2,4 9,8 9,4 19,4 35,1 1,1 1-1 35-1 22-5 8-4 8-8 1-11-2-3 7-7-16-14-15-10-17-8-20-5-23,0-11,2-15,5-20,11z" fill="#efde06"/><path d="M346,198l-11-1-6,2-7,4-10,9-12,15-12,19-17,36-5,23 2,14 5,8 7,4 8,0 1,2 0-2 2-1 5,10 14-7 14-10 25-25 9-13 6-13 6-25 0-25-2-12-12,0-3-6zM44,197l-7,3-4,4-1,3-3,1 2,1-1,2-12,0-2,13 0,22 4,20 10,22 8,11 28,27 10,7 14,7 3-7 3-3 1,3 2-2 10-1 7-7 4-12-2-20-5-15-12-25-20-31-13-14-7-5-10-4zM120,42l4,7-4,8 0,5 2,5 6,6 7,4 18,5 17,2 46,0 26-4 15-6 7-7 2-4-1-9-4-4 4-8-3-4-15-11-17-9-25-7-23,0-18,4-20,9z" fill="#f4d107"/><path d="M346,201l-7-1-10,3-11,8-10,11-19,29-10,20-6,16-3,14 0,11 4,11 9,7 10-1 1,2 0-2 2-1 5,10 23-15 25-25 9-13 9-22 3-16 0-25-2-11-12,1-3-6zM40,201l-6,4-4,7-12,0-2,12 0,22 5,23 9,19 8,11 23,23 15,11 12,6 3-7 3-3 1,2 8-1 7-4 4-6 2-7 0-13-6-22-15-31-21-30-12-11-7-4-8-2zM120,42l5,8-3,7 1,5 7,8 5,3 11,4 17,3 50,1 27-4 16-7 6-6 2-5-3-11 4-7-18-14-22-11-20-5-23,0-11,2-15,5-20,11z" fill="#f5c108"/><path d="M349,205l-3-1-12,1-9,5-9,8-12,15-9,14-16,33-5,19 0,15 2,6 6,7 5,2 6,0 5-2 5,10 21-14 25-25 9-13 6-13 6-25-1-31-12,0-1-1 1-1zM40,204l-4,2-6,8-2,0 2,1-1,2-12,0-1,29 4,20 10,22 8,11 23,23 15,11 7,3 6-9 1,3 2-2 1,2 11-3 5-5 3-7 0-17-2-9-6-17-10-20-17-26-12-13-10-7-6-2zM125,38l4,7 0,2-4,5 0,6 1,3 6,6 16,7 28,4 45-1 13-2 13-4 6-3 7-7 1-9-3-4 7-7-12-10-11-7-17-8-20-5-23,0-18,4-20,9z" fill="#f7b10a"/><path d="M346,207l-6,0-10,4-8,6-10,11-10,14-12,21-10,25-3,20 1,7 3,7 6,5 4,1 9-2 5,10 19-13 25-25 9-13 9-22 3-16 0-24-12,0-1-1 3-3 5-1-8,0-3-6-3-3zM17,219l-1,27 4,20 10,22 8,11 23,23 15,11 2,0 7-8 3,3 1-1 6,1 6-2 4-4 4-11-2-20-5-15-10-21-17-26-12-13-7-5-9-4-10,1-4,3-4,8zM125,38l4,7-2,10 7,9 16,7 17,3 41,1 24-3 19-7 4-3 4-7 0-4-3-7 4-7-3-3-15-10-12-6-25-7-23,0-18,4-20,9z" fill="#f9a10c"/><path d="M349,211l-5-1-8,2-12,8-14,16-12,19-11,23-6,22 1,16 4,7 3,2 11,1 4-2 4,8 2,1 14-10 25-25 9-13 6-13 5-18 1-30-12,0-1-2 2-2-2,0-2-4zM37,211l-5,4-3,6-4,0 4,2-1,2-12,0 0,21 5,23 9,19 8,11 23,23 15,11 2,0 7-8 10,1 4-2 4-5 2-6 0-14-5-19-9-20-12-20-18-21-13-8-6-1zM129,35l4,7-3,6 1,8 6,6 6,3 18,5 20,2 25,0 19-2 13-3 11-5 4-3 3-5 0-6-4-5 4-9-3-3-23-13-25-7-23,0-18,4-20,9z" fill="#f98f0d"/><path d="M350,215l-4-1-6,1-12,7-14,15-14,22-10,22-5,21 1,13 6,8 5,2 9-2 7,8 11-8 25-25 9-13 6-13 4-13 2-12 0-21-12,0-3-7zM36,215l-4,3-4,9-12,0 0,19 5,23 9,19 8,11 23,23 15,11 3-7 3-3 1,2 10-1 6-6 2-7 0-11-6-22-14-28-12-17-12-12-6-4-10-3zM133,32l4,7 0,2-4,5 0,5 3,5 10,6 14,4 15,2 45-1 20-5 9-5 4-5 0-6-4-5 4-10-23-13-19-6-29-1-11,2-15,5-12,6z" fill="#f67b0d"/><path d="M370,229l-12,0-2-5-4-4-10-1-10,5-13,13-13,19-9,18-6,17-2,16 2,9 4,5 4,2 5,0 7-3 6,8 7-5 25-25 9-13 9-22 3-16zM16,230l0,16 4,20 10,22 8,11 23,23 8,6 7-8 3,3 1-1 2,1 8-1 4-4 3-9 0-8-3-14-11-26-15-23-9-10-14-9-11,1-4,4-2,6zM135,30l4,8-3,6 0,4 4,6 15,7 16,3 32,1 19-2 15-4 9-5 4-5 0-5-4-5 4-10-20-11-25-7-23,0-11,2-15,5z" fill="#f3670d"/><path d="M370,233l-12,0-5-9-10-1-13,8-10,11-13,20-11,26-2,9 0,14 2,5 4,4 7,1 7-3 6,8 29-28 9-13 9-22 3-16zM16,234l0,12 5,23 9,19 8,11 28,27 7-8 1,2 1-1 4,2 5,0 4-2 3-4 2-9-1-11-3-11-12-26-14-20-8-8-12-7-7,0-4,2-4,9zM141,26l4,8-1,3-4-4 2,3-3,7 2,6 9,6 13,4 15,2 39-1 17-4 8-4 4-4 1-3-1-5-2-2 1-3-2,2-2-1 4-10-15-8-19-6-6-1-29,1-20,6z" fill="#f1530d"/><path d="M370,237l-12,0-4-8-4-2-4,0-9,4-12,11-13,19-8,16-6,21 0,11 4,8 7,2 8-3 2,2-1-3 2-1 7,6 22-22 9-13 6-13 5-18zM16,239l1,14 4,16 9,19 8,11 25,24 7-7 1,2 1-1 5,2 7-2 4-7 0-13-2-9-9-22-15-23-10-10-11-6-5,0-4,2-3,5-1,5zM143,25l4,8 0,2-4,5 0,4 2,3 8,5 15,4 20,2 24-1 21-5 7-4 3-4 0-5-4-4 4-10-13-7-19-6-6-1-29,1-20,6z" fill="#ee3f0d"/><path d="M370,244l-12,0-1-6-5-6-7,0-9,5-9,9-15,23-7,17-3,19 2,7 4,4 7,0 6-3 7,6 21-21 13-21 7-25-9-2-3-3 1-1 12,0zM33,233l-4,6 0,8-5,3-7,1 4,18 9,19 8,11 21,21 7-7 1,2 1-1 3,2 9-1 4-8 0-9-5-18-7-15-12-18-11-11-8-4zM147,23l4,8 0,2-4,4 0,5 4,4 16,6 14,2 33-1 18-5 7-6 0-5-4-4 4-10-14-7-20-5-29,1-20,6z" fill="#eb2b0d"/><path d="M354,238l-9-1-7,4-9,9-12,18-6,13-4,15 0,10 4,7 3,1 5-1 7-4 6,6 17-17 9-13 6-13 5-20-9-2-3-3 0-3zM34,237l-3,3-3,8-11,3 0,1 12,0 1,1-1,2-4,2-7,1 3,11 9,19 8,11 15,15 7-6 2,2-2,5 4-4 7,3 4-1 4-6 0-12-5-17-6-12-10-15-10-10-7-4zM151,35l0,4 5,5 11,4 12,2 35-1 12-3 7-4 2-3 0-4-6-5 0-4 3-7-13-5-14-3-23,0-11,2-15,5-1,3 2,4 0,5-1,1-1-1z" fill="#df220c"/><path d="M353,242l-6-1-10,6-8,9-8,12-6,13-4,14 0,9 3,6 6,1 8-4 6,6 15-15 9-13 6-13 4-13-9-2-3-3 0-7zM33,242l-3,5 0,7-5,3-3,0 8,0 1,2-5,3-6,1 1,6 9,19 8,11 13,13 7-6 8,5 6-1 3-5 0-11-3-11-8-17-9-13-7-7-9-5zM155,33l0,4 4,4 7,3 16,3 22,0 13-2 12-5 2-3 0-4-7-5 0-4 3-7-22-6-23,0-23,6-1,3 2,4 0,5-1,1-1-1z" fill="#ce1d0b"/><path d="M352,246l-6,0-4,2-11,11-6,9-7,15-3,11 0,8 4,6 5,0 8-5 6,6 4-5-6-6 3-1 7,4 12-16 7-17-8-2-3-3 6-1-2,0-3-3 0-9zM34,246l-3,5 0,8-4,2 4,0 1,2-4,2 4,0 1,2-5,3-5,1 0,3 7,14 11,14 9-4 10,9 7,1 4-5 0-10-4-13-7-14-12-15-8-5zM159,32l0,3 9,6 16,3 18,0 13-2 8-3 4-4-1-5-4-2-1-3-1,2-2-1 1-12-14-3-23,0-18,4 1,12-1,1-1-1z" fill="#be1809"/><path d="M351,251l-5,0-5,3-13,16-5,10-4,17 1,5 4,3 4-1 9-7 9,4-7-7 3-1 7,4 4-5-8-7 3-1 7,4 4-5-7-3-3-3 6-1 6,2-7-3-3-3 3-1-2-2 3-1-2-2 2-2-1-9zM35,251l-3,5 1,11-2,1 2,0 1,2-10,5 8,16 8-4 3,1-2,3 3-1 1,2-6,6 6-4 2,0 1,2-6,6 8-4 8,6 3,1 3-1 3-5 0-5-2-9-8-17-12-14-5-3zM164,30l0,4 7,4 19,3 22-2 9-4 2-3-6-6 0-2-1,2-2-1 0-4-2,4-2-1 0-12-5-1-23,0-10,2 0,12-1,1-2-2-1,3-1-1z" fill="#ad1208"/><path d="M350,257l-4,0-5,3-9,11-7,16-1,9 2,4 5,0 5-3 7-7-1-1 3-2-1-1 3-2-1-1 2-1-1-1 3-3-1-2 2-1-1-2 2-4 0-10zM36,257l-2,2 0,9 8,19 11,12 7,1 2-3 0-6-5-15-7-11-6-6-4-2zM169,29l2,4 13,4 18,0 9-2 6-4 0-2-3-3-6-2 0-4-2,4-3-1 0-12-20,0 0,12-1,1-3-3-1-5 0,8-1,1-2-1z" fill="#9d0d07"/><path d="M348,264l-7,3-6,8-5,13 0,4 2,3 4-1 8-9 6-15 0-3zM38,264l-1,10 5,11 8,9 4,1 2-2 0-6-6-14-6-7zM176,28l1,2 9,3 14,0 5-1 5-3-1-3-11-3 0-12-9,0 0,12-9,2z" fill="#8d0806"/><path d="M182,11l-11,2-15,5-20,11-13,10-34,34-32,41-17,31-18,48-6,31 0,22 5,23 11,22 6,8 23,23 15,11 25,12 34,10 38,8 31,1 43-8 38-11 20-9 19-13 25-25 13-21 7-23 1-32-7-33-20-51-18-30-27-34-36-36-20-14-17-8-14-4zM157,35l22-7 21-1 22,5 13,6 11,7 24,22 13,16 23,35 19,33 15,30 8,22 5,26 0,18-6,25-10,18-15,16-16,11-15,7-19,6-30,5-32,1-1,1-32,0-1-1-20,0-20-2-29-6-25-10-20-14-8-8-10-14-6-13-3-11-2-13 0-14 5-27 10-27 28-52 31-47 21-23 15-12z" fill="#000" fill-opacity="0.091"/><path d="M182,11l-11,2-15,5-20,11-13,10-34,34-32,41-17,31-18,48-6,31 0,22 5,23 11,22 6,8 23,23 15,11 25,12 34,10 38,8 31,1 43-8 38-11 20-9 19-13 25-25 13-21 7-23 1-32-7-33-20-51-18-30-27-34-36-36-20-14-17-8-14-4zM159,32l21-6 9-1 17,1 21,6 12,6 13,9 23,22 17,22 24,38 21,39 10,24 6,22 2,14 0,19-2,12-4,13-12,21-17,17-19,12-17,7-18,5-34,5-64,1-43-5-28-8-24-12-8-6-15-15-12-20-6-21-1-23 4-24 11-31 23-44 12-20 22-32 25-27 16-12z" fill="#000" fill-opacity="0.100"/><path d="M182,11l-11,2-15,5-20,11-13,10-34,34-32,41-17,31-18,48-6,31 0,22 5,23 11,22 6,8 23,23 15,11 25,12 34,10 38,8 31,1 43-8 38-11 20-9 19-13 25-25 13-21 7-23 1-32-7-33-20-51-18-30-27-34-36-36-20-14-17-8-14-4zM160,30l24-6 25,1 24,8 22,14 21,20 19,24 23,36 22,42 11,29 5,23 1,19-4,25-7,17-12,17-18,16-24,13-25,8-47,7-20,0-1,1-32-1-43-6-32-10-23-13-11-9-10-11-12-21-6-23 1-34 9-32 17-37 26-44 22-30 25-25 14-10z" fill="#000" fill-opacity="0.111"/><path d="M182,11l-11,2-15,5-20,11-13,10-34,34-32,41-17,31-18,48-6,31 0,22 5,23 11,22 6,8 23,23 15,11 25,12 34,10 38,8 31,1 43-8 38-11 20-9 19-13 25-25 13-21 7-23 1-32-7-33-20-51-18-30-27-34-36-36-20-14-17-8-14-4zM162,28l21-5 26,1 20,6 17,9 11,8 22,21 22,28 17,26 22,42 12,32 5,23 1,25-3,18-4,12-6,12-7,10-20,19-25,14-31,10-27,5-28,3-28,0-50-7-31-9-27-14-8-6-14-14-13-21-7-25-1-10 1-21 8-33 11-27 10-20 23-38 28-36 24-22 12-8z" fill="#000" fill-opacity="0.125"/><path d="M202,11l0,12 4,0 2-4 1,5 3,0 1-2 1,3 2,0 1-2 1,3 9,3 2-2 1,3 22,12 17,15 2-1 1,3 26,30 25,37 17,34 7,17 4,14 2,1-1,2 2,1-1,3 2,1-1,3 2,1-1,3 3,1-2,2 0,3 3,1-2,2 0,3 6,1-5,3 0,6 12,0-1-13-4-19-15-42-15-31-19-27-28-33-16-16-19-16-11-7-17-8-14-4zM171,13l-15,5-20,11-13,10-34,34-32,41-17,31-18,48-6,31 0,22 5,23 11,22 6,8 23,23 15,11 25,12 34,10 38,8 31,1 25-4 41-10 25-9 24-14 30-29 9-13 9-22 3-21-12,0 0,5 8,4-9,1 0,2 5,3-6,1 2,3-3,1 2,3-3,1 2,2-3,1 2,2-3,1 1,1-2,1 2,2-3,1 1,1-2,1 1,1-2,1 1,1-2,1 1,1-4,4 3,3-1,1-4-1 3,3-6,1 3,3-1,1-4-1-13,13-1,3-2-1-12,9-18,9-20,7-36,8-33,5-27-1-44-8-9-3-3,1-1-2-3-1-3,1-1-2-2,1-1-2-2,1-1-2-2,1-3-3-2,1-3-3-2,1-1-2-1,1-1-2-6-3-1,1-3-3-1,1-2-3-2-1-1,1-5-5-3,3-1-1 1-4-2-2-3,3-1-1 1-4-11-11-3-1 1-2-4-2 1-2-4-5-6-13-3-1 2-2-2-6-3-1 2-1 0-2-3-1 2-1 0-2-5-1 4-2 0-3-9-1 8-3 0-24-8-3 9-1 0-4-2-1 3-1 0-4-2-1 3-1 5-21 8-21 18-37 16-25 24-31 22-23 1,1 4-5 1,1 7-7 1,1 1-2 1,1 2-3 1,1 2-3 1,1 1-2 1,1 1-2 1,1 1-2 1,1 3-3 1,1 2-2 1,1 1-3 2,2 1-2 2,1 1-3 2,2 1-3 3,2 1-6 1,3 3,2 1-9 2,6 2,2 3,0 0-12z" fill="#000" fill-opacity="0.143"/><path d="M203,352l0,12 5-1-1-7-2-4zM182,352l-2,2-2,9 6,1 0-12zM212,351l0,12 5-1-1-7-2-4zM142,347l-2,9 34,7 0-12-3,2-2,6-1-9-3,2-2,6-1-9-3,5-1-6-3,2-1,3-1-6-4,8-1-9-3,5-1-6zM268,350l-4-10-1,0-1,5-3-4-1,5-3-4-1,5-3-4-1,5-3-4-1,9-3-8-1,0-1,5-3-4-1,9-3-8-1,0-1,5-3-4-1,9-3-8-1,0-1,9-4-8 0,12zM123,340l-2,2-2,8 16,5 0-12-3,5-1-6-3,5-1-6-3,5-1-1zM116,338l-4,8 1,3 2,0 1-3zM101,333l-5,10 3,1zM295,329l2,10 2,0 1-2zM85,326l-7,8 9,5 2-11-1,1zM305,324l3,8 2,1 1-3zM76,321l-6,6 0,2 2,1zM70,317l-6,6 2,3zM319,315l2,6 3,2 2-2zM50,299l-8,4 3,2zM337,298l6,6 2-2zM42,288l-9,4 3,2zM346,285l6,6 2,0 1-2zM22,271l10-5-8,0-3,1zM16,246l1,4 11-3 0-1zM16,224l12,0 0-1-11-3zM370,222l-1-4-9,2-2,2zM17,216l12,0 0-1-11-3zM20,201l-2,9 12,0-8-4 9-1 0-1zM355,194l-2,2 6,1-5,3 6,1-5,3 9,1-8,4 12,0-4-16-3-1zM23,192l3,1 8,0-10-5zM357,172l-10,5 3,1-2,2 3,1-2,2 3,1-2,2 3,1-2,2 11-1zM30,170l0,3 10,2zM355,167l-1-3-2,0-8,5zM33,162l0,3 10,2zM353,162l-1-3-2,0-8,5zM35,157l0,3 10,2zM351,157l-1-3-2,0-8,5zM347,147l-8,3-2,2 2,1-1,1 11-2zM343,138l-10,5 2,1-1,1 2,1-1,1 11-2zM336,125l-8,7 2,1-1,1 2,1-1,1 2,1-1,1 11-2zM55,121l-2,0-4,6-9,18-3,10 10,2 1-3-2-1 3-1 2-4-2-2 3-1 9-18zM316,98l-6,6 4-1 1,1-3,3 1,1 4-1 1,1-3,3 3-1 2,1-3,3 3-1 2,1-3,3 3-1 2,1-3,3 3-1 2,1-3,3 2,1-1,1 2,1-1,1 10-4-16-23zM316,96l-3-2-6,6zM312,91l-3-2-6,6 3,1 4-2zM308,86l-2-1-6,6 6-2zM81,83l-26,34 1,2 8,3-1-2 3-1 1-2-1-2 4-2-1-2 3-1-1-2 3-1-4-5 2-1 5,2-4-5 2-1 5,2-4-5 1-1 4,2 3-1-4-5 1-1 6,2zM304,81l-2-1-6,6 6-2zM83,80l2,3 6,2-6-7zM300,77l-2-2-6,6zM90,72l-3,4 8,4 1-2zM294,70l-2-2-6,6zM93,69l6,4 3-1-5-6zM276,51l-4,8 4,4 2,0 6-4zM119,43l-2,2 6,6zM266,42l-4,8 6-5zM257,34l-4,9 5-4 1,1-2,4 1,2 6-6zM132,32l-2,3 6,6zM138,28l0,2 6,6-4-9zM154,19l-3,3 5,8zM162,16l-3,1 0,2 5,8 0-8zM220,15l-1,3 0,8 5-10zM211,12l0,12 1,0 3-11zM205,11l0,12 1,0 3-11z" fill="#000" fill-opacity="0.166"/></g></g></g>
<g clip-path="url(#c7)"><g filter="url(#fb7)"><g transform="translate(398.125,640.125) scale(0.25)"><path d="M191,13l-16,2-15,4-20,9-17,11-10,8-35,35-14,17-19,29-13,27-9,26-7,34 0,31 6,26 9,19 6,9 31,32 17,12 32,15 32,9 31,5 32,0 35-6 30-9 26-12 25-18 24-25 9-13 6-12 4-11 4-18 1-27-2-17-5-22-14-38-17-31-22-29-32-33-17-14-14-9-14-7-14-5-14-3z" fill="#271476"/><path d="M343,122l-8,7 9-4zM339,116l-2,0-6,6 9-4zM53,115l-1,2 9,4-3-4zM191,13l-16,2-15,4-20,9-17,11-10,8-35,35-16,20 8,4 1,3-7,14-12,16-9-4-2,1-9,19-9,26-7,34 0,31 6,26 9,19 6,9 31,32 17,12 32,15 32,9 31,5 32,0 35-6 30-9 26-12 25-18 24-25 9-13 6-12 4-11 4-18 1-27-2-17-5-22-14-38-6-11-10,5-11-15-8-16 10-5 1,1-7,7 3-1 2,1-3,3 9-4-19-25-32-33-17-14-14-9-14-7-14-5-14-3zM177,359l1-2 9-2 18,0 10,3-2,2-5,1-24,0zM190,173l12,0 9,4 5,5 3,7-1,11-4,8-8,8-7,3-6,0-9-4-7-8-4-9 0-11 3-6 6-5z" fill="#251e8b"/><path d="M191,13l-16,2-15,4-20,9-17,11-10,8-35,35-14,17 10,5-4,11-10,17-11,14-9-5-2,1-6,13-9,26-7,34 0,31 6,26 9,19 6,9 31,32 17,12 15,8 26,10 23,6 31,5 9,0 0-12-9,0-3,5-1-6-5,0-2-2 2-2 15-3 20,0 11,2 6,3-3,2-5,0-1,3-1-2-10,0 0,12 9,0 35-6 30-9 26-12 25-18 24-25 9-13 6-12 4-11 4-18 1-27-2-17-5-22-14-38-3-5-10,5-15-20-11-23 9-6-9-11-32-33-17-14-14-9-14-7-14-5-14-3zM191,164l16,1 10,4 9,9 3,10-2,13-8,15-11,10-11,4-10-2-8-5-10-12-6-15 0-12 3-7 7-7 8-4zM69,98l2-1 4,4-1,3z" fill="#2228a0"/><path d="M208,361l0,12 8-1-3-11zM180,361l-2,2-2,9 7,1 0-12zM191,13l-28,5-13,5-15,8-22,16-41,42 7,8-11,25-22,30-11-4-6,15-8,25-4,19-1,39 6,26 9,19 6,9 31,32 17,12 15,8 26,10 47,10 0-12-4,2-2,6-1-9-3-1 1-2 23-5 18,0 16,3 8,4-4,1-1,9-3-8-2,0 0,12 36-7 32-11 21-11 20-15 24-25 9-13 6-12 4-11 4-18 1-27-2-17-5-22-11-31-3-5-10,4-18-23-8-15-6-15 8-6-5-7-32-33-17-14-14-9-14-7-14-5-14-3zM181,159l23-1 13,3 9,5 6,6 4,9-1,17-7,16-13,16-7,5-8,3-9,0-12-6-11-11-4-6-8-19-1-12 3-10 6-7 6-4z" fill="#2031b5"/><path d="M210,361l0,12 6-1-3-11zM178,363l-2,9 5,1 0-12zM221,360l-1,0 0,12 4-1zM171,360l-4,8 0,3 4,1zM181,14l-18,4-13,5-27,16-10,8-38,39 6,8-13,30-23,30-2,0-8-4-6,13-8,25-4,19-1,39 6,26 9,19 6,9 31,32 17,12 32,15 48,12 0-12-3,2-1,3-2-7 3-2 22-5 29,1 20,6-2,1-1,5-3-4 0,12 35-8 25-9 16-8 18-12 25-24 15-20 10-23 5-27-1-28-6-29-11-31-3-1-9,3-22-29-13-30 7-7-10-12-24-24-13-11-18-12-14-7-14-5-14-3-10-1zM177,156l13-2 12,0 16,3 12,6 6,6 4,8 1,5-1,12-3,10-7,14-5,7-12,12-12,6-14-1-10-6-15-17-6-11-4-11-1-19 3-7 6-7 6-4z" fill="#1d3bcb"/><path d="M211,361l0,12 5-1-1-7-2-4zM180,361l-4,8 0,3 4,1zM171,360l-4,8 0,3 4,1zM164,359l-4,8 0,3 4,1zM181,14l-21,5-25,12-22,16-35,35-2,4 6,6 0,2-14,32-24,31-11-4-12,35-5,27 1,38 7,24 13,23 31,32 24,16 25,11 37,10 1-12 3-2 31-7 20,1 26,7 1,3-1,1-2-2 0,12 22-5 22-7 26-12 25-18 24-25 9-13 6-12 7-23 2-15 0-18-2-17-7-29-8-21-2-1-9,4-1-1 1-1-3-2-17-21-9-15-7-20-3-5 1-1-2-1 7-7-31-32-26-20-24-12-23-6-10-1zM165,156l20-5 28,1 11,3 8,4 7,6 4,6 2,7 0,11-3,12-8,17-6,9-11,12-13,8-13,1-13-6-16-17-11-20-5-20 1-10 3-7 8-8z" fill="#1a45e0"/><path d="M213,361l-1,0 0,12 4-1zM175,15l-25,8-27,16-10,8-34,34 6,8-4,7-6,19-8,15-24,29-4,0-7-3-11,32-5,27 1,38 7,24 13,23 31,32 24,16 25,11 32,9 2-9 3-4 32-8 20,0 32,8 1,1-1,1 0,12 39-11 26-12 25-18 24-25 9-13 6-12 7-23 2-15 0-18-2-17-5-22-8-24-3-1-4,2-5,0-23-28-10-18-6-19-3-5 7-7-30-31-26-20-24-12-13-4-20-3zM168,151l16-3 31,1 20,7 10,9 4,10-1,18-4,12-7,14-12,17-8,8-13,8-13,1-14-7-16-17-14-25-5-19 1-13 5-9 4-4z" fill="#1a50e7"/><path d="M175,15l-25,8-27,16-10,8-33,33 6,8-3,5-6,20-6,13-29,36-11-4-10,30-5,27 0,31 2,12 6,19 7,14 10,14 32,31 27,16 26,10 23,6 0-12 1-1 33-9 20-1 14,3 14,5 12,2 3,5 1,7 30-9 31-15 20-15 18-18 9-11 12-21 4-11 4-18 1-27-4-27-10-33-3-1-4,2-5,0-1-1 1-1-21-23-8-11-7-15-6-20-2-3 7-7-29-30-26-20-24-12-13-4-20-3zM160,150l24-5 24,0 13,2 17,6 13,13 2,6 0,14-7,22-8,15-9,13-10,11-11,8-9,3-6,0-7-2-10-6-16-17-15-26-7-24 1-13 4-8 6-6z" fill="#1a5be9"/><path d="M175,15l-25,8-27,16-10,8-32,32 6,8-2,3-8,27-5,10-8,11-13,13-10,13-4,0-7-3-9,27-5,27 0,31 2,12 6,19 7,14 10,14 32,31 27,16 26,10 18,4 4-12 12-2 20-7 20-2 15,3 20,7 8,1 3,6 1,7 30-9 31-15 20-15 18-18 9-11 12-21 4-11 4-18 1-27-4-27-10-33-3-1-9,3-7-10-13-13-10-13-6-12-5-19-4-9 4-4-3,2-3-1 6-7-25-26-26-20-24-12-13-4-20-3zM153,149l17-5 16-2 29,1 15,3 14,6 7,6 4,6 2,6-1,18-6,18-7,14-15,22-13,13-10,6-16,1-15-9-16-18-9-14-8-16-5-14-2-11 1-12 3-7 8-8z" fill="#1a66eb"/><path d="M175,15l-25,8-27,16-10,8-31,31 6,8-2,3-5,20-7,18-9,12-20,20-5,8-4,0-7-3-9,28-4,23 0,31 2,12 6,19 7,14 10,14 32,31 27,16 26,10 14,3 2-8 3-3 8-1 28-10 18-2 18,4 18,7 13,2 3,5 1,6 3,0 32-11 21-11 20-15 18-18 9-11 12-21 4-11 4-18 1-27-4-27-9-30-3-1-4,2-5,0-1-1 1-1-28-29-5-7-7-17-3-14-4-10 1-1-3-2 6-6 0-2-24-24-26-20-24-12-13-4-20-3zM151,146l27-6 43,1 10,2 17,7 9,8 4,10-1,18-7,20-8,16-19,27-14,13-8,4-14,1-13-7-15-15-15-22-9-18-7-21-1-7 1-12 7-11z" fill="#1a71ed"/><path d="M163,18l-23,10-17,11-10,8-28,28 6,7-5,10-5,24-5,12-5,7-24,23-7,10-11-4-8,24-5,27 0,31 5,23 10,22 6,9 31,32 24,16 25,11 19,5 2-8 3-3 11-1 25-10 11-3 15,0 14,4 22,9 13,1 3,5 1,6 6-1 25-9 16-8 14-9 11-9 18-18 15-20 10-23 5-27-1-28-8-36-3-7-11,2-1-1 1-1-2-1 1-1-34-35-6-11-6-27-5-11 7-7-24-24-13-11-18-12-14-7-18-6-10-2-20-1zM145,144l17-5 15-2 46,1 15,3 13,5 10,8 4,7 1,15-2,10-7,19-9,18-19,28-16,16-9,5-14,1-14-8-12-12-12-16-19-35-7-22-1-7 1-11 3-6 8-8z" fill="#1a7cef"/><path d="M163,18l-23,10-17,11-10,8-26,26 6,7-5,10-4,26-5,14-14,15-14,11-12,14-4,0-7-3-7,21-5,27 0,31 5,23 10,22 6,9 31,32 24,16 25,11 15,4 2-8 3-3 1,6 3-6 5,0 10-3 23-11 9-3 15,0 14,5 21,10 12,2 3,2 1,3 0-4 2-1 3,5 1,5 2,1 25-9 16-8 14-9 11-9 18-18 15-20 10-23 5-27-1-28-8-36-2-4-11,2-1-1 1-1-2-1-3-6-12-12-13-10-11-12-5-12-4-27-3-9-2-2 7-7-22-22-13-11-18-12-14-7-18-6-10-2-20-1zM137,141l18-5 24-3 44,1 18,3 13,4 8,4 9,10 2,8-2,16-7,20-9,19-13,22-13,18-13,14-14,9-8,1-9-3-6-4-14-14-20-28-15-28-10-28-1-18 3-7 6-6z" fill="#1a87f1"/><path d="M163,18l-23,10-17,11-10,8-25,25 6,7-3,5-2,8-2,30-4,11-10,10-23,16-12,14-4,0-7-3-7,22-4,23 0,31 5,23 10,22 6,9 31,32 24,16 25,11 15,4 2-8 3-3 17-4 31-17 6-2 9,0 40,20 11,3 5,0 3,5 1,5 2,1 25-9 16-8 14-9 11-9 18-18 15-20 10-23 5-27-1-28-8-36-12,1-1-1 2-2-2,0-4-6-11-11-23-16-7-7-4-9-2-30-2-9-3-6 7-7-34-32-18-12-14-7-18-6-10-2-20-1zM120,142l14-6 19-4 46-3 1,1 21,0 28,4 17,5 11,8 3,7 0,10-2,9-7,20-12,25-14,24-21,29-18,17-6,3-8,0-11-6-17-18-22-32-19-36-10-27-2-16 3-8z" fill="#1992f1"/><path d="M163,18l-23,10-17,11-10,8-23,23 6,6-5,14 0,25 2,10-1,12-6,5-32,16-13,12-4,6-4,0-7-3-6,19-4,23 0,31 5,23 10,22 6,9 31,32 24,16 25,11 11,3 2-8 3-3 11-1 17-8 30-23 7-1 34,25 16,7 11,1 3,5 1,6 24-8 16-8 14-9 11-9 18-18 15-20 10-23 5-27-1-28-8-36-12,1-7-10-12-10-36-19-2-4 0-6 3-19 0-15-1-7-4-9 1-1-3-2 6-7-29-27-18-12-14-7-18-6-10-2-20-1zM106,138l16-5 23-4 19-2 17,0 1-1 27,0 50,5 24,6 7,5 1,7-4,15-15,36-13,25-15,25-21,30-9,11-16,15-4,0-5-3-15-16-20-27-21-34-20-40-11-30-1-13z" fill="#179def"/><path d="M309,147l-7,0-4,2-3,4-15,34-21,41-27,43-22,30-4,9 0,5 3,6 15,15 20,12 15,3 2,4 0-4 2-1 5,11 19-7 16-8 25-18 18-18 15-20 8-17 5-18 2-15 0-18-2-17-7-29-12,2-5-8-10-9-18-10zM82,147l-15,5-17,10-10,10-4,7-4,0-7-3-5,16-4,23 0,31 2,12 6,19 13,23 31,32 24,16 25,11 8,2 2-8 3-3 1,3 2-2 12-2 17-9 9-7 12-13 2-4 0-8-9-15-24-33-19-31-22-43-14-32-5-6zM91,69l6,6-5,13 1,26 3,10 3,5 7,3 66-7 48,0 66,7 7-4 5-12 2-13 0-11-2-10-5-8 6-7-23-22-18-13-19-10-18-6-10-2-20-1-16,2-25,8-27,16-10,8z" fill="#15a8ed"/><path d="M315,151l-11,1-5,3-4,5-31,62-24,40-20,29-8,16-1,5 1,6 10,14 11,9 13,7 6,2 11,0 5,11 19-7 16-8 25-18 18-18 15-20 8-17 5-18 2-15 0-18-2-17-7-29-12,2-4-6-11-10-15-8zM72,152l-22,11-8,7-6,9-4,0-7-3-5,16-4,23 0,31 3,16 5,15 13,23 31,32 24,16 25,11 8,2 2-8 3-3 13-1 9-4 13-9 9-9 4-6 2-5 0-7-8-17-20-29-24-40-33-65-4-4-6-3zM91,69l6,6-4,11 1,24 6,13 10,5 15,0 24-3 39-1 1-1 40,1 37,4 15,0 8-3 6-8 4-17-1-16-5-10 6-7-23-22-18-13-24-12-23-6-10-1-20,1-18,4-13,5-27,16-10,8z" fill="#13b3eb"/><path d="M323,155l-5-1-12,1-10,9-31,59-20,34-21,32-8,17-1,5 1,7 6,11 16,14 13,6 12,1 5,11 19-7 16-8 25-18 18-18 15-20 10-23 4-18 1-27-2-17-6-25-3-1-4,2-5,0-1-1 1-1-2-1-2-4-9-9zM73,154l-10,3-13,7-10,9-5,9-12-1-7,34 0,31 2,12 6,19 13,23 31,32 24,16 29,12 2-8 3-3 1,6 0-2 3-3 7,0 9-3 13-8 14-15 3-8 0-7-8-19-36-57-34-65-5-7-6-5-5-2zM92,68l6,6-4,10 0,18 2,8 3,6 6,6 8,3 25,0 1-1 34-1 1-1 44,0 1,1 18,0 17,2 24,0 7-2 6-5 4-7 2-7 1-16-2-9-4-6 6-7-22-21-23-16-19-9-23-6-10-1-20,1-18,4-13,5-27,16-10,8z" fill="#12bee8"/><path d="M327,158l-17-1-6,3-9,10-34,63-31,50-10,20-1,15 7,13 7,7 12,8 8,3 10,1 1,2 0-2 2-1 5,11 16-6 16-8 25-18 18-18 15-20 10-23 4-18 1-27-2-17-5-22-12,1-1-1 2-2-3-1 1-1-3-2-4-6-9-7zM64,158l-17,9-8,8-4,7-12-1-7,34 0,31 3,16 5,15 13,23 31,32 24,16 29,12 2-8 3-3 2,1 0,2 2-2 14-3 13-8 10-10 4-7 2-7-1-10-6-14-35-57-36-66-9-9-5-2zM93,67l6,6-4,10 0,17 2,7 3,6 6,6 13,4 22,0 1-1 20,0 1-1 65,0 1,1 20,0 1,1 22,0 9-2 9-6 4-7 3-12-1-15-5-9 6-7-13-13-17-14-14-9-19-9-23-6-10-1-20,1-18,4-13,5-27,16-10,8z" fill="#10c9e6"/><path d="M325,159l-15,1-5,3-10,11-33,60-31,51-9,21 0,13 8,14 9,8 10,6 6,2 11,0 5,11 16-6 16-8 25-18 18-18 15-20 10-23 4-18 1-27-2-17-5-22-12,1-1-1 1-1-10-12-7-5zM63,160l-16,8-9,9-3,6-12-2-7,34 0,31 5,23 10,22 6,9 31,32 24,16 29,12 2-8 3-3 10,0 6-2 12-7 9-9 5-8 2-7 0-7-2-8-11-22-27-44-35-63-6-7-11-6zM94,66l6,6-4,9 0,17 3,9 5,7 4,3 15,4 60-1 1-1 57,1 1,1 33-1 8-3 7-6 4-8 2-9-1-14-5-9 6-7-12-12-17-14-14-9-19-9-23-6-10-1-20,1-18,4-13,5-27,16-10,8z" fill="#11cdd1"/><path d="M327,161l-15,1-7,4-8,9-60,103-12,26-1,12 2,7 6,10 10,9 9,5 7,2 8,0 5,11 16-6 16-8 25-18 18-18 15-20 10-23 4-18 1-27-2-17-5-22-12,1-1-1 1-1-11-12-10-6zM61,162l-11,5-7,5-8,11-12-2-7,34 0,31 5,23 10,22 6,9 31,32 24,16 26,11 2-8 3-3 1,3 2-2 8,0 6-2 12-7 9-9 6-13-1-15-11-24-26-43-33-59-11-12-9-4zM94,66l6,6-3,7-1,11 2,10 4,8 10,8 13,3 41,0 1-1 100,1 10-2 10-6 6-10 2-8 0-11-2-7-3-4 6-7-12-12-17-14-14-9-19-9-23-6-10-1-20,1-18,4-13,5-27,16-10,8z" fill="#14cdb5"/><path d="M329,163l-13,0-5,2-7,5-9,11-55,95-12,26-1,17 7,14 7,7 12,7 13,2 1,2 0-2 2-1 5,11 29-13 25-18 18-18 15-20 10-23 4-18 1-27-2-17-5-22-12,2-3-6-8-8-8-5zM59,164l-15,8-7,9-4,2 2,1-1,2-4,0-7-3-7,32 0,31 5,23 10,22 6,9 31,32 24,16 26,11 2-8 3-3 2,2 16-4 8-5 10-10 3-5 3-10-1-12-3-9-9-18-57-98-10-11-10-5zM95,65l6,6-4,12 0,7 4,13 10,10 14,4 141,0 16-5 7-7 5-13 0-12-5-10 6-7-11-11-17-14-14-9-19-9-23-6-10-1-20,1-18,4-13,5-27,16-10,8z" fill="#16ce99"/><path d="M335,166l-11-2-10,2-9,6-7,8-17,27-44,78-7,18-1,15 2,7 4,7 9,9 11,6 14,1 5,11 29-13 25-18 18-18 15-20 10-23 4-18 1-27-2-17-5-22-12,2-3-5-9-9zM60,165l-15,7-7,7-3,6-3,1 2,1-1,2-12-1-5,27 0,31 5,23 10,22 6,9 31,32 24,16 26,11 2-8 3-3 10,0 6-2 12-8 6-7 5-11-1-19-13-28-51-88-6-8-10-9-13-4zM96,64l6,6-4,11 0,8 4,12 10,10 13,4 9,1 123,0 9-1 11-3 8-5 4-5 4-11 0-12-5-10 6-7-10-10-17-14-14-9-19-9-23-6-10-1-20,1-18,4-13,5-27,16-10,8z" fill="#18cf7e"/><path d="M335,168l-14-1-6,2-5,3-10,10-20,31-33,58-9,18-5,14-1,15 2,7 7,11 14,10 7,2 7,0 1,2 0-2 2-1 5,11 26-12 25-18 18-18 15-20 10-23 4-18 1-27-2-17-4-18-12,1-3-6-8-8zM56,168l-13,7-5,5-5,9-12-1-5,27 0,31 5,23 10,22 6,9 31,32 24,16 23,10 2-8 3-3 1,3 2-2 6,0 7-2 6-3 10-9 7-14 0-14-2-8-17-35-35-61-12-18-9-10-10-6-4-1zM97,63l6,6-4,12 1,10 3,7 10,10 17,5 11,0 1,1 119-1 10-2 9-4 9-10 3-9 0-10-5-10 6-7-9-9-17-14-14-9-19-9-23-6-10-1-20,1-18,4-13,5-27,16-10,8z" fill="#1bd062"/><path d="M336,171l-8-1-9,2-11,7-8,9-16,24-38,68-8,20-2,15 2,10 3,6 8,9 8,5 6,2 9,0 1,2 0-2 2-1 3,5 1,5 8-2 16-8 25-18 18-18 15-20 10-23 4-18 1-27-2-17-4-18-12,2-7-10-7-5zM55,171l-12,6-7,7-2,5-3,1 2,1-1,2-12,0-4,22 0,31 5,23 10,22 6,9 31,32 24,16 19,8 3-7 3-3 1,3 2-2 12-1 9-5 8-8 4-7 2-7 0-11-2-9-4-11-13-26-28-49-15-23-12-13-6-4-12-3zM99,61l6,6-3,6-1,10 2,8 3,5 7,7 6,3 17,4 12,0 1,1 107-1 14-3 11-6 7-9 2-7 0-10-3-7-3-3 6-7-23-20-14-9-19-9-23-6-10-1-20,1-18,4-13,5-27,16z" fill="#1dd146"/><path d="M341,175l-4-1-15,1-9,5-11,11-17,25-34,61-9,23-2,16 2,9 4,8 8,8 7,4 14,1 1,2 0-2 2-1 5,10 20-9 25-18 18-18 15-20 10-23 5-27-1-28-4-21-12,1-1-1 1-1-9-10zM54,174l-8,3-7,5-7,11-12,0-4,22 0,31 5,23 10,22 6,9 31,32 24,16 19,8 3-7 3-3 13-1 9-5 7-8 5-13 0-12-3-12-23-47-18-31-16-24-10-11-7-5-8-3zM101,59l6,6-4,9 0,7 4,11 7,7 8,4 17,4 101,1 19-2 11-3 10-6 5-6 3-8 0-10-5-9 4-9-20-17-14-9-19-9-23-6-10-1-20,1-18,4-13,5-27,16z" fill="#2fd335"/><path d="M345,179l-6-2-15,1-9,5-12,12-14,20-20,34-16,31-6,15-3,13 0,10 5,14 7,8 7,4 8,2 7-1 5,10 20-9 25-18 18-18 15-20 8-17 5-18 2-15 0-18-4-26-12,0-1-1 2-2-2,0-3-5zM52,177l-12,6-8,11-12-1-4,22 0,31 5,23 10,22 6,9 31,32 17,12 25,12 2-8 3-3 6,1 8-2 5-3 8-8 5-12 0-15-2-9-7-18-14-27-21-36-13-19-15-15-11-5zM103,57l6,6-4,9 0,8 4,9 7,7 8,4 17,4 38,1 1,1 32,0 1-1 28,0 16-2 17-6 7-6 5-9 0-12-3-5 0-3 4-7-20-17-14-9-19-9-23-6-20-1-16,2-15,4-25,12-22,16z" fill="#4ed72f"/><path d="M347,182l-6-2-15,1-9,5-8,7-14,18-12,19-19,34-11,24-5,17 0,16 2,7 6,9 5,4 10,4 9-1 3,5 1,5 3,0 16-8 25-18 18-18 15-20 8-17 5-18 2-15 0-18-4-26-12,1-6-10zM50,180l-9,4-6,6-2,4-3,1 2,1-1,2-12,0-3,17 0,31 5,23 10,22 10,14 32,31 19,12 14,6 3-7 3-3 2,2 13-3 5-3 7-8 5-14 0-9-2-10-6-17-15-30-20-34-12-17-12-13-9-6-6-2zM106,54l6,6-5,9 0,9 3,7 5,6 8,5 13,4 29,3 61,0 1-1 23-1 16-4 9-5 6-6 4-11-1-7-3-5 6-7-16-15-18-12-14-7-14-5-24-4-26,2-25,8-27,16z" fill="#6edc28"/><path d="M346,184l-15-1-6,2-9,6-9,9-12,16-13,21-25,49-6,21 0,13 2,7 3,6 10,9 6,2 11-1 5,10 20-10 20-15 18-18 15-20 8-17 5-18 2-15 0-18-3-21-12,0-1-1 2-2-3-1-3-6zM45,184l-4,2-7,7-3,6-12-1-3,17 0,31 6,26 9,19 6,9 31,32 17,12 20,10 2-8 3-3 1,2 8-1 8-3 6-5 5-8 2-6 0-17-4-15-22-45-15-25-13-18-13-13-12-6zM110,50l4,7 0,2-5,7 0,11 3,6 7,7 8,4 15,4 18,2 72,0 18-2 12-3 13-7 5-6 3-8 0-5-4-8 7-7-19-16-28-16-18-6-20-3-26,2-25,8-27,16z" fill="#8ee022"/><path d="M345,186l-8-1-8,2-9,5-10,9-22,31-25,47-8,24-1,15 4,13 7,8 8,4 12-1 1,2 0-2 2-1 5,10 15-8 20-15 18-18 15-20 6-12 7-23 2-15 0-18-3-21-12,1-1-1 1-2-2-1-2-4-4-4zM43,187l-7,5-5,8-2,0 2,1-1,2-12,0-1,4-1,39 6,26 9,19 10,14 32,31 12,8 16,8 3-7 3-3 1,3 2-2 11-1 4-2 9-10 3-9 0-15-6-21-24-47-23-34-11-11-10-6-8-2zM110,50l4,7-4,11 1,7 3,6 5,5 11,6 17,4 23,1 1,1 50,0 29-3 14-4 7-4 7-7 3-7-1-10-5-6 4-8-3-4-18-13-19-10-14-5-14-3-20-1-16,2-15,4-25,12z" fill="#aee41b"/><path d="M347,189l-10-1-7,2-10,6-11,11-12,16-13,21-20,40-6,20 1,22 6,10 7,5 13,1 1,2 0-2 2-1 5,10 15-8 13-9 25-24 15-20 8-17 5-18 2-15 0-18-2-16-12,0-1-1 2-2-3-1-2-5-5-5zM44,189l-9,6-5,9-4,0 4,2-1,2-12,0-1,38 6,26 9,19 10,14 32,31 12,8 14,7 3-7 3-3 1,2 10-1 5-2 7-6 4-7 2-8 0-10-2-11-5-15-22-43-12-19-14-18-9-8-11-6-5-1zM110,50l6,7-3,5-1,8 5,10 6,5 8,4 23,5 72,1 18-2 16-4 10-5 6-6 3-7 0-7-4-7 4-9-21-16-19-10-14-5-14-3-20-1-16,2-15,4-25,12z" fill="#c6e415"/><path d="M350,193l-3-1-14,1-9,5-11,10-11,14-17,27-17,35-6,20 0,18 4,10 6,6 7,3 11-1 5,10 26-16 25-24 15-20 8-17 5-18 2-15 0-18-2-15-12,0-5-9zM45,192l-7,3-5,5-4,9-12,0-1,37 5,23 10,22 10,14 27,27 26,17 3-7 3-3 1,3 2-2 1,2 9-1 8-4 5-6 4-13-1-16-8-24-13-26-10-17-17-24-15-14-11-5zM115,46l4,7-4,8 0,8 2,5 7,7 10,5 11,3 26,3 50,0 25-3 14-4 10-6 5-6 2-9-4-8 6-7-3-4-9-7-28-16-18-6-20-3-20,1-21,5-20,9-17,11z" fill="#dae10d"/><path d="M350,196l-9-1-13,5-17,16-21,31-19,39-4,13-2,14 2,13 8,11 7,3 10-1 5,10 24-15 25-24 15-20 8-17 5-18 2-15-1-27-12,0-1-1 3-3 2,0-5,0-3-6zM39,197l-6,5-4,8-12,0-1,36 6,26 9,19 10,14 27,27 24,16 3-7 3-3 1,2 1-1 3,1 9-1 4-2 6-6 4-12 0-11-6-23-18-37-24-35-9-9-11-7-8-2zM115,46l6,7-4,8 0,4 3,7 5,5 9,5 20,5 20,1 1,1 41,0 1-1 20-1 11-2 17-7 7-7 2-4 0-8-4-6 4-9-3-3-18-12-14-7-14-5-14-3-20-1-28,5-23,10-17,11-3,3 4,7-1,3-7-7z" fill="#efde06"/><path d="M350,199l-10,0-8,3-6,4-13,13-15,21-11,19-15,35-3,16 0,7 4,13 4,5 5,3 7,1 7-2 5,10 20-13 25-24 15-20 10-23 5-27-1-26-12,0-1-1 1-2-2-1-3-6zM37,201l-5,5-3,6-4,0 4,2-1,2-12,0 1,37 5,19 9,19 10,14 27,27 17,12 3,1 6-9 3,3 1-1 7,1 8-3 4-4 4-8 1-18-5-19-17-36-20-30-16-16-12-6-10,0zM120,42l4,7-4,8 0,8 3,5 11,8 23,6 20,1 1,1 35,0 28-3 20-7 9-8 2-5-1-7-5-6 4-8-3-4-28-16-14-5-14-3-20-1-28,5-23,10z" fill="#f4d107"/><path d="M349,202l-10,1-8,4-16,15-15,21-18,34-8,24-1,18 4,11 9,7 9,0 5-2 5,9 12-7 11-9 24-25 9-13 6-12 4-11 4-18 1-9-1-24-12,0-3-7-4-4zM37,204l-6,6-3,8-12,0 0,28 2,12 4,14 9,19 10,14 27,27 14,10 3,1 7-8 1,2 1-1 2,1 12-1 5-4 4-7 1-21-5-18-14-30-17-27-15-17-15-9-10-1zM123,39l4,8 0,2-5,7 0,5 3,6 11,8 23,6 20,1 1,1 31,0 1-1 21-1 14-3 12-5 8-7 2-4 0-7-3-4 0-3 4-7-3-3-28-16-14-5-14-3-20-1-28,5-23,10z" fill="#f5c108"/><path d="M356,208l-4-2-10,0-13,7-13,13-20,30-14,30-5,18 0,17 4,9 6,5 9,1 8-3 7,8 17-13 18-18 15-20 8-17 5-18 2-15 0-17-12,0-1-1 3-3 5-1-8,0-3-6zM39,206l-7,5-4,9-12,0 0,26 6,26 9,19 10,14 27,27 17,11 6-9 4,2 9-1 7-6 4-12 0-8-6-24-13-28-11-18-13-17-11-10-9-5zM126,37l4,8 0,2-5,6 0,7 2,4 11,8 22,6 21,1 1,1 28,0 27-3 20-7 8-7 2-5-1-6-3-4 4-10-28-16-14-5-14-3-20-1-28,5-23,10z" fill="#f7b10a"/><path d="M351,209l-6,0-8,3-6,4-14,14-12,17-15,28-9,27-1,14 3,11 8,7 13-1 6,8 7-4 11-9 24-25 9-13 6-12 7-23 2-15 0-14-12,0-1-1 1-4-2-1-1-4-5-5zM16,222l0,24 3,16 5,15 13,23 31,32 10,7 7-8 1,2 1-1 3,3 10-1 4-2 3-3 4-10 0-13-4-17-13-29-19-29-12-13-7-5-10-4-6,0-5,2-4,4-3,7zM129,35l4,8-1,3-4-4 2,3 0,3-2,2-1,6 3,6 12,8 20,5 20,2 27,0 1-1 20-1 10-2 17-7 7-9 0-5-4-6 4-10-25-14-14-5-14-3-20-1-28,5-13,5z" fill="#f9a10c"/><path d="M356,214l-12-1-5,2-12,9-12,14-14,22-12,26-5,19 1,17 6,9 5,2 5,0 8-3 6,8 13-10 18-18 15-20 8-17 5-18 2-27-12,0-3-9zM16,225l0,21 3,16 5,15 13,23 31,32 10,7 7-8 5,2 6,0 4-2 4-4 3-7 0-17-2-9-13-31-18-28-13-14-14-8-12,1-4,4-3,7zM132,33l4,8-1,3-4-4 2,3 0,3-3,4 0,5 2,4 12,8 19,5 20,2 26,0 19-2 22-6 5-3 6-7 0-7-4-5 4-10-22-12-14-5-14-3-20-1-16,2-25,8z" fill="#f98f0d"/><path d="M357,218l-11-1-13,7-14,15-16,25-11,25-4,17 1,15 3,6 4,3 9,1 7-3 6,8 10-8 18-18 15-20 10-23 4-18 1-17-12,0-2-8zM16,229l0,17 5,23 10,22 10,14 27,27 7,5 7-8 1,2 1-1 9,1 4-2 3-3 3-7 0-16-3-12-10-24-20-31-13-13-11-6-11,1-5,5-2,6zM133,49l2,7 12,8 14,4 15,2 40,0 19-3 14-5 9-9 0-6-3-4 1-3-2,2-2-1 4-10-17-9-14-5-24-4-26,2-15,4-20,9-3,3 4,9-1,1-4-4 2,5-4,4z" fill="#f67b0d"/><path d="M357,222l-10-1-11,6-13,13-13,19-11,22-6,19-1,15 3,9 4,4 9,1 6-3 3,2-1-3 2-1 7,6 21-20 15-20 10-23 4-22-9-2-3-3 0-9-2-5zM16,233l0,13 5,23 10,22 6,9 29,30 7-7 1,3-2,3 4-4 1,1-2,5 4-4 5,2 8-1 5-5 2-6 0-13-3-13-14-31-12-18-12-13-14-8-7,0-4,2-5,10zM139,29l4,10-1,1-1-1-4,6 1,8 4,4 8,4 15,4 17,2 28,0 17-2 19-6 9-9 0-4-5-6 4-9-1-2-19-9-23-6-20-1-16,2-15,4z" fill="#f3670d"/><path d="M357,226l-3-1-8,1-11,7-11,12-12,18-10,21-5,17-1,8 1,9 6,8 7,1 8-4 3,2-1-3 2-1 7,6 17-17 15-20 10-23 4-22-9-2-3-3-1-8zM16,238l1,15 5,19 9,19 10,14 24,24 7-7 2,3 1-1 7,3 8-2 5-10 0-11-3-13-12-27-15-22-11-11-12-6-5,0-4,2-4,6-1,5zM140,44l0,4 5,6 18,7 29,3 31-2 18-5 4-2 6-6 0-6-5-5 4-10-11-6-18-6-20-3-20,1-18,4-19,8-1,2 4,9-1,1-1-1z" fill="#f1530d"/><path d="M358,231l-10-1-9,5-11,11-14,21-8,17-5,17 0,14 2,5 4,4 8,0 8-4 7,6 16-16 15-20 8-17 5-19-9-2-3-3 1-1 12,0 0-3-12-3-1-5zM35,230l-6,8 0,9-5,3-7,1 5,21 9,19 10,14 20,20 7-6 1,3-2,3 4-4 5,3 10-1 4-6 1-5-1-13-5-16-7-15-10-16-11-13-11-8zM144,41l0,5 4,5 11,5 22,4 29,0 19-3 14-6 4-4 1-3-2-5-4-3 4-9-1-2-20-8-24-4-26,2-25,8-1,3 2,4 0,5-1,1-1-1z" fill="#ee3f0d"/><path d="M357,235l-5-1-11,5-12,12-14,22-6,14-4,16 1,13 4,5 6,1 9-4 6,6-4-8 3-2 6,6 16-17 9-13 6-12 5-15 0-3-8-2-3-3 1-1 12,0-9-2-3-3-1-9zM33,236l-5,12-11,3 12,0 1,1-1,3-11,3 4,14 9,19 10,14 18,18 7-6 6,4 4,1 5-1 4-4 1-3 0-14-4-14-10-21-12-17-11-10-9-4zM148,39l0,5 5,5 6,3 18,4 12,0 1,1 24-1 15-3 11-5 4-6-2-5-4-3 0-4 3-7-16-6-24-4-26,2-20,6-1,3 2,4 0,5-1,1-1-1-1,2-1-1z" fill="#eb2b0d"/><path d="M357,240l-3-1-6,1-10,7-10,12-7,11-7,15-4,14 0,13 4,6 2,1 6-1 6-3 6-6 9,4 9-10 9-13 8-17 3-13-8-2-3-3 0-9zM33,241l-3,7 0,6-4,2 5,1 0,2-4,2 4,0 1,2-11,5 10,23 10,14 14,14 7-6 3,3 7,3 7-2 3-7-1-13-6-18-7-13-10-14-11-10-7-3zM152,38l1,5 5,4 12,4 13,2 33-1 15-4 8-6 0-5-6-5 0-2-1,2-2-1 0-4 3-7-12-4-20-3-20,1-18,4 1,12-1,1-2-2-1,3-1-1-1,2-1-1z" fill="#df220c"/><path d="M356,244l-6,0-6,3-11,11-8,12-7,14-4,14 0,12 3,5 2,1 7-1 8-6 9,4 9-10 9-13 8-18-8-2-3-3 6-1-2,0-3-3 1-1 5,0-2,0-3-3 0-9zM34,245l-3,6 1,12-11,5 0,1 4-1 9,1-2,2 2,0 1,2-10,5 6,13 9,12 7-4 3,1-6,8 9-4 2,3-6,6 2,2 7-6 8,6 3,1 5-1 4-7 0-7-5-18-6-12-7-11-9-10-10-6zM156,37l1,4 8,5 20,4 29-1 12-3 9-6 0-4-4-4-3-1-1-3-1,2-2-1 1-12-24-4-20,1-18,4 1,12-1,1-1-1z" fill="#ce1d0b"/><path d="M356,249l-7,0-5,3-9,9-8,12-9,23 0,12 3,4 4,1 7-3 8-8 9,4-7-7 3-1 7,4 4-5-8-7 3-1 7,4 3-3 3-6-7-3-3-3 6-1 6,2-7-3-3-3 3-1-2-3 2-1-1-3 2-1-1-10zM36,249l-4,6 1,11-2,1 3,1 0,2-2,1 2,0 1,2-10,5 0,1 7-3 5,1-1,2-9,4 6,11 8-4 3,1-4,5-4,2 1,2 2,0 6-4 3,1-2,3 3-1 2,3-6,6 8-4 10,8 3,1 5-1 3-6 0-6-2-9-6-15-6-10-9-11-9-6zM160,36l2,4 3,2 21,5 19,0 13-2 10-4 3-4-1-4-6-3-1-3-1,2-2-1 0-12-19-3-20,1-14,3 2,12-1,1-2-1z" fill="#be1809"/><path d="M355,254l-6,0-6,4-13,17-8,21 0,8 3,5 5,0 5-3 9-8-1-1 2-2 5,2-4-4 4-4-1-1 2-1-1-1 2-1-1-1 2-1-1-1 3-3-1-2 2-1-1-2 2-4 1-10zM37,254l-3,3 0,11 3,10 6,12 12,15 4,3 7,1 3-3 0-12-7-18-8-12-7-7-5-3zM165,34l1,3 4,3 19,4 22-1 10-3 5-4 0-3-3-3-4-1-1-3-1,2-2-1 0-8-3,8-2-1 0-12-4,0-1,7-2,4-2,1-1-1 0-12-18,1 0,12-1,1-3-3-1-5 0,8-2,1-2-2 0,2-6,3z" fill="#ad1208"/><path d="M354,260l-5,0-5,3-9,11-8,19 0,9 3,3 9-4 10-13 7-19 0-5zM38,260l-2,2 0,10 7,17 12,14 4,2 4-1 2-5-1-7-7-17-11-13-3-2zM171,32l2,4 12,4 21,0 9-2 5-3-1-5-12-4 0-12-1,0-1,7-3,5-11,0-3-3-2-9-2,0 0,12-1,1-3-1-1,2-5,1z" fill="#9d0d07"/><path d="M351,267l-7,3-6,8-5,11 0,8 2,2 5-2 8-10 5-13 0-4zM41,267l-2,2 1,11 6,11 7,7 4,1 2-3-2-11-7-12-4-4zM178,31l1,2 8,3 18,0 8-4-4-4-10-2-14,1z" fill="#8d0806"/><path d="M191,13l-16,2-15,4-20,9-17,11-10,8-35,35-14,17-19,29-13,27-9,26-7,34 0,31 6,26 9,19 6,9 31,32 17,12 32,15 32,9 31,5 32,0 35-6 30-9 26-12 25-18 24-25 9-13 6-12 4-11 4-18 1-27-2-17-5-22-14-38-17-31-22-29-32-33-17-14-14-9-14-7-14-5-14-3zM170,34l15-3 22,0 11,2 15,5 16,8 13,9 24,23 18,23 27,44 16,35 6,19 4,21 0,29-2,11-5,15-12,21-16,17-17,12-21,10-33,9-35,4-54-1-39-7-23-8-12-6-15-10-13-12-8-10-8-13-5-12-5-24 1-30 8-31 19-42 26-42 21-26 18-17 14-10 15-8z" fill="#000" fill-opacity="0.090"/><path d="M191,13l-16,2-15,4-20,9-17,11-10,8-35,35-14,17-19,29-13,27-9,26-7,34 0,31 6,26 9,19 6,9 31,32 17,12 32,15 32,9 31,5 32,0 35-6 30-9 26-12 25-18 24-25 9-13 6-12 4-11 4-18 1-27-2-17-5-22-14-38-17-31-22-29-32-33-17-14-14-9-14-7-14-5-14-3zM169,32l15-3 30,1 12,3 15,6 25,16 22,21 22,28 23,38 17,38 6,20 4,26-1,24-2,11-5,15-12,21-18,19-19,13-22,10-29,8-44,5-40-1-23-3-22-5-29-11-22-14-19-19-7-10-7-14-7-27 1-36 8-31 19-42 25-40 14-18 14-15 25-20 17-9z" fill="#000" fill-opacity="0.099"/><path d="M191,13l-16,2-15,4-20,9-17,11-10,8-35,35-14,17-19,29-13,27-9,26-7,34 0,31 6,26 9,19 6,9 31,32 17,12 32,15 32,9 31,5 32,0 35-6 30-9 26-12 25-18 24-25 9-13 6-12 4-11 4-18 1-27-2-17-5-22-14-38-17-31-22-29-32-33-17-14-14-9-14-7-14-5-14-3zM166,31l20-4 19,0 17,3 25,10 21,14 25,24 21,27 19,31 17,37 8,26 4,28-2,28-7,23-11,19-14,16-18,14-28,14-27,8-22,4-20,1-1,1-45-1-35-6-30-10-19-10-14-10-19-20-6-9-8-17-6-26 1-35 5-22 5-15 18-39 22-35 14-18 18-19 23-18 19-10z" fill="#000" fill-opacity="0.110"/><path d="M191,13l-16,2-15,4-20,9-17,11-10,8-35,35-14,17-19,29-13,27-9,26-7,34 0,31 6,26 9,19 6,9 31,32 17,12 32,15 32,9 31,5 32,0 35-6 30-9 26-12 25-18 24-25 9-13 6-12 4-11 4-18 1-27-2-17-5-22-14-38-17-31-22-29-32-33-17-14-14-9-14-7-14-5-14-3zM184,26l24,0 15,3 17,6 24,14 27,24 17,20 18,26 19,36 12,33 6,31-1,33-6,22-9,18-16,20-14,12-28,16-22,8-20,5-25,4-41,1-26-3-27-6-18-6-18-8-24-16-21-23-12-23-6-24-1-10 1-25 6-28 6-18 10-23 9-17 16-25 18-23 22-22 22-16 16-8 11-4z" fill="#000" fill-opacity="0.123"/><path d="M16,240l1,13 4,16 10,22 10,14 27,27 17,12 15,8 26,10 23,6 31,5 32,0 43-8 22-7 26-12 18-12 21-20-8-4-6,6-1,3-2-1-9,8-22,13-29,11-29,7-21,3-21,1-1-1-25-1-27-5-18-5-12-5-2,1-3-3-2,1-1-2-1,1-1-2-10-5-1,1-1-2-1,1-2-3-2-1-1,1-5-5-1,1-7-7-1,1-21-23-12-21-3-10-3-1 2-1-2-10-3-1 2-1 0-4-5-1 4-2 0-7zM207,14l0,12 5,0 1-2 1,3 3,0 1-2 1,3 3,0 1-2 1,3 11,3 17,8 24,17 25,25 13,16 15,22 13,24 9,21 7,24 2,1-1,3 2,1-1,4 2,1-1,4 2,1-1,5 3,1-2,2 0,5 9,1-8,4 0,18 8,4-9,1 0,4 2,2-3,1 0,3 2,2-3,1 2,3-3,2 2,2-3,1 1,2-2,1 1,2-2,1 1,2-2,1 1,1-2,1 1,2-2,1 1,1-2,1 1,1-2,1 1,1-2,1 1,1-3,2-1,2 1,1-3,2 1,1-3,2 1,1-4,3 1,1-5,4 7,6 11-13 12-21 7-23 2-15 0-18-4-27-7-25-10-25-12-23-18-26-17-20-24-24-17-14-28-16-14-5zM184,14l-21,4-13,5-27,16-10,8-41,42-23,32-17,34-12,37-3,15-1,15 12,0 0-8-2-1 3-1 0-6 4-18 11-32 16-32 22-32 11-13 26-26 1,1 7-7 1,1 2-3 1,1 2-3 1,1 2-3 1,1 1-2 1,1 4-2 2-3 1,1 1-2 2,1 3-3 1,1 1-2 2,1 3-3 1,1 2-2 2,1 1-3 2,2 2-3 3,2 1-3 4,2 1-6 3,5 3,0zM187,14l2,9 2,2 11,0 3-11-4-1z" fill="#000" fill-opacity="0.141"/><path d="M210,361l0,12 6-1-3-11zM180,361l-2,2-2,9 6,1 0-12zM221,360l-1,0 0,12 4-1zM169,362l-2,9 5,1 0-12zM228,359l-1,0 0,12 4-1zM239,357l-1,0-1,9-4-8 0,12 9-2zM147,358l-2,9 20,4 0-12-3,2-2,6-1-9-4,8-1-9-4,8-1-9zM256,353l-1,0-1,5-3-4-1,5-3-4 0,12 13-4zM133,352l-4,8 1,3 2,0 1-3zM266,350l-2,3-2-2 1,11 7-2zM117,347l-5,10 13,4 1-11-2,2-1-3-2,2-1-3-2,2zM277,346l2,10 3,0zM282,344l2,10 3,0zM287,342l2,10 2,0 1-2zM98,339l-5,8 1,2 4,2 2-6 0-5-1,1zM92,336l-7,8 2,1 2-1zM303,334l3,8 2,1 1-3zM85,332l-6,6 0,2 2,1zM73,324l-6,6 1,2 3-2zM322,322l-1,0 2,5-1,2-5-4 4,9 7-6zM68,320l-6,6 2,2zM329,315l-1,3 4,6 3-4zM334,310l6,6 2-2zM53,305l-8,4 3,2zM49,300l-6,2-2,3 2,2zM43,291l-9,4 1,2 5-2zM349,290l6,6 2,0 1-2zM355,278l8,5 3-3zM36,277l-10,2 0,2 2,1zM357,273l10,5 1-3zM22,270l2,7 10-4-3-2 2-2zM359,267l8,4 3-1 0-2-3-1zM362,255l8,4 3,0 1-4zM17,253l2,9 11-3 0-1-9-1 8-4zM363,249l8,4 3,0 1-4zM16,246l1,4 11-3 0-1zM364,239l2,3 9,2 1-5zM376,222l-1-4-9,2-2,2zM16,215l12,0 0-1-11-3zM17,207l12,0 0-1-11-3zM374,205l-1-4-9,2-2,2zM23,183l-3,9 12,0-4-3 5-1 0-1zM368,180l-3-1-8,4 8,0 3-1zM24,180l3,1 8,0-10-5zM363,165l-10,5 3,1-2,2 3,1-2,2 11-1zM31,158l0,3 10,2zM358,152l-10,5 2,1-1,1 3,1-2,2 11-2zM35,148l-3,7 7,3 4,0-2-2 3-1 1-3zM357,150l-3-3-8,5zM40,139l-3,7 10,2 2-5zM335,129l2,1-1,1 2,1-1,1 2,1-1,1 2,1-1,1 2,1-1,1 2,1-1,1 2,1-1,1 2,1-1,1 11-2-11-21zM49,121l-2,5 9,4 1-3zM337,113l-2,0-6,6 3-1 2,1-3,3 2,1-1,1 9-4zM57,109l-6,10 9,4 1-2-1-2 3-1-1-2 3-2-6-5zM325,98l-6,6 3-1 2,1-3,3 8-4 2,1-7,7 4-1 1,1-3,3 2,0 7-4-7-10zM325,96l-3-2-6,6zM70,92l-10,13 7,4 2,0-1-2 3-1-1-2 3-1-4-5 2-1 5,2zM321,91l-2-1-6,6 6-2zM72,89l2,3 6,2-6-7zM316,85l-7,6 6-2 2-2zM78,82l-2,3 8,4zM312,81l-2-2-6,6zM82,78l8,4-5-6zM304,72l-4-4-6,6 4,2zM288,56l-4,6 2,4 6-5zM109,51l-2,2 6,6zM280,49l-4,8 6-5zM118,43l-1,2 6,6-2-6zM271,41l-4,9 5-4 1,1-2,4 1,2 6-6zM135,31l-1,3 6,6-3-8zM148,24l-3,3 5,8zM162,19l-7,2 5,10 1-3 2,2zM226,18l-1,3 0,8 5-10zM211,14l0,12 1,0 3-11zM200,13l0,12 2,0 3-11zM191,13l-4,1 2,9 2,2z" fill="#000" fill-opacity="0.164"/></g></g></g>
<line x1="442.1" y1="127.1" x2="442.5" y2="77.7" stroke="#111" stroke-width="1.15" stroke-dasharray="3.6,2.2"/>
<path d="M442.5,72.7L444.7,77.7L440.3,77.7Z" fill="#111"/>
<line x1="442.1" y1="127.1" x2="396.2" y2="152.0" stroke="#111" stroke-width="1.15" stroke-dasharray="3.6,2.2"/>
<path d="M391.8,154.4L395.1,150.1L397.2,153.9Z" fill="#111"/>
<line x1="442.1" y1="127.1" x2="491.5" y2="149.3" stroke="#111" stroke-width="1.15" stroke-dasharray="3.6,2.2"/>
<path d="M496.1,151.4L490.6,151.4L492.4,147.3Z" fill="#111"/>
<text x="446.0" y="55.7" font-size="13.0" text-anchor="middle" font-weight="bold">z</text>
<text x="443.5" y="71.2" font-size="12.2" text-anchor="middle" font-weight="bold">[001]</text>
<text x="379.8" y="134.0" font-size="12.2" text-anchor="middle" font-weight="bold">[100]</text>
<text x="378.3" y="148.6" font-size="13.0" text-anchor="middle" font-weight="bold">x</text>
<text x="482.1" y="169.0" font-size="12.2" text-anchor="middle" font-weight="bold">[010]</text>
<text x="481.0" y="184.0" font-size="13.0" text-anchor="middle" font-weight="bold">y</text>
<text x="393.1" y="187.0" font-size="14" font-family="'Liberation Serif', 'Times New Roman', serif" fill="#222" stroke="#222" stroke-width="0.25" textLength="51.5" lengthAdjust="spacingAndGlyphs"><tspan>&#916;</tspan><tspan font-style="italic">E =0.12</tspan></text>
<line x1="104.1" y1="312.7" x2="104.5" y2="263.5" stroke="#111" stroke-width="1.15" stroke-dasharray="3.6,2.2"/>
<path d="M104.5,258.5L106.7,263.5L102.3,263.5Z" fill="#111"/>
<line x1="104.1" y1="312.7" x2="59.2" y2="337.3" stroke="#111" stroke-width="1.15" stroke-dasharray="3.6,2.2"/>
<path d="M54.8,339.7L58.1,335.4L60.2,339.2Z" fill="#111"/>
<line x1="104.1" y1="312.7" x2="153.4" y2="334.5" stroke="#111" stroke-width="1.15" stroke-dasharray="3.6,2.2"/>
<path d="M158.0,336.5L152.5,336.5L154.3,332.5Z" fill="#111"/>
<text x="107.6" y="241.0" font-size="13.0" text-anchor="middle" font-weight="bold">z</text>
<text x="105.5" y="255.8" font-size="12.2" text-anchor="middle" font-weight="bold">[001]</text>
<text x="42.2" y="319.5" font-size="12.2" text-anchor="middle" font-weight="bold">[100]</text>
<text x="40.7" y="334.0" font-size="13.0" text-anchor="middle" font-weight="bold">x</text>
<text x="144.5" y="353.5" font-size="12.2" text-anchor="middle" font-weight="bold">[010]</text>
<text x="143.0" y="368.0" font-size="13.0" text-anchor="middle" font-weight="bold">y</text>
<text x="54.0" y="367.0" font-size="14" font-family="'Liberation Serif', 'Times New Roman', serif" fill="#222" stroke="#222" stroke-width="0.25" textLength="51.5" lengthAdjust="spacingAndGlyphs"><tspan>&#916;</tspan><tspan font-style="italic">E =0.24</tspan></text>
<line x1="270.8" y1="312.8" x2="270.8" y2="264.5" stroke="#111" stroke-width="1.15" stroke-dasharray="3.6,2.2"/>
<path d="M270.8,259.5L273.0,264.5L268.6,264.5Z" fill="#111"/>
<line x1="270.8" y1="312.8" x2="226.4" y2="335.7" stroke="#111" stroke-width="1.15" stroke-dasharray="3.6,2.2"/>
<path d="M222.0,338.0L225.4,333.8L227.5,337.7Z" fill="#111"/>
<line x1="270.8" y1="312.8" x2="319.9" y2="334.2" stroke="#111" stroke-width="1.15" stroke-dasharray="3.6,2.2"/>
<path d="M324.5,336.2L319.0,336.2L320.8,332.2Z" fill="#111"/>
<text x="274.0" y="240.3" font-size="13.0" text-anchor="middle" font-weight="bold">z</text>
<text x="272.0" y="256.2" font-size="12.2" text-anchor="middle" font-weight="bold">[001]</text>
<text x="208.4" y="319.0" font-size="12.2" text-anchor="middle" font-weight="bold">[100]</text>
<text x="207.5" y="334.0" font-size="13.0" text-anchor="middle" font-weight="bold">x</text>
<text x="310.9" y="353.8" font-size="12.2" text-anchor="middle" font-weight="bold">[010]</text>
<text x="309.3" y="368.0" font-size="13.0" text-anchor="middle" font-weight="bold">y</text>
<text x="222.0" y="366.0" font-size="14" font-family="'Liberation Serif', 'Times New Roman', serif" fill="#222" stroke="#222" stroke-width="0.25" textLength="51.5" lengthAdjust="spacingAndGlyphs"><tspan>&#916;</tspan><tspan font-style="italic">E =0.34</tspan></text>
<line x1="447.9" y1="306.5" x2="448.4" y2="256.6" stroke="#111" stroke-width="1.15" stroke-dasharray="3.6,2.2"/>
<path d="M448.5,251.6L450.6,256.6L446.2,256.6Z" fill="#111"/>
<line x1="447.9" y1="306.5" x2="402.7" y2="330.7" stroke="#111" stroke-width="1.15" stroke-dasharray="3.6,2.2"/>
<path d="M398.3,333.1L401.7,328.8L403.7,332.7Z" fill="#111"/>
<line x1="447.9" y1="306.5" x2="497.4" y2="327.8" stroke="#111" stroke-width="1.15" stroke-dasharray="3.6,2.2"/>
<path d="M502.0,329.8L496.5,329.8L498.3,325.8Z" fill="#111"/>
<text x="451.2" y="235.3" font-size="13.0" text-anchor="middle" font-weight="bold">z</text>
<text x="449.3" y="249.2" font-size="12.2" text-anchor="middle" font-weight="bold">[001]</text>
<text x="386.0" y="313.0" font-size="12.2" text-anchor="middle" font-weight="bold">[100]</text>
<text x="384.4" y="327.3" font-size="13.0" text-anchor="middle" font-weight="bold">x</text>
<text x="488.1" y="347.5" font-size="12.2" text-anchor="middle" font-weight="bold">[010]</text>
<text x="486.3" y="363.0" font-size="13.0" text-anchor="middle" font-weight="bold">y</text>
<text x="392.7" y="366.0" font-size="14" font-family="'Liberation Serif', 'Times New Roman', serif" fill="#222" stroke="#222" stroke-width="0.25" textLength="51.5" lengthAdjust="spacingAndGlyphs"><tspan>&#916;</tspan><tspan font-style="italic">E =0.47</tspan></text>
<line x1="446.5" y1="525.4" x2="446.5" y2="477.0" stroke="#111" stroke-width="1.15" stroke-dasharray="3.6,2.2"/>
<path d="M446.5,472.0L448.7,477.0L444.3,477.0Z" fill="#111"/>
<line x1="446.5" y1="525.4" x2="401.3" y2="550.9" stroke="#111" stroke-width="1.15" stroke-dasharray="3.6,2.2"/>
<path d="M396.9,553.4L400.2,549.0L402.3,552.9Z" fill="#111"/>
<line x1="446.5" y1="525.4" x2="496.7" y2="548.3" stroke="#111" stroke-width="1.15" stroke-dasharray="3.6,2.2"/>
<path d="M501.2,550.4L495.7,550.3L497.6,546.3Z" fill="#111"/>
<text x="449.6" y="454.7" font-size="13.0" text-anchor="middle" font-weight="bold">z</text>
<text x="448.2" y="469.5" font-size="12.2" text-anchor="middle" font-weight="bold">[001]</text>
<text x="384.4" y="533.0" font-size="12.2" text-anchor="middle" font-weight="bold">[100]</text>
<text x="383.4" y="548.3" font-size="13.0" text-anchor="middle" font-weight="bold">x</text>
<text x="486.8" y="570.0" font-size="12.2" text-anchor="middle" font-weight="bold">[010]</text>
<text x="484.7" y="582.0" font-size="13.0" text-anchor="middle" font-weight="bold">y</text>
<text x="387.5" y="578.5" font-size="14" font-family="'Liberation Serif', 'Times New Roman', serif" fill="#222" stroke="#222" stroke-width="0.25" textLength="51.5" lengthAdjust="spacingAndGlyphs"><tspan>&#916;</tspan><tspan font-style="italic">E =0.73</tspan></text>
<line x1="116.8" y1="696.8" x2="116.8" y2="648.0" stroke="#111" stroke-width="1.15" stroke-dasharray="3.6,2.2"/>
<path d="M116.8,643.0L119.0,648.0L114.6,648.0Z" fill="#111"/>
<line x1="116.8" y1="696.8" x2="72.1" y2="720.9" stroke="#111" stroke-width="1.15" stroke-dasharray="3.6,2.2"/>
<path d="M67.7,723.3L71.1,719.0L73.1,722.9Z" fill="#111"/>
<line x1="116.8" y1="696.8" x2="167.1" y2="718.9" stroke="#111" stroke-width="1.15" stroke-dasharray="3.6,2.2"/>
<path d="M171.7,720.9L166.2,720.9L168.0,716.9Z" fill="#111"/>
<text x="121.4" y="624.0" font-size="13.0" text-anchor="middle" font-weight="bold">z</text>
<text x="118.4" y="640.0" font-size="12.2" text-anchor="middle" font-weight="bold">[001]</text>
<text x="55.7" y="703.0" font-size="12.2" text-anchor="middle" font-weight="bold">[100]</text>
<text x="54.0" y="718.6" font-size="13.0" text-anchor="middle" font-weight="bold">x</text>
<text x="157.8" y="739.0" font-size="12.2" text-anchor="middle" font-weight="bold">[010]</text>
<text x="156.0" y="752.0" font-size="13.0" text-anchor="middle" font-weight="bold">y</text>
<text x="69.0" y="753.0" font-size="14" font-family="'Liberation Serif', 'Times New Roman', serif" fill="#222" stroke="#222" stroke-width="0.25" textLength="51.5" lengthAdjust="spacingAndGlyphs"><tspan>&#916;</tspan><tspan font-style="italic">E =0.87</tspan></text>
<line x1="280.0" y1="694.9" x2="280.0" y2="646.0" stroke="#111" stroke-width="1.15" stroke-dasharray="3.6,2.2"/>
<path d="M280.0,641.0L282.2,646.0L277.8,646.0Z" fill="#111"/>
<line x1="280.0" y1="694.9" x2="234.9" y2="717.7" stroke="#111" stroke-width="1.15" stroke-dasharray="3.6,2.2"/>
<path d="M230.4,720.0L233.9,715.8L235.9,719.7Z" fill="#111"/>
<line x1="280.0" y1="694.9" x2="329.4" y2="715.8" stroke="#111" stroke-width="1.15" stroke-dasharray="3.6,2.2"/>
<path d="M334.0,717.8L328.5,717.9L330.3,713.8Z" fill="#111"/>
<text x="284.0" y="622.4" font-size="13.0" text-anchor="middle" font-weight="bold">z</text>
<text x="281.0" y="638.3" font-size="12.2" text-anchor="middle" font-weight="bold">[001]</text>
<text x="218.0" y="701.0" font-size="12.2" text-anchor="middle" font-weight="bold">[100]</text>
<text x="216.0" y="716.0" font-size="13.0" text-anchor="middle" font-weight="bold">x</text>
<text x="325.0" y="736.5" font-size="12.2" text-anchor="middle" font-weight="bold">[010]</text>
<text x="322.8" y="751.0" font-size="13.0" text-anchor="middle" font-weight="bold">y</text>
<text x="226.8" y="753.0" font-size="14" font-family="'Liberation Serif', 'Times New Roman', serif" fill="#222" stroke="#222" stroke-width="0.25" textLength="51.5" lengthAdjust="spacingAndGlyphs"><tspan>&#916;</tspan><tspan font-style="italic">E =0.92</tspan></text>
<line x1="447.2" y1="694.1" x2="447.2" y2="646.0" stroke="#111" stroke-width="1.15" stroke-dasharray="3.6,2.2"/>
<path d="M447.2,641.0L449.4,646.0L445.0,646.0Z" fill="#111"/>
<line x1="447.2" y1="694.1" x2="402.5" y2="718.4" stroke="#111" stroke-width="1.15" stroke-dasharray="3.6,2.2"/>
<path d="M398.1,720.8L401.4,716.5L403.5,720.3Z" fill="#111"/>
<line x1="447.2" y1="694.1" x2="496.4" y2="716.5" stroke="#111" stroke-width="1.15" stroke-dasharray="3.6,2.2"/>
<path d="M500.9,718.6L495.4,718.5L497.3,714.5Z" fill="#111"/>
<text x="450.4" y="623.2" font-size="13.0" text-anchor="middle" font-weight="bold">z</text>
<text x="448.7" y="639.0" font-size="12.2" text-anchor="middle" font-weight="bold">[001]</text>
<text x="385.3" y="701.5" font-size="12.2" text-anchor="middle" font-weight="bold">[100]</text>
<text x="383.6" y="716.0" font-size="13.0" text-anchor="middle" font-weight="bold">x</text>
<text x="487.3" y="736.5" font-size="12.2" text-anchor="middle" font-weight="bold">[010]</text>
<text x="485.9" y="750.5" font-size="13.0" text-anchor="middle" font-weight="bold">y</text>
<text x="410.9" y="752.0" font-size="14" font-family="'Liberation Serif', 'Times New Roman', serif" fill="#222" stroke="#222" stroke-width="0.25" textLength="51.5" lengthAdjust="spacingAndGlyphs"><tspan>&#916;</tspan><tspan font-style="italic">E =0.97</tspan></text>
<path d="M220.8,167.3A21.4,21.4 0 0,0 199.4,145.9" fill="none" stroke="#dcdcdc" stroke-width="0.8"/>
<path d="M242.1,167.3A42.7,42.7 0 0,0 199.4,124.6" fill="none" stroke="#dcdcdc" stroke-width="0.8"/>
<path d="M263.5,167.3A64.1,64.1 0 0,0 199.4,103.2" fill="none" stroke="#dcdcdc" stroke-width="0.8"/>
<path d="M284.8,167.3A85.4,85.4 0 0,0 199.4,81.9" fill="none" stroke="#dcdcdc" stroke-width="0.8"/>
<line x1="199.4" y1="167.3" x2="302.6" y2="139.7" stroke="#dcdcdc" stroke-width="0.8"/>
<line x1="199.4" y1="167.3" x2="291.9" y2="113.9" stroke="#dcdcdc" stroke-width="0.8"/>
<line x1="199.4" y1="167.3" x2="274.9" y2="91.8" stroke="#dcdcdc" stroke-width="0.8"/>
<line x1="199.4" y1="167.3" x2="252.8" y2="74.8" stroke="#dcdcdc" stroke-width="0.8"/>
<line x1="199.4" y1="167.3" x2="227.0" y2="64.1" stroke="#dcdcdc" stroke-width="0.8"/>
<path d="M306.2,167.3A106.8,106.8 0 0,0 199.4,60.5" fill="none" stroke="#8a8a8a" stroke-width="0.9"/>
<line x1="199.4" y1="167.3" x2="306.2" y2="167.3" stroke="#8a8a8a" stroke-width="0.9"/>
<line x1="199.4" y1="167.3" x2="199.4" y2="60.5" stroke="#8a8a8a" stroke-width="0.9"/>
<polyline points="240.6,167.3 240.6,166.6 240.6,165.9 240.6,165.1 240.5,164.4 240.5,163.7 240.4,163.0 240.3,162.3 240.2,161.6 240.1,160.9 240.0,160.1 239.9,159.4 239.7,158.7 239.6,158.0 239.4,157.3 239.2,156.6 239.0,155.9 238.8,155.2 238.6,154.6 238.4,153.9 238.1,153.2 237.9,152.5 237.6,151.9 237.3,151.2 237.1,150.5 236.8,149.9 236.5,149.2 236.1,148.6 235.8,147.9 235.5,147.3 235.1,146.7 234.7,146.1 234.4,145.5 234.0,144.8 233.6,144.2 233.2,143.7 232.8,143.1 232.3,142.5 231.9,141.9 231.4,141.4 231.0,140.8 230.5,140.3 230.0,139.7 229.5,139.2 229.1,138.7 228.6,138.1 228.0,137.6 227.5,137.2 227.0,136.7 226.4,136.2 225.9,135.7 225.3,135.3 224.8,134.8 224.2,134.4 223.6,133.9 223.0,133.5 222.5,133.1 221.9,132.7 221.2,132.3 220.6,132.0 220.0,131.6 219.4,131.2 218.8,130.9 218.1,130.6 217.5,130.2 216.8,129.9 216.2,129.6 215.5,129.4 214.8,129.1 214.2,128.8 213.5,128.6 212.8,128.3 212.1,128.1 211.5,127.9 210.8,127.7 210.1,127.5 209.4,127.3 208.7,127.1 208.0,127.0 207.3,126.8 206.6,126.7 205.8,126.6 205.1,126.5 204.4,126.4 203.7,126.3 203.0,126.2 202.3,126.2 201.6,126.1 200.8,126.1 200.1,126.1 199.4,126.1" fill="none" stroke="#1f9bd7" stroke-width="2.20"/>
<polyline points="255.4,167.3 255.4,166.3 255.3,165.3 255.3,164.4 255.2,163.4 255.2,162.4 255.1,161.5 254.9,160.5 254.8,159.5 254.7,158.5 254.5,157.6 254.3,156.6 254.1,155.7 253.9,154.7 253.7,153.8 253.5,152.8 253.2,151.9 252.9,150.9 252.6,150.0 252.3,149.1 252.0,148.2 251.6,147.2 251.3,146.3 250.9,145.4 250.5,144.5 250.1,143.6 249.7,142.8 249.3,141.9 248.8,141.0 248.3,140.2 247.9,139.3 247.4,138.5 246.9,137.6 246.3,136.8 245.8,136.0 245.2,135.2 244.7,134.4 244.1,133.6 243.5,132.8 242.9,132.1 242.3,131.3 241.6,130.6 241.0,129.9 240.3,129.1 239.7,128.4 239.0,127.7 238.3,127.0 237.6,126.4 236.8,125.7 236.1,125.1 235.4,124.4 234.6,123.8 233.9,123.2 233.1,122.6 232.3,122.0 231.5,121.5 230.7,120.9 229.9,120.4 229.1,119.8 228.2,119.3 227.4,118.8 226.5,118.4 225.7,117.9 224.8,117.4 223.9,117.0 223.1,116.6 222.2,116.2 221.3,115.8 220.4,115.4 219.5,115.1 218.5,114.7 217.6,114.4 216.7,114.1 215.8,113.8 214.8,113.5 213.9,113.2 212.9,113.0 212.0,112.8 211.0,112.6 210.1,112.4 209.1,112.2 208.2,112.0 207.2,111.9 206.2,111.8 205.2,111.6 204.3,111.5 203.3,111.5 202.3,111.4 201.4,111.4 200.4,111.3 199.4,111.3" fill="none" stroke="#f4a07e" stroke-width="1.30"/>
<polyline points="274.2,167.3 274.1,166.0 274.1,164.7 274.1,163.4 274.0,162.1 273.9,160.8 273.8,159.5 273.6,158.2 273.4,156.9 273.2,155.6 273.0,154.3 272.8,153.0 272.5,151.8 272.2,150.5 271.9,149.2 271.6,148.0 271.3,146.7 270.9,145.4 270.5,144.2 270.1,143.0 269.7,141.7 269.2,140.5 268.7,139.3 268.2,138.1 267.7,136.9 267.2,135.7 266.6,134.5 266.0,133.4 265.4,132.2 264.8,131.1 264.1,129.9 263.5,128.8 262.8,127.7 262.1,126.6 261.4,125.5 260.6,124.4 259.9,123.4 259.1,122.3 258.3,121.3 257.5,120.3 256.7,119.2 255.8,118.3 255.0,117.3 254.1,116.3 253.2,115.4 252.3,114.4 251.3,113.5 250.4,112.6 249.4,111.7 248.4,110.9 247.5,110.0 246.4,109.2 245.4,108.4 244.4,107.6 243.3,106.8 242.3,106.1 241.2,105.3 240.1,104.6 239.0,103.9 237.9,103.2 236.8,102.6 235.6,101.9 234.5,101.3 233.3,100.7 232.2,100.1 231.0,99.5 229.8,99.0 228.6,98.5 227.4,98.0 226.2,97.5 225.0,97.0 223.7,96.6 222.5,96.2 221.3,95.8 220.0,95.4 218.7,95.1 217.5,94.8 216.2,94.5 214.9,94.2 213.7,93.9 212.4,93.7 211.1,93.5 209.8,93.3 208.5,93.1 207.2,92.9 205.9,92.8 204.6,92.7 203.3,92.6 202.0,92.6 200.7,92.6 199.4,92.5" fill="none" stroke="#f0b830" stroke-width="1.90" stroke-dasharray="1.4,0.5"/>
<polyline points="292.7,167.3 292.7,165.7 292.7,164.0 292.6,162.4 292.5,160.8 292.4,159.2 292.2,157.5 292.0,155.9 291.8,154.3 291.6,152.7 291.3,151.1 291.0,149.5 290.7,147.9 290.4,146.3 290.0,144.7 289.6,143.1 289.1,141.6 288.7,140.0 288.2,138.5 287.7,136.9 287.1,135.4 286.5,133.8 285.9,132.3 285.3,130.8 284.7,129.3 284.0,127.9 283.3,126.4 282.6,124.9 281.8,123.5 281.0,122.0 280.2,120.6 279.4,119.2 278.6,117.8 277.7,116.5 276.8,115.1 275.9,113.8 274.9,112.4 273.9,111.1 273.0,109.8 271.9,108.6 270.9,107.3 269.8,106.1 268.8,104.8 267.7,103.6 266.5,102.5 265.4,101.3 264.2,100.2 263.1,99.0 261.9,97.9 260.6,96.9 259.4,95.8 258.1,94.8 256.9,93.7 255.6,92.8 254.3,91.8 252.9,90.8 251.6,89.9 250.2,89.0 248.9,88.1 247.5,87.3 246.1,86.5 244.7,85.7 243.2,84.9 241.8,84.1 240.3,83.4 238.8,82.7 237.4,82.0 235.9,81.4 234.4,80.8 232.9,80.2 231.3,79.6 229.8,79.0 228.2,78.5 226.7,78.0 225.1,77.6 223.6,77.1 222.0,76.7 220.4,76.3 218.8,76.0 217.2,75.7 215.6,75.4 214.0,75.1 212.4,74.9 210.8,74.7 209.2,74.5 207.5,74.3 205.9,74.2 204.3,74.1 202.7,74.0 201.0,74.0 199.4,74.0" fill="none" stroke="#c27dd2" stroke-width="2.00" stroke-dasharray="1.4,0.5"/>
<text x="199.4" y="176.6" font-size="8.2" text-anchor="middle" fill="#444">0</text>
<text x="220.8" y="176.6" font-size="8.2" text-anchor="middle" fill="#444">1</text>
<text x="242.1" y="176.6" font-size="8.2" text-anchor="middle" fill="#444">2</text>
<text x="263.5" y="176.6" font-size="8.2" text-anchor="middle" fill="#444">3</text>
<text x="284.8" y="176.6" font-size="8.2" text-anchor="middle" fill="#444">4</text>
<text x="306.2" y="176.6" font-size="8.2" text-anchor="middle" fill="#444">5</text>
<text x="199.0" y="57.3" font-size="7.8" text-anchor="middle" fill="#444">90°</text>
<text x="232.4" y="62.6" font-size="7.8" text-anchor="middle" fill="#444">75°</text>
<text x="259.0" y="72.5" font-size="7.8" text-anchor="middle" fill="#444">60°</text>
<text x="280.4" y="89.3" font-size="7.8" text-anchor="middle" fill="#444">45°</text>
<text x="299.3" y="112.6" font-size="7.8" text-anchor="middle" fill="#444">30°</text>
<text x="311.0" y="143.8" font-size="7.8" text-anchor="middle" fill="#444">15°</text>
<text x="312.6" y="170.2" font-size="7.8" text-anchor="middle" fill="#444">0°</text>
<rect x="291.5" y="54.4" width="33.3" height="31.6" fill="#fff" stroke="#a0a0a0" stroke-width="0.7"/>
<line x1="292.5" y1="58.7" x2="301.0" y2="58.7" stroke="#1f9bd7" stroke-width="1"/>
<circle cx="296.7" cy="58.7" r="1.1" fill="#1f9bd7"/>
<text x="302.4" y="61.1" font-size="6.7" fill="#2a2a2a">V=15%</text>
<line x1="292.5" y1="66.4" x2="301.0" y2="66.4" stroke="#f4a07e" stroke-width="1"/>
<circle cx="296.7" cy="66.4" r="1.1" fill="#f4a07e"/>
<text x="302.4" y="68.8" font-size="6.7" fill="#2a2a2a">V=20%</text>
<line x1="292.5" y1="74.2" x2="301.0" y2="74.2" stroke="#f0b830" stroke-width="1"/>
<circle cx="296.7" cy="74.2" r="1.1" fill="#f0b830"/>
<text x="302.4" y="76.6" font-size="6.7" fill="#2a2a2a">V=25%</text>
<line x1="292.5" y1="81.9" x2="301.0" y2="81.9" stroke="#c27dd2" stroke-width="1"/>
<circle cx="296.7" cy="81.9" r="1.1" fill="#c27dd2"/>
<text x="302.4" y="84.3" font-size="6.7" fill="#2a2a2a">V=30%</text>
<path d="M253.1,552.3A17.7,17.7 0 0,0 235.4,534.6" fill="none" stroke="#dcdcdc" stroke-width="0.8"/>
<path d="M270.8,552.3A35.4,35.4 0 0,0 235.4,516.9" fill="none" stroke="#dcdcdc" stroke-width="0.8"/>
<path d="M288.5,552.3A53.1,53.1 0 0,0 235.4,499.2" fill="none" stroke="#dcdcdc" stroke-width="0.8"/>
<path d="M306.2,552.3A70.8,70.8 0 0,0 235.4,481.5" fill="none" stroke="#dcdcdc" stroke-width="0.8"/>
<path d="M323.9,552.3A88.5,88.5 0 0,0 235.4,463.8" fill="none" stroke="#dcdcdc" stroke-width="0.8"/>
<line x1="235.4" y1="552.3" x2="338.0" y2="524.8" stroke="#dcdcdc" stroke-width="0.8"/>
<line x1="235.4" y1="552.3" x2="327.4" y2="499.2" stroke="#dcdcdc" stroke-width="0.8"/>
<line x1="235.4" y1="552.3" x2="310.5" y2="477.2" stroke="#dcdcdc" stroke-width="0.8"/>
<line x1="235.4" y1="552.3" x2="288.5" y2="460.3" stroke="#dcdcdc" stroke-width="0.8"/>
<line x1="235.4" y1="552.3" x2="262.9" y2="449.7" stroke="#dcdcdc" stroke-width="0.8"/>
<path d="M341.6,552.3A106.2,106.2 0 0,0 235.4,446.1" fill="none" stroke="#8a8a8a" stroke-width="0.9"/>
<line x1="235.4" y1="552.3" x2="341.6" y2="552.3" stroke="#8a8a8a" stroke-width="0.9"/>
<line x1="235.4" y1="552.3" x2="235.4" y2="446.1" stroke="#8a8a8a" stroke-width="0.9"/>
<polyline points="278.1,552.3 278.0,551.6 277.9,550.8 277.8,550.1 277.7,549.3 277.5,548.6 277.3,547.9 277.1,547.2 276.8,546.5 276.5,545.8 276.1,545.1 275.8,544.5 275.4,543.8 274.9,543.2 274.5,542.6 274.0,541.9 273.6,541.4 273.1,540.8 272.5,540.2 272.0,539.7 271.5,539.2 270.9,538.7 270.3,538.2 269.8,537.7 269.2,537.3 268.6,536.8 268.0,536.4 267.5,536.0 266.9,535.6 266.3,535.2 265.7,534.8 265.2,534.4 264.6,534.0 264.1,533.7 263.5,533.3 263.0,533.0 262.5,532.6 262.0,532.3 261.5,531.9 261.0,531.5 260.6,531.2 260.1,530.8 259.7,530.4 259.3,530.1 258.8,529.7 258.4,529.3 258.0,528.9 257.6,528.4 257.3,528.0 256.9,527.6 256.5,527.1 256.2,526.7 255.8,526.2 255.4,525.7 255.1,525.2 254.7,524.7 254.4,524.2 254.0,523.6 253.7,523.1 253.3,522.5 252.9,522.0 252.5,521.4 252.1,520.8 251.7,520.2 251.3,519.7 250.9,519.1 250.4,518.5 250.0,517.9 249.5,517.4 249.0,516.8 248.5,516.2 248.0,515.7 247.5,515.2 246.9,514.6 246.3,514.1 245.8,513.7 245.1,513.2 244.5,512.8 243.9,512.3 243.2,511.9 242.6,511.6 241.9,511.2 241.2,510.9 240.5,510.6 239.8,510.4 239.1,510.2 238.4,510.0 237.6,509.9 236.9,509.8 236.1,509.7 235.4,509.6" fill="none" stroke="#2a9fd9" stroke-width="1.70"/>
<polyline points="292.7,552.3 292.7,551.3 292.6,550.3 292.5,549.3 292.3,548.3 292.0,547.3 291.7,546.4 291.4,545.4 291.0,544.5 290.6,543.6 290.1,542.6 289.6,541.8 289.1,540.9 288.5,540.0 287.9,539.2 287.3,538.4 286.6,537.6 285.9,536.8 285.2,536.1 284.5,535.4 283.7,534.7 283.0,534.0 282.2,533.4 281.4,532.8 280.6,532.2 279.9,531.6 279.1,531.0 278.3,530.5 277.5,529.9 276.7,529.4 275.9,528.9 275.2,528.4 274.4,527.9 273.7,527.4 272.9,527.0 272.2,526.5 271.5,526.0 270.9,525.6 270.2,525.1 269.6,524.6 268.9,524.2 268.3,523.7 267.7,523.2 267.2,522.7 266.6,522.2 266.1,521.6 265.5,521.1 265.0,520.5 264.5,520.0 264.0,519.4 263.5,518.8 263.1,518.1 262.6,517.5 262.1,516.8 261.7,516.2 261.2,515.5 260.7,514.8 260.3,514.0 259.8,513.3 259.3,512.5 258.8,511.8 258.3,511.0 257.8,510.2 257.2,509.4 256.7,508.6 256.1,507.8 255.5,507.1 254.9,506.3 254.3,505.5 253.7,504.7 253.0,504.0 252.3,503.2 251.6,502.5 250.9,501.8 250.1,501.1 249.3,500.4 248.5,499.8 247.7,499.2 246.8,498.6 245.9,498.1 245.1,497.6 244.1,497.1 243.2,496.7 242.3,496.3 241.3,496.0 240.4,495.7 239.4,495.4 238.4,495.2 237.4,495.1 236.4,495.0 235.4,495.0" fill="none" stroke="#f07a4e" stroke-width="2.00"/>
<polyline points="310.4,552.3 310.4,551.0 310.4,549.7 310.2,548.4 310.1,547.1 309.9,545.8 309.6,544.5 309.3,543.2 309.0,542.0 308.6,540.7 308.2,539.5 307.7,538.2 307.2,537.0 306.7,535.8 306.1,534.7 305.5,533.5 304.9,532.4 304.2,531.3 303.5,530.2 302.8,529.1 302.1,528.0 301.3,527.0 300.5,526.0 299.8,525.0 299.0,524.0 298.1,523.0 297.3,522.1 296.5,521.2 295.6,520.3 294.8,519.4 294.0,518.5 293.1,517.6 292.3,516.8 291.4,515.9 290.6,515.1 289.7,514.3 288.9,513.5 288.0,512.6 287.2,511.8 286.4,511.0 285.5,510.2 284.7,509.4 283.9,508.6 283.1,507.8 282.3,507.0 281.5,506.2 280.7,505.4 279.9,504.6 279.1,503.8 278.3,503.0 277.5,502.2 276.7,501.3 275.9,500.5 275.1,499.7 274.2,498.8 273.4,498.0 272.6,497.1 271.8,496.3 270.9,495.4 270.1,494.6 269.2,493.7 268.3,492.9 267.4,492.1 266.5,491.2 265.6,490.4 264.7,489.6 263.7,488.7 262.7,487.9 261.7,487.2 260.7,486.4 259.7,485.6 258.6,484.9 257.5,484.2 256.4,483.5 255.3,482.8 254.2,482.2 253.0,481.6 251.9,481.0 250.7,480.5 249.5,480.0 248.2,479.5 247.0,479.1 245.7,478.7 244.5,478.4 243.2,478.1 241.9,477.8 240.6,477.6 239.3,477.5 238.0,477.3 236.7,477.3 235.4,477.3" fill="none" stroke="#f0b830" stroke-width="1.90" stroke-dasharray="1.4,0.5"/>
<polyline points="328.9,552.3 328.8,550.7 328.8,549.0 328.7,547.4 328.5,545.8 328.3,544.2 328.1,542.6 327.9,540.9 327.5,539.3 327.2,537.8 326.8,536.2 326.4,534.6 326.0,533.1 325.5,531.5 324.9,530.0 324.4,528.5 323.8,527.0 323.2,525.5 322.5,524.0 321.9,522.5 321.2,521.1 320.4,519.7 319.7,518.3 318.9,516.9 318.1,515.5 317.3,514.1 316.4,512.8 315.6,511.4 314.7,510.1 313.8,508.8 312.9,507.6 312.0,506.3 311.0,505.0 310.1,503.8 309.1,502.6 308.1,501.4 307.1,500.2 306.1,499.0 305.1,497.8 304.1,496.7 303.0,495.5 302.0,494.4 300.9,493.3 299.9,492.2 298.8,491.1 297.7,490.0 296.6,488.9 295.5,487.8 294.4,486.8 293.3,485.7 292.2,484.7 291.0,483.6 289.9,482.6 288.7,481.6 287.5,480.6 286.3,479.6 285.1,478.6 283.9,477.6 282.7,476.7 281.4,475.7 280.1,474.8 278.9,473.9 277.6,473.0 276.3,472.1 274.9,471.3 273.6,470.4 272.2,469.6 270.8,468.8 269.4,468.0 268.0,467.3 266.6,466.5 265.2,465.8 263.7,465.2 262.2,464.5 260.7,463.9 259.2,463.3 257.7,462.8 256.2,462.2 254.6,461.7 253.1,461.3 251.5,460.9 249.9,460.5 248.4,460.2 246.8,459.8 245.1,459.6 243.5,459.4 241.9,459.2 240.3,459.0 238.7,458.9 237.0,458.9 235.4,458.8" fill="none" stroke="#c27dd2" stroke-width="2.00" stroke-dasharray="1.4,0.5"/>
<text x="235.4" y="562.4" font-size="8.2" text-anchor="middle" fill="#444">0</text>
<text x="253.1" y="562.4" font-size="8.2" text-anchor="middle" fill="#444">1</text>
<text x="270.8" y="562.4" font-size="8.2" text-anchor="middle" fill="#444">2</text>
<text x="288.5" y="562.4" font-size="8.2" text-anchor="middle" fill="#444">3</text>
<text x="306.2" y="562.4" font-size="8.2" text-anchor="middle" fill="#444">4</text>
<text x="323.9" y="562.4" font-size="8.2" text-anchor="middle" fill="#444">5</text>
<text x="341.6" y="562.4" font-size="8.2" text-anchor="middle" fill="#444">6</text>
<text x="236.0" y="442.3" font-size="7.8" text-anchor="middle" fill="#444">90°</text>
<text x="268.2" y="446.7" font-size="7.8" text-anchor="middle" fill="#444">75°</text>
<text x="295.9" y="457.5" font-size="7.8" text-anchor="middle" fill="#444">60°</text>
<text x="318.3" y="474.3" font-size="7.8" text-anchor="middle" fill="#444">45°</text>
<text x="333.7" y="497.6" font-size="7.8" text-anchor="middle" fill="#444">30°</text>
<text x="345.9" y="528.2" font-size="7.8" text-anchor="middle" fill="#444">15°</text>
<text x="347.6" y="554.8" font-size="7.8" text-anchor="middle" fill="#444">0°</text>
<rect x="326.8" y="439.0" width="33.4" height="31.8" fill="#fff" stroke="#a0a0a0" stroke-width="0.7"/>
<line x1="327.8" y1="443.3" x2="336.3" y2="443.3" stroke="#2a9fd9" stroke-width="1"/>
<circle cx="332.0" cy="443.3" r="1.1" fill="#2a9fd9"/>
<text x="337.7" y="445.7" font-size="6.7" fill="#2a2a2a">V=15%</text>
<line x1="327.8" y1="451.1" x2="336.3" y2="451.1" stroke="#f07a4e" stroke-width="1"/>
<circle cx="332.0" cy="451.1" r="1.1" fill="#f07a4e"/>
<text x="337.7" y="453.5" font-size="6.7" fill="#2a2a2a">V=20%</text>
<line x1="327.8" y1="458.9" x2="336.3" y2="458.9" stroke="#f0b830" stroke-width="1"/>
<circle cx="332.0" cy="458.9" r="1.1" fill="#f0b830"/>
<text x="337.7" y="461.3" font-size="6.7" fill="#2a2a2a">V=25%</text>
<line x1="327.8" y1="466.7" x2="336.3" y2="466.7" stroke="#c27dd2" stroke-width="1"/>
<circle cx="332.0" cy="466.7" r="1.1" fill="#c27dd2"/>
<text x="337.7" y="469.1" font-size="6.7" fill="#2a2a2a">V=30%</text>
<line x1="101.5" y1="87.5" x2="199.3" y2="60.9" stroke="#333" stroke-width="1.2" stroke-dasharray="4,2.6"/>
<line x1="167.0" y1="187.2" x2="303.0" y2="177.8" stroke="#333" stroke-width="1.2" stroke-dasharray="4,2.6"/>
<line x1="110.9" y1="487.8" x2="235.0" y2="446.4" stroke="#333" stroke-width="1.2" stroke-dasharray="4,2.6"/>
<line x1="189.0" y1="577.3" x2="341.0" y2="563.5" stroke="#333" stroke-width="1.2" stroke-dasharray="4,2.6"/>
<g transform="translate(50,98) scale(0.19091)">
<path d="M25,75 C70,70 120,55 150,30 C165,35 178,55 200,82 C215,95 230,100 240,100 C250,80 270,55 295,45 C330,35 380,35 405,42 C425,50 435,70 440,88 C455,98 480,102 505,105 C512,112 510,122 490,130 C460,130 430,135 412,150 C398,170 395,200 410,228 C430,245 460,252 500,260 C502,290 492,330 490,400 C475,410 450,402 425,400 C395,410 360,430 340,462 C310,452 270,430 240,418 C200,410 150,400 100,388 C75,378 50,365 35,355 C55,340 100,330 125,305 C140,285 135,262 112,245 C90,230 55,222 30,215 C45,185 60,150 52,115 C45,95 35,85 25,75 Z" fill="url(#gy1)" stroke="#8f8f8f" stroke-width="6"/>
<path d="M120,140 C160,125 205,118 240,102 C245,140 248,200 250,262 C225,240 200,225 185,200 C170,175 150,155 120,140Z" fill="#b2b2b2" opacity="0.70"/>
<path d="M130,145 C150,180 175,200 178,232 C170,255 150,270 140,272 C135,250 120,240 112,245 C105,200 115,170 130,145Z" fill="#c6c6c6" opacity="0.80"/>
<path d="M60,340 C110,330 150,330 175,345 C200,360 230,370 250,362 C245,390 240,405 240,418 C200,410 140,400 100,388 C80,375 65,350 60,340Z" fill="#cacaca" opacity="0.80"/>
<path d="M330,330 C340,360 345,400 340,462 C360,430 395,410 425,400 C420,370 400,340 380,325 C360,320 345,322 330,330Z" fill="#b8b8b8" opacity="0.70"/>
<path d="M412,150 C440,140 470,130 490,130 C470,150 450,170 440,200 C430,215 420,225 410,228 C398,200 398,170 412,150Z" fill="#aeaeae" opacity="0.70"/>
<path d="M250,262 C280,280 310,300 330,330 C300,340 275,335 255,320 C250,300 250,280 250,262Z" fill="#b9b9b9" opacity="0.70"/>
<path d="M295,45 C300,80 290,110 270,130 C260,115 250,105 240,100 C255,75 275,55 295,45Z" fill="#bcbcbc" opacity="0.70"/>
<path d="M120,140 C160,125 205,118 240,102" fill="none" stroke="#8c8c8c" stroke-width="5" opacity="0.8"/>
<path d="M240,102 C245,140 248,200 250,262" fill="none" stroke="#8c8c8c" stroke-width="5" opacity="0.8"/>
<path d="M130,145 C150,180 175,200 178,232 C170,255 150,270 140,272" fill="none" stroke="#8c8c8c" stroke-width="5" opacity="0.8"/>
<path d="M175,345 C200,360 230,370 250,362" fill="none" stroke="#8c8c8c" stroke-width="5" opacity="0.8"/>
<path d="M330,330 C340,360 345,400 340,462" fill="none" stroke="#8c8c8c" stroke-width="5" opacity="0.8"/>
<path d="M412,150 C440,140 470,130 490,130" fill="none" stroke="#8c8c8c" stroke-width="5" opacity="0.8"/>
<path d="M250,262 C280,280 310,300 330,330" fill="none" stroke="#8c8c8c" stroke-width="5" opacity="0.8"/>
<path d="M380,325 C400,340 420,370 425,400" fill="none" stroke="#8c8c8c" stroke-width="5" opacity="0.8"/>
<path d="M440,200 C450,170 470,150 490,130" fill="none" stroke="#8c8c8c" stroke-width="5" opacity="0.8"/>
<ellipse cx="320" cy="182" rx="36" ry="40" fill="#fff" stroke="#8a8a8a" stroke-width="7"/>
<ellipse cx="207" cy="310" rx="30" ry="33" fill="#fff" stroke="#8a8a8a" stroke-width="7"/>
<path d="M290,160 C300,145 330,140 350,155" fill="none" stroke="#707070" stroke-width="6"/>
<path d="M182,295 C190,280 215,275 232,290" fill="none" stroke="#707070" stroke-width="6"/>
<circle cx="90" cy="130" r="24" fill="url(#hl)"/>
<circle cx="350" cy="95" r="22" fill="url(#hl)"/>
<circle cx="140" cy="240" r="16" fill="url(#hl)"/>
<circle cx="160" cy="410" r="22" fill="url(#hl)"/>
<circle cx="215" cy="210" r="14" fill="url(#hl)"/>
<circle cx="300" cy="230" r="14" fill="url(#hl)"/>
<circle cx="380" cy="300" r="16" fill="url(#hl)"/>
<circle cx="370" cy="395" r="14" fill="url(#hl)"/>
<circle cx="470" cy="320" r="12" fill="url(#hl)"/>
<circle cx="330" cy="250" r="12" fill="url(#hl)"/>
<circle cx="450" cy="115" r="10" fill="url(#hl)"/>
</g>
<defs><clipPath id="dmclip"><path d="M30,175 C45,140 70,105 100,82 C115,100 130,120 150,140 C175,105 200,70 232,38 C248,52 262,70 275,85 C292,68 312,50 335,40 C352,65 370,92 392,118 C408,108 425,100 442,98 C460,115 478,132 492,150 C496,220 500,290 498,360 C480,395 458,420 432,442 C400,462 362,482 330,492 C300,502 262,504 232,496 C205,492 185,488 165,472 C125,442 92,412 62,384 C46,330 36,260 30,175 Z"/></clipPath></defs>
<g transform="translate(60,495) scale(0.17271)">
<path d="M30,175 C45,140 70,105 100,82 C115,100 130,120 150,140 C175,105 200,70 232,38 C248,52 262,70 275,85 C292,68 312,50 335,40 C352,65 370,92 392,118 C408,108 425,100 442,98 C460,115 478,132 492,150 C496,220 500,290 498,360 C480,395 458,420 432,442 C400,462 362,482 330,492 C300,502 262,504 232,496 C205,492 185,488 165,472 C125,442 92,412 62,384 C46,330 36,260 30,175 Z" fill="#d2d2d2"/>
<g clip-path="url(#dmclip)">
<path d="M0,190 C120,150 300,130 520,90 l0,70 C300,200 120,220 0,260 Z" fill="url(#dsv)" opacity="0.85"/>
<path d="M0,330 C120,290 300,270 520,230 l0,70 C300,340 120,360 0,400 Z" fill="url(#dsv)" opacity="0.85"/>
<path d="M0,460 C120,420 300,400 520,360 l0,70 C300,470 120,490 0,530 Z" fill="url(#dsv)" opacity="0.85"/>
<path d="M69,92 C51,232 137,330 119,480 L181,480 C199,330 113,232 131,92 Z" fill="url(#dsh)" opacity="0.92"/>
<path d="M201,48 C183,188 222,350 204,500 L266,500 C284,350 245,188 263,48 Z" fill="url(#dsh)" opacity="0.92"/>
<path d="M304,50 C286,190 317,345 299,495 L361,495 C379,345 348,190 366,50 Z" fill="url(#dsh)" opacity="0.92"/>
<path d="M411,108 C393,248 419,300 401,450 L463,450 C481,300 455,248 473,108 Z" fill="url(#dsh)" opacity="0.92"/>
<circle cx="70" cy="180" r="20" fill="url(#hl)"/>
<circle cx="185" cy="215" r="22" fill="url(#hl)"/>
<circle cx="295" cy="175" r="20" fill="url(#hl)"/>
<circle cx="405" cy="225" r="18" fill="url(#hl)"/>
<circle cx="115" cy="305" r="18" fill="url(#hl)"/>
<circle cx="235" cy="335" r="24" fill="url(#hl)"/>
<circle cx="355" cy="315" r="20" fill="url(#hl)"/>
<circle cx="455" cy="345" r="16" fill="url(#hl)"/>
<circle cx="185" cy="410" r="16" fill="url(#hl)"/>
<circle cx="315" cy="425" r="18" fill="url(#hl)"/>
<circle cx="260" cy="250" r="12" fill="url(#hl)"/>
<circle cx="100" cy="130" r="14" fill="url(#hl)"/>
<circle cx="232" cy="90" r="14" fill="url(#hl)"/>
<circle cx="335" cy="90" r="14" fill="url(#hl)"/>
<circle cx="442" cy="150" r="12" fill="url(#hl)"/>
</g>
<path d="M30,175 C45,140 70,105 100,82 C115,100 130,120 150,140 C175,105 200,70 232,38 C248,52 262,70 275,85 C292,68 312,50 335,40 C352,65 370,92 392,118 C408,108 425,100 442,98 C460,115 478,132 492,150 C496,220 500,290 498,360 C480,395 458,420 432,442 C400,462 362,482 330,492 C300,502 262,504 232,496 C205,492 185,488 165,472 C125,442 92,412 62,384 C46,330 36,260 30,175 Z" fill="none" stroke="#8f8f8f" stroke-width="6"/>
</g>
<line x1="97.5" y1="149.0" x2="97.5" y2="92.5" stroke="#111" stroke-width="1.15" stroke-dasharray="3.6,2.2"/>
<path d="M97.5,87.5L99.7,92.5L95.3,92.5Z" fill="#111"/>
<line x1="97.5" y1="149.0" x2="38.8" y2="183.0" stroke="#111" stroke-width="1.15" stroke-dasharray="3.6,2.2"/>
<path d="M34.5,185.5L37.7,181.1L39.9,184.9Z" fill="#111"/>
<line x1="97.5" y1="149.0" x2="164.6" y2="184.2" stroke="#111" stroke-width="1.15" stroke-dasharray="3.6,2.2"/>
<path d="M169.0,186.5L163.6,186.1L165.6,182.2Z" fill="#111"/>
<text x="100.2" y="68.0" font-size="13.0" text-anchor="middle" font-weight="bold">z</text>
<text x="98.7" y="82.5" font-size="12.2" text-anchor="middle" font-weight="bold">[001]</text>
<text x="32.3" y="156.5" font-size="12.2" text-anchor="middle" font-weight="bold">[100]</text>
<text x="31.6" y="171.5" font-size="13.0" text-anchor="middle" font-weight="bold">x</text>
<text x="164.0" y="156.5" font-size="12.2" text-anchor="middle" font-weight="bold">[010]</text>
<text x="163.6" y="170.5" font-size="13.0" text-anchor="middle" font-weight="bold">y</text>
<line x1="106.5" y1="538.0" x2="106.5" y2="487.5" stroke="#111" stroke-width="1.15" stroke-dasharray="3.6,2.2"/>
<path d="M106.5,482.5L108.7,487.5L104.3,487.5Z" fill="#111"/>
<line x1="106.5" y1="538.0" x2="40.8" y2="572.2" stroke="#111" stroke-width="1.15" stroke-dasharray="3.6,2.2"/>
<path d="M36.4,574.5L39.8,570.2L41.9,574.1Z" fill="#111"/>
<line x1="106.5" y1="538.0" x2="186.5" y2="574.9" stroke="#111" stroke-width="1.15" stroke-dasharray="3.6,2.2"/>
<path d="M191.0,577.0L185.5,576.9L187.4,572.9Z" fill="#111"/>
<text x="109.0" y="465.5" font-size="13.0" text-anchor="middle" font-weight="bold">z</text>
<text x="107.8" y="481.0" font-size="12.2" text-anchor="middle" font-weight="bold">[001]</text>
<text x="42.7" y="547.5" font-size="12.2" text-anchor="middle" font-weight="bold">[100]</text>
<text x="41.0" y="562.0" font-size="13.0" text-anchor="middle" font-weight="bold">x</text>
<text x="168.5" y="547.5" font-size="12.2" text-anchor="middle" font-weight="bold">[010]</text>
<text x="166.5" y="561.0" font-size="13.0" text-anchor="middle" font-weight="bold">y</text>
</svg>
</body></html>
